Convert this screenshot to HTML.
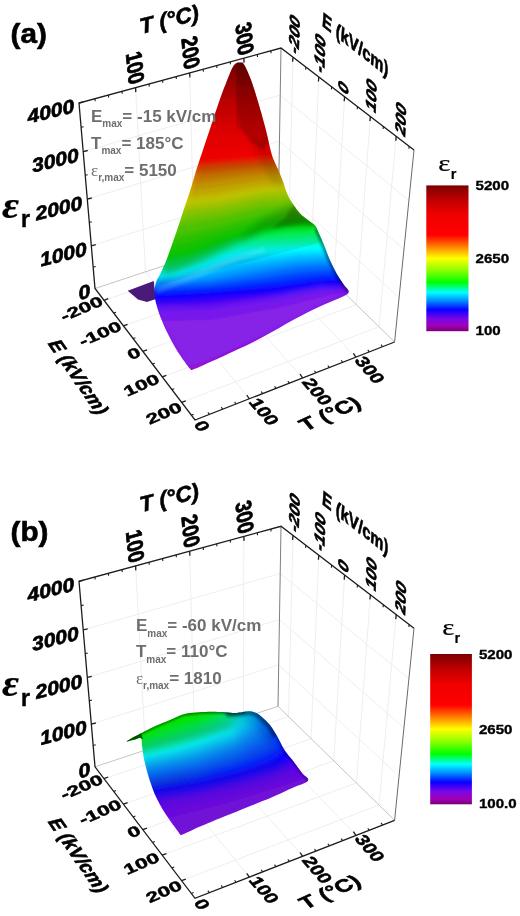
<!DOCTYPE html><html><head><meta charset="utf-8"><title>figure</title><style>html,body{margin:0;padding:0;background:#fff}svg{display:block}</style></head><body>
<svg width="520" height="916" viewBox="0 0 520 916">
<defs><filter id="blur1" x="-5%" y="-5%" width="110%" height="110%"><feGaussianBlur stdDeviation="1.0"/></filter><filter id="blur3" x="-20%" y="-20%" width="140%" height="140%"><feGaussianBlur stdDeviation="3"/></filter><filter id="blur2" x="-20%" y="-20%" width="140%" height="140%"><feGaussianBlur stdDeviation="1.8"/></filter></defs>
<rect width="100%" height="100%" fill="#fff"/>
<line x1="135.6" y1="87.6" x2="145.5" y2="271.8" stroke="#ececec" stroke-width="0.9" />
<line x1="145.5" y1="271.8" x2="249.3" y2="398.8" stroke="#ececec" stroke-width="0.9" />
<line x1="189.7" y1="72.9" x2="194.5" y2="255.6" stroke="#ececec" stroke-width="0.9" />
<line x1="194.5" y1="255.6" x2="302.6" y2="378.0" stroke="#ececec" stroke-width="0.9" />
<line x1="243.8" y1="58.1" x2="243.4" y2="239.4" stroke="#ececec" stroke-width="0.9" />
<line x1="243.4" y1="239.4" x2="355.9" y2="357.1" stroke="#ececec" stroke-width="0.9" />
<line x1="79.0" y1="103.0" x2="281.0" y2="48.0" stroke="#ececec" stroke-width="0.9" />
<line x1="281.0" y1="48.0" x2="414.0" y2="150.0" stroke="#ececec" stroke-width="0.9" />
<line x1="83.2" y1="151.6" x2="280.2" y2="95.2" stroke="#ececec" stroke-width="0.9" />
<line x1="280.2" y1="95.2" x2="408.9" y2="200.3" stroke="#ececec" stroke-width="0.9" />
<line x1="87.3" y1="199.1" x2="279.4" y2="141.2" stroke="#ececec" stroke-width="0.9" />
<line x1="279.4" y1="141.2" x2="404.0" y2="249.5" stroke="#ececec" stroke-width="0.9" />
<line x1="91.3" y1="245.8" x2="278.7" y2="186.6" stroke="#ececec" stroke-width="0.9" />
<line x1="278.7" y1="186.6" x2="399.1" y2="297.8" stroke="#ececec" stroke-width="0.9" />
<line x1="293.0" y1="57.2" x2="288.5" y2="238.3" stroke="#ececec" stroke-width="0.9" />
<line x1="288.5" y1="238.3" x2="104.0" y2="300.4" stroke="#ececec" stroke-width="0.9" />
<line x1="318.8" y1="77.0" x2="311.1" y2="260.4" stroke="#ececec" stroke-width="0.9" />
<line x1="311.1" y1="260.4" x2="123.4" y2="325.9" stroke="#ececec" stroke-width="0.9" />
<line x1="344.6" y1="96.8" x2="333.8" y2="282.5" stroke="#ececec" stroke-width="0.9" />
<line x1="333.8" y1="282.5" x2="142.8" y2="351.4" stroke="#ececec" stroke-width="0.9" />
<line x1="370.4" y1="116.6" x2="356.4" y2="304.6" stroke="#ececec" stroke-width="0.9" />
<line x1="356.4" y1="304.6" x2="162.2" y2="376.9" stroke="#ececec" stroke-width="0.9" />
<line x1="396.2" y1="136.3" x2="379.0" y2="326.7" stroke="#ececec" stroke-width="0.9" />
<line x1="379.0" y1="326.7" x2="181.6" y2="402.4" stroke="#ececec" stroke-width="0.9" />
<line x1="95.0" y1="288.5" x2="278.0" y2="228.0" stroke="#c4c4c4" stroke-width="1" />
<line x1="278.0" y1="228.0" x2="394.6" y2="342.0" stroke="#c4c4c4" stroke-width="1" />
<line x1="281.0" y1="48.0" x2="278.0" y2="228.0" stroke="#808080" stroke-width="1" />
<line x1="414.0" y1="150.0" x2="394.6" y2="342.0" stroke="#6a6a6a" stroke-width="1.0" />
<path d="M127.7,290.8 L153.7,281 L156,299 L147,302 L138,299.4Z" fill="#4a1a7a"/>
<clipPath id="saclip"><path d="M236.5,63l0.6-0.3l0.6-0.2l0.5-0.1l0.6,0l0.6,0.1l0.6,0.1l0.6,0l0.6-0.1l0.5-0.1l0.7,0.2l0.7,0.6l0.9,1.2l1.1,1.9l1.2,2.5l1.4,2.9l1.3,3.2l1.4,3.4l1.3,3.4l1.2,3.5l1.2,3.7l1.2,3.8l1.2,4l1.2,4l1.2,4.1l1.2,4.2l1.3,4.3l1.2,4.4l1.2,4.5l1.2,4.3l1.1,4.3l1,4.2l1,4.3l0.9,4.2l0.9,4.1l1,3.8l1,3.6l1.1,3.3l1.3,3l1.2,2.7l1.3,2.7l1.2,2.4l1,2.4l0.9,2.2l0.8,2l0.7,1.9l0.7,1.7l0.7,1.8l0.7,1.9l0.7,2l0.6,1.9l0.6,2l0.7,2l0.7,1.9l0.7,1.8l0.8,1.7l0.9,1.6l0.9,1.6l0.9,1.5l1,1.5l1,1.5l1,1.6l1.1,1.5l1.1,1.6l1.1,1.5l1.1,1.4l1.2,1.4l1.2,1.2l1.3,1.2l1.3,1.1l1.3,1l1.3,1.1l1.3,1l1.3,1l1.4,0.9l1.4,0.9l1.3,1l1.2,0.9l1.1,1.1l0.8,1.1l0.7,1.2l0.6,1.2l0.5,1.3l0.6,1.3l0.6,1.5l0.7,1.6l0.8,1.6l0.8,1.7l0.8,1.8l0.8,2l0.9,2.1l0.9,2.3l1,2.5l1,2.7l1,2.7l1.1,2.7l1.1,2.7l1.2,2.7l1.3,2.7l1.3,2.7l1.4,2.7l1.3,2.5l1.3,2.3l1.2,2.1l1.3,1.9l1.2,1.8l1.1,1.7l1.1,1.5l1,1.4l1,1.3l1,1.1l0.9,1l0.7,0.9l0.5,0.8l0.2,0.9l-0.1,0.8l-0.2,0.7l-0.4,0.6l-0.8,0.7l-1.3,0.8l-1.9,1l-2.6,1.3l-3.4,1.4l-3.8,1.6l-4.1,1.7l-4.1,1.7l-4,1.8l-3.8,1.8l-3.6,1.7l-3.8,1.8l-3.9,1.9l-4.3,2.3l-4.9,2.5l-5.6,3.1l-6.3,3.5l-6.7,3.8l-6.8,3.8l-6.4,3.6l-5.9,3.2l-5.3,2.7l-4.9,2.5l-4.7,2.2l-4.5,2.1l-4.3,2l-4.3,2l-4.2,2l-4.1,1.9l-3.9,1.8l-3.8,1.7l-3.6,1.6l-3.4,1.5l-3.2,1.5l-3.1,1.4l-3,1.3l-2.6,1.2l-2.3,0.9l-1.8,0.7l-1.2,0.4l-0.6,0.2l-0.2,0l-0.1-0.2l-0.2-0.4l-0.4-0.5l-0.7-0.7l-0.7-0.8l-0.8-1l-0.9-1.2l-1.1-1.4l-1.1-1.6l-1.3-1.8l-1.5-2.1l-1.5-2.3l-1.6-2.4l-1.7-2.5l-1.6-2.7l-1.6-2.8l-1.7-3l-1.7-3.2l-1.7-3.2l-1.6-3.2l-1.5-3.1l-1.4-3.1l-1.4-3.2l-1.3-3.1l-1.3-3.2l-1.1-3l-1-2.9l-0.9-2.8l-0.8-2.7l-0.7-2.6l-0.6-2.5l-0.4-2.5l-0.3-2.4l-0.1-2.4l-0.1-2.2l0.2-2.3l0.2-2.1l0.4-2.1l0.4-1.9l0.6-1.7l0.6-1.6l0.8-1.4l0.9-1.5l0.9-1.5l0.9-1.8l0.9-2l1-2.1l1-2.3l1.1-2.3l1-2.4l1-2.4l0.9-2.4l1-2.5l0.8-2.6l0.9-2.6l1-2.6l0.9-2.7l1-2.8l1-2.8l1-2.9l1-2.9l1-2.9l1-3l1-3l1-3.1l1-3l1-3.1l1-3.2l1-3.1l1.1-3.1l1-3.2l1.1-3.1l1.1-3.2l1.1-3.3l1.1-3.3l1.1-3.4l1-3.6l1.1-3.7l1-3.6l1.1-3.5l1-3.3l1-3l0.9-2.8l0.9-2.6l0.9-2.8l1-2.9l1.1-3.4l1.3-3.8l1.4-4.2l1.5-4.5l1.5-4.5l1.5-4.6l1.5-4.4l1.5-4.4l1.4-4.5l1.5-4.5l1.5-4.4l1.4-4.2l1.4-4l1.4-3.8l1.3-3.6l1.3-3.5l1.3-3.2l1.2-3.1l1.1-2.8l1-2.6l1-2.3l0.8-2.1l0.9-1.9l0.7-1.7l0.8-1.4l0.7-1.2l0.7-0.9l0.6-0.6l0.5-0.5l0.6-0.4Z"/></clipPath>
<g clip-path="url(#saclip)"><g filter="url(#blur1)">
<rect x="145" y="55" width="210" height="325" fill="#8905d2"/>
<path d="M145,55l2,0l2,0l2,0l2,0l2,0l2,0l2,0l2,0l2,0l2,0l2,0l2,0l2,0l2,0l2,0l2,0l2,0l2,0l2,0l2,0l2,0l2,0l2,0l2,0l2,0l2,0l2,0l2,0l2,0l2,0l2,0l2,0l2,0l2,0l2,0l2,0l2,0l2,0l2,0l2,0l2,0l2,0l2,0l2,0l2,0l2,0l2,0l2,0l2,0l2,0l2,0l2,0l2,0l2,0l2,0l2,0l2,0l2,0l2,0l2,0l2,0l2,0l2,0l2,0l2,0l2,0l2,0l2,0l2,0l2,0l2,0l2,0l2,0l2,0l2,0l2,0l2,0l2,0l2,0l2,0l2,0l2,0l2,0l2,0l2,0l2,0l2,0l2,0l2,0l2,0l2,0l2,0l2,0l2,0l2,0l2,0l2,0l2,0l2,0l2,0l2,0l2,0l2,0l2,0l2,0l0,2l0,2l0,2l0,2l0,2l0,2l0,2l0,2l0,2l0,2l0,2l0,2l0,2l0,2l0,2l0,2l0,2l0,2l0,2l0,2l0,2l0,2l0,2l0,2l0,2l0,2l0,2l0,2l0,2l0,2l0,2l0,2l0,2l0,2l0,2l0,2l0,2l0,2l0,2l0,2l0,2l0,2l0,2l0,2l0,2l0,2l0,2l0,2l0,2l0,2l0,2l0,2l0,2l0,2l0,2l0,2l0,2l0,2l0,2l0,2l0,2l0,2l0,2l0,2l0,2l0,2l0,2l0,2l0,2l0,2l0,2l0,2l0,2l0,2l0,2l0,2l0,2l0,2l0,2l0,2l0,2l0,2l0,2l0,2l0,2l0,2l0,2l0,2l0,2l0,2l0,2l0,2l0,2l0,2l0,2l0,2l0,2l0,2l0,2l0,2l0,2l0,2l0,2l0,2l0,2l0,2l0,2l0,2l0,2l0,2l0,2l0,2l0,2l0,2l0,2l0,2l0,2l0,2l0,2l0,2l0,2l-1,1.1l-1.9-0.1l-2.1,0.1l-2,0.5l-2,0.7l-1.9,0.7l-2.1,0.8l-2,0.7l-2,0.8l-1.6,0.7l-1.4,0.6l-2,0.9l-2,0.8l-1.7,0.7l-2.2,1l-2.1,0.9l-2,0.8l-2,0.9l-2,0.9l-2,0.9l-1.6,0.6l-1.4,0.6l-2,0.9l-2,0.9l-2,0.9l-1.5,0.7l-1.5,0.7l-2,0.9l-2,0.9l-2,0.8l-1.5,0.7l-1.5,0.7l-2,1l-2,1l-2,1l-2,1l-2,0.9l-2,0.9l-2,1l-2,0.9l-2,0.9l-1.6,0.7l-1.4,0.7l-2,0.9l-2,1l-2,1l-2,1l-2,0.9l-2,1l-2,0.9l-2,0.9l-1.6,0.7l-2.3,1l-2.1,1l-2,0.9l-2,0.9l-2,0.9l-2,0.9l-2,0.8l-1.5,0.6l-1.5,0.6l-2,0.9l-2,0.9l-2,0.9l-1.5,0.7l-1.5,0.7l-2,0.9l-2,0.9l-2,0.8l-1.7,0.7l-2.3,1l-2,0.9l-2,0.8l-2,0.8l-2,0.8l-1.5,0.7l-1.5,0.7l-2,0.8l-1.7,0.5l-2.3,0.7l-2,0.5l-2,0.6l-2,0.6l-2,0.6l-2,0.5l-1.6,0.5l-2.4,0.7l-2,0.5l-2,0.6l-2,0.5l-2,0.6l-2,0.8l-2,0.9l-2,1l-2,1l-2,1.1l-2,1l-2,1.1l-2,1.1l-1.9,1.1l-1.5,1l-1.1,1l-1.5,1l-2,0l-2,0l-2,0l-2,0l-2,0l-2,0l-2,0l-1-1l0-2l0-2l0-2l0-2l0-2l0-2l0-2l0-2l0-2l0-2l0-2l0-2l0-2l0-2l0-2l0-2l0-2l0-2l0-2l0-2l0-2l0-2l0-2l0-2l0-2l0-2l0-2l0-2l0-2l0-2l0-2l0-2l0-2l0-2l0-2l0-2l0-2l0-2l0-2l0-2l0-2l0-2l0-2l0-2l0-2l0-2l0-2l0-2l0-2l0-2l0-2l0-2l0-2l0-2l0-2l0-2l0-2l0-2l0-2l0-2l0-2l0-2l0-2l0-2l0-2l0-2l0-2l0-2l0-2l0-2l0-2l0-2l0-2l0-2l0-2l0-2l0-2l0-2l0-2l0-2l0-2l0-2l0-2l0-2l0-2l0-2l0-2l0-2l0-2l0-2l0-2l0-2l0-2l0-2l0-2l0-2l0-2l0-2l0-2l0-2l0-2l0-2l0-2l0-2l0-2l0-2l0-2l0-2l0-2l0-2l0-2l0-2l0-2l0-2l0-2l0-2l0-2l0-2l0-2l0-2l0-2l0-2l0-2l0-2l0-2l0-2l0-2l0-2l0-2l0-2l0-2l0-2l0-2l0-2l0-2l0-2l0-2l0-2l0-2l0-2l0-2l0-2l0-2l0-2l0-2l0-2l0-2l0-2l0-2l0-2l0-2l0-2l0-2l0-2l0-2l0-2l0-2l0-2l0-2l0-2l0-2l0-2Z" fill="#7b07e5"/>
<path d="M145,55l2,0l2,0l2,0l2,0l2,0l2,0l2,0l2,0l2,0l2,0l2,0l2,0l2,0l2,0l2,0l2,0l2,0l2,0l2,0l2,0l2,0l2,0l2,0l2,0l2,0l2,0l2,0l2,0l2,0l2,0l2,0l2,0l2,0l2,0l2,0l2,0l2,0l2,0l2,0l2,0l2,0l2,0l2,0l2,0l2,0l2,0l2,0l2,0l2,0l2,0l2,0l2,0l2,0l2,0l2,0l2,0l2,0l2,0l2,0l2,0l2,0l2,0l2,0l2,0l2,0l2,0l2,0l2,0l2,0l2,0l2,0l2,0l2,0l2,0l2,0l2,0l2,0l2,0l2,0l2,0l2,0l2,0l2,0l2,0l2,0l2,0l2,0l2,0l2,0l2,0l2,0l2,0l2,0l2,0l2,0l2,0l2,0l2,0l2,0l2,0l2,0l2,0l2,0l2,0l2,0l0,2l0,2l0,2l0,2l0,2l0,2l0,2l0,2l0,2l0,2l0,2l0,2l0,2l0,2l0,2l0,2l0,2l0,2l0,2l0,2l0,2l0,2l0,2l0,2l0,2l0,2l0,2l0,2l0,2l0,2l0,2l0,2l0,2l0,2l0,2l0,2l0,2l0,2l0,2l0,2l0,2l0,2l0,2l0,2l0,2l0,2l0,2l0,2l0,2l0,2l0,2l0,2l0,2l0,2l0,2l0,2l0,2l0,2l0,2l0,2l0,2l0,2l0,2l0,2l0,2l0,2l0,2l0,2l0,2l0,2l0,2l0,2l0,2l0,2l0,2l0,2l0,2l0,2l0,2l0,2l0,2l0,2l0,2l0,2l0,2l0,2l0,2l0,2l0,2l0,2l0,2l0,2l0,2l0,2l0,2l0,2l0,2l0,2l0,2l0,2l0,2l0,2l0,2l0,2l0,2l0,2l0,2l0,2l0,2l0,2l0,2l0,2l0,2l0,2l0,2l0,2l0,2l-1,1.6l-1.7,0.4l-2.3,0.6l-2,0.4l-2,0.4l-2,0.3l-2,0.4l-2,0.3l-2,0.4l-2,0.3l-2,0.3l-2,0.4l-2,0.3l-2,0.4l-2,0.5l-2,0.4l-2,0.5l-2,0.5l-2,0.4l-2,0.5l-2,0.5l-2,0.5l-2,0.5l-2,0.5l-2,0.4l-2,0.5l-2,0.5l-2,0.5l-2,0.5l-2,0.5l-2,0.5l-2,0.5l-2,0.5l-2,0.5l-2,0.5l-2,0.4l-2,0.5l-2,0.5l-2,0.5l-2,0.4l-2,0.3l-2,0.4l-1.9,0.3l-2.1,0.4l-2,0.3l-2,0.4l-2,0.3l-2,0.4l-2,0.3l-2,0.3l-2,0.4l-2,0.3l-2,0.4l-2,0.3l-2,0.4l-2,0.3l-2,0.4l-2,0.4l-2,0.3l-2,0.4l-2,0.4l-2,0.3l-2,0.4l-2,0.4l-2,0.4l-2,0.3l-2,0.4l-2,0.4l-2,0.3l-2,0.4l-2,0.4l-2,0.3l-2,0.3l-2,0.2l-2,0l-2,0l-2,0.1l-2,0l-2,0l-2,0l-2,0l-2,0l-2,0.1l-2,0l-2,0l-2,0.1l-2,0l-2,0l-2,0l-2,0.1l-2,0l-2,0l-2,0l-2,0.1l-2,0l-2,0l-2,0.1l-2,0.1l-2,0.2l-2,0.4l-2,0.6l-2,0.7l-2,0.7l-2,0.6l-2,0.5l-1-1.3l0-2l0-2l0-2l0-2l0-2l0-2l0-2l0-2l0-2l0-2l0-2l0-2l0-2l0-2l0-2l0-2l0-2l0-2l0-2l0-2l0-2l0-2l0-2l0-2l0-2l0-2l0-2l0-2l0-2l0-2l0-2l0-2l0-2l0-2l0-2l0-2l0-2l0-2l0-2l0-2l0-2l0-2l0-2l0-2l0-2l0-2l0-2l0-2l0-2l0-2l0-2l0-2l0-2l0-2l0-2l0-2l0-2l0-2l0-2l0-2l0-2l0-2l0-2l0-2l0-2l0-2l0-2l0-2l0-2l0-2l0-2l0-2l0-2l0-2l0-2l0-2l0-2l0-2l0-2l0-2l0-2l0-2l0-2l0-2l0-2l0-2l0-2l0-2l0-2l0-2l0-2l0-2l0-2l0-2l0-2l0-2l0-2l0-2l0-2l0-2l0-2l0-2l0-2l0-2l0-2l0-2l0-2l0-2l0-2l0-2l0-2l0-2l0-2l0-2l0-2l0-2l0-2l0-2l0-2l0-2l0-2l0-2l0-2l0-2l0-2l0-2l0-2l0-2l0-2l0-2l0-2l0-2l0-2l0-2Z" fill="#6b06eb"/>
<path d="M145,55l2,0l2,0l2,0l2,0l2,0l2,0l2,0l2,0l2,0l2,0l2,0l2,0l2,0l2,0l2,0l2,0l2,0l2,0l2,0l2,0l2,0l2,0l2,0l2,0l2,0l2,0l2,0l2,0l2,0l2,0l2,0l2,0l2,0l2,0l2,0l2,0l2,0l2,0l2,0l2,0l2,0l2,0l2,0l2,0l2,0l2,0l2,0l2,0l2,0l2,0l2,0l2,0l2,0l2,0l2,0l2,0l2,0l2,0l2,0l2,0l2,0l2,0l2,0l2,0l2,0l2,0l2,0l2,0l2,0l2,0l2,0l2,0l2,0l2,0l2,0l2,0l2,0l2,0l2,0l2,0l2,0l2,0l2,0l2,0l2,0l2,0l2,0l2,0l2,0l2,0l2,0l2,0l2,0l2,0l2,0l2,0l2,0l2,0l2,0l2,0l2,0l2,0l2,0l2,0l2,0l0,2l0,2l0,2l0,2l0,2l0,2l0,2l0,2l0,2l0,2l0,2l0,2l0,2l0,2l0,2l0,2l0,2l0,2l0,2l0,2l0,2l0,2l0,2l0,2l0,2l0,2l0,2l0,2l0,2l0,2l0,2l0,2l0,2l0,2l0,2l0,2l0,2l0,2l0,2l0,2l0,2l0,2l0,2l0,2l0,2l0,2l0,2l0,2l0,2l0,2l0,2l0,2l0,2l0,2l0,2l0,2l0,2l0,2l0,2l0,2l0,2l0,2l0,2l0,2l0,2l0,2l0,2l0,2l0,2l0,2l0,2l0,2l0,2l0,2l0,2l0,2l0,2l0,2l0,2l0,2l0,2l0,2l0,2l0,2l0,2l0,2l0,2l0,2l0,2l0,2l0,2l0,2l0,2l0,2l0,2l0,2l0,2l0,2l0,2l0,2l0,2l0,2l0,2l0,2l0,2l0,2l0,2l0,2l0,2l0,2l0,2l0,2l0,2l0,2l0,2l-1,1.5l-2,0.9l-2,1l-1.7,0.6l-2.3,0.5l-2,0.3l-2,0.3l-2,0.2l-2,0.3l-2,0.2l-2,0.3l-2,0.2l-2,0.3l-2,0.2l-2,0.3l-2,0.3l-2,0.3l-1.8,0.3l-2.2,0.4l-2,0.4l-2,0.3l-2,0.4l-2,0.3l-2,0.4l-2,0.4l-2,0.3l-2,0.4l-2,0.3l-1.9,0.4l-2.1,0.4l-2,0.4l-2,0.4l-2,0.4l-2,0.4l-2,0.4l-2,0.3l-2,0.4l-2,0.4l-2,0.4l-2,0.3l-2,0.2l-2,0.3l-2,0.2l-2,0.2l-2,0.3l-2,0.2l-2,0.2l-2,0.3l-2,0.2l-2,0.2l-2,0.3l-2,0.2l-2,0.2l-2,0.3l-2,0.2l-2,0.2l-2,0.3l-2,0.3l-2,0.2l-2,0.3l-2,0.3l-2,0.2l-2,0.3l-2,0.3l-2,0.2l-2,0.3l-2,0.3l-2,0.2l-2,0.3l-2,0.3l-2,0.3l-2,0.2l-2,0.3l-2,0.2l-2,0.1l-2,0.1l-2,0.1l-2,0.1l-2,0l-2,0.1l-2,0.2l-2,0.1l-2,0.1l-2,0.1l-2,0.1l-2,0.1l-2,0.1l-2,0.1l-2,0.1l-2,0.1l-2,0.1l-2,0.1l-2,0.1l-2,0.1l-2,0.2l-2,0.1l-2,0.1l-2,0.1l-2,0.1l-2,0.3l-2,0.3l-2,0.6l-2,0.7l-2,0.7l-2,0.5l-1-1.4l0-2l0-2l0-2l0-2l0-2l0-2l0-2l0-2l0-2l0-2l0-2l0-2l0-2l0-2l0-2l0-2l0-2l0-2l0-2l0-2l0-2l0-2l0-2l0-2l0-2l0-2l0-2l0-2l0-2l0-2l0-2l0-2l0-2l0-2l0-2l0-2l0-2l0-2l0-2l0-2l0-2l0-2l0-2l0-2l0-2l0-2l0-2l0-2l0-2l0-2l0-2l0-2l0-2l0-2l0-2l0-2l0-2l0-2l0-2l0-2l0-2l0-2l0-2l0-2l0-2l0-2l0-2l0-2l0-2l0-2l0-2l0-2l0-2l0-2l0-2l0-2l0-2l0-2l0-2l0-2l0-2l0-2l0-2l0-2l0-2l0-2l0-2l0-2l0-2l0-2l0-2l0-2l0-2l0-2l0-2l0-2l0-2l0-2l0-2l0-2l0-2l0-2l0-2l0-2l0-2l0-2l0-2l0-2l0-2l0-2l0-2l0-2l0-2l0-2l0-2l0-2l0-2l0-2l0-2l0-2l0-2l0-2l0-2l0-2l0-2l0-2l0-2l0-2l0-2Z" fill="#5a03ef"/>
<path d="M145,55l2,0l2,0l2,0l2,0l2,0l2,0l2,0l2,0l2,0l2,0l2,0l2,0l2,0l2,0l2,0l2,0l2,0l2,0l2,0l2,0l2,0l2,0l2,0l2,0l2,0l2,0l2,0l2,0l2,0l2,0l2,0l2,0l2,0l2,0l2,0l2,0l2,0l2,0l2,0l2,0l2,0l2,0l2,0l2,0l2,0l2,0l2,0l2,0l2,0l2,0l2,0l2,0l2,0l2,0l2,0l2,0l2,0l2,0l2,0l2,0l2,0l2,0l2,0l2,0l2,0l2,0l2,0l2,0l2,0l2,0l2,0l2,0l2,0l2,0l2,0l2,0l2,0l2,0l2,0l2,0l2,0l2,0l2,0l2,0l2,0l2,0l2,0l2,0l2,0l2,0l2,0l2,0l2,0l2,0l2,0l2,0l2,0l2,0l2,0l2,0l2,0l2,0l2,0l2,0l2,0l0,2l0,2l0,2l0,2l0,2l0,2l0,2l0,2l0,2l0,2l0,2l0,2l0,2l0,2l0,2l0,2l0,2l0,2l0,2l0,2l0,2l0,2l0,2l0,2l0,2l0,2l0,2l0,2l0,2l0,2l0,2l0,2l0,2l0,2l0,2l0,2l0,2l0,2l0,2l0,2l0,2l0,2l0,2l0,2l0,2l0,2l0,2l0,2l0,2l0,2l0,2l0,2l0,2l0,2l0,2l0,2l0,2l0,2l0,2l0,2l0,2l0,2l0,2l0,2l0,2l0,2l0,2l0,2l0,2l0,2l0,2l0,2l0,2l0,2l0,2l0,2l0,2l0,2l0,2l0,2l0,2l0,2l0,2l0,2l0,2l0,2l0,2l0,2l0,2l0,2l0,2l0,2l0,2l0,2l0,2l0,2l0,2l0,2l0,2l0,2l0,2l0,2l0,2l0,2l0,2l0,2l0,2l0,2l0,2l0,2l0,2l0,2l0,2l-0.3,2l-1.7,0.5l-2,1.2l-2,1.3l-2,0.9l-2,0.5l-2,0.3l-2,0.2l-2,0.2l-2,0.3l-2,0.2l-2,0.2l-2,0.2l-2,0.2l-2,0.2l-2,0.2l-2,0.2l-2,0.3l-2,0.2l-2,0.3l-2,0.3l-2,0.4l-2,0.3l-2,0.3l-2,0.3l-2,0.3l-2,0.3l-2,0.3l-2,0.3l-2,0.4l-2,0.3l-2,0.3l-2,0.4l-2,0.3l-2,0.4l-2,0.3l-2,0.3l-2,0.4l-2,0.3l-2,0.3l-2,0.2l-2,0.2l-2,0.2l-2,0.2l-2,0.2l-2,0.1l-2,0.2l-2,0.2l-2,0.2l-2,0.2l-2,0.2l-2,0.2l-2,0.2l-2,0.1l-2,0.2l-2,0.2l-2,0.2l-2,0.2l-2,0.2l-2,0.2l-2,0.3l-2,0.2l-2,0.2l-2,0.2l-1.9,0.2l-2.1,0.2l-2,0.3l-2,0.2l-2,0.2l-2,0.2l-2,0.2l-2,0.2l-2,0.2l-2,0.2l-2,0.1l-2,0.2l-2,0.1l-2,0.2l-2,0.1l-2,0.1l-2,0.1l-2,0.2l-2,0.1l-2,0.2l-2,0.1l-2,0.1l-2,0.2l-2,0.1l-2,0.1l-2,0.1l-2,0.2l-2,0.1l-2,0.1l-2,0.2l-2,0.1l-2,0.1l-2,0.2l-2,0.1l-2,0.1l-2,0.2l-2,0.1l-2,0.2l-2,0.1l-2,0.2l-2,0.2l-2,0.1l0-2.3l0-2l0-2l0-2l0-2l0-2l0-2l0-2l0-2l0-2l0-2l0-2l0-2l0-2l0-2l0-2l0-2l0-2l0-2l0-2l0-2l0-2l0-2l0-2l0-2l0-2l0-2l0-2l0-2l0-2l0-2l0-2l0-2l0-2l0-2l0-2l0-2l0-2l0-2l0-2l0-2l0-2l0-2l0-2l0-2l0-2l0-2l0-2l0-2l0-2l0-2l0-2l0-2l0-2l0-2l0-2l0-2l0-2l0-2l0-2l0-2l0-2l0-2l0-2l0-2l0-2l0-2l0-2l0-2l0-2l0-2l0-2l0-2l0-2l0-2l0-2l0-2l0-2l0-2l0-2l0-2l0-2l0-2l0-2l0-2l0-2l0-2l0-2l0-2l0-2l0-2l0-2l0-2l0-2l0-2l0-2l0-2l0-2l0-2l0-2l0-2l0-2l0-2l0-2l0-2l0-2l0-2l0-2l0-2l0-2l0-2l0-2l0-2l0-2l0-2l0-2l0-2l0-2l0-2l0-2l0-2l0-2l0-2l0-2l0-2l0-2Z" fill="#4d01f3"/>
<path d="M145,55l2,0l2,0l2,0l2,0l2,0l2,0l2,0l2,0l2,0l2,0l2,0l2,0l2,0l2,0l2,0l2,0l2,0l2,0l2,0l2,0l2,0l2,0l2,0l2,0l2,0l2,0l2,0l2,0l2,0l2,0l2,0l2,0l2,0l2,0l2,0l2,0l2,0l2,0l2,0l2,0l2,0l2,0l2,0l2,0l2,0l2,0l2,0l2,0l2,0l2,0l2,0l2,0l2,0l2,0l2,0l2,0l2,0l2,0l2,0l2,0l2,0l2,0l2,0l2,0l2,0l2,0l2,0l2,0l2,0l2,0l2,0l2,0l2,0l2,0l2,0l2,0l2,0l2,0l2,0l2,0l2,0l2,0l2,0l2,0l2,0l2,0l2,0l2,0l2,0l2,0l2,0l2,0l2,0l2,0l2,0l2,0l2,0l2,0l2,0l2,0l2,0l2,0l2,0l2,0l2,0l0,2l0,2l0,2l0,2l0,2l0,2l0,2l0,2l0,2l0,2l0,2l0,2l0,2l0,2l0,2l0,2l0,2l0,2l0,2l0,2l0,2l0,2l0,2l0,2l0,2l0,2l0,2l0,2l0,2l0,2l0,2l0,2l0,2l0,2l0,2l0,2l0,2l0,2l0,2l0,2l0,2l0,2l0,2l0,2l0,2l0,2l0,2l0,2l0,2l0,2l0,2l0,2l0,2l0,2l0,2l0,2l0,2l0,2l0,2l0,2l0,2l0,2l0,2l0,2l0,2l0,2l0,2l0,2l0,2l0,2l0,2l0,2l0,2l0,2l0,2l0,2l0,2l0,2l0,2l0,2l0,2l0,2l0,2l0,2l0,2l0,2l0,2l0,2l0,2l0,2l0,2l0,2l0,2l0,2l0,2l0,2l0,2l0,2l0,2l0,2l0,2l0,2l0,2l0,2l0,2l0,2l0,2l0,2l0,2l0,2l0,2l0,2l0,2l-2,0.9l-2,1.1l-1.3,1l-1.3,1l-1.4,0.7l-2,0.7l-2,0.3l-2,0.2l-2,0.2l-2,0.2l-2,0.2l-2,0.2l-2,0.2l-2,0.2l-2,0.2l-2,0.2l-2,0.2l-2,0.2l-2,0.3l-2,0.3l-2,0.3l-2,0.3l-2,0.3l-2,0.3l-2,0.3l-2,0.3l-2,0.3l-2,0.3l-2,0.3l-2,0.3l-2,0.4l-2,0.3l-2,0.3l-2,0.3l-2,0.4l-2,0.3l-2,0.3l-2,0.3l-2,0.3l-2,0.3l-2,0.2l-2,0.2l-2,0.2l-2,0.2l-2,0.2l-2,0.2l-2,0.1l-2,0.2l-2,0.2l-2,0.2l-2,0.2l-2,0.1l-2,0.2l-2,0.2l-2,0.2l-2,0.2l-2,0.2l-2,0.2l-2,0.2l-2,0.2l-2,0.2l-2,0.2l-2,0.2l-2,0.2l-2,0.2l-2,0.2l-2,0.2l-2,0.2l-2,0.2l-2,0.2l-2,0.2l-2,0.2l-2,0.2l-2,0.2l-2,0.1l-2,0.2l-2,0.1l-2,0.1l-2,0.2l-2,0.1l-2,0.1l-2,0.2l-2,0.1l-2,0.1l-2,0.2l-2,0.1l-2,0.1l-2,0.2l-2,0.1l-2,0.1l-2,0.2l-2,0.1l-2,0.1l-2,0.1l-2,0.2l-2,0.1l-2,0.1l-2,0.2l-2,0.1l-2,0.1l-2,0.2l-2,0.1l-2,0.2l-2,0.2l-2,0.2l-2,0.1l0-2.7l0-2l0-2l0-2l0-2l0-2l0-2l0-2l0-2l0-2l0-2l0-2l0-2l0-2l0-2l0-2l0-2l0-2l0-2l0-2l0-2l0-2l0-2l0-2l0-2l0-2l0-2l0-2l0-2l0-2l0-2l0-2l0-2l0-2l0-2l0-2l0-2l0-2l0-2l0-2l0-2l0-2l0-2l0-2l0-2l0-2l0-2l0-2l0-2l0-2l0-2l0-2l0-2l0-2l0-2l0-2l0-2l0-2l0-2l0-2l0-2l0-2l0-2l0-2l0-2l0-2l0-2l0-2l0-2l0-2l0-2l0-2l0-2l0-2l0-2l0-2l0-2l0-2l0-2l0-2l0-2l0-2l0-2l0-2l0-2l0-2l0-2l0-2l0-2l0-2l0-2l0-2l0-2l0-2l0-2l0-2l0-2l0-2l0-2l0-2l0-2l0-2l0-2l0-2l0-2l0-2l0-2l0-2l0-2l0-2l0-2l0-2l0-2l0-2l0-2l0-2l0-2l0-2l0-2l0-2l0-2l0-2l0-2l0-2l0-2Z" fill="#4500f5"/>
<path d="M145,55l2,0l2,0l2,0l2,0l2,0l2,0l2,0l2,0l2,0l2,0l2,0l2,0l2,0l2,0l2,0l2,0l2,0l2,0l2,0l2,0l2,0l2,0l2,0l2,0l2,0l2,0l2,0l2,0l2,0l2,0l2,0l2,0l2,0l2,0l2,0l2,0l2,0l2,0l2,0l2,0l2,0l2,0l2,0l2,0l2,0l2,0l2,0l2,0l2,0l2,0l2,0l2,0l2,0l2,0l2,0l2,0l2,0l2,0l2,0l2,0l2,0l2,0l2,0l2,0l2,0l2,0l2,0l2,0l2,0l2,0l2,0l2,0l2,0l2,0l2,0l2,0l2,0l2,0l2,0l2,0l2,0l2,0l2,0l2,0l2,0l2,0l2,0l2,0l2,0l2,0l2,0l2,0l2,0l2,0l2,0l2,0l2,0l2,0l2,0l2,0l2,0l2,0l2,0l2,0l2,0l0,2l0,2l0,2l0,2l0,2l0,2l0,2l0,2l0,2l0,2l0,2l0,2l0,2l0,2l0,2l0,2l0,2l0,2l0,2l0,2l0,2l0,2l0,2l0,2l0,2l0,2l0,2l0,2l0,2l0,2l0,2l0,2l0,2l0,2l0,2l0,2l0,2l0,2l0,2l0,2l0,2l0,2l0,2l0,2l0,2l0,2l0,2l0,2l0,2l0,2l0,2l0,2l0,2l0,2l0,2l0,2l0,2l0,2l0,2l0,2l0,2l0,2l0,2l0,2l0,2l0,2l0,2l0,2l0,2l0,2l0,2l0,2l0,2l0,2l0,2l0,2l0,2l0,2l0,2l0,2l0,2l0,2l0,2l0,2l0,2l0,2l0,2l0,2l0,2l0,2l0,2l0,2l0,2l0,2l0,2l0,2l0,2l0,2l0,2l0,2l0,2l0,2l0,2l0,2l0,2l0,2l0,2l0,2l0,2l0,2l0,2l0,2l-1,1.2l-2,0.7l-1.8,1.1l-1.2,1l-1.2,1l-1.8,1l-2,0.5l-2,0.3l-2,0.2l-2,0.2l-2,0.2l-2,0.2l-2,0.2l-2,0.2l-2,0.2l-2,0.2l-2,0.2l-2,0.2l-2,0.2l-2,0.3l-2,0.3l-2,0.2l-2,0.4l-2,0.3l-2,0.3l-2,0.3l-2,0.3l-2,0.3l-2,0.3l-2,0.3l-2,0.3l-2,0.3l-2,0.3l-2,0.3l-2,0.3l-2,0.4l-2,0.3l-2,0.3l-2,0.3l-2,0.3l-2,0.2l-2,0.2l-2,0.2l-2,0.2l-2,0.2l-2,0.2l-2,0.1l-2,0.2l-2,0.2l-2,0.2l-2,0.1l-2,0.2l-2,0.2l-2,0.2l-2,0.1l-2,0.2l-2,0.2l-2,0.2l-2,0.2l-2,0.2l-2,0.2l-2,0.2l-2,0.2l-2,0.2l-2,0.2l-2,0.2l-2,0.2l-2,0.2l-2,0.2l-2,0.2l-2,0.2l-2,0.2l-2,0.1l-2,0.2l-2,0.2l-2,0.1l-2,0.1l-2,0.2l-2,0.1l-2,0.1l-2,0.1l-2,0.2l-2,0.1l-2,0.1l-2,0.2l-2,0.1l-2,0.1l-2,0.2l-2,0.1l-2,0.1l-2,0.1l-2,0.2l-2,0.1l-2,0.1l-2,0.1l-2,0.2l-2,0.1l-2,0.1l-2,0.1l-2,0.2l-2,0.1l-2,0.2l-2,0.2l-2,0.2l-2,0.3l-2,0.1l-1-1.3l0-2l0-2l0-2l0-2l0-2l0-2l0-2l0-2l0-2l0-2l0-2l0-2l0-2l0-2l0-2l0-2l0-2l0-2l0-2l0-2l0-2l0-2l0-2l0-2l0-2l0-2l0-2l0-2l0-2l0-2l0-2l0-2l0-2l0-2l0-2l0-2l0-2l0-2l0-2l0-2l0-2l0-2l0-2l0-2l0-2l0-2l0-2l0-2l0-2l0-2l0-2l0-2l0-2l0-2l0-2l0-2l0-2l0-2l0-2l0-2l0-2l0-2l0-2l0-2l0-2l0-2l0-2l0-2l0-2l0-2l0-2l0-2l0-2l0-2l0-2l0-2l0-2l0-2l0-2l0-2l0-2l0-2l0-2l0-2l0-2l0-2l0-2l0-2l0-2l0-2l0-2l0-2l0-2l0-2l0-2l0-2l0-2l0-2l0-2l0-2l0-2l0-2l0-2l0-2l0-2l0-2l0-2l0-2l0-2l0-2l0-2l0-2l0-2l0-2l0-2l0-2l0-2l0-2l0-2l0-2l0-2l0-2l0-2l0-2Z" fill="#3500f7"/>
<path d="M145,55l2,0l2,0l2,0l2,0l2,0l2,0l2,0l2,0l2,0l2,0l2,0l2,0l2,0l2,0l2,0l2,0l2,0l2,0l2,0l2,0l2,0l2,0l2,0l2,0l2,0l2,0l2,0l2,0l2,0l2,0l2,0l2,0l2,0l2,0l2,0l2,0l2,0l2,0l2,0l2,0l2,0l2,0l2,0l2,0l2,0l2,0l2,0l2,0l2,0l2,0l2,0l2,0l2,0l2,0l2,0l2,0l2,0l2,0l2,0l2,0l2,0l2,0l2,0l2,0l2,0l2,0l2,0l2,0l2,0l2,0l2,0l2,0l2,0l2,0l2,0l2,0l2,0l2,0l2,0l2,0l2,0l2,0l2,0l2,0l2,0l2,0l2,0l2,0l2,0l2,0l2,0l2,0l2,0l2,0l2,0l2,0l2,0l2,0l2,0l2,0l2,0l2,0l2,0l2,0l2,0l0,2l0,2l0,2l0,2l0,2l0,2l0,2l0,2l0,2l0,2l0,2l0,2l0,2l0,2l0,2l0,2l0,2l0,2l0,2l0,2l0,2l0,2l0,2l0,2l0,2l0,2l0,2l0,2l0,2l0,2l0,2l0,2l0,2l0,2l0,2l0,2l0,2l0,2l0,2l0,2l0,2l0,2l0,2l0,2l0,2l0,2l0,2l0,2l0,2l0,2l0,2l0,2l0,2l0,2l0,2l0,2l0,2l0,2l0,2l0,2l0,2l0,2l0,2l0,2l0,2l0,2l0,2l0,2l0,2l0,2l0,2l0,2l0,2l0,2l0,2l0,2l0,2l0,2l0,2l0,2l0,2l0,2l0,2l0,2l0,2l0,2l0,2l0,2l0,2l0,2l0,2l0,2l0,2l0,2l0,2l0,2l0,2l0,2l0,2l0,2l0,2l0,2l0,2l0,2l0,2l0,2l0,2l0,2l0,2l0,2l0,2l-2,0.6l-2,0.8l-2,1.2l-1.4,1.4l-1.1,1l-1.4,1l-2.1,0.7l-2,0.3l-2,0.2l-2,0.2l-2,0.1l-2,0.2l-2,0.2l-2,0.2l-2,0.2l-2,0.1l-2,0.2l-2,0.2l-2,0.3l-2,0.2l-2,0.3l-2,0.3l-2,0.3l-2,0.3l-2,0.3l-2,0.3l-2,0.3l-2,0.3l-1.8,0.3l-2.2,0.3l-2,0.3l-2,0.3l-2,0.3l-2,0.3l-2,0.3l-2,0.3l-2,0.3l-2,0.3l-2,0.3l-2,0.3l-2,0.2l-2,0.2l-2,0.1l-2,0.2l-2,0.2l-2,0.1l-2,0.2l-2,0.2l-2,0.2l-2,0.1l-2,0.2l-2,0.2l-2,0.1l-2,0.2l-2,0.2l-2,0.1l-2,0.2l-2,0.2l-2,0.2l-2,0.2l-2,0.1l-2,0.2l-2,0.2l-2,0.2l-2,0.2l-2,0.1l-1.9,0.2l-2.1,0.2l-2,0.2l-2,0.2l-2,0.1l-2,0.2l-2,0.2l-2,0.1l-2,0.2l-2,0.1l-2,0.1l-2,0.1l-2,0.1l-2,0.2l-2,0.1l-2,0.1l-2,0.1l-2,0.2l-2,0.1l-2,0.1l-2,0.1l-2,0.1l-2,0.2l-2,0.1l-2,0.1l-2,0.1l-2,0.1l-2,0.2l-2,0.1l-2,0.1l-1.9,0.1l-2.1,0.1l-2,0.1l-2,0.2l-2,0.1l-2,0.2l-2,0.2l-2,0.3l-2,0.2l-2,0.1l0-2.5l0-2l0-2l0-2l0-2l0-2l0-2l0-2l0-2l0-2l0-2l0-2l0-2l0-2l0-2l0-2l0-2l0-2l0-2l0-2l0-2l0-2l0-2l0-2l0-2l0-2l0-2l0-2l0-2l0-2l0-2l0-2l0-2l0-2l0-2l0-2l0-2l0-2l0-2l0-2l0-2l0-2l0-2l0-2l0-2l0-2l0-2l0-2l0-2l0-2l0-2l0-2l0-2l0-2l0-2l0-2l0-2l0-2l0-2l0-2l0-2l0-2l0-2l0-2l0-2l0-2l0-2l0-2l0-2l0-2l0-2l0-2l0-2l0-2l0-2l0-2l0-2l0-2l0-2l0-2l0-2l0-2l0-2l0-2l0-2l0-2l0-2l0-2l0-2l0-2l0-2l0-2l0-2l0-2l0-2l0-2l0-2l0-2l0-2l0-2l0-2l0-2l0-2l0-2l0-2l0-2l0-2l0-2l0-2l0-2l0-2l0-2l0-2l0-2l0-2l0-2l0-2l0-2l0-2l0-2l0-2l0-2l0-2Z" fill="#2200fb"/>
<path d="M145,55l2,0l2,0l2,0l2,0l2,0l2,0l2,0l2,0l2,0l2,0l2,0l2,0l2,0l2,0l2,0l2,0l2,0l2,0l2,0l2,0l2,0l2,0l2,0l2,0l2,0l2,0l2,0l2,0l2,0l2,0l2,0l2,0l2,0l2,0l2,0l2,0l2,0l2,0l2,0l2,0l2,0l2,0l2,0l2,0l2,0l2,0l2,0l2,0l2,0l2,0l2,0l2,0l2,0l2,0l2,0l2,0l2,0l2,0l2,0l2,0l2,0l2,0l2,0l2,0l2,0l2,0l2,0l2,0l2,0l2,0l2,0l2,0l2,0l2,0l2,0l2,0l2,0l2,0l2,0l2,0l2,0l2,0l2,0l2,0l2,0l2,0l2,0l2,0l2,0l2,0l2,0l2,0l2,0l2,0l2,0l2,0l2,0l2,0l2,0l2,0l2,0l2,0l2,0l2,0l2,0l0,2l0,2l0,2l0,2l0,2l0,2l0,2l0,2l0,2l0,2l0,2l0,2l0,2l0,2l0,2l0,2l0,2l0,2l0,2l0,2l0,2l0,2l0,2l0,2l0,2l0,2l0,2l0,2l0,2l0,2l0,2l0,2l0,2l0,2l0,2l0,2l0,2l0,2l0,2l0,2l0,2l0,2l0,2l0,2l0,2l0,2l0,2l0,2l0,2l0,2l0,2l0,2l0,2l0,2l0,2l0,2l0,2l0,2l0,2l0,2l0,2l0,2l0,2l0,2l0,2l0,2l0,2l0,2l0,2l0,2l0,2l0,2l0,2l0,2l0,2l0,2l0,2l0,2l0,2l0,2l0,2l0,2l0,2l0,2l0,2l0,2l0,2l0,2l0,2l0,2l0,2l0,2l0,2l0,2l0,2l0,2l0,2l0,2l0,2l0,2l0,2l0,2l0,2l0,2l0,2l0,2l0,2l0,2l0,2l-1,1.3l-2,0.6l-2,0.9l-1.8,1.2l-1.2,1.2l-1,1.2l-1,1.1l-2,1.2l-2,0.5l-2,0.2l-2,0.2l-2,0.1l-2,0.2l-2,0.2l-2,0.2l-2,0.1l-2,0.2l-2,0.2l-2,0.2l-2,0.2l-2,0.3l-2,0.3l-2,0.3l-2,0.3l-2,0.3l-2,0.3l-2,0.2l-2,0.3l-2,0.3l-2,0.3l-2,0.3l-2,0.3l-2,0.3l-2,0.3l-2,0.3l-2,0.2l-2,0.3l-2,0.3l-2,0.3l-2,0.3l-2,0.2l-2,0.2l-2,0.2l-2,0.2l-2,0.1l-2,0.2l-2,0.2l-2,0.1l-2,0.2l-2,0.2l-2,0.1l-2,0.2l-2,0.2l-2,0.1l-2,0.2l-2,0.2l-2,0.1l-2,0.2l-2,0.2l-2,0.1l-2,0.2l-2,0.2l-2,0.1l-2,0.2l-2,0.2l-2,0.1l-2,0.2l-2,0.2l-2,0.1l-2,0.2l-2,0.2l-2,0.1l-2,0.2l-2,0.2l-2,0.1l-2,0.1l-2,0.1l-2,0.2l-2,0.1l-2,0.1l-2,0.1l-2,0.1l-2,0.1l-2,0.1l-2,0.2l-2,0.1l-2,0.1l-2,0.1l-2,0.1l-2,0.1l-2,0.1l-2,0.1l-2,0.1l-2,0.2l-2,0.1l-2,0.1l-2,0.1l-2,0.1l-2,0.1l-2,0.1l-2,0.1l-2,0.2l-2,0.1l-2,0.2l-2,0.3l-2,0.2l-2,0.2l0-3l0-2l0-2l0-2l0-2l0-2l0-2l0-2l0-2l0-2l0-2l0-2l0-2l0-2l0-2l0-2l0-2l0-2l0-2l0-2l0-2l0-2l0-2l0-2l0-2l0-2l0-2l0-2l0-2l0-2l0-2l0-2l0-2l0-2l0-2l0-2l0-2l0-2l0-2l0-2l0-2l0-2l0-2l0-2l0-2l0-2l0-2l0-2l0-2l0-2l0-2l0-2l0-2l0-2l0-2l0-2l0-2l0-2l0-2l0-2l0-2l0-2l0-2l0-2l0-2l0-2l0-2l0-2l0-2l0-2l0-2l0-2l0-2l0-2l0-2l0-2l0-2l0-2l0-2l0-2l0-2l0-2l0-2l0-2l0-2l0-2l0-2l0-2l0-2l0-2l0-2l0-2l0-2l0-2l0-2l0-2l0-2l0-2l0-2l0-2l0-2l0-2l0-2l0-2l0-2l0-2l0-2l0-2l0-2l0-2l0-2l0-2l0-2l0-2l0-2l0-2l0-2l0-2l0-2l0-2l0-2l0-2Z" fill="#0d00fe"/>
<path d="M145,55l2,0l2,0l2,0l2,0l2,0l2,0l2,0l2,0l2,0l2,0l2,0l2,0l2,0l2,0l2,0l2,0l2,0l2,0l2,0l2,0l2,0l2,0l2,0l2,0l2,0l2,0l2,0l2,0l2,0l2,0l2,0l2,0l2,0l2,0l2,0l2,0l2,0l2,0l2,0l2,0l2,0l2,0l2,0l2,0l2,0l2,0l2,0l2,0l2,0l2,0l2,0l2,0l2,0l2,0l2,0l2,0l2,0l2,0l2,0l2,0l2,0l2,0l2,0l2,0l2,0l2,0l2,0l2,0l2,0l2,0l2,0l2,0l2,0l2,0l2,0l2,0l2,0l2,0l2,0l2,0l2,0l2,0l2,0l2,0l2,0l2,0l2,0l2,0l2,0l2,0l2,0l2,0l2,0l2,0l2,0l2,0l2,0l2,0l2,0l2,0l2,0l2,0l2,0l2,0l2,0l0,2l0,2l0,2l0,2l0,2l0,2l0,2l0,2l0,2l0,2l0,2l0,2l0,2l0,2l0,2l0,2l0,2l0,2l0,2l0,2l0,2l0,2l0,2l0,2l0,2l0,2l0,2l0,2l0,2l0,2l0,2l0,2l0,2l0,2l0,2l0,2l0,2l0,2l0,2l0,2l0,2l0,2l0,2l0,2l0,2l0,2l0,2l0,2l0,2l0,2l0,2l0,2l0,2l0,2l0,2l0,2l0,2l0,2l0,2l0,2l0,2l0,2l0,2l0,2l0,2l0,2l0,2l0,2l0,2l0,2l0,2l0,2l0,2l0,2l0,2l0,2l0,2l0,2l0,2l0,2l0,2l0,2l0,2l0,2l0,2l0,2l0,2l0,2l0,2l0,2l0,2l0,2l0,2l0,2l0,2l0,2l0,2l0,2l0,2l0,2l0,2l0,2l0,2l0,2l0,2l0,2l0,2l-1.9,1l-2.1,0.9l-2,1l-1.7,1.1l-1,1l-1.3,1.8l-1,1.6l-1,1.1l-2,1l-2,0.4l-2,0.2l-2,0.1l-2,0.2l-2,0.2l-2,0.1l-2,0.2l-2,0.1l-2,0.2l-2,0.2l-2,0.2l-2,0.3l-2,0.3l-2,0.2l-2,0.3l-1.8,0.3l-2.2,0.3l-2,0.3l-2,0.3l-2,0.3l-2,0.3l-2,0.2l-1.9,0.3l-2.1,0.3l-2,0.3l-2,0.2l-2,0.3l-2,0.3l-2,0.2l-2,0.3l-2,0.3l-2,0.2l-2,0.2l-2,0.2l-2,0.2l-2,0.2l-2,0.1l-2,0.2l-2,0.2l-2,0.1l-2,0.2l-2,0.2l-2,0.2l-2,0.1l-2,0.2l-2,0.2l-2,0.1l-2,0.2l-2,0.2l-2,0.1l-2,0.2l-2,0.2l-2,0.1l-2,0.2l-2,0.2l-2,0.1l-2,0.2l-2,0.1l-1.9,0.2l-2.1,0.2l-2,0.1l-2,0.2l-2,0.2l-2,0.1l-2,0.2l-2,0.1l-2,0.1l-2,0.1l-2,0.1l-2,0.1l-2,0.2l-2,0.1l-2,0.1l-2,0.1l-2,0.1l-2,0.1l-2,0.1l-2,0.1l-2,0.1l-2,0.1l-2,0.1l-2,0.1l-2,0.2l-2,0.1l-2,0.1l-2,0.1l-2,0.1l-2,0.1l-2,0.1l-2,0.1l-2,0.1l-2,0.1l-2,0.1l-2,0.2l-2,0.1l-2,0.2l-2,0.2l-2,0.1l0-2.8l0-2l0-2l0-2l0-2l0-2l0-2l0-2l0-2l0-2l0-2l0-2l0-2l0-2l0-2l0-2l0-2l0-2l0-2l0-2l0-2l0-2l0-2l0-2l0-2l0-2l0-2l0-2l0-2l0-2l0-2l0-2l0-2l0-2l0-2l0-2l0-2l0-2l0-2l0-2l0-2l0-2l0-2l0-2l0-2l0-2l0-2l0-2l0-2l0-2l0-2l0-2l0-2l0-2l0-2l0-2l0-2l0-2l0-2l0-2l0-2l0-2l0-2l0-2l0-2l0-2l0-2l0-2l0-2l0-2l0-2l0-2l0-2l0-2l0-2l0-2l0-2l0-2l0-2l0-2l0-2l0-2l0-2l0-2l0-2l0-2l0-2l0-2l0-2l0-2l0-2l0-2l0-2l0-2l0-2l0-2l0-2l0-2l0-2l0-2l0-2l0-2l0-2l0-2l0-2l0-2l0-2l0-2l0-2l0-2l0-2l0-2l0-2l0-2l0-2l0-2l0-2l0-2l0-2l0-2Z" fill="#0712ff"/>
<path d="M145,55l2,0l2,0l2,0l2,0l2,0l2,0l2,0l2,0l2,0l2,0l2,0l2,0l2,0l2,0l2,0l2,0l2,0l2,0l2,0l2,0l2,0l2,0l2,0l2,0l2,0l2,0l2,0l2,0l2,0l2,0l2,0l2,0l2,0l2,0l2,0l2,0l2,0l2,0l2,0l2,0l2,0l2,0l2,0l2,0l2,0l2,0l2,0l2,0l2,0l2,0l2,0l2,0l2,0l2,0l2,0l2,0l2,0l2,0l2,0l2,0l2,0l2,0l2,0l2,0l2,0l2,0l2,0l2,0l2,0l2,0l2,0l2,0l2,0l2,0l2,0l2,0l2,0l2,0l2,0l2,0l2,0l2,0l2,0l2,0l2,0l2,0l2,0l2,0l2,0l2,0l2,0l2,0l2,0l2,0l2,0l2,0l2,0l2,0l2,0l2,0l2,0l2,0l2,0l2,0l2,0l0,2l0,2l0,2l0,2l0,2l0,2l0,2l0,2l0,2l0,2l0,2l0,2l0,2l0,2l0,2l0,2l0,2l0,2l0,2l0,2l0,2l0,2l0,2l0,2l0,2l0,2l0,2l0,2l0,2l0,2l0,2l0,2l0,2l0,2l0,2l0,2l0,2l0,2l0,2l0,2l0,2l0,2l0,2l0,2l0,2l0,2l0,2l0,2l0,2l0,2l0,2l0,2l0,2l0,2l0,2l0,2l0,2l0,2l0,2l0,2l0,2l0,2l0,2l0,2l0,2l0,2l0,2l0,2l0,2l0,2l0,2l0,2l0,2l0,2l0,2l0,2l0,2l0,2l0,2l0,2l0,2l0,2l0,2l0,2l0,2l0,2l0,2l0,2l0,2l0,2l0,2l0,2l0,2l0,2l0,2l0,2l0,2l0,2l0,2l0,2l0,2l0,2l0,2l0,2l0,2l-1,1.5l-1.7,0.5l-2.3,1l-2,0.9l-1.8,1.1l-1.1,1l-1.1,1.5l-0.9,1.5l-1.1,1.6l-2,1.4l-2,0.4l-2,0.2l-2,0.1l-2,0.2l-2,0.2l-2,0.1l-2,0.1l-2,0.2l-2,0.1l-2,0.2l-2,0.3l-2,0.2l-2,0.3l-2,0.2l-2,0.3l-2,0.2l-2,0.3l-2,0.3l-2,0.2l-2,0.3l-2,0.3l-2,0.3l-2,0.3l-2,0.2l-2,0.3l-2,0.3l-2,0.2l-2,0.3l-2,0.3l-2,0.2l-2,0.3l-2,0.2l-2,0.3l-2,0.2l-2,0.1l-2,0.2l-2,0.2l-2,0.2l-2,0.2l-2,0.2l-2,0.2l-2,0.2l-2,0.2l-2,0.2l-2,0.2l-2,0.2l-2,0.2l-2,0.1l-2,0.2l-2,0.2l-2,0.2l-2,0.2l-2,0.1l-2,0.2l-2,0.2l-2,0.2l-2,0.2l-2,0.1l-2,0.2l-2,0.2l-2,0.2l-2,0.2l-2,0.1l-2,0.2l-2,0.1l-2,0.2l-2,0.1l-2,0.1l-2,0.1l-2,0.1l-2,0.1l-2,0.1l-2,0.1l-2,0.1l-2,0.2l-2,0.1l-2,0.1l-2,0.1l-2,0.1l-2,0.1l-2,0.1l-2,0.1l-2,0.1l-2,0.1l-2,0.1l-2,0.2l-2,0.1l-2,0.1l-2,0.1l-2,0.1l-2,0.1l-2,0.1l-2,0.1l-2,0.1l-2,0.1l-2,0.1l-2,0l-1-1.1l0-2l0-2l0-2l0-2l0-2l0-2l0-2l0-2l0-2l0-2l0-2l0-2l0-2l0-2l0-2l0-2l0-2l0-2l0-2l0-2l0-2l0-2l0-2l0-2l0-2l0-2l0-2l0-2l0-2l0-2l0-2l0-2l0-2l0-2l0-2l0-2l0-2l0-2l0-2l0-2l0-2l0-2l0-2l0-2l0-2l0-2l0-2l0-2l0-2l0-2l0-2l0-2l0-2l0-2l0-2l0-2l0-2l0-2l0-2l0-2l0-2l0-2l0-2l0-2l0-2l0-2l0-2l0-2l0-2l0-2l0-2l0-2l0-2l0-2l0-2l0-2l0-2l0-2l0-2l0-2l0-2l0-2l0-2l0-2l0-2l0-2l0-2l0-2l0-2l0-2l0-2l0-2l0-2l0-2l0-2l0-2l0-2l0-2l0-2l0-2l0-2l0-2l0-2l0-2l0-2l0-2l0-2l0-2l0-2l0-2l0-2l0-2l0-2l0-2l0-2l0-2l0-2l0-2l0-2Z" fill="#0629ff"/>
<path d="M145,55l2,0l2,0l2,0l2,0l2,0l2,0l2,0l2,0l2,0l2,0l2,0l2,0l2,0l2,0l2,0l2,0l2,0l2,0l2,0l2,0l2,0l2,0l2,0l2,0l2,0l2,0l2,0l2,0l2,0l2,0l2,0l2,0l2,0l2,0l2,0l2,0l2,0l2,0l2,0l2,0l2,0l2,0l2,0l2,0l2,0l2,0l2,0l2,0l2,0l2,0l2,0l2,0l2,0l2,0l2,0l2,0l2,0l2,0l2,0l2,0l2,0l2,0l2,0l2,0l2,0l2,0l2,0l2,0l2,0l2,0l2,0l2,0l2,0l2,0l2,0l2,0l2,0l2,0l2,0l2,0l2,0l2,0l2,0l2,0l2,0l2,0l2,0l2,0l2,0l2,0l2,0l2,0l2,0l2,0l2,0l2,0l2,0l2,0l2,0l2,0l2,0l2,0l2,0l2,0l2,0l0,2l0,2l0,2l0,2l0,2l0,2l0,2l0,2l0,2l0,2l0,2l0,2l0,2l0,2l0,2l0,2l0,2l0,2l0,2l0,2l0,2l0,2l0,2l0,2l0,2l0,2l0,2l0,2l0,2l0,2l0,2l0,2l0,2l0,2l0,2l0,2l0,2l0,2l0,2l0,2l0,2l0,2l0,2l0,2l0,2l0,2l0,2l0,2l0,2l0,2l0,2l0,2l0,2l0,2l0,2l0,2l0,2l0,2l0,2l0,2l0,2l0,2l0,2l0,2l0,2l0,2l0,2l0,2l0,2l0,2l0,2l0,2l0,2l0,2l0,2l0,2l0,2l0,2l0,2l0,2l0,2l0,2l0,2l0,2l0,2l0,2l0,2l0,2l0,2l0,2l0,2l0,2l0,2l0,2l0,2l0,2l0,2l0,2l0,2l0,2l0,2l0,2l0,2l0,2l-1,1l-2,0.6l-2,0.7l-1.7,0.7l-2.2,1l-1.8,1l-1.1,1l-1.2,1.7l-0.8,1.3l-1.2,1.3l-1.3,0.7l-1.7,0.4l-2,0.2l-2,0.1l-2,0.2l-2,0.1l-2,0.1l-2,0.2l-2,0.1l-2,0.2l-2,0.1l-2,0.2l-2,0.3l-2,0.2l-2,0.2l-2,0.2l-2,0.2l-2,0.3l-2,0.2l-2,0.3l-2,0.2l-2,0.3l-2,0.3l-2,0.3l-2,0.3l-2,0.2l-2,0.3l-2,0.3l-2,0.3l-2,0.2l-2,0.3l-2,0.3l-2,0.2l-2,0.3l-2,0.2l-2,0.2l-2,0.3l-2,0.2l-2,0.2l-2,0.3l-2,0.2l-2,0.2l-2,0.2l-2,0.3l-2,0.2l-2,0.2l-2,0.3l-2,0.2l-2,0.2l-2,0.2l-2,0.2l-2,0.2l-2,0.2l-2,0.2l-2,0.2l-2,0.3l-2,0.2l-2,0.2l-2,0.2l-2,0.2l-2,0.2l-2,0.2l-2,0.2l-2,0.2l-2,0.2l-2,0.1l-2,0.2l-2,0.1l-2,0.1l-2,0.1l-2,0.1l-2,0.1l-2,0.2l-2,0.1l-2,0.1l-2,0.1l-2,0.1l-2,0.1l-2,0.1l-2,0.1l-2,0.2l-2,0.1l-2,0.1l-2,0.1l-2,0.1l-2,0.1l-2,0.1l-2,0.1l-2,0.2l-2,0.1l-2,0.1l-2,0.1l-2,0.1l-2,0.1l-2,0.1l-2,0l-2,0l-2,0l0-2.7l0-2l0-2l0-2l0-2l0-2l0-2l0-2l0-2l0-2l0-2l0-2l0-2l0-2l0-2l0-2l0-2l0-2l0-2l0-2l0-2l0-2l0-2l0-2l0-2l0-2l0-2l0-2l0-2l0-2l0-2l0-2l0-2l0-2l0-2l0-2l0-2l0-2l0-2l0-2l0-2l0-2l0-2l0-2l0-2l0-2l0-2l0-2l0-2l0-2l0-2l0-2l0-2l0-2l0-2l0-2l0-2l0-2l0-2l0-2l0-2l0-2l0-2l0-2l0-2l0-2l0-2l0-2l0-2l0-2l0-2l0-2l0-2l0-2l0-2l0-2l0-2l0-2l0-2l0-2l0-2l0-2l0-2l0-2l0-2l0-2l0-2l0-2l0-2l0-2l0-2l0-2l0-2l0-2l0-2l0-2l0-2l0-2l0-2l0-2l0-2l0-2l0-2l0-2l0-2l0-2l0-2l0-2l0-2l0-2l0-2l0-2l0-2l0-2l0-2l0-2l0-2l0-2Z" fill="#0440ff"/>
<path d="M145,55l2,0l2,0l2,0l2,0l2,0l2,0l2,0l2,0l2,0l2,0l2,0l2,0l2,0l2,0l2,0l2,0l2,0l2,0l2,0l2,0l2,0l2,0l2,0l2,0l2,0l2,0l2,0l2,0l2,0l2,0l2,0l2,0l2,0l2,0l2,0l2,0l2,0l2,0l2,0l2,0l2,0l2,0l2,0l2,0l2,0l2,0l2,0l2,0l2,0l2,0l2,0l2,0l2,0l2,0l2,0l2,0l2,0l2,0l2,0l2,0l2,0l2,0l2,0l2,0l2,0l2,0l2,0l2,0l2,0l2,0l2,0l2,0l2,0l2,0l2,0l2,0l2,0l2,0l2,0l2,0l2,0l2,0l2,0l2,0l2,0l2,0l2,0l2,0l2,0l2,0l2,0l2,0l2,0l2,0l2,0l2,0l2,0l2,0l2,0l2,0l2,0l2,0l2,0l2,0l2,0l0,2l0,2l0,2l0,2l0,2l0,2l0,2l0,2l0,2l0,2l0,2l0,2l0,2l0,2l0,2l0,2l0,2l0,2l0,2l0,2l0,2l0,2l0,2l0,2l0,2l0,2l0,2l0,2l0,2l0,2l0,2l0,2l0,2l0,2l0,2l0,2l0,2l0,2l0,2l0,2l0,2l0,2l0,2l0,2l0,2l0,2l0,2l0,2l0,2l0,2l0,2l0,2l0,2l0,2l0,2l0,2l0,2l0,2l0,2l0,2l0,2l0,2l0,2l0,2l0,2l0,2l0,2l0,2l0,2l0,2l0,2l0,2l0,2l0,2l0,2l0,2l0,2l0,2l0,2l0,2l0,2l0,2l0,2l0,2l0,2l0,2l0,2l0,2l0,2l0,2l0,2l0,2l0,2l0,2l0,2l0,2l0,2l0,2l0,2l0,2l0,2l0,2l0,2l-2,1l-2,0.6l-2,0.8l-1.5,0.6l-1.5,0.6l-2,0.8l-2,1.3l-1,1l-1,1.2l-1,1.1l-2,1l-2,0.3l-2,0.2l-2,0.1l-2,0.2l-2,0.1l-2,0.1l-2,0.1l-2,0.1l-2,0.2l-2,0.2l-2,0.2l-2,0.1l-2,0.2l-2,0.2l-2,0.2l-2,0.2l-2,0.1l-2,0.3l-2,0.3l-2,0.2l-2,0.3l-2,0.3l-2,0.3l-2,0.3l-2,0.3l-2,0.2l-2,0.3l-2,0.3l-2,0.3l-2,0.3l-2,0.3l-2,0.3l-2,0.2l-2,0.3l-2,0.3l-2,0.2l-2,0.3l-2,0.3l-2,0.2l-2,0.3l-2,0.3l-2,0.2l-2,0.3l-2,0.3l-2,0.2l-2,0.3l-2,0.2l-2,0.3l-2,0.2l-2,0.3l-1.9,0.2l-2.1,0.2l-2,0.3l-2,0.2l-2,0.3l-2,0.2l-2,0.3l-2,0.2l-2,0.3l-2,0.2l-2,0.2l-2,0.3l-2,0.2l-2,0.1l-2,0.2l-2,0.1l-2,0.1l-2,0.1l-2,0.1l-2,0.2l-2,0.1l-1.9,0.1l-2.1,0.1l-2,0.1l-2,0.2l-2,0.1l-2,0.1l-2,0.1l-2,0.1l-2,0.2l-2,0.1l-2,0.1l-2,0.1l-2,0.1l-2,0.2l-2,0.1l-2,0.1l-2,0.1l-2,0.1l-2,0.1l-2,0.2l-2,0.1l-2,0l-2,0.1l-2,0l-2,0l0-2.5l0-2l0-2l0-2l0-2l0-2l0-2l0-2l0-2l0-2l0-2l0-2l0-2l0-2l0-2l0-2l0-2l0-2l0-2l0-2l0-2l0-2l0-2l0-2l0-2l0-2l0-2l0-2l0-2l0-2l0-2l0-2l0-2l0-2l0-2l0-2l0-2l0-2l0-2l0-2l0-2l0-2l0-2l0-2l0-2l0-2l0-2l0-2l0-2l0-2l0-2l0-2l0-2l0-2l0-2l0-2l0-2l0-2l0-2l0-2l0-2l0-2l0-2l0-2l0-2l0-2l0-2l0-2l0-2l0-2l0-2l0-2l0-2l0-2l0-2l0-2l0-2l0-2l0-2l0-2l0-2l0-2l0-2l0-2l0-2l0-2l0-2l0-2l0-2l0-2l0-2l0-2l0-2l0-2l0-2l0-2l0-2l0-2l0-2l0-2l0-2l0-2l0-2l0-2l0-2l0-2l0-2l0-2l0-2l0-2l0-2l0-2l0-2l0-2l0-2l0-2l0-2Z" fill="#0355ff"/>
<path d="M145,55l2,0l2,0l2,0l2,0l2,0l2,0l2,0l2,0l2,0l2,0l2,0l2,0l2,0l2,0l2,0l2,0l2,0l2,0l2,0l2,0l2,0l2,0l2,0l2,0l2,0l2,0l2,0l2,0l2,0l2,0l2,0l2,0l2,0l2,0l2,0l2,0l2,0l2,0l2,0l2,0l2,0l2,0l2,0l2,0l2,0l2,0l2,0l2,0l2,0l2,0l2,0l2,0l2,0l2,0l2,0l2,0l2,0l2,0l2,0l2,0l2,0l2,0l2,0l2,0l2,0l2,0l2,0l2,0l2,0l2,0l2,0l2,0l2,0l2,0l2,0l2,0l2,0l2,0l2,0l2,0l2,0l2,0l2,0l2,0l2,0l2,0l2,0l2,0l2,0l2,0l2,0l2,0l2,0l2,0l2,0l2,0l2,0l2,0l2,0l2,0l2,0l2,0l2,0l2,0l2,0l0,2l0,2l0,2l0,2l0,2l0,2l0,2l0,2l0,2l0,2l0,2l0,2l0,2l0,2l0,2l0,2l0,2l0,2l0,2l0,2l0,2l0,2l0,2l0,2l0,2l0,2l0,2l0,2l0,2l0,2l0,2l0,2l0,2l0,2l0,2l0,2l0,2l0,2l0,2l0,2l0,2l0,2l0,2l0,2l0,2l0,2l0,2l0,2l0,2l0,2l0,2l0,2l0,2l0,2l0,2l0,2l0,2l0,2l0,2l0,2l0,2l0,2l0,2l0,2l0,2l0,2l0,2l0,2l0,2l0,2l0,2l0,2l0,2l0,2l0,2l0,2l0,2l0,2l0,2l0,2l0,2l0,2l0,2l0,2l0,2l0,2l0,2l0,2l0,2l0,2l0,2l0,2l0,2l0,2l0,2l0,2l0,2l0,2l0,2l0,2l0,2l0,2l-2,0.9l-2,0.6l-2,0.8l-1.7,0.7l-2.3,0.9l-2,0.9l-2,1.2l-1.2,1l-1,1l-1.3,1l-1.5,0.6l-2,0.3l-2,0.2l-2,0.1l-2,0.1l-2,0.1l-2,0.1l-2,0.1l-2,0.2l-2,0.1l-2,0.2l-2,0.1l-2,0.2l-2,0.2l-2,0.1l-2,0.1l-2,0.2l-2,0.2l-2,0.2l-2,0.3l-2,0.3l-2,0.3l-2,0.2l-2,0.3l-2,0.3l-2,0.3l-2,0.3l-2,0.3l-2,0.3l-2,0.3l-2,0.3l-2,0.3l-2,0.3l-2,0.3l-2,0.3l-2,0.3l-2,0.3l-2,0.3l-2,0.3l-2,0.3l-2,0.3l-2,0.3l-2,0.3l-2,0.2l-2,0.3l-2,0.3l-2,0.3l-2,0.3l-2,0.3l-2,0.2l-2,0.3l-2,0.3l-2,0.2l-2,0.3l-2,0.3l-2,0.2l-2,0.3l-2,0.3l-2,0.2l-2,0.3l-2,0.3l-2,0.2l-2,0.3l-2,0.2l-2,0.2l-2,0.1l-2,0.1l-2,0.1l-2,0.2l-2,0.1l-2,0.1l-2,0.1l-2,0.2l-2,0.1l-2,0.1l-2,0.1l-2,0.2l-2,0.1l-2,0.1l-2,0.1l-2,0.2l-2,0.1l-2,0.1l-2,0.1l-2,0.2l-2,0.1l-2,0.1l-2,0.1l-2,0.2l-2,0.1l-2,0.1l-2,0.1l-2,0.1l-2,0l-2,0l-2,0l-1-1.7l0-2l0-2l0-2l0-2l0-2l0-2l0-2l0-2l0-2l0-2l0-2l0-2l0-2l0-2l0-2l0-2l0-2l0-2l0-2l0-2l0-2l0-2l0-2l0-2l0-2l0-2l0-2l0-2l0-2l0-2l0-2l0-2l0-2l0-2l0-2l0-2l0-2l0-2l0-2l0-2l0-2l0-2l0-2l0-2l0-2l0-2l0-2l0-2l0-2l0-2l0-2l0-2l0-2l0-2l0-2l0-2l0-2l0-2l0-2l0-2l0-2l0-2l0-2l0-2l0-2l0-2l0-2l0-2l0-2l0-2l0-2l0-2l0-2l0-2l0-2l0-2l0-2l0-2l0-2l0-2l0-2l0-2l0-2l0-2l0-2l0-2l0-2l0-2l0-2l0-2l0-2l0-2l0-2l0-2l0-2l0-2l0-2l0-2l0-2l0-2l0-2l0-2l0-2l0-2l0-2l0-2l0-2l0-2l0-2l0-2l0-2l0-2l0-2l0-2l0-2Z" fill="#026bff"/>
<path d="M145,55l2,0l2,0l2,0l2,0l2,0l2,0l2,0l2,0l2,0l2,0l2,0l2,0l2,0l2,0l2,0l2,0l2,0l2,0l2,0l2,0l2,0l2,0l2,0l2,0l2,0l2,0l2,0l2,0l2,0l2,0l2,0l2,0l2,0l2,0l2,0l2,0l2,0l2,0l2,0l2,0l2,0l2,0l2,0l2,0l2,0l2,0l2,0l2,0l2,0l2,0l2,0l2,0l2,0l2,0l2,0l2,0l2,0l2,0l2,0l2,0l2,0l2,0l2,0l2,0l2,0l2,0l2,0l2,0l2,0l2,0l2,0l2,0l2,0l2,0l2,0l2,0l2,0l2,0l2,0l2,0l2,0l2,0l2,0l2,0l2,0l2,0l2,0l2,0l2,0l2,0l2,0l2,0l2,0l2,0l2,0l2,0l2,0l2,0l2,0l2,0l2,0l2,0l2,0l2,0l2,0l0,2l0,2l0,2l0,2l0,2l0,2l0,2l0,2l0,2l0,2l0,2l0,2l0,2l0,2l0,2l0,2l0,2l0,2l0,2l0,2l0,2l0,2l0,2l0,2l0,2l0,2l0,2l0,2l0,2l0,2l0,2l0,2l0,2l0,2l0,2l0,2l0,2l0,2l0,2l0,2l0,2l0,2l0,2l0,2l0,2l0,2l0,2l0,2l0,2l0,2l0,2l0,2l0,2l0,2l0,2l0,2l0,2l0,2l0,2l0,2l0,2l0,2l0,2l0,2l0,2l0,2l0,2l0,2l0,2l0,2l0,2l0,2l0,2l0,2l0,2l0,2l0,2l0,2l0,2l0,2l0,2l0,2l0,2l0,2l0,2l0,2l0,2l0,2l0,2l0,2l0,2l0,2l0,2l0,2l0,2l0,2l0,2l0,2l0,2l-1,1.9l-2,0.6l-2,1l-2,0.9l-2,1l-2,1l-2,1l-2,1.1l-1.8,1.5l-1.2,1l-2,1l-2,0.3l-2,0.2l-2,0.1l-2,0.1l-2,0.1l-2,0.1l-2,0.1l-2,0.1l-2,0.1l-2,0.1l-2,0.1l-2,0.2l-2,0.1l-2,0.1l-2,0.1l-1.9,0.1l-2.1,0.2l-2,0.2l-2,0.3l-2,0.3l-2,0.3l-2,0.3l-2,0.3l-2,0.3l-2,0.2l-2,0.3l-2,0.3l-2,0.3l-2,0.4l-2,0.3l-2,0.3l-2,0.4l-2,0.3l-2,0.3l-2,0.4l-1.9,0.3l-2.1,0.3l-2,0.4l-1.9,0.3l-2.1,0.3l-2,0.4l-1.9,0.3l-2.1,0.3l-2,0.4l-2,0.3l-2,0.3l-2,0.3l-2,0.3l-2,0.3l-2,0.3l-2,0.3l-2,0.4l-2,0.3l-2,0.3l-2,0.3l-2,0.3l-2,0.3l-1.9,0.3l-2.1,0.3l-2,0.3l-2,0.3l-2,0.3l-2,0.2l-2,0.2l-2,0.1l-2,0.2l-2,0.1l-2,0.1l-2,0.2l-2,0.1l-2,0.2l-2,0.1l-2,0.2l-2,0.1l-2,0.1l-2,0.2l-2,0.1l-2,0.2l-2,0.2l-2,0.1l-2,0.1l-2,0.2l-2,0.1l-2,0.1l-2,0.2l-2,0.1l-2,0.1l-2,0.2l-2,0.1l-2,0.1l-2,0l-2,0l-2-0.1l-2-0.1l-2,0l0-3l0-2l0-2l0-2l0-2l0-2l0-2l0-2l0-2l0-2l0-2l0-2l0-2l0-2l0-2l0-2l0-2l0-2l0-2l0-2l0-2l0-2l0-2l0-2l0-2l0-2l0-2l0-2l0-2l0-2l0-2l0-2l0-2l0-2l0-2l0-2l0-2l0-2l0-2l0-2l0-2l0-2l0-2l0-2l0-2l0-2l0-2l0-2l0-2l0-2l0-2l0-2l0-2l0-2l0-2l0-2l0-2l0-2l0-2l0-2l0-2l0-2l0-2l0-2l0-2l0-2l0-2l0-2l0-2l0-2l0-2l0-2l0-2l0-2l0-2l0-2l0-2l0-2l0-2l0-2l0-2l0-2l0-2l0-2l0-2l0-2l0-2l0-2l0-2l0-2l0-2l0-2l0-2l0-2l0-2l0-2l0-2l0-2l0-2l0-2l0-2l0-2l0-2l0-2l0-2l0-2l0-2l0-2l0-2l0-2l0-2l0-2l0-2l0-2Z" fill="#0184ff"/>
<path d="M145,55l2,0l2,0l2,0l2,0l2,0l2,0l2,0l2,0l2,0l2,0l2,0l2,0l2,0l2,0l2,0l2,0l2,0l2,0l2,0l2,0l2,0l2,0l2,0l2,0l2,0l2,0l2,0l2,0l2,0l2,0l2,0l2,0l2,0l2,0l2,0l2,0l2,0l2,0l2,0l2,0l2,0l2,0l2,0l2,0l2,0l2,0l2,0l2,0l2,0l2,0l2,0l2,0l2,0l2,0l2,0l2,0l2,0l2,0l2,0l2,0l2,0l2,0l2,0l2,0l2,0l2,0l2,0l2,0l2,0l2,0l2,0l2,0l2,0l2,0l2,0l2,0l2,0l2,0l2,0l2,0l2,0l2,0l2,0l2,0l2,0l2,0l2,0l2,0l2,0l2,0l2,0l2,0l2,0l2,0l2,0l2,0l2,0l2,0l2,0l2,0l2,0l2,0l2,0l2,0l2,0l0,2l0,2l0,2l0,2l0,2l0,2l0,2l0,2l0,2l0,2l0,2l0,2l0,2l0,2l0,2l0,2l0,2l0,2l0,2l0,2l0,2l0,2l0,2l0,2l0,2l0,2l0,2l0,2l0,2l0,2l0,2l0,2l0,2l0,2l0,2l0,2l0,2l0,2l0,2l0,2l0,2l0,2l0,2l0,2l0,2l0,2l0,2l0,2l0,2l0,2l0,2l0,2l0,2l0,2l0,2l0,2l0,2l0,2l0,2l0,2l0,2l0,2l0,2l0,2l0,2l0,2l0,2l0,2l0,2l0,2l0,2l0,2l0,2l0,2l0,2l0,2l0,2l0,2l0,2l0,2l0,2l0,2l0,2l0,2l0,2l0,2l0,2l0,2l0,2l0,2l0,2l0,2l0,2l0,2l0,2l0,2l0,2l0,2l-2,0.7l-2,0.8l-2,0.9l-1.4,0.6l-1.6,0.8l-2,0.9l-2,1l-2,1l-1.8,1.3l-1.1,1l-1.2,1l-1.9,1l-2,0.4l-2,0.1l-2,0.1l-2,0.1l-2,0.1l-2,0.1l-2,0.1l-2,0.1l-2,0.1l-2,0l-2,0.1l-2,0.1l-2,0.1l-2,0.1l-2,0.1l-2,0.1l-2,0.2l-2,0.2l-2,0.3l-2,0.3l-2,0.3l-2,0.3l-2,0.2l-2,0.3l-2,0.3l-2,0.3l-2,0.3l-2,0.3l-2,0.3l-2,0.4l-2,0.3l-2,0.4l-2,0.3l-2,0.4l-2,0.3l-2,0.4l-2,0.3l-2,0.4l-2,0.3l-2,0.4l-2,0.3l-2,0.3l-2,0.4l-2,0.3l-2,0.4l-2,0.3l-2,0.3l-2,0.4l-2,0.3l-2,0.3l-2,0.4l-2,0.3l-2,0.4l-1.9,0.3l-2.1,0.4l-2,0.3l-2,0.4l-2,0.3l-2,0.4l-2,0.4l-2,0.3l-2,0.3l-2,0.3l-2,0.1l-2,0.2l-2,0.2l-2,0.1l-2,0.2l-2,0.2l-2,0.2l-2,0.1l-2,0.2l-2,0.2l-2,0.2l-2,0.2l-2,0.2l-2,0.2l-2,0.2l-2,0.2l-2,0.2l-2,0.1l-2,0.2l-2,0.1l-2,0.1l-2,0.2l-2,0.1l-2,0.2l-2,0.1l-2,0.1l-2-0.1l-2-0.2l-2-0.4l-2-0.4l-2-0.4l-1-1.9l0-2l0-2l0-2l0-2l0-2l0-2l0-2l0-2l0-2l0-2l0-2l0-2l0-2l0-2l0-2l0-2l0-2l0-2l0-2l0-2l0-2l0-2l0-2l0-2l0-2l0-2l0-2l0-2l0-2l0-2l0-2l0-2l0-2l0-2l0-2l0-2l0-2l0-2l0-2l0-2l0-2l0-2l0-2l0-2l0-2l0-2l0-2l0-2l0-2l0-2l0-2l0-2l0-2l0-2l0-2l0-2l0-2l0-2l0-2l0-2l0-2l0-2l0-2l0-2l0-2l0-2l0-2l0-2l0-2l0-2l0-2l0-2l0-2l0-2l0-2l0-2l0-2l0-2l0-2l0-2l0-2l0-2l0-2l0-2l0-2l0-2l0-2l0-2l0-2l0-2l0-2l0-2l0-2l0-2l0-2l0-2l0-2l0-2l0-2l0-2l0-2l0-2l0-2l0-2l0-2l0-2l0-2l0-2l0-2l0-2l0-2l0-2Z" fill="#009bff"/>
<path d="M145,55l2,0l2,0l2,0l2,0l2,0l2,0l2,0l2,0l2,0l2,0l2,0l2,0l2,0l2,0l2,0l2,0l2,0l2,0l2,0l2,0l2,0l2,0l2,0l2,0l2,0l2,0l2,0l2,0l2,0l2,0l2,0l2,0l2,0l2,0l2,0l2,0l2,0l2,0l2,0l2,0l2,0l2,0l2,0l2,0l2,0l2,0l2,0l2,0l2,0l2,0l2,0l2,0l2,0l2,0l2,0l2,0l2,0l2,0l2,0l2,0l2,0l2,0l2,0l2,0l2,0l2,0l2,0l2,0l2,0l2,0l2,0l2,0l2,0l2,0l2,0l2,0l2,0l2,0l2,0l2,0l2,0l2,0l2,0l2,0l2,0l2,0l2,0l2,0l2,0l2,0l2,0l2,0l2,0l2,0l2,0l2,0l2,0l2,0l2,0l2,0l2,0l2,0l2,0l2,0l2,0l0,2l0,2l0,2l0,2l0,2l0,2l0,2l0,2l0,2l0,2l0,2l0,2l0,2l0,2l0,2l0,2l0,2l0,2l0,2l0,2l0,2l0,2l0,2l0,2l0,2l0,2l0,2l0,2l0,2l0,2l0,2l0,2l0,2l0,2l0,2l0,2l0,2l0,2l0,2l0,2l0,2l0,2l0,2l0,2l0,2l0,2l0,2l0,2l0,2l0,2l0,2l0,2l0,2l0,2l0,2l0,2l0,2l0,2l0,2l0,2l0,2l0,2l0,2l0,2l0,2l0,2l0,2l0,2l0,2l0,2l0,2l0,2l0,2l0,2l0,2l0,2l0,2l0,2l0,2l0,2l0,2l0,2l0,2l0,2l0,2l0,2l0,2l0,2l0,2l0,2l0,2l0,2l0,2l0,2l0,2l0,2l-1,1.5l-1.7,0.5l-2.3,0.9l-2,0.8l-2,0.9l-2,0.8l-1.5,0.6l-1.5,0.6l-2,0.9l-2,1.1l-1.7,1.4l-1.2,1l-2.1,0.9l-2,0.3l-2,0.2l-2,0.1l-2,0l-2,0.1l-2,0.1l-2,0.1l-2,0.1l-2,0l-2,0.1l-2,0.1l-2,0.1l-2,0l-2,0.1l-2,0.1l-2,0.2l-2,0.2l-1.9,0.2l-2.1,0.3l-2,0.3l-2,0.2l-2,0.3l-2,0.3l-2,0.3l-2,0.2l-2,0.3l-2,0.3l-2,0.2l-1.9,0.3l-2.1,0.3l-2,0.3l-2,0.3l-2,0.4l-2,0.3l-2,0.3l-2,0.3l-2,0.3l-2,0.3l-2,0.3l-2,0.3l-2,0.3l-1.8,0.3l-2.2,0.3l-2,0.4l-2,0.3l-2,0.3l-2,0.4l-2,0.4l-2,0.4l-2,0.3l-2,0.4l-2,0.4l-1.9,0.4l-2.1,0.4l-2,0.5l-2,0.4l-2,0.5l-2,0.4l-2,0.5l-2,0.4l-2,0.5l-2,0.3l-2,0.4l-2,0.2l-2,0.2l-2,0.3l-2,0.3l-2,0.2l-2,0.2l-2,0.3l-2,0.3l-2,0.3l-2,0.2l-2,0.3l-2,0.2l-2,0.3l-2,0.3l-2,0.3l-2,0.2l-2,0.1l-2,0.2l-2,0.2l-2,0.1l-2,0.2l-2,0.1l-2,0.2l-2,0.1l-2-0.1l-2-0.3l-2-0.7l-2-1l-2-1l-1.5-0.5l-1.5-1l0-2l0-2l0-2l0-2l0-2l0-2l0-2l0-2l0-2l0-2l0-2l0-2l0-2l0-2l0-2l0-2l0-2l0-2l0-2l0-2l0-2l0-2l0-2l0-2l0-2l0-2l0-2l0-2l0-2l0-2l0-2l0-2l0-2l0-2l0-2l0-2l0-2l0-2l0-2l0-2l0-2l0-2l0-2l0-2l0-2l0-2l0-2l0-2l0-2l0-2l0-2l0-2l0-2l0-2l0-2l0-2l0-2l0-2l0-2l0-2l0-2l0-2l0-2l0-2l0-2l0-2l0-2l0-2l0-2l0-2l0-2l0-2l0-2l0-2l0-2l0-2l0-2l0-2l0-2l0-2l0-2l0-2l0-2l0-2l0-2l0-2l0-2l0-2l0-2l0-2l0-2l0-2l0-2l0-2l0-2l0-2l0-2l0-2l0-2l0-2l0-2l0-2l0-2l0-2l0-2l0-2l0-2l0-2l0-2l0-2l0-2Z" fill="#00b3ff"/>
<path d="M145,55l2,0l2,0l2,0l2,0l2,0l2,0l2,0l2,0l2,0l2,0l2,0l2,0l2,0l2,0l2,0l2,0l2,0l2,0l2,0l2,0l2,0l2,0l2,0l2,0l2,0l2,0l2,0l2,0l2,0l2,0l2,0l2,0l2,0l2,0l2,0l2,0l2,0l2,0l2,0l2,0l2,0l2,0l2,0l2,0l2,0l2,0l2,0l2,0l2,0l2,0l2,0l2,0l2,0l2,0l2,0l2,0l2,0l2,0l2,0l2,0l2,0l2,0l2,0l2,0l2,0l2,0l2,0l2,0l2,0l2,0l2,0l2,0l2,0l2,0l2,0l2,0l2,0l2,0l2,0l2,0l2,0l2,0l2,0l2,0l2,0l2,0l2,0l2,0l2,0l2,0l2,0l2,0l2,0l2,0l2,0l2,0l2,0l2,0l2,0l2,0l2,0l2,0l2,0l2,0l2,0l0,2l0,2l0,2l0,2l0,2l0,2l0,2l0,2l0,2l0,2l0,2l0,2l0,2l0,2l0,2l0,2l0,2l0,2l0,2l0,2l0,2l0,2l0,2l0,2l0,2l0,2l0,2l0,2l0,2l0,2l0,2l0,2l0,2l0,2l0,2l0,2l0,2l0,2l0,2l0,2l0,2l0,2l0,2l0,2l0,2l0,2l0,2l0,2l0,2l0,2l0,2l0,2l0,2l0,2l0,2l0,2l0,2l0,2l0,2l0,2l0,2l0,2l0,2l0,2l0,2l0,2l0,2l0,2l0,2l0,2l0,2l0,2l0,2l0,2l0,2l0,2l0,2l0,2l0,2l0,2l0,2l0,2l0,2l0,2l0,2l0,2l0,2l0,2l0,2l0,2l0,2l0,2l0,2l0,2l0,2l-1.2,1l-1.8,0.5l-2,0.8l-1.7,0.7l-2.3,0.9l-2,0.8l-2,0.8l-2,0.7l-2,0.8l-2,0.8l-2,1.2l-1.4,1l-1.6,0.8l-2,0.4l-2,0.1l-2,0.1l-2,0.1l-2,0l-2,0.1l-2,0.1l-2,0.1l-2,0.1l-2,0l-1.9,0.1l-2.1,0.1l-2,0.1l-2,0l-2,0.1l-2,0.2l-2,0.2l-2,0.2l-2,0.3l-2,0.2l-2,0.3l-2,0.2l-2,0.3l-2,0.2l-2,0.3l-2,0.2l-2,0.2l-2,0.2l-2,0.2l-2,0.3l-1.9,0.2l-2.1,0.3l-2,0.3l-2,0.3l-2,0.2l-2,0.2l-2,0.3l-2,0.2l-2,0.2l-2,0.3l-2,0.2l-2,0.2l-2,0.3l-2,0.2l-2,0.3l-2,0.4l-2,0.4l-2,0.4l-2,0.5l-2,0.4l-1.8,0.4l-2.2,0.5l-2,0.4l-2,0.5l-2,0.5l-2,0.6l-1.8,0.5l-2.2,0.6l-2,0.6l-2,0.6l-2,0.5l-2,0.5l-2,0.5l-2,0.3l-2,0.3l-2,0.4l-2,0.5l-2,0.3l-2,0.3l-2,0.4l-2,0.4l-2,0.4l-2,0.3l-2,0.3l-2,0.4l-1.8,0.4l-2.2,0.4l-2,0.3l-2,0.2l-2,0.2l-2,0.1l-2,0.2l-2,0.2l-2,0.1l-2,0.2l-2,0.1l-2-0.1l-2-0.4l-2-1.3l-1-1l-1-1.1l-1.6-1.1l-2.4-0.9l-2-0.3l0-2.8l0-2l0-2l0-2l0-2l0-2l0-2l0-2l0-2l0-2l0-2l0-2l0-2l0-2l0-2l0-2l0-2l0-2l0-2l0-2l0-2l0-2l0-2l0-2l0-2l0-2l0-2l0-2l0-2l0-2l0-2l0-2l0-2l0-2l0-2l0-2l0-2l0-2l0-2l0-2l0-2l0-2l0-2l0-2l0-2l0-2l0-2l0-2l0-2l0-2l0-2l0-2l0-2l0-2l0-2l0-2l0-2l0-2l0-2l0-2l0-2l0-2l0-2l0-2l0-2l0-2l0-2l0-2l0-2l0-2l0-2l0-2l0-2l0-2l0-2l0-2l0-2l0-2l0-2l0-2l0-2l0-2l0-2l0-2l0-2l0-2l0-2l0-2l0-2l0-2l0-2l0-2l0-2l0-2l0-2l0-2l0-2l0-2l0-2l0-2l0-2l0-2l0-2l0-2l0-2l0-2l0-2l0-2l0-2Z" fill="#00ccff"/>
<path d="M145,55l2,0l2,0l2,0l2,0l2,0l2,0l2,0l2,0l2,0l2,0l2,0l2,0l2,0l2,0l2,0l2,0l2,0l2,0l2,0l2,0l2,0l2,0l2,0l2,0l2,0l2,0l2,0l2,0l2,0l2,0l2,0l2,0l2,0l2,0l2,0l2,0l2,0l2,0l2,0l2,0l2,0l2,0l2,0l2,0l2,0l2,0l2,0l2,0l2,0l2,0l2,0l2,0l2,0l2,0l2,0l2,0l2,0l2,0l2,0l2,0l2,0l2,0l2,0l2,0l2,0l2,0l2,0l2,0l2,0l2,0l2,0l2,0l2,0l2,0l2,0l2,0l2,0l2,0l2,0l2,0l2,0l2,0l2,0l2,0l2,0l2,0l2,0l2,0l2,0l2,0l2,0l2,0l2,0l2,0l2,0l2,0l2,0l2,0l2,0l2,0l2,0l2,0l2,0l2,0l2,0l0,2l0,2l0,2l0,2l0,2l0,2l0,2l0,2l0,2l0,2l0,2l0,2l0,2l0,2l0,2l0,2l0,2l0,2l0,2l0,2l0,2l0,2l0,2l0,2l0,2l0,2l0,2l0,2l0,2l0,2l0,2l0,2l0,2l0,2l0,2l0,2l0,2l0,2l0,2l0,2l0,2l0,2l0,2l0,2l0,2l0,2l0,2l0,2l0,2l0,2l0,2l0,2l0,2l0,2l0,2l0,2l0,2l0,2l0,2l0,2l0,2l0,2l0,2l0,2l0,2l0,2l0,2l0,2l0,2l0,2l0,2l0,2l0,2l0,2l0,2l0,2l0,2l0,2l0,2l0,2l0,2l0,2l0,2l0,2l0,2l0,2l0,2l0,2l0,2l0,2l0,2l0,2l0,2l-2,0.7l-2,0.8l-2,1l-2,0.9l-2,0.9l-1.4,0.7l-1.6,0.7l-2,0.9l-2,0.9l-2,0.7l-1.8,0.8l-1.7,1l-1.5,1l-2,0.8l-2,0.3l-2,0.1l-2,0.1l-2,0l-2,0.1l-2,0.1l-2,0.1l-2,0l-2,0.1l-2,0.1l-2,0l-2,0.1l-2,0.1l-2,0.1l-2,0.1l-2,0.2l-2,0.2l-2,0.2l-2,0.3l-2,0.2l-2,0.2l-2,0.2l-2,0.2l-2,0.3l-2,0.2l-2,0.1l-2,0.2l-2,0.1l-1.9,0.2l-2.1,0.2l-2,0.2l-2,0.2l-2,0.2l-2,0.2l-2,0.1l-2,0.2l-2,0.1l-2,0.2l-2,0.2l-2,0.1l-2,0.2l-2,0.1l-2,0.2l-2,0.3l-2,0.4l-2,0.4l-2,0.5l-2,0.4l-2,0.5l-2,0.5l-2,0.5l-2,0.5l-2,0.5l-2,0.5l-1.7,0.6l-2.3,0.8l-2,0.7l-1.6,0.5l-2.4,0.8l-2,0.7l-2,0.7l-2,0.6l-2,0.6l-2,0.4l-2,0.5l-2,0.6l-2,0.5l-2,0.4l-2,0.5l-2,0.5l-2,0.5l-2,0.5l-2,0.4l-2,0.5l-2,0.5l-2,0.5l-1.7,0.3l-2.3,0.3l-2,0.2l-2,0.2l-2,0.1l-2,0.2l-2,0.2l-2,0.1l-2,0.1l-2-0.3l-1.8-1.1l-1.2-1.8l-1-1.9l-1-1.1l-1.8-1.2l-2.2-0.8l-2-0.5l-1-1.7l0-2l0-2l0-2l0-2l0-2l0-2l0-2l0-2l0-2l0-2l0-2l0-2l0-2l0-2l0-2l0-2l0-2l0-2l0-2l0-2l0-2l0-2l0-2l0-2l0-2l0-2l0-2l0-2l0-2l0-2l0-2l0-2l0-2l0-2l0-2l0-2l0-2l0-2l0-2l0-2l0-2l0-2l0-2l0-2l0-2l0-2l0-2l0-2l0-2l0-2l0-2l0-2l0-2l0-2l0-2l0-2l0-2l0-2l0-2l0-2l0-2l0-2l0-2l0-2l0-2l0-2l0-2l0-2l0-2l0-2l0-2l0-2l0-2l0-2l0-2l0-2l0-2l0-2l0-2l0-2l0-2l0-2l0-2l0-2l0-2l0-2l0-2l0-2l0-2l0-2l0-2l0-2l0-2l0-2l0-2l0-2l0-2l0-2l0-2l0-2l0-2l0-2l0-2l0-2l0-2l0-2Z" fill="#00e4ff"/>
<path d="M145,55l2,0l2,0l2,0l2,0l2,0l2,0l2,0l2,0l2,0l2,0l2,0l2,0l2,0l2,0l2,0l2,0l2,0l2,0l2,0l2,0l2,0l2,0l2,0l2,0l2,0l2,0l2,0l2,0l2,0l2,0l2,0l2,0l2,0l2,0l2,0l2,0l2,0l2,0l2,0l2,0l2,0l2,0l2,0l2,0l2,0l2,0l2,0l2,0l2,0l2,0l2,0l2,0l2,0l2,0l2,0l2,0l2,0l2,0l2,0l2,0l2,0l2,0l2,0l2,0l2,0l2,0l2,0l2,0l2,0l2,0l2,0l2,0l2,0l2,0l2,0l2,0l2,0l2,0l2,0l2,0l2,0l2,0l2,0l2,0l2,0l2,0l2,0l2,0l2,0l2,0l2,0l2,0l2,0l2,0l2,0l2,0l2,0l2,0l2,0l2,0l2,0l2,0l2,0l2,0l2,0l0,2l0,2l0,2l0,2l0,2l0,2l0,2l0,2l0,2l0,2l0,2l0,2l0,2l0,2l0,2l0,2l0,2l0,2l0,2l0,2l0,2l0,2l0,2l0,2l0,2l0,2l0,2l0,2l0,2l0,2l0,2l0,2l0,2l0,2l0,2l0,2l0,2l0,2l0,2l0,2l0,2l0,2l0,2l0,2l0,2l0,2l0,2l0,2l0,2l0,2l0,2l0,2l0,2l0,2l0,2l0,2l0,2l0,2l0,2l0,2l0,2l0,2l0,2l0,2l0,2l0,2l0,2l0,2l0,2l0,2l0,2l0,2l0,2l0,2l0,2l0,2l0,2l0,2l0,2l0,2l0,2l0,2l0,2l0,2l0,2l0,2l0,2l0,2l0,2l0,2l-1,1.7l-2,0.7l-1.4,0.6l-1.6,0.8l-2,0.9l-2,1l-2,1l-2,0.9l-2,1l-2,1l-2,0.9l-2,0.9l-2,1.3l-1.9,1.3l-2.1,0.8l-2,0.2l-2,0.1l-2,0.1l-2,0.1l-2,0l-2,0.1l-2,0.1l-2,0.1l-2,0l-2,0.1l-2,0.1l-2,0l-2,0.1l-2,0.2l-2,0.1l-2,0.2l-2,0.2l-2,0.2l-2,0.2l-2,0.2l-2,0.2l-2,0.1l-2,0.2l-2,0.2l-2,0.2l-2,0.1l-2,0.1l-2,0.1l-2,0.1l-2,0.1l-2,0.1l-2,0.2l-2,0.1l-2,0.1l-2,0.1l-2,0.1l-2,0.1l-2,0.1l-2,0.1l-2,0.1l-2,0.1l-2,0.1l-2,0.2l-2,0.4l-2,0.4l-2,0.5l-2,0.5l-2,0.6l-2,0.5l-2,0.5l-1.8,0.5l-2.2,0.6l-2,0.6l-2,0.7l-2,0.8l-2,0.7l-1.5,0.6l-1.5,0.6l-2,0.8l-1.5,0.6l-1.5,0.6l-2,0.7l-1.8,0.7l-2.2,0.7l-2,0.7l-2,0.6l-2,0.6l-2,0.6l-2,0.6l-2,0.6l-1.8,0.6l-2.2,0.6l-2,0.6l-2,0.6l-2,0.6l-2,0.5l-2,0.4l-2,0.3l-2,0.2l-2,0.2l-2,0.2l-2,0.2l-2,0.1l-2,0.1l-2-0.1l-2-1l-1-1.5l-0.7-2l-0.9-2l-1.4-1.9l-1.8-1.1l-2.2-0.9l-2-0.6l-2-0.3l0-2.2l0-2l0-2l0-2l0-2l0-2l0-2l0-2l0-2l0-2l0-2l0-2l0-2l0-2l0-2l0-2l0-2l0-2l0-2l0-2l0-2l0-2l0-2l0-2l0-2l0-2l0-2l0-2l0-2l0-2l0-2l0-2l0-2l0-2l0-2l0-2l0-2l0-2l0-2l0-2l0-2l0-2l0-2l0-2l0-2l0-2l0-2l0-2l0-2l0-2l0-2l0-2l0-2l0-2l0-2l0-2l0-2l0-2l0-2l0-2l0-2l0-2l0-2l0-2l0-2l0-2l0-2l0-2l0-2l0-2l0-2l0-2l0-2l0-2l0-2l0-2l0-2l0-2l0-2l0-2l0-2l0-2l0-2l0-2l0-2l0-2l0-2l0-2l0-2l0-2l0-2l0-2l0-2l0-2l0-2l0-2l0-2l0-2l0-2l0-2l0-2l0-2l0-2l0-2l0-2Z" fill="#00faff"/>
<path d="M145,55l2,0l2,0l2,0l2,0l2,0l2,0l2,0l2,0l2,0l2,0l2,0l2,0l2,0l2,0l2,0l2,0l2,0l2,0l2,0l2,0l2,0l2,0l2,0l2,0l2,0l2,0l2,0l2,0l2,0l2,0l2,0l2,0l2,0l2,0l2,0l2,0l2,0l2,0l2,0l2,0l2,0l2,0l2,0l2,0l2,0l2,0l2,0l2,0l2,0l2,0l2,0l2,0l2,0l2,0l2,0l2,0l2,0l2,0l2,0l2,0l2,0l2,0l2,0l2,0l2,0l2,0l2,0l2,0l2,0l2,0l2,0l2,0l2,0l2,0l2,0l2,0l2,0l2,0l2,0l2,0l2,0l2,0l2,0l2,0l2,0l2,0l2,0l2,0l2,0l2,0l2,0l2,0l2,0l2,0l2,0l2,0l2,0l2,0l2,0l2,0l2,0l2,0l2,0l2,0l2,0l0,2l0,2l0,2l0,2l0,2l0,2l0,2l0,2l0,2l0,2l0,2l0,2l0,2l0,2l0,2l0,2l0,2l0,2l0,2l0,2l0,2l0,2l0,2l0,2l0,2l0,2l0,2l0,2l0,2l0,2l0,2l0,2l0,2l0,2l0,2l0,2l0,2l0,2l0,2l0,2l0,2l0,2l0,2l0,2l0,2l0,2l0,2l0,2l0,2l0,2l0,2l0,2l0,2l0,2l0,2l0,2l0,2l0,2l0,2l0,2l0,2l0,2l0,2l0,2l0,2l0,2l0,2l0,2l0,2l0,2l0,2l0,2l0,2l0,2l0,2l0,2l0,2l0,2l0,2l0,2l0,2l0,2l0,2l0,2l0,2l0,2l0,2l0,2l0,2l-1,1.2l-2,0.5l-2,0.9l-2,0.9l-2,0.9l-1.5,0.6l-1.5,0.7l-2,0.9l-2,0.8l-2,0.9l-1.6,0.7l-2.4,1l-2,0.9l-1.6,1.1l-1.4,1l-2,0.9l-2,0.3l-2,0.1l-2,0.1l-2,0l-2,0.1l-2,0.1l-2,0.1l-2,0.1l-2,0l-2,0.1l-2,0.1l-2,0.1l-2,0.1l-2,0.1l-2,0.2l-2,0.1l-2,0.2l-2,0.1l-2,0.2l-2,0.2l-2,0.1l-2,0.2l-2,0.1l-2,0.2l-2,0.1l-2,0.1l-2,0l-2,0.1l-2,0.1l-2,0l-2,0.1l-2,0.1l-2,0l-2,0.1l-2,0.1l-2,0.1l-2,0.1l-2,0.1l-2,0.1l-2,0.1l-2,0.1l-2,0.2l-2,0.2l-2,0.4l-2,0.5l-2,0.6l-2,0.6l-2,0.5l-2,0.6l-2,0.6l-1.8,0.5l-2.2,0.7l-2,0.6l-1.7,0.7l-2.3,0.9l-2,0.9l-2,0.8l-2,0.8l-2,0.9l-1.7,0.7l-2.3,1l-2,0.8l-2,0.7l-2,0.7l-2,0.7l-2,0.7l-2,0.7l-2,0.6l-2,0.7l-2,0.7l-2,0.7l-2,0.6l-2,0.6l-2,0.7l-2,0.5l-2,0.4l-2,0.3l-2,0.2l-2,0.1l-2,0.2l-2,0.2l-2,0.1l-2-0.2l-1.4-0.7l-1.2-2l-0.7-2l-0.7-2l-1-2l-1-1l-1.9-1l-2.1-0.8l-2-0.6l-2-0.4l-1-1.2l0-2l0-2l0-2l0-2l0-2l0-2l0-2l0-2l0-2l0-2l0-2l0-2l0-2l0-2l0-2l0-2l0-2l0-2l0-2l0-2l0-2l0-2l0-2l0-2l0-2l0-2l0-2l0-2l0-2l0-2l0-2l0-2l0-2l0-2l0-2l0-2l0-2l0-2l0-2l0-2l0-2l0-2l0-2l0-2l0-2l0-2l0-2l0-2l0-2l0-2l0-2l0-2l0-2l0-2l0-2l0-2l0-2l0-2l0-2l0-2l0-2l0-2l0-2l0-2l0-2l0-2l0-2l0-2l0-2l0-2l0-2l0-2l0-2l0-2l0-2l0-2l0-2l0-2l0-2l0-2l0-2l0-2l0-2l0-2l0-2l0-2l0-2l0-2l0-2l0-2l0-2l0-2l0-2l0-2l0-2l0-2l0-2l0-2l0-2l0-2l0-2l0-2l0-2Z" fill="#00ffea"/>
<path d="M145,55l2,0l2,0l2,0l2,0l2,0l2,0l2,0l2,0l2,0l2,0l2,0l2,0l2,0l2,0l2,0l2,0l2,0l2,0l2,0l2,0l2,0l2,0l2,0l2,0l2,0l2,0l2,0l2,0l2,0l2,0l2,0l2,0l2,0l2,0l2,0l2,0l2,0l2,0l2,0l2,0l2,0l2,0l2,0l2,0l2,0l2,0l2,0l2,0l2,0l2,0l2,0l2,0l2,0l2,0l2,0l2,0l2,0l2,0l2,0l2,0l2,0l2,0l2,0l2,0l2,0l2,0l2,0l2,0l2,0l2,0l2,0l2,0l2,0l2,0l2,0l2,0l2,0l2,0l2,0l2,0l2,0l2,0l2,0l2,0l2,0l2,0l2,0l2,0l2,0l2,0l2,0l2,0l2,0l2,0l2,0l2,0l2,0l2,0l2,0l2,0l2,0l2,0l2,0l2,0l2,0l0,2l0,2l0,2l0,2l0,2l0,2l0,2l0,2l0,2l0,2l0,2l0,2l0,2l0,2l0,2l0,2l0,2l0,2l0,2l0,2l0,2l0,2l0,2l0,2l0,2l0,2l0,2l0,2l0,2l0,2l0,2l0,2l0,2l0,2l0,2l0,2l0,2l0,2l0,2l0,2l0,2l0,2l0,2l0,2l0,2l0,2l0,2l0,2l0,2l0,2l0,2l0,2l0,2l0,2l0,2l0,2l0,2l0,2l0,2l0,2l0,2l0,2l0,2l0,2l0,2l0,2l0,2l0,2l0,2l0,2l0,2l0,2l0,2l0,2l0,2l0,2l0,2l0,2l0,2l0,2l0,2l0,2l0,2l0,2l0,2l0,2l0,2l0,2l-1,1.8l-2,0.6l-1.5,0.6l-1.5,0.6l-2,0.9l-2,0.8l-1.6,0.7l-1.4,0.6l-2,0.8l-2,0.9l-1.8,0.7l-2.2,0.8l-2,0.8l-2,0.8l-2,1.1l-2,1.1l-1.6,0.4l-2.4,0.2l-2,0.1l-2,0.1l-2,0.1l-2,0.1l-2,0.1l-2,0.1l-2,0.1l-2,0.1l-2,0l-2,0.1l-2,0.2l-2,0.1l-2,0.1l-2,0.2l-2,0.1l-2,0.1l-2,0.1l-2,0.2l-2,0.1l-2,0.1l-2,0.2l-2,0.1l-2,0.1l-2,0l-2,0.1l-2,0l-2,0.1l-2,0l-2,0.1l-2,0.1l-2,0l-2,0.1l-2,0.1l-2,0.1l-2,0.2l-2,0.1l-2,0.1l-2,0.2l-2,0.1l-2,0.2l-2,0.3l-1.7,0.3l-2.3,0.6l-2,0.6l-2,0.6l-2,0.6l-2,0.6l-2,0.6l-2,0.6l-2,0.6l-2,0.7l-2,0.8l-1.7,0.7l-2.3,1l-2,0.9l-2,0.8l-2,0.9l-2,0.8l-2,0.9l-1.7,0.7l-2.3,0.9l-2,0.8l-2,0.7l-1.8,0.6l-2.2,0.8l-2,0.7l-1.5,0.5l-1.5,0.5l-2,0.7l-2,0.7l-2,0.7l-2,0.7l-2,0.6l-2,0.5l-2,0.3l-2,0.2l-2,0.2l-2,0.1l-2,0.2l-2,0l-2-0.1l-2-1.2l-1-2.1l-0.6-2l-0.7-2l-0.7-1.3l-1-1.1l-2-1.2l-2-0.7l-2-0.7l-2-0.5l-2-0.3l0-2.2l0-2l0-2l0-2l0-2l0-2l0-2l0-2l0-2l0-2l0-2l0-2l0-2l0-2l0-2l0-2l0-2l0-2l0-2l0-2l0-2l0-2l0-2l0-2l0-2l0-2l0-2l0-2l0-2l0-2l0-2l0-2l0-2l0-2l0-2l0-2l0-2l0-2l0-2l0-2l0-2l0-2l0-2l0-2l0-2l0-2l0-2l0-2l0-2l0-2l0-2l0-2l0-2l0-2l0-2l0-2l0-2l0-2l0-2l0-2l0-2l0-2l0-2l0-2l0-2l0-2l0-2l0-2l0-2l0-2l0-2l0-2l0-2l0-2l0-2l0-2l0-2l0-2l0-2l0-2l0-2l0-2l0-2l0-2l0-2l0-2l0-2l0-2l0-2l0-2l0-2l0-2l0-2l0-2l0-2l0-2l0-2l0-2l0-2l0-2l0-2l0-2Z" fill="#00ffd2"/>
<path d="M145,55l2,0l2,0l2,0l2,0l2,0l2,0l2,0l2,0l2,0l2,0l2,0l2,0l2,0l2,0l2,0l2,0l2,0l2,0l2,0l2,0l2,0l2,0l2,0l2,0l2,0l2,0l2,0l2,0l2,0l2,0l2,0l2,0l2,0l2,0l2,0l2,0l2,0l2,0l2,0l2,0l2,0l2,0l2,0l2,0l2,0l2,0l2,0l2,0l2,0l2,0l2,0l2,0l2,0l2,0l2,0l2,0l2,0l2,0l2,0l2,0l2,0l2,0l2,0l2,0l2,0l2,0l2,0l2,0l2,0l2,0l2,0l2,0l2,0l2,0l2,0l2,0l2,0l2,0l2,0l2,0l2,0l2,0l2,0l2,0l2,0l2,0l2,0l2,0l2,0l2,0l2,0l2,0l2,0l2,0l2,0l2,0l2,0l2,0l2,0l2,0l2,0l2,0l2,0l2,0l2,0l0,2l0,2l0,2l0,2l0,2l0,2l0,2l0,2l0,2l0,2l0,2l0,2l0,2l0,2l0,2l0,2l0,2l0,2l0,2l0,2l0,2l0,2l0,2l0,2l0,2l0,2l0,2l0,2l0,2l0,2l0,2l0,2l0,2l0,2l0,2l0,2l0,2l0,2l0,2l0,2l0,2l0,2l0,2l0,2l0,2l0,2l0,2l0,2l0,2l0,2l0,2l0,2l0,2l0,2l0,2l0,2l0,2l0,2l0,2l0,2l0,2l0,2l0,2l0,2l0,2l0,2l0,2l0,2l0,2l0,2l0,2l0,2l0,2l0,2l0,2l0,2l0,2l0,2l0,2l0,2l0,2l0,2l0,2l0,2l0,2l0,2l0,2l0,2l-2,0.8l-2,0.7l-2,0.8l-1.7,0.7l-2.3,1l-2,0.8l-2,0.8l-2,0.8l-1.5,0.6l-1.5,0.6l-2,0.7l-2,0.7l-2,0.6l-2,0.7l-1.5,0.7l-1.5,0.6l-2,0.4l-2,0.2l-2,0.1l-2,0.1l-2,0.1l-2,0.1l-2,0.1l-2,0.1l-2,0.1l-2,0.1l-2,0.1l-2,0.1l-2,0.1l-2,0.1l-2,0.2l-2,0.1l-2,0.1l-2,0.1l-2,0.1l-2,0.1l-2,0.1l-2,0.1l-2,0.1l-2,0l-2,0.1l-2,0l-2,0.1l-2,0l-2,0.1l-2,0l-2,0.1l-2,0l-2,0.1l-2,0.1l-2,0.2l-2,0.1l-2,0.2l-2,0.2l-2,0.2l-2,0.2l-2,0.2l-2,0.2l-2,0.4l-2,0.5l-2,0.6l-2,0.6l-2,0.6l-2,0.7l-2,0.6l-1.6,0.5l-2.4,0.8l-2,0.7l-2,0.7l-1.9,0.8l-2.1,0.9l-2,0.9l-2,0.8l-2,0.9l-2,0.9l-1.4,0.6l-1.6,0.7l-2,0.8l-2,0.8l-1.7,0.7l-2.3,0.8l-2,0.7l-2,0.8l-2,0.7l-2,0.7l-2,0.7l-1.7,0.6l-2.3,0.8l-2,0.7l-2,0.7l-2,0.6l-2,0.4l-2,0.2l-2,0.1l-2,0.2l-2,0.1l-2,0l-2-0.1l-1.6-0.7l-1.4-2l-0.7-2l-0.6-2l-0.7-1.5l-1-1.3l-1.8-1.2l-2.2-0.8l-2-0.7l-1.6-0.5l-2.4-0.6l-1-1.4l0-2l0-2l0-2l0-2l0-2l0-2l0-2l0-2l0-2l0-2l0-2l0-2l0-2l0-2l0-2l0-2l0-2l0-2l0-2l0-2l0-2l0-2l0-2l0-2l0-2l0-2l0-2l0-2l0-2l0-2l0-2l0-2l0-2l0-2l0-2l0-2l0-2l0-2l0-2l0-2l0-2l0-2l0-2l0-2l0-2l0-2l0-2l0-2l0-2l0-2l0-2l0-2l0-2l0-2l0-2l0-2l0-2l0-2l0-2l0-2l0-2l0-2l0-2l0-2l0-2l0-2l0-2l0-2l0-2l0-2l0-2l0-2l0-2l0-2l0-2l0-2l0-2l0-2l0-2l0-2l0-2l0-2l0-2l0-2l0-2l0-2l0-2l0-2l0-2l0-2l0-2l0-2l0-2l0-2l0-2l0-2l0-2l0-2l0-2l0-2l0-2Z" fill="#00ffbd"/>
<path d="M145,55l2,0l2,0l2,0l2,0l2,0l2,0l2,0l2,0l2,0l2,0l2,0l2,0l2,0l2,0l2,0l2,0l2,0l2,0l2,0l2,0l2,0l2,0l2,0l2,0l2,0l2,0l2,0l2,0l2,0l2,0l2,0l2,0l2,0l2,0l2,0l2,0l2,0l2,0l2,0l2,0l2,0l2,0l2,0l2,0l2,0l2,0l2,0l2,0l2,0l2,0l2,0l2,0l2,0l2,0l2,0l2,0l2,0l2,0l2,0l2,0l2,0l2,0l2,0l2,0l2,0l2,0l2,0l2,0l2,0l2,0l2,0l2,0l2,0l2,0l2,0l2,0l2,0l2,0l2,0l2,0l2,0l2,0l2,0l2,0l2,0l2,0l2,0l2,0l2,0l2,0l2,0l2,0l2,0l2,0l2,0l2,0l2,0l2,0l2,0l2,0l2,0l2,0l2,0l2,0l2,0l0,2l0,2l0,2l0,2l0,2l0,2l0,2l0,2l0,2l0,2l0,2l0,2l0,2l0,2l0,2l0,2l0,2l0,2l0,2l0,2l0,2l0,2l0,2l0,2l0,2l0,2l0,2l0,2l0,2l0,2l0,2l0,2l0,2l0,2l0,2l0,2l0,2l0,2l0,2l0,2l0,2l0,2l0,2l0,2l0,2l0,2l0,2l0,2l0,2l0,2l0,2l0,2l0,2l0,2l0,2l0,2l0,2l0,2l0,2l0,2l0,2l0,2l0,2l0,2l0,2l0,2l0,2l0,2l0,2l0,2l0,2l0,2l0,2l0,2l0,2l0,2l0,2l0,2l0,2l0,2l0,2l0,2l0,2l0,2l0,2l0,2l0,2l-1,1.5l-1.9,0.5l-2.1,0.7l-2,0.9l-2,0.8l-2,0.9l-1.8,0.7l-2.2,0.9l-2,0.8l-2,0.7l-1.5,0.6l-1.5,0.5l-1.6,0.5l-2.4,0.6l-2,0.6l-2,0.6l-2,0.5l-2,0.2l-2,0.1l-2,0.1l-2,0.1l-2,0.1l-2,0.2l-2,0.1l-2,0.1l-2,0.1l-2,0.1l-2,0.1l-2,0.1l-2,0.2l-2,0.1l-2,0.1l-2,0l-2,0.1l-2,0.1l-2,0.1l-2,0l-2,0.1l-2,0.1l-2,0.1l-2,0l-2,0.1l-2,0l-2,0l-2,0.1l-2,0l-2,0.1l-2,0l-2,0.1l-2,0.1l-2,0.2l-2,0.2l-2,0.3l-2,0.2l-2,0.2l-2,0.3l-2,0.2l-2,0.3l-2,0.3l-2,0.5l-2,0.6l-2,0.7l-2,0.6l-2,0.7l-2,0.7l-2,0.6l-2,0.7l-2,0.7l-2,0.8l-2,0.8l-2,0.8l-2,0.9l-2,0.9l-1.4,0.6l-1.6,0.7l-2,0.9l-2,0.8l-2,0.9l-1.7,0.7l-2.3,0.9l-2,0.7l-2,0.7l-1.8,0.7l-2.2,0.8l-2,0.7l-2,0.7l-2,0.7l-2,0.7l-2,0.7l-2,0.7l-2,0.6l-2,0.4l-2,0.2l-2,0.1l-2,0.1l-2,0.1l-2,0l-2-0.3l-1.7-1.2l-1-2l-0.7-2l-0.6-1.8l-1-1.8l-1-1.1l-2-1l-2-0.8l-1.7-0.5l-2.3-0.7l-2-0.5l-1-1.8l0-2l0-2l0-2l0-2l0-2l0-2l0-2l0-2l0-2l0-2l0-2l0-2l0-2l0-2l0-2l0-2l0-2l0-2l0-2l0-2l0-2l0-2l0-2l0-2l0-2l0-2l0-2l0-2l0-2l0-2l0-2l0-2l0-2l0-2l0-2l0-2l0-2l0-2l0-2l0-2l0-2l0-2l0-2l0-2l0-2l0-2l0-2l0-2l0-2l0-2l0-2l0-2l0-2l0-2l0-2l0-2l0-2l0-2l0-2l0-2l0-2l0-2l0-2l0-2l0-2l0-2l0-2l0-2l0-2l0-2l0-2l0-2l0-2l0-2l0-2l0-2l0-2l0-2l0-2l0-2l0-2l0-2l0-2l0-2l0-2l0-2l0-2l0-2l0-2l0-2l0-2l0-2l0-2l0-2l0-2l0-2l0-2l0-2l0-2l0-2Z" fill="#00ffa5"/>
<path d="M145,55l2,0l2,0l2,0l2,0l2,0l2,0l2,0l2,0l2,0l2,0l2,0l2,0l2,0l2,0l2,0l2,0l2,0l2,0l2,0l2,0l2,0l2,0l2,0l2,0l2,0l2,0l2,0l2,0l2,0l2,0l2,0l2,0l2,0l2,0l2,0l2,0l2,0l2,0l2,0l2,0l2,0l2,0l2,0l2,0l2,0l2,0l2,0l2,0l2,0l2,0l2,0l2,0l2,0l2,0l2,0l2,0l2,0l2,0l2,0l2,0l2,0l2,0l2,0l2,0l2,0l2,0l2,0l2,0l2,0l2,0l2,0l2,0l2,0l2,0l2,0l2,0l2,0l2,0l2,0l2,0l2,0l2,0l2,0l2,0l2,0l2,0l2,0l2,0l2,0l2,0l2,0l2,0l2,0l2,0l2,0l2,0l2,0l2,0l2,0l2,0l2,0l2,0l2,0l2,0l2,0l0,2l0,2l0,2l0,2l0,2l0,2l0,2l0,2l0,2l0,2l0,2l0,2l0,2l0,2l0,2l0,2l0,2l0,2l0,2l0,2l0,2l0,2l0,2l0,2l0,2l0,2l0,2l0,2l0,2l0,2l0,2l0,2l0,2l0,2l0,2l0,2l0,2l0,2l0,2l0,2l0,2l0,2l0,2l0,2l0,2l0,2l0,2l0,2l0,2l0,2l0,2l0,2l0,2l0,2l0,2l0,2l0,2l0,2l0,2l0,2l0,2l0,2l0,2l0,2l0,2l0,2l0,2l0,2l0,2l0,2l0,2l0,2l0,2l0,2l0,2l0,2l0,2l0,2l0,2l0,2l0,2l0,2l0,2l0,2l0,2l0,2l-1.4,1l-2.6,0.8l-2,0.8l-2,0.9l-2,0.9l-2,0.9l-1.6,0.7l-2.4,1l-2,0.8l-2,0.9l-2,0.7l-1.7,0.6l-2.3,0.5l-2,0.3l-2,0.3l-2,0.4l-2,0.2l-2,0.2l-2,0.1l-2,0.1l-2,0.1l-2,0.2l-2,0.1l-2,0.1l-2,0.1l-2,0.2l-2,0.1l-2,0.1l-2,0.1l-2,0.1l-2,0.1l-2,0l-2,0.1l-2,0l-2,0.1l-2,0l-2,0.1l-2,0l-2,0.1l-2,0.1l-2,0l-2,0l-2,0.1l-2,0l-2,0.1l-2,0.1l-2,0l-2,0.2l-2,0.1l-2,0.3l-1.8,0.2l-2.2,0.3l-2,0.3l-2,0.3l-2,0.3l-2,0.3l-2,0.3l-2,0.4l-2,0.6l-2,0.6l-1.9,0.6l-2.1,0.7l-2,0.7l-1.7,0.6l-2.3,0.8l-2,0.7l-2,0.7l-2,0.8l-2,0.8l-2,0.9l-2,0.8l-2,0.9l-2,0.9l-1.7,0.7l-2.3,1l-2,0.9l-2,0.8l-2,0.8l-2,0.8l-2,0.7l-2,0.7l-2,0.7l-1.6,0.6l-2.4,0.8l-2,0.7l-2,0.7l-2,0.7l-2,0.7l-2,0.6l-2,0.5l-1.9,0.3l-2.1,0.2l-2,0l-2,0.1l-2,0l-2-0.3l-1.6-1l-1.2-2l-0.7-2l-0.5-1.6l-1-2.4l-1-1.3l-2-1.1l-1.5-0.6l-1.5-0.5l-2-0.7l-2-0.6l-2-0.5l-1-1.7l0-2l0-2l0-2l0-2l0-2l0-2l0-2l0-2l0-2l0-2l0-2l0-2l0-2l0-2l0-2l0-2l0-2l0-2l0-2l0-2l0-2l0-2l0-2l0-2l0-2l0-2l0-2l0-2l0-2l0-2l0-2l0-2l0-2l0-2l0-2l0-2l0-2l0-2l0-2l0-2l0-2l0-2l0-2l0-2l0-2l0-2l0-2l0-2l0-2l0-2l0-2l0-2l0-2l0-2l0-2l0-2l0-2l0-2l0-2l0-2l0-2l0-2l0-2l0-2l0-2l0-2l0-2l0-2l0-2l0-2l0-2l0-2l0-2l0-2l0-2l0-2l0-2l0-2l0-2l0-2l0-2l0-2l0-2l0-2l0-2l0-2l0-2l0-2l0-2l0-2l0-2l0-2l0-2l0-2l0-2l0-2l0-2l0-2Z" fill="#00ff8a"/>
<path d="M145,55l2,0l2,0l2,0l2,0l2,0l2,0l2,0l2,0l2,0l2,0l2,0l2,0l2,0l2,0l2,0l2,0l2,0l2,0l2,0l2,0l2,0l2,0l2,0l2,0l2,0l2,0l2,0l2,0l2,0l2,0l2,0l2,0l2,0l2,0l2,0l2,0l2,0l2,0l2,0l2,0l2,0l2,0l2,0l2,0l2,0l2,0l2,0l2,0l2,0l2,0l2,0l2,0l2,0l2,0l2,0l2,0l2,0l2,0l2,0l2,0l2,0l2,0l2,0l2,0l2,0l2,0l2,0l2,0l2,0l2,0l2,0l2,0l2,0l2,0l2,0l2,0l2,0l2,0l2,0l2,0l2,0l2,0l2,0l2,0l2,0l2,0l2,0l2,0l2,0l2,0l2,0l2,0l2,0l2,0l2,0l2,0l2,0l2,0l2,0l2,0l2,0l2,0l2,0l2,0l2,0l0,2l0,2l0,2l0,2l0,2l0,2l0,2l0,2l0,2l0,2l0,2l0,2l0,2l0,2l0,2l0,2l0,2l0,2l0,2l0,2l0,2l0,2l0,2l0,2l0,2l0,2l0,2l0,2l0,2l0,2l0,2l0,2l0,2l0,2l0,2l0,2l0,2l0,2l0,2l0,2l0,2l0,2l0,2l0,2l0,2l0,2l0,2l0,2l0,2l0,2l0,2l0,2l0,2l0,2l0,2l0,2l0,2l0,2l0,2l0,2l0,2l0,2l0,2l0,2l0,2l0,2l0,2l0,2l0,2l0,2l0,2l0,2l0,2l0,2l0,2l0,2l0,2l0,2l0,2l0,2l0,2l0,2l0,2l0,2l-1,1.6l-2,0.7l-1.7,0.7l-2.1,1l-2.1,1l-2,1l-2.1,1l-2,1l-2,0.9l-2,1l-2,0.9l-2,0.9l-2,0.6l-2,0.4l-2,0.2l-2,0.2l-2,0.2l-2,0.2l-2,0.1l-2,0.1l-2,0.2l-2,0.1l-2,0.1l-2,0.1l-2,0.1l-2,0.2l-2,0.1l-2,0.1l-2,0.1l-2,0.1l-2,0l-2,0.1l-2,0l-2,0.1l-2,0l-2,0.1l-2,0.1l-2,0l-2,0.1l-2,0.1l-2,0l-2,0.1l-2,0l-2,0.1l-2,0.1l-2,0.1l-2,0.1l-2,0.2l-2,0.1l-2,0.3l-2,0.3l-2,0.3l-2,0.4l-2,0.3l-2,0.4l-2,0.3l-2,0.4l-2,0.4l-2,0.4l-2,0.6l-1.8,0.6l-2.2,0.8l-2,0.7l-1.6,0.5l-2.4,0.9l-2,0.7l-2,0.7l-2,0.7l-2,0.8l-2,0.8l-2,0.9l-2,0.8l-1.5,0.7l-1.5,0.6l-2,0.9l-2,0.8l-1.6,0.7l-1.4,0.6l-2,0.8l-1.5,0.6l-1.5,0.6l-2,0.7l-2,0.7l-2,0.7l-2,0.7l-1.7,0.6l-2.3,0.7l-2,0.7l-1.8,0.6l-2.2,0.7l-2,0.6l-2,0.5l-2,0.3l-2,0.1l-2,0.1l-2,0.1l-2-0.1l-2-0.5l-1.7-1.8l-0.8-2l-0.5-1.7l-0.7-2.3l-1.2-2l-1.1-0.9l-2-0.8l-2-0.7l-1.7-0.6l-2.3-0.8l-2-0.5l-2-0.3l0-2.4l0-2l0-2l0-2l0-2l0-2l0-2l0-2l0-2l0-2l0-2l0-2l0-2l0-2l0-2l0-2l0-2l0-2l0-2l0-2l0-2l0-2l0-2l0-2l0-2l0-2l0-2l0-2l0-2l0-2l0-2l0-2l0-2l0-2l0-2l0-2l0-2l0-2l0-2l0-2l0-2l0-2l0-2l0-2l0-2l0-2l0-2l0-2l0-2l0-2l0-2l0-2l0-2l0-2l0-2l0-2l0-2l0-2l0-2l0-2l0-2l0-2l0-2l0-2l0-2l0-2l0-2l0-2l0-2l0-2l0-2l0-2l0-2l0-2l0-2l0-2l0-2l0-2l0-2l0-2l0-2l0-2l0-2l0-2l0-2l0-2l0-2l0-2l0-2l0-2l0-2l0-2l0-2l0-2l0-2l0-2l0-2l0-2Z" fill="#00ff72"/>
<path d="M145,55l2,0l2,0l2,0l2,0l2,0l2,0l2,0l2,0l2,0l2,0l2,0l2,0l2,0l2,0l2,0l2,0l2,0l2,0l2,0l2,0l2,0l2,0l2,0l2,0l2,0l2,0l2,0l2,0l2,0l2,0l2,0l2,0l2,0l2,0l2,0l2,0l2,0l2,0l2,0l2,0l2,0l2,0l2,0l2,0l2,0l2,0l2,0l2,0l2,0l2,0l2,0l2,0l2,0l2,0l2,0l2,0l2,0l2,0l2,0l2,0l2,0l2,0l2,0l2,0l2,0l2,0l2,0l2,0l2,0l2,0l2,0l2,0l2,0l2,0l2,0l2,0l2,0l2,0l2,0l2,0l2,0l2,0l2,0l2,0l2,0l2,0l2,0l2,0l2,0l2,0l2,0l2,0l2,0l2,0l2,0l2,0l2,0l2,0l2,0l2,0l2,0l2,0l2,0l2,0l2,0l0,2l0,2l0,2l0,2l0,2l0,2l0,2l0,2l0,2l0,2l0,2l0,2l0,2l0,2l0,2l0,2l0,2l0,2l0,2l0,2l0,2l0,2l0,2l0,2l0,2l0,2l0,2l0,2l0,2l0,2l0,2l0,2l0,2l0,2l0,2l0,2l0,2l0,2l0,2l0,2l0,2l0,2l0,2l0,2l0,2l0,2l0,2l0,2l0,2l0,2l0,2l0,2l0,2l0,2l0,2l0,2l0,2l0,2l0,2l0,2l0,2l0,2l0,2l0,2l0,2l0,2l0,2l0,2l0,2l0,2l0,2l0,2l0,2l0,2l0,2l0,2l0,2l0,2l0,2l0,2l0,2l0,2l0,2l-1,1.4l-1.9,0.6l-2.1,0.9l-2,0.9l-2,1l-2,0.9l-2,0.9l-2,1l-2,0.9l-2,0.9l-2,1l-2,0.9l-1.7,0.7l-2.3,0.7l-2,0.2l-2,0l-2,0.1l-2,0.1l-2,0.1l-2,0.1l-2,0.1l-2,0.1l-2,0.1l-2,0.1l-2,0.1l-2,0.1l-2,0.1l-2,0.1l-2,0.1l-2,0.1l-2,0l-2,0.1l-2,0l-2,0.1l-2,0.1l-2,0.1l-2,0l-2,0.1l-2,0.1l-2,0.1l-2,0.2l-2,0l-2,0.1l-2,0.1l-2,0.1l-2,0.2l-2,0.2l-2,0.2l-2,0.3l-2,0.2l-2,0.4l-2,0.4l-2,0.4l-2,0.4l-2,0.4l-2,0.4l-2,0.4l-2,0.4l-2,0.5l-2,0.5l-2,0.7l-2,0.7l-2,0.7l-2,0.7l-2,0.7l-2,0.7l-2,0.7l-2,0.8l-2,0.7l-1.9,0.8l-2.1,0.9l-2,0.8l-2,0.8l-2,0.9l-1.6,0.6l-2.4,1l-2,0.8l-2,0.8l-2,0.8l-1.6,0.6l-2.4,0.8l-2,0.7l-2,0.7l-2,0.7l-2,0.6l-2,0.6l-2,0.6l-2,0.6l-2,0.6l-2,0.5l-2,0.4l-2,0.3l-2,0.1l-2,0.1l-2,0l-1.9-0.3l-1.4-1l-1.1-2l-0.6-1.9l-0.5-2.1l-0.9-2l-1.6-1.4l-2-0.9l-2-0.7l-2-0.7l-2-0.6l-2-0.7l-2-0.4l-1-1.6l0-2l0-2l0-2l0-2l0-2l0-2l0-2l0-2l0-2l0-2l0-2l0-2l0-2l0-2l0-2l0-2l0-2l0-2l0-2l0-2l0-2l0-2l0-2l0-2l0-2l0-2l0-2l0-2l0-2l0-2l0-2l0-2l0-2l0-2l0-2l0-2l0-2l0-2l0-2l0-2l0-2l0-2l0-2l0-2l0-2l0-2l0-2l0-2l0-2l0-2l0-2l0-2l0-2l0-2l0-2l0-2l0-2l0-2l0-2l0-2l0-2l0-2l0-2l0-2l0-2l0-2l0-2l0-2l0-2l0-2l0-2l0-2l0-2l0-2l0-2l0-2l0-2l0-2l0-2l0-2l0-2l0-2l0-2l0-2l0-2l0-2l0-2l0-2l0-2l0-2l0-2l0-2l0-2l0-2l0-2l0-2Z" fill="#00ff5a"/>
<path d="M145,55l2,0l2,0l2,0l2,0l2,0l2,0l2,0l2,0l2,0l2,0l2,0l2,0l2,0l2,0l2,0l2,0l2,0l2,0l2,0l2,0l2,0l2,0l2,0l2,0l2,0l2,0l2,0l2,0l2,0l2,0l2,0l2,0l2,0l2,0l2,0l2,0l2,0l2,0l2,0l2,0l2,0l2,0l2,0l2,0l2,0l2,0l2,0l2,0l2,0l2,0l2,0l2,0l2,0l2,0l2,0l2,0l2,0l2,0l2,0l2,0l2,0l2,0l2,0l2,0l2,0l2,0l2,0l2,0l2,0l2,0l2,0l2,0l2,0l2,0l2,0l2,0l2,0l2,0l2,0l2,0l2,0l2,0l2,0l2,0l2,0l2,0l2,0l2,0l2,0l2,0l2,0l2,0l2,0l2,0l2,0l2,0l2,0l2,0l2,0l2,0l2,0l2,0l2,0l2,0l2,0l0,2l0,2l0,2l0,2l0,2l0,2l0,2l0,2l0,2l0,2l0,2l0,2l0,2l0,2l0,2l0,2l0,2l0,2l0,2l0,2l0,2l0,2l0,2l0,2l0,2l0,2l0,2l0,2l0,2l0,2l0,2l0,2l0,2l0,2l0,2l0,2l0,2l0,2l0,2l0,2l0,2l0,2l0,2l0,2l0,2l0,2l0,2l0,2l0,2l0,2l0,2l0,2l0,2l0,2l0,2l0,2l0,2l0,2l0,2l0,2l0,2l0,2l0,2l0,2l0,2l0,2l0,2l0,2l0,2l0,2l0,2l0,2l0,2l0,2l0,2l0,2l0,2l0,2l0,2l0,2l0,2l0,2l-1,1.9l-2,0.6l-2,0.9l-1.5,0.6l-1.5,0.7l-2,0.9l-2,0.9l-2,0.9l-1.5,0.6l-1.5,0.7l-2,0.8l-2,0.9l-2,0.9l-1.7,0.7l-2.3,0.8l-2,0.2l-2,0l-2-0.1l-2,0l-2,0l-2,0l-2,0.1l-2,0.1l-2,0.1l-2,0.1l-2,0.1l-2,0l-2,0.1l-2,0.1l-2,0.1l-2,0l-2,0l-2,0.1l-2,0l-2,0.1l-2,0.2l-2,0.1l-2,0.1l-2,0.1l-2,0.1l-2,0.2l-2,0.1l-2,0.2l-2,0.1l-2,0.1l-2,0.2l-2,0.2l-2,0.3l-2,0.3l-2,0.3l-2,0.3l-2,0.4l-2,0.4l-1.7,0.4l-2.3,0.5l-2,0.5l-2,0.4l-2,0.5l-2,0.4l-2,0.5l-2,0.6l-1.9,0.6l-2.1,0.7l-2,0.7l-1.6,0.6l-2.4,0.8l-2,0.7l-2,0.8l-2,0.7l-2,0.7l-2,0.8l-2,0.8l-1.8,0.7l-2.2,0.9l-2,0.8l-2,0.8l-2,0.8l-1.8,0.7l-2.2,0.9l-2,0.7l-2,0.7l-1.9,0.7l-2.1,0.7l-2,0.7l-1.7,0.6l-2.3,0.7l-2,0.5l-2,0.6l-2,0.5l-2,0.5l-2,0.5l-2,0.4l-2,0.3l-2,0.1l-2,0.1l-2,0l-2-0.6l-1-1l-0.7-1.6l-0.6-2l-0.6-2l-1.1-2l-1.4-1l-1.6-0.7l-2-0.7l-1.9-0.6l-2.1-0.7l-2-0.7l-2-0.5l-2-0.3l0-2.8l0-2l0-2l0-2l0-2l0-2l0-2l0-2l0-2l0-2l0-2l0-2l0-2l0-2l0-2l0-2l0-2l0-2l0-2l0-2l0-2l0-2l0-2l0-2l0-2l0-2l0-2l0-2l0-2l0-2l0-2l0-2l0-2l0-2l0-2l0-2l0-2l0-2l0-2l0-2l0-2l0-2l0-2l0-2l0-2l0-2l0-2l0-2l0-2l0-2l0-2l0-2l0-2l0-2l0-2l0-2l0-2l0-2l0-2l0-2l0-2l0-2l0-2l0-2l0-2l0-2l0-2l0-2l0-2l0-2l0-2l0-2l0-2l0-2l0-2l0-2l0-2l0-2l0-2l0-2l0-2l0-2l0-2l0-2l0-2l0-2l0-2l0-2l0-2l0-2l0-2l0-2l0-2l0-2l0-2l0-2Z" fill="#00ff42"/>
<path d="M145,55l2,0l2,0l2,0l2,0l2,0l2,0l2,0l2,0l2,0l2,0l2,0l2,0l2,0l2,0l2,0l2,0l2,0l2,0l2,0l2,0l2,0l2,0l2,0l2,0l2,0l2,0l2,0l2,0l2,0l2,0l2,0l2,0l2,0l2,0l2,0l2,0l2,0l2,0l2,0l2,0l2,0l2,0l2,0l2,0l2,0l2,0l2,0l2,0l2,0l2,0l2,0l2,0l2,0l2,0l2,0l2,0l2,0l2,0l2,0l2,0l2,0l2,0l2,0l2,0l2,0l2,0l2,0l2,0l2,0l2,0l2,0l2,0l2,0l2,0l2,0l2,0l2,0l2,0l2,0l2,0l2,0l2,0l2,0l2,0l2,0l2,0l2,0l2,0l2,0l2,0l2,0l2,0l2,0l2,0l2,0l2,0l2,0l2,0l2,0l2,0l2,0l2,0l2,0l2,0l2,0l0,2l0,2l0,2l0,2l0,2l0,2l0,2l0,2l0,2l0,2l0,2l0,2l0,2l0,2l0,2l0,2l0,2l0,2l0,2l0,2l0,2l0,2l0,2l0,2l0,2l0,2l0,2l0,2l0,2l0,2l0,2l0,2l0,2l0,2l0,2l0,2l0,2l0,2l0,2l0,2l0,2l0,2l0,2l0,2l0,2l0,2l0,2l0,2l0,2l0,2l0,2l0,2l0,2l0,2l0,2l0,2l0,2l0,2l0,2l0,2l0,2l0,2l0,2l0,2l0,2l0,2l0,2l0,2l0,2l0,2l0,2l0,2l0,2l0,2l0,2l0,2l0,2l0,2l0,2l0,2l0,2l0,2l-2,0.9l-2,0.7l-2,0.8l-1.4,0.6l-1.6,0.7l-2,0.8l-2,0.9l-2,0.9l-1.7,0.7l-2.3,0.9l-2,0.9l-2,0.8l-2,0.8l-1.9,0.6l-2.1,0.4l-2-0.1l-2-0.2l-2-0.4l-2-0.2l-2,0l-2,0l-2,0.1l-2,0l-2,0.1l-2,0.1l-2,0l-2,0.1l-2,0l-2,0.1l-2,0l-2,0l-2,0.1l-2,0l-2,0.2l-2,0.1l-2,0.2l-2,0.1l-2,0.2l-2,0.1l-2,0.2l-2,0.2l-2,0.2l-2,0.1l-2,0.2l-2,0.2l-2,0.2l-2,0.4l-1.7,0.3l-2.3,0.4l-2,0.5l-2,0.4l-2,0.5l-2,0.5l-2,0.5l-2,0.5l-2,0.5l-2,0.5l-2,0.5l-2,0.5l-2,0.6l-2,0.6l-2,0.7l-2,0.7l-2,0.7l-2,0.7l-2,0.7l-2,0.7l-2,0.7l-1.6,0.6l-2.4,0.9l-2,0.7l-2,0.8l-1.5,0.6l-1.5,0.6l-2,0.7l-1.8,0.7l-2.2,0.8l-2,0.8l-2,0.8l-1.8,0.6l-2.2,0.8l-2,0.7l-1.5,0.5l-2.5,0.8l-2,0.7l-2,0.5l-2,0.5l-2,0.5l-2,0.4l-2,0.4l-2,0.4l-2,0.4l-2,0.2l-2,0.2l-2,0.1l-2-0.5l-1.4-1.6l-0.8-2l-0.6-2l-1-2l-1.2-1.2l-1.5-0.8l-1.5-0.6l-2-0.6l-2-0.7l-2-0.6l-2-0.7l-2-0.5l-1.8-0.3l-0.2-2l0-2l0-2l0-2l0-2l0-2l0-2l0-2l0-2l0-2l0-2l0-2l0-2l0-2l0-2l0-2l0-2l0-2l0-2l0-2l0-2l0-2l0-2l0-2l0-2l0-2l0-2l0-2l0-2l0-2l0-2l0-2l0-2l0-2l0-2l0-2l0-2l0-2l0-2l0-2l0-2l0-2l0-2l0-2l0-2l0-2l0-2l0-2l0-2l0-2l0-2l0-2l0-2l0-2l0-2l0-2l0-2l0-2l0-2l0-2l0-2l0-2l0-2l0-2l0-2l0-2l0-2l0-2l0-2l0-2l0-2l0-2l0-2l0-2l0-2l0-2l0-2l0-2l0-2l0-2l0-2l0-2l0-2l0-2l0-2l0-2l0-2l0-2l0-2l0-2l0-2l0-2l0-2l0-2l0-2Z" fill="#00ff2a"/>
<path d="M145,55l2,0l2,0l2,0l2,0l2,0l2,0l2,0l2,0l2,0l2,0l2,0l2,0l2,0l2,0l2,0l2,0l2,0l2,0l2,0l2,0l2,0l2,0l2,0l2,0l2,0l2,0l2,0l2,0l2,0l2,0l2,0l2,0l2,0l2,0l2,0l2,0l2,0l2,0l2,0l2,0l2,0l2,0l2,0l2,0l2,0l2,0l2,0l2,0l2,0l2,0l2,0l2,0l2,0l2,0l2,0l2,0l2,0l2,0l2,0l2,0l2,0l2,0l2,0l2,0l2,0l2,0l2,0l2,0l2,0l2,0l2,0l2,0l2,0l2,0l2,0l2,0l2,0l2,0l2,0l2,0l2,0l2,0l2,0l2,0l2,0l2,0l2,0l2,0l2,0l2,0l2,0l2,0l2,0l2,0l2,0l2,0l2,0l2,0l2,0l2,0l2,0l2,0l2,0l2,0l2,0l0,2l0,2l0,2l0,2l0,2l0,2l0,2l0,2l0,2l0,2l0,2l0,2l0,2l0,2l0,2l0,2l0,2l0,2l0,2l0,2l0,2l0,2l0,2l0,2l0,2l0,2l0,2l0,2l0,2l0,2l0,2l0,2l0,2l0,2l0,2l0,2l0,2l0,2l0,2l0,2l0,2l0,2l0,2l0,2l0,2l0,2l0,2l0,2l0,2l0,2l0,2l0,2l0,2l0,2l0,2l0,2l0,2l0,2l0,2l0,2l0,2l0,2l0,2l0,2l0,2l0,2l0,2l0,2l0,2l0,2l0,2l0,2l0,2l0,2l0,2l0,2l0,2l0,2l0,2l0,2l0,2l-1,1.4l-2,0.5l-2,0.7l-2,0.8l-2,0.9l-1.7,0.7l-2.3,1l-2,0.8l-2,0.9l-2,0.8l-2,0.8l-1.9,0.7l-2.1,0.8l-2,0.7l-2,0.3l-2,0l-2-0.4l-2-0.6l-2-0.5l-2-0.2l-2,0l-2,0l-2,0l-2,0.1l-2,0l-2,0l-2,0.1l-2,0l-2,0l-2,0l-2,0.1l-2,0l-2,0.1l-2,0.1l-2,0.2l-2,0.2l-2,0.2l-2,0.2l-2,0.2l-2,0.2l-1.8,0.2l-2.2,0.2l-2,0.2l-2,0.2l-2,0.2l-2,0.3l-2,0.4l-2,0.4l-2,0.5l-2,0.5l-2,0.5l-2,0.5l-2,0.6l-1.9,0.5l-2.1,0.6l-2,0.5l-2,0.6l-2,0.5l-2,0.6l-2,0.6l-2,0.6l-2,0.6l-2,0.7l-1.9,0.7l-2.1,0.7l-2,0.7l-1.7,0.6l-2.3,0.8l-2,0.7l-2,0.7l-2,0.7l-2,0.8l-2,0.7l-1.6,0.6l-2.4,0.9l-2,0.7l-2,0.7l-1.8,0.7l-2.2,0.8l-2,0.7l-1.5,0.5l-1.5,0.5l-2,0.7l-2,0.6l-2,0.7l-2,0.5l-2,0.4l-2,0.5l-2,0.3l-2,0.4l-2,0.4l-2,0.3l-2,0.3l-2,0.2l-2,0l-1.8-0.8l-1.2-2l-0.7-2l-0.8-2l-1.4-2l-1.6-1l-1.5-0.6l-2-0.6l-2-0.7l-2-0.6l-1.6-0.5l-2.4-0.7l-2-0.5l-1-1.8l0-2l0-2l0-2l0-2l0-2l0-2l0-2l0-2l0-2l0-2l0-2l0-2l0-2l0-2l0-2l0-2l0-2l0-2l0-2l0-2l0-2l0-2l0-2l0-2l0-2l0-2l0-2l0-2l0-2l0-2l0-2l0-2l0-2l0-2l0-2l0-2l0-2l0-2l0-2l0-2l0-2l0-2l0-2l0-2l0-2l0-2l0-2l0-2l0-2l0-2l0-2l0-2l0-2l0-2l0-2l0-2l0-2l0-2l0-2l0-2l0-2l0-2l0-2l0-2l0-2l0-2l0-2l0-2l0-2l0-2l0-2l0-2l0-2l0-2l0-2l0-2l0-2l0-2l0-2l0-2l0-2l0-2l0-2l0-2l0-2l0-2l0-2l0-2l0-2l0-2l0-2l0-2l0-2Z" fill="#00ff12"/>
<path d="M145,55l2,0l2,0l2,0l2,0l2,0l2,0l2,0l2,0l2,0l2,0l2,0l2,0l2,0l2,0l2,0l2,0l2,0l2,0l2,0l2,0l2,0l2,0l2,0l2,0l2,0l2,0l2,0l2,0l2,0l2,0l2,0l2,0l2,0l2,0l2,0l2,0l2,0l2,0l2,0l2,0l2,0l2,0l2,0l2,0l2,0l2,0l2,0l2,0l2,0l2,0l2,0l2,0l2,0l2,0l2,0l2,0l2,0l2,0l2,0l2,0l2,0l2,0l2,0l2,0l2,0l2,0l2,0l2,0l2,0l2,0l2,0l2,0l2,0l2,0l2,0l2,0l2,0l2,0l2,0l2,0l2,0l2,0l2,0l2,0l2,0l2,0l2,0l2,0l2,0l2,0l2,0l2,0l2,0l2,0l2,0l2,0l2,0l2,0l2,0l2,0l2,0l2,0l2,0l2,0l2,0l0,2l0,2l0,2l0,2l0,2l0,2l0,2l0,2l0,2l0,2l0,2l0,2l0,2l0,2l0,2l0,2l0,2l0,2l0,2l0,2l0,2l0,2l0,2l0,2l0,2l0,2l0,2l0,2l0,2l0,2l0,2l0,2l0,2l0,2l0,2l0,2l0,2l0,2l0,2l0,2l0,2l0,2l0,2l0,2l0,2l0,2l0,2l0,2l0,2l0,2l0,2l0,2l0,2l0,2l0,2l0,2l0,2l0,2l0,2l0,2l0,2l0,2l0,2l0,2l0,2l0,2l0,2l0,2l0,2l0,2l0,2l0,2l0,2l0,2l0,2l0,2l0,2l0,2l0,2l0,2l-1,1.9l-2,0.5l-1.7,0.6l-2.3,0.9l-2,0.9l-2,0.8l-2,0.8l-2,0.9l-1.6,0.7l-2.4,1l-2,0.7l-2,0.8l-2,0.8l-2,0.7l-2,0.4l-2,0l-2-0.5l-2-0.8l-2-0.7l-2-0.4l-2-0.1l-2,0l-2,0l-2,0l-2,0l-2,0l-2,0.1l-2,0l-2,0l-2,0l-2,0l-2,0.1l-2,0l-2,0.2l-2,0.2l-2,0.2l-2,0.2l-2,0.3l-2,0.2l-2,0.2l-2,0.3l-2,0.2l-2,0.2l-2,0.2l-2,0.3l-1.8,0.2l-2.2,0.4l-2,0.5l-2,0.5l-2,0.6l-2,0.5l-1.6,0.5l-2.4,0.7l-2,0.6l-2,0.6l-2,0.6l-1.9,0.5l-2.1,0.6l-2,0.6l-2,0.6l-2,0.6l-1.8,0.6l-2.2,0.7l-2,0.7l-1.7,0.6l-2.3,0.8l-2,0.7l-1.6,0.5l-2.4,0.8l-2,0.7l-2,0.7l-2,0.7l-2,0.7l-2,0.7l-1.9,0.7l-2.1,0.7l-2,0.7l-1.7,0.6l-2.3,0.8l-2,0.7l-1.5,0.5l-2.5,0.8l-2,0.7l-1.7,0.5l-2.3,0.7l-2,0.4l-2,0.5l-2,0.3l-2,0.4l-2,0.3l-2,0.3l-2,0.3l-2,0.2l-2,0.1l-2-0.8l-1-1.5l-0.8-2.2l-0.8-2l-1.1-2l-1.1-1l-2.1-1l-2.1-0.7l-2-0.6l-2-0.7l-2-0.6l-2-0.6l-2-0.6l-2-0.3l0-2.9l0-2l0-2l0-2l0-2l0-2l0-2l0-2l0-2l0-2l0-2l0-2l0-2l0-2l0-2l0-2l0-2l0-2l0-2l0-2l0-2l0-2l0-2l0-2l0-2l0-2l0-2l0-2l0-2l0-2l0-2l0-2l0-2l0-2l0-2l0-2l0-2l0-2l0-2l0-2l0-2l0-2l0-2l0-2l0-2l0-2l0-2l0-2l0-2l0-2l0-2l0-2l0-2l0-2l0-2l0-2l0-2l0-2l0-2l0-2l0-2l0-2l0-2l0-2l0-2l0-2l0-2l0-2l0-2l0-2l0-2l0-2l0-2l0-2l0-2l0-2l0-2l0-2l0-2l0-2l0-2l0-2l0-2l0-2l0-2l0-2l0-2l0-2l0-2l0-2l0-2l0-2Z" fill="#08ff00"/>
<path d="M145,55l2,0l2,0l2,0l2,0l2,0l2,0l2,0l2,0l2,0l2,0l2,0l2,0l2,0l2,0l2,0l2,0l2,0l2,0l2,0l2,0l2,0l2,0l2,0l2,0l2,0l2,0l2,0l2,0l2,0l2,0l2,0l2,0l2,0l2,0l2,0l2,0l2,0l2,0l2,0l2,0l2,0l2,0l2,0l2,0l2,0l2,0l2,0l2,0l2,0l2,0l2,0l2,0l2,0l2,0l2,0l2,0l2,0l2,0l2,0l2,0l2,0l2,0l2,0l2,0l2,0l2,0l2,0l2,0l2,0l2,0l2,0l2,0l2,0l2,0l2,0l2,0l2,0l2,0l2,0l2,0l2,0l2,0l2,0l2,0l2,0l2,0l2,0l2,0l2,0l2,0l2,0l2,0l2,0l2,0l2,0l2,0l2,0l2,0l2,0l2,0l2,0l2,0l2,0l2,0l2,0l0,2l0,2l0,2l0,2l0,2l0,2l0,2l0,2l0,2l0,2l0,2l0,2l0,2l0,2l0,2l0,2l0,2l0,2l0,2l0,2l0,2l0,2l0,2l0,2l0,2l0,2l0,2l0,2l0,2l0,2l0,2l0,2l0,2l0,2l0,2l0,2l0,2l0,2l0,2l0,2l0,2l0,2l0,2l0,2l0,2l0,2l0,2l0,2l0,2l0,2l0,2l0,2l0,2l0,2l0,2l0,2l0,2l0,2l0,2l0,2l0,2l0,2l0,2l0,2l0,2l0,2l0,2l0,2l0,2l0,2l0,2l0,2l0,2l0,2l0,2l0,2l0,2l-0.7,2l-2.3,0.8l-2,0.9l-2,1l-2,1l-2,0.9l-2,1l-2,1l-2,1l-2,1l-2,0.9l-2,1l-2,0.9l-2,0.9l-1.8,0.7l-2.2,0.3l-2-0.4l-2-0.7l-2-0.8l-2-0.6l-2-0.3l-2-0.2l-2,0l-2,0l-2,0l-2,0l-2,0l-2,0l-2,0.1l-2,0l-2,0l-2,0.1l-2,0.1l-2,0.1l-2,0.2l-2,0.2l-2,0.3l-2,0.2l-2,0.2l-2,0.3l-2,0.2l-2,0.2l-2,0.3l-2,0.2l-2,0.2l-2,0.3l-2,0.3l-2,0.5l-2,0.5l-2,0.6l-2,0.6l-2,0.6l-2,0.6l-2,0.6l-2,0.7l-1.8,0.5l-2.2,0.6l-2,0.6l-2,0.6l-2,0.6l-1.9,0.6l-2.1,0.7l-2,0.6l-2,0.6l-2,0.7l-2,0.7l-2,0.6l-2,0.6l-2,0.7l-2,0.6l-2,0.6l-1.9,0.6l-2.1,0.7l-2,0.6l-2,0.6l-2,0.7l-2,0.7l-2,0.6l-2,0.6l-1.5,0.5l-2.5,0.8l-2,0.6l-2,0.6l-2,0.6l-1.7,0.4l-2.3,0.5l-2,0.4l-2,0.4l-2,0.3l-2,0.3l-2,0.3l-2,0.2l-2,0.2l-2-0.5l-1-1l-1-2.1l-0.9-2l-1.1-1.4l-2-1.2l-2-0.7l-2-0.7l-2-0.6l-2-0.7l-2-0.7l-2-0.6l-2-0.6l-2-0.5l-1-1.3l0-2l0-2l0-2l0-2l0-2l0-2l0-2l0-2l0-2l0-2l0-2l0-2l0-2l0-2l0-2l0-2l0-2l0-2l0-2l0-2l0-2l0-2l0-2l0-2l0-2l0-2l0-2l0-2l0-2l0-2l0-2l0-2l0-2l0-2l0-2l0-2l0-2l0-2l0-2l0-2l0-2l0-2l0-2l0-2l0-2l0-2l0-2l0-2l0-2l0-2l0-2l0-2l0-2l0-2l0-2l0-2l0-2l0-2l0-2l0-2l0-2l0-2l0-2l0-2l0-2l0-2l0-2l0-2l0-2l0-2l0-2l0-2l0-2l0-2l0-2l0-2l0-2l0-2l0-2l0-2l0-2l0-2l0-2l0-2l0-2l0-2l0-2l0-2l0-2l0-2Z" fill="#1eff00"/>
<path d="M145,55l2,0l2,0l2,0l2,0l2,0l2,0l2,0l2,0l2,0l2,0l2,0l2,0l2,0l2,0l2,0l2,0l2,0l2,0l2,0l2,0l2,0l2,0l2,0l2,0l2,0l2,0l2,0l2,0l2,0l2,0l2,0l2,0l2,0l2,0l2,0l2,0l2,0l2,0l2,0l2,0l2,0l2,0l2,0l2,0l2,0l2,0l2,0l2,0l2,0l2,0l2,0l2,0l2,0l2,0l2,0l2,0l2,0l2,0l2,0l2,0l2,0l2,0l2,0l2,0l2,0l2,0l2,0l2,0l2,0l2,0l2,0l2,0l2,0l2,0l2,0l2,0l2,0l2,0l2,0l2,0l2,0l2,0l2,0l2,0l2,0l2,0l2,0l2,0l2,0l2,0l2,0l2,0l2,0l2,0l2,0l2,0l2,0l2,0l2,0l2,0l2,0l2,0l2,0l2,0l2,0l0,2l0,2l0,2l0,2l0,2l0,2l0,2l0,2l0,2l0,2l0,2l0,2l0,2l0,2l0,2l0,2l0,2l0,2l0,2l0,2l0,2l0,2l0,2l0,2l0,2l0,2l0,2l0,2l0,2l0,2l0,2l0,2l0,2l0,2l0,2l0,2l0,2l0,2l0,2l0,2l0,2l0,2l0,2l0,2l0,2l0,2l0,2l0,2l0,2l0,2l0,2l0,2l0,2l0,2l0,2l0,2l0,2l0,2l0,2l0,2l0,2l0,2l0,2l0,2l0,2l0,2l0,2l0,2l0,2l0,2l0,2l0,2l0,2l0,2l0,2l-1,1.6l-2,0.6l-1.9,0.8l-2.1,1l-2,0.9l-2,0.9l-2,0.9l-2,1l-2,0.9l-2,0.9l-2,1l-2,0.9l-2,1l-1.4,0.6l-1.6,0.8l-2,0.9l-2,0.5l-2,0l-2-0.5l-2-0.7l-2-0.6l-1.8-0.4l-2.2-0.3l-2,0l-2-0.1l-2,0l-2,0.1l-2,0l-2,0l-2,0.1l-2,0l-2,0.1l-2,0.1l-2,0.1l-2,0.1l-2,0.2l-2,0.2l-2,0.3l-2,0.2l-2,0.2l-2,0.2l-2,0.2l-2,0.3l-2,0.2l-2,0.2l-2,0.2l-2,0.3l-2,0.3l-2,0.5l-2,0.5l-2,0.6l-2,0.5l-2,0.6l-2,0.7l-2,0.5l-2,0.6l-2,0.6l-2,0.6l-2,0.5l-2,0.6l-2,0.6l-2,0.5l-2,0.6l-2,0.6l-2,0.6l-2,0.7l-2,0.6l-2,0.6l-2,0.5l-2,0.6l-2,0.5l-2,0.5l-2,0.6l-2,0.5l-2,0.5l-1.6,0.5l-2.4,0.8l-2,0.6l-2,0.6l-2,0.5l-1.8,0.5l-2.2,0.6l-2,0.6l-2,0.5l-2,0.5l-2,0.5l-2,0.4l-2,0.4l-2,0.3l-2,0.3l-2,0.3l-2,0.2l-2,0l-1.6-0.6l-1.1-1l-1.3-1.4l-2-1.4l-2-0.7l-2-0.6l-2-0.7l-2-0.7l-1.6-0.5l-2.4-0.8l-2-0.7l-1.7-0.5l-2.3-0.6l-2-0.3l0-2.1l0-2l0-2l0-2l0-2l0-2l0-2l0-2l0-2l0-2l0-2l0-2l0-2l0-2l0-2l0-2l0-2l0-2l0-2l0-2l0-2l0-2l0-2l0-2l0-2l0-2l0-2l0-2l0-2l0-2l0-2l0-2l0-2l0-2l0-2l0-2l0-2l0-2l0-2l0-2l0-2l0-2l0-2l0-2l0-2l0-2l0-2l0-2l0-2l0-2l0-2l0-2l0-2l0-2l0-2l0-2l0-2l0-2l0-2l0-2l0-2l0-2l0-2l0-2l0-2l0-2l0-2l0-2l0-2l0-2l0-2l0-2l0-2l0-2l0-2l0-2l0-2l0-2l0-2l0-2l0-2l0-2l0-2l0-2l0-2l0-2l0-2l0-2l0-2Z" fill="#36ff00"/>
<path d="M145,55l2,0l2,0l2,0l2,0l2,0l2,0l2,0l2,0l2,0l2,0l2,0l2,0l2,0l2,0l2,0l2,0l2,0l2,0l2,0l2,0l2,0l2,0l2,0l2,0l2,0l2,0l2,0l2,0l2,0l2,0l2,0l2,0l2,0l2,0l2,0l2,0l2,0l2,0l2,0l2,0l2,0l2,0l2,0l2,0l2,0l2,0l2,0l2,0l2,0l2,0l2,0l2,0l2,0l2,0l2,0l2,0l2,0l2,0l2,0l2,0l2,0l2,0l2,0l2,0l2,0l2,0l2,0l2,0l2,0l2,0l2,0l2,0l2,0l2,0l2,0l2,0l2,0l2,0l2,0l2,0l2,0l2,0l2,0l2,0l2,0l2,0l2,0l2,0l2,0l2,0l2,0l2,0l2,0l2,0l2,0l2,0l2,0l2,0l2,0l2,0l2,0l2,0l2,0l2,0l2,0l0,2l0,2l0,2l0,2l0,2l0,2l0,2l0,2l0,2l0,2l0,2l0,2l0,2l0,2l0,2l0,2l0,2l0,2l0,2l0,2l0,2l0,2l0,2l0,2l0,2l0,2l0,2l0,2l0,2l0,2l0,2l0,2l0,2l0,2l0,2l0,2l0,2l0,2l0,2l0,2l0,2l0,2l0,2l0,2l0,2l0,2l0,2l0,2l0,2l0,2l0,2l0,2l0,2l0,2l0,2l0,2l0,2l0,2l0,2l0,2l0,2l0,2l0,2l0,2l0,2l0,2l0,2l0,2l0,2l0,2l0,2l0,2l0,2l0,2l-1.7,1l-2.3,0.8l-2,0.8l-2,0.8l-2,0.9l-1.6,0.7l-2.3,1l-2.1,0.9l-2,0.8l-2,0.9l-2,0.9l-2,0.8l-1.8,0.7l-2.2,0.9l-2,0.8l-2,0.7l-2,0.5l-2-0.1l-2-0.6l-2-0.7l-2-0.7l-2-0.5l-2-0.2l-2-0.2l-2,0l-2,0l-2,0.1l-2,0l-2,0.1l-2,0.1l-2,0.1l-2,0.1l-2,0.1l-2,0.1l-2,0.2l-2,0.2l-2,0.2l-2,0.2l-2,0.2l-2,0.2l-2,0.2l-2,0.2l-2,0.2l-2,0.2l-2,0.2l-2,0.2l-2,0.3l-2,0.4l-2,0.5l-2,0.5l-2,0.6l-2,0.5l-2,0.6l-2,0.6l-2,0.5l-1.7,0.5l-2.3,0.6l-2,0.5l-2,0.6l-2,0.5l-2,0.6l-2,0.5l-2,0.5l-2,0.6l-2,0.6l-2,0.6l-2,0.6l-2,0.4l-2,0.5l-2,0.5l-1.9,0.4l-2.1,0.5l-2,0.4l-2,0.5l-2,0.5l-2,0.5l-2,0.6l-2,0.5l-2,0.5l-2,0.5l-2,0.5l-2,0.5l-2,0.4l-2,0.5l-2,0.4l-2,0.4l-2,0.4l-2,0.3l-2,0.4l-2,0.2l-2,0.1l-2-0.3l-2-1l-2-0.7l-2-0.4l-2-0.4l-2-0.5l-2-0.7l-2-0.6l-2-0.7l-2-0.6l-2-0.7l-2-0.6l-2-0.5l-2-0.3l0-2.6l0-2l0-2l0-2l0-2l0-2l0-2l0-2l0-2l0-2l0-2l0-2l0-2l0-2l0-2l0-2l0-2l0-2l0-2l0-2l0-2l0-2l0-2l0-2l0-2l0-2l0-2l0-2l0-2l0-2l0-2l0-2l0-2l0-2l0-2l0-2l0-2l0-2l0-2l0-2l0-2l0-2l0-2l0-2l0-2l0-2l0-2l0-2l0-2l0-2l0-2l0-2l0-2l0-2l0-2l0-2l0-2l0-2l0-2l0-2l0-2l0-2l0-2l0-2l0-2l0-2l0-2l0-2l0-2l0-2l0-2l0-2l0-2l0-2l0-2l0-2l0-2l0-2l0-2l0-2l0-2l0-2l0-2l0-2l0-2l0-2l0-2Z" fill="#4bff00"/>
<path d="M145,55l2,0l2,0l2,0l2,0l2,0l2,0l2,0l2,0l2,0l2,0l2,0l2,0l2,0l2,0l2,0l2,0l2,0l2,0l2,0l2,0l2,0l2,0l2,0l2,0l2,0l2,0l2,0l2,0l2,0l2,0l2,0l2,0l2,0l2,0l2,0l2,0l2,0l2,0l2,0l2,0l2,0l2,0l2,0l2,0l2,0l2,0l2,0l2,0l2,0l2,0l2,0l2,0l2,0l2,0l2,0l2,0l2,0l2,0l2,0l2,0l2,0l2,0l2,0l2,0l2,0l2,0l2,0l2,0l2,0l2,0l2,0l2,0l2,0l2,0l2,0l2,0l2,0l2,0l2,0l2,0l2,0l2,0l2,0l2,0l2,0l2,0l2,0l2,0l2,0l2,0l2,0l2,0l2,0l2,0l2,0l2,0l2,0l2,0l2,0l2,0l2,0l2,0l2,0l2,0l2,0l0,2l0,2l0,2l0,2l0,2l0,2l0,2l0,2l0,2l0,2l0,2l0,2l0,2l0,2l0,2l0,2l0,2l0,2l0,2l0,2l0,2l0,2l0,2l0,2l0,2l0,2l0,2l0,2l0,2l0,2l0,2l0,2l0,2l0,2l0,2l0,2l0,2l0,2l0,2l0,2l0,2l0,2l0,2l0,2l0,2l0,2l0,2l0,2l0,2l0,2l0,2l0,2l0,2l0,2l0,2l0,2l0,2l0,2l0,2l0,2l0,2l0,2l0,2l0,2l0,2l0,2l0,2l0,2l0,2l0,2l0,2l0,2l0,2l-1.9,1l-2.1,0.6l-2,0.9l-2,0.8l-1.6,0.7l-2.4,1l-2,0.8l-2,0.9l-2,0.8l-2,0.8l-1.5,0.7l-1.5,0.6l-2,0.8l-1.5,0.6l-1.5,0.6l-2,0.8l-1.7,0.6l-2.3,0.6l-2,0.1l-2-0.4l-2-0.8l-2-0.8l-2-0.6l-2-0.5l-2-0.2l-2-0.1l-2-0.1l-2,0.1l-2,0.1l-2,0.1l-2,0.1l-2,0.1l-2,0.1l-2,0.1l-2,0.1l-2,0.2l-2,0.2l-2,0.1l-2,0.2l-2,0.2l-2,0.2l-2,0.2l-2,0.2l-2,0.2l-2,0.1l-1.9,0.2l-2.1,0.2l-2,0.3l-2,0.4l-2,0.4l-2,0.5l-2,0.6l-2,0.5l-2,0.5l-2,0.6l-2,0.5l-1.8,0.5l-2.2,0.6l-1.7,0.4l-2.3,0.6l-2,0.5l-2,0.5l-2,0.5l-2,0.6l-2,0.5l-2,0.5l-2,0.6l-2,0.5l-2,0.5l-2,0.4l-2,0.4l-2,0.4l-2,0.4l-2,0.5l-2,0.4l-2,0.4l-2,0.4l-2,0.5l-2,0.6l-2,0.4l-2,0.4l-2,0.5l-2,0.4l-2,0.4l-2,0.4l-2,0.4l-1.9,0.4l-2.1,0.4l-2,0.3l-1.8,0.3l-2.2,0.2l-2,0l-2-0.6l-1.7-0.6l-2.3-0.5l-2-0.5l-2-0.4l-2-0.6l-2-0.5l-1.6-0.5l-2.4-0.7l-2-0.5l-2-0.6l-2-0.6l-1.9-0.6l-2.1-0.4l0-2.6l0-2l0-2l0-2l0-2l0-2l0-2l0-2l0-2l0-2l0-2l0-2l0-2l0-2l0-2l0-2l0-2l0-2l0-2l0-2l0-2l0-2l0-2l0-2l0-2l0-2l0-2l0-2l0-2l0-2l0-2l0-2l0-2l0-2l0-2l0-2l0-2l0-2l0-2l0-2l0-2l0-2l0-2l0-2l0-2l0-2l0-2l0-2l0-2l0-2l0-2l0-2l0-2l0-2l0-2l0-2l0-2l0-2l0-2l0-2l0-2l0-2l0-2l0-2l0-2l0-2l0-2l0-2l0-2l0-2l0-2l0-2l0-2l0-2l0-2l0-2l0-2l0-2l0-2l0-2l0-2l0-2l0-2l0-2l0-2Z" fill="#63ff00"/>
<path d="M145,55l2,0l2,0l2,0l2,0l2,0l2,0l2,0l2,0l2,0l2,0l2,0l2,0l2,0l2,0l2,0l2,0l2,0l2,0l2,0l2,0l2,0l2,0l2,0l2,0l2,0l2,0l2,0l2,0l2,0l2,0l2,0l2,0l2,0l2,0l2,0l2,0l2,0l2,0l2,0l2,0l2,0l2,0l2,0l2,0l2,0l2,0l2,0l2,0l2,0l2,0l2,0l2,0l2,0l2,0l2,0l2,0l2,0l2,0l2,0l2,0l2,0l2,0l2,0l2,0l2,0l2,0l2,0l2,0l2,0l2,0l2,0l2,0l2,0l2,0l2,0l2,0l2,0l2,0l2,0l2,0l2,0l2,0l2,0l2,0l2,0l2,0l2,0l2,0l2,0l2,0l2,0l2,0l2,0l2,0l2,0l2,0l2,0l2,0l2,0l2,0l2,0l2,0l2,0l2,0l2,0l0,2l0,2l0,2l0,2l0,2l0,2l0,2l0,2l0,2l0,2l0,2l0,2l0,2l0,2l0,2l0,2l0,2l0,2l0,2l0,2l0,2l0,2l0,2l0,2l0,2l0,2l0,2l0,2l0,2l0,2l0,2l0,2l0,2l0,2l0,2l0,2l0,2l0,2l0,2l0,2l0,2l0,2l0,2l0,2l0,2l0,2l0,2l0,2l0,2l0,2l0,2l0,2l0,2l0,2l0,2l0,2l0,2l0,2l0,2l0,2l0,2l0,2l0,2l0,2l0,2l0,2l0,2l0,2l0,2l-2,0.9l-2,0.9l-2,0.9l-2,1l-2,1l-2,0.9l-2,1l-2,1l-2,1l-2,1l-2,1l-2,1l-2,1l-2,0.9l-2,1l-2,1l-2,0.9l-1.7,0.6l-2.3,0.2l-2-0.4l-2-0.7l-2-0.7l-2-0.6l-2-0.5l-1.9-0.3l-2.1-0.2l-2-0.1l-2,0.1l-2,0.1l-2,0.1l-2,0.2l-2,0.1l-2,0.1l-2,0.1l-2,0.2l-2,0.1l-2,0.2l-2,0.2l-2,0.1l-2,0.2l-2,0.2l-2,0.1l-2,0.2l-2,0.1l-2,0.2l-2,0.2l-2,0.2l-2,0.4l-2,0.4l-2,0.4l-2,0.5l-2,0.5l-2,0.5l-2,0.5l-2,0.5l-2,0.5l-2,0.5l-2,0.5l-2,0.4l-2,0.5l-2,0.5l-2,0.5l-2,0.5l-2,0.4l-2,0.5l-2,0.5l-2,0.5l-2,0.4l-2,0.4l-2,0.3l-2,0.3l-2,0.4l-2,0.3l-2,0.3l-2,0.4l-2,0.3l-2,0.4l-2,0.4l-2,0.4l-2,0.3l-2,0.4l-2,0.3l-2,0.4l-2,0.3l-2,0.3l-2,0.4l-2,0.3l-2,0.3l-2,0.3l-2,0.4l-2,0.4l-2,0.4l-2,0.1l-2-0.2l-2-0.5l-2-0.6l-2-0.7l-2-0.6l-2-0.7l-2-0.6l-2-0.7l-1.6-0.5l-2.4-0.8l-2-0.6l-2-0.3l0-2.3l0-2l0-2l0-2l0-2l0-2l0-2l0-2l0-2l0-2l0-2l0-2l0-2l0-2l0-2l0-2l0-2l0-2l0-2l0-2l0-2l0-2l0-2l0-2l0-2l0-2l0-2l0-2l0-2l0-2l0-2l0-2l0-2l0-2l0-2l0-2l0-2l0-2l0-2l0-2l0-2l0-2l0-2l0-2l0-2l0-2l0-2l0-2l0-2l0-2l0-2l0-2l0-2l0-2l0-2l0-2l0-2l0-2l0-2l0-2l0-2l0-2l0-2l0-2l0-2l0-2l0-2l0-2l0-2l0-2l0-2l0-2l0-2l0-2l0-2l0-2l0-2l0-2l0-2l0-2l0-2l0-2l0-2Z" fill="#78ff00"/>
<path d="M145,55l2,0l2,0l2,0l2,0l2,0l2,0l2,0l2,0l2,0l2,0l2,0l2,0l2,0l2,0l2,0l2,0l2,0l2,0l2,0l2,0l2,0l2,0l2,0l2,0l2,0l2,0l2,0l2,0l2,0l2,0l2,0l2,0l2,0l2,0l2,0l2,0l2,0l2,0l2,0l2,0l2,0l2,0l2,0l2,0l2,0l2,0l2,0l2,0l2,0l2,0l2,0l2,0l2,0l2,0l2,0l2,0l2,0l2,0l2,0l2,0l2,0l2,0l2,0l2,0l2,0l2,0l2,0l2,0l2,0l2,0l2,0l2,0l2,0l2,0l2,0l2,0l2,0l2,0l2,0l2,0l2,0l2,0l2,0l2,0l2,0l2,0l2,0l2,0l2,0l2,0l2,0l2,0l2,0l2,0l2,0l2,0l2,0l2,0l2,0l2,0l2,0l2,0l2,0l2,0l2,0l0,2l0,2l0,2l0,2l0,2l0,2l0,2l0,2l0,2l0,2l0,2l0,2l0,2l0,2l0,2l0,2l0,2l0,2l0,2l0,2l0,2l0,2l0,2l0,2l0,2l0,2l0,2l0,2l0,2l0,2l0,2l0,2l0,2l0,2l0,2l0,2l0,2l0,2l0,2l0,2l0,2l0,2l0,2l0,2l0,2l0,2l0,2l0,2l0,2l0,2l0,2l0,2l0,2l0,2l0,2l0,2l0,2l0,2l0,2l0,2l0,2l0,2l0,2l0,2l0,2l0,2l0,2l0,2l-2,0.9l-2,0.8l-2,0.9l-2,0.9l-2,0.9l-2,1l-2,0.9l-1.5,0.7l-1.5,0.7l-2,1l-2,0.9l-2,1l-2,1l-2,0.9l-2,1l-2,0.9l-2,1l-2,1l-1.8,0.6l-2.2,0.2l-2-0.3l-2-0.6l-2-0.6l-2-0.6l-2-0.4l-2-0.4l-2-0.2l-2-0.1l-2,0.1l-2,0.1l-2,0.2l-2,0.1l-2,0.1l-2,0.2l-2,0.1l-2,0.1l-2,0.2l-2,0.2l-2,0.1l-2,0.2l-2,0.1l-2,0.2l-2,0.1l-2,0.2l-2,0.1l-2,0.2l-2,0.2l-2,0.3l-2,0.3l-2,0.5l-2,0.4l-2,0.5l-2,0.5l-2,0.4l-2,0.5l-2,0.5l-2,0.5l-2,0.4l-2,0.5l-2,0.5l-1.8,0.4l-2.2,0.5l-2,0.5l-2,0.4l-2,0.5l-2,0.5l-2,0.4l-2,0.5l-2,0.3l-2,0.4l-2,0.3l-2,0.3l-2,0.3l-2,0.3l-2,0.3l-2,0.3l-2,0.3l-2,0.3l-2,0.4l-2,0.3l-2,0.3l-2,0.4l-2,0.3l-2,0.3l-2,0.3l-2,0.3l-2,0.3l-2,0.3l-2,0.3l-2,0.5l-1.8,0.6l-2.2,0.8l-2,0.6l-2,0l-2-0.3l-2-0.6l-1.7-0.5l-2.3-0.8l-2-0.6l-1.8-0.6l-2.2-0.7l-2-0.7l-1.8-0.6l-2.2-0.7l-2-0.5l-1-1.8l0-2l0-2l0-2l0-2l0-2l0-2l0-2l0-2l0-2l0-2l0-2l0-2l0-2l0-2l0-2l0-2l0-2l0-2l0-2l0-2l0-2l0-2l0-2l0-2l0-2l0-2l0-2l0-2l0-2l0-2l0-2l0-2l0-2l0-2l0-2l0-2l0-2l0-2l0-2l0-2l0-2l0-2l0-2l0-2l0-2l0-2l0-2l0-2l0-2l0-2l0-2l0-2l0-2l0-2l0-2l0-2l0-2l0-2l0-2l0-2l0-2l0-2l0-2l0-2l0-2l0-2l0-2l0-2l0-2l0-2l0-2l0-2l0-2l0-2l0-2l0-2l0-2l0-2l0-2l0-2l0-2Z" fill="#84ff00"/>
<path d="M145,55l2,0l2,0l2,0l2,0l2,0l2,0l2,0l2,0l2,0l2,0l2,0l2,0l2,0l2,0l2,0l2,0l2,0l2,0l2,0l2,0l2,0l2,0l2,0l2,0l2,0l2,0l2,0l2,0l2,0l2,0l2,0l2,0l2,0l2,0l2,0l2,0l2,0l2,0l2,0l2,0l2,0l2,0l2,0l2,0l2,0l2,0l2,0l2,0l2,0l2,0l2,0l2,0l2,0l2,0l2,0l2,0l2,0l2,0l2,0l2,0l2,0l2,0l2,0l2,0l2,0l2,0l2,0l2,0l2,0l2,0l2,0l2,0l2,0l2,0l2,0l2,0l2,0l2,0l2,0l2,0l2,0l2,0l2,0l2,0l2,0l2,0l2,0l2,0l2,0l2,0l2,0l2,0l2,0l2,0l2,0l2,0l2,0l2,0l2,0l2,0l2,0l2,0l2,0l2,0l2,0l0,2l0,2l0,2l0,2l0,2l0,2l0,2l0,2l0,2l0,2l0,2l0,2l0,2l0,2l0,2l0,2l0,2l0,2l0,2l0,2l0,2l0,2l0,2l0,2l0,2l0,2l0,2l0,2l0,2l0,2l0,2l0,2l0,2l0,2l0,2l0,2l0,2l0,2l0,2l0,2l0,2l0,2l0,2l0,2l0,2l0,2l0,2l0,2l0,2l0,2l0,2l0,2l0,2l0,2l0,2l0,2l0,2l0,2l0,2l0,2l0,2l0,2l0,2l0,2l0,2l0,2l0,2l-1,1.1l-2,0.6l-2,0.8l-2,0.9l-2,0.9l-1.6,0.7l-1.4,0.6l-2,0.9l-2,0.9l-2,0.9l-1.5,0.7l-1.5,0.7l-2,0.9l-2,0.9l-2,0.9l-2,0.9l-1.6,0.7l-1.4,0.7l-2,0.9l-2,0.8l-1.6,0.6l-2.4,0.3l-2-0.2l-2-0.5l-2-0.6l-2-0.6l-1.8-0.4l-2.2-0.4l-2-0.2l-2,0l-2,0.1l-2,0.1l-2,0.1l-2,0.2l-2,0.1l-2,0.1l-2,0.2l-2,0.1l-2,0.2l-2,0.1l-2,0.2l-2,0.1l-2,0.2l-2,0.1l-2,0.2l-2,0.1l-2,0.2l-2,0.1l-2,0.3l-2,0.3l-2,0.4l-2,0.4l-2,0.5l-2,0.4l-2,0.5l-2,0.4l-2,0.5l-1.8,0.4l-2.2,0.5l-2,0.5l-2,0.4l-2,0.5l-2,0.4l-2,0.5l-2,0.5l-2,0.4l-2,0.5l-2,0.4l-1.8,0.4l-2.2,0.4l-2,0.3l-1.8,0.3l-2.2,0.3l-2,0.3l-2,0.3l-2,0.3l-2,0.3l-2,0.2l-1.9,0.3l-2.1,0.3l-2,0.3l-2,0.3l-2,0.3l-2,0.3l-2,0.3l-2,0.3l-2,0.2l-2,0.3l-2,0.3l-2,0.3l-2,0.5l-2,0.6l-1.7,0.7l-2.3,1l-2,0.5l-2-0.1l-1.9-0.4l-2.1-0.7l-2-0.6l-2-0.6l-2-0.7l-2-0.6l-2-0.7l-2-0.6l-2-0.7l-2-0.5l-1.8-0.3l-0.2-2l0-2l0-2l0-2l0-2l0-2l0-2l0-2l0-2l0-2l0-2l0-2l0-2l0-2l0-2l0-2l0-2l0-2l0-2l0-2l0-2l0-2l0-2l0-2l0-2l0-2l0-2l0-2l0-2l0-2l0-2l0-2l0-2l0-2l0-2l0-2l0-2l0-2l0-2l0-2l0-2l0-2l0-2l0-2l0-2l0-2l0-2l0-2l0-2l0-2l0-2l0-2l0-2l0-2l0-2l0-2l0-2l0-2l0-2l0-2l0-2l0-2l0-2l0-2l0-2l0-2l0-2l0-2l0-2l0-2l0-2l0-2l0-2l0-2l0-2l0-2l0-2l0-2l0-2l0-2l0-2Z" fill="#97ff00"/>
<path d="M145,55l2,0l2,0l2,0l2,0l2,0l2,0l2,0l2,0l2,0l2,0l2,0l2,0l2,0l2,0l2,0l2,0l2,0l2,0l2,0l2,0l2,0l2,0l2,0l2,0l2,0l2,0l2,0l2,0l2,0l2,0l2,0l2,0l2,0l2,0l2,0l2,0l2,0l2,0l2,0l2,0l2,0l2,0l2,0l2,0l2,0l2,0l2,0l2,0l2,0l2,0l2,0l2,0l2,0l2,0l2,0l2,0l2,0l2,0l2,0l2,0l2,0l2,0l2,0l2,0l2,0l2,0l2,0l2,0l2,0l2,0l2,0l2,0l2,0l2,0l2,0l2,0l2,0l2,0l2,0l2,0l2,0l2,0l2,0l2,0l2,0l2,0l2,0l2,0l2,0l2,0l2,0l2,0l2,0l2,0l2,0l2,0l2,0l2,0l2,0l2,0l2,0l2,0l2,0l2,0l2,0l0,2l0,2l0,2l0,2l0,2l0,2l0,2l0,2l0,2l0,2l0,2l0,2l0,2l0,2l0,2l0,2l0,2l0,2l0,2l0,2l0,2l0,2l0,2l0,2l0,2l0,2l0,2l0,2l0,2l0,2l0,2l0,2l0,2l0,2l0,2l0,2l0,2l0,2l0,2l0,2l0,2l0,2l0,2l0,2l0,2l0,2l0,2l0,2l0,2l0,2l0,2l0,2l0,2l0,2l0,2l0,2l0,2l0,2l0,2l0,2l0,2l0,2l0,2l0,2l0,2l0,2l-2,0.4l-1.8,0.6l-2.2,0.9l-2,0.8l-2,0.9l-2,0.8l-2,0.9l-1.7,0.7l-2.3,1l-2,0.8l-2,0.8l-2,0.9l-2,0.8l-1.6,0.7l-1.4,0.6l-2,0.8l-1.5,0.6l-1.5,0.6l-2,0.8l-1.8,0.6l-2.2,0.6l-2,0.1l-2-0.3l-2-0.6l-2-0.7l-2-0.5l-2-0.4l-2-0.3l-2-0.2l-2,0.1l-2,0.1l-2,0.2l-2,0.1l-2,0.2l-2,0.1l-2,0.2l-2,0.1l-2,0.2l-2,0.1l-2,0.2l-2,0.1l-2,0.2l-2,0.1l-2,0.2l-2,0.1l-2,0.2l-2,0.2l-2,0.2l-2,0.3l-2,0.3l-2,0.5l-2,0.4l-2,0.4l-2,0.5l-2,0.4l-2,0.5l-2,0.4l-2,0.4l-2,0.5l-2,0.4l-1.7,0.4l-2.3,0.5l-2,0.4l-2,0.5l-2,0.4l-2,0.5l-2,0.4l-2,0.4l-2,0.4l-2,0.3l-2,0.3l-2,0.2l-2,0.3l-2,0.2l-2,0.3l-2,0.3l-2,0.2l-2,0.3l-2,0.3l-2,0.2l-2,0.3l-2,0.2l-2,0.3l-2,0.3l-2,0.2l-2,0.3l-2,0.2l-2,0.3l-2,0.4l-2,0.6l-2,0.7l-2,0.5l-2,0.2l-2-0.3l-2-0.5l-2-0.6l-1.7-0.5l-2.3-0.7l-2-0.5l-2-0.6l-2-0.6l-1.8-0.6l-2.2-0.7l-2-0.7l-1.8-0.6l-2.2-0.4l0-2.6l0-2l0-2l0-2l0-2l0-2l0-2l0-2l0-2l0-2l0-2l0-2l0-2l0-2l0-2l0-2l0-2l0-2l0-2l0-2l0-2l0-2l0-2l0-2l0-2l0-2l0-2l0-2l0-2l0-2l0-2l0-2l0-2l0-2l0-2l0-2l0-2l0-2l0-2l0-2l0-2l0-2l0-2l0-2l0-2l0-2l0-2l0-2l0-2l0-2l0-2l0-2l0-2l0-2l0-2l0-2l0-2l0-2l0-2l0-2l0-2l0-2l0-2l0-2l0-2l0-2l0-2l0-2l0-2l0-2l0-2l0-2l0-2l0-2l0-2l0-2l0-2l0-2Z" fill="#aeff00"/>
<path d="M145,55l2,0l2,0l2,0l2,0l2,0l2,0l2,0l2,0l2,0l2,0l2,0l2,0l2,0l2,0l2,0l2,0l2,0l2,0l2,0l2,0l2,0l2,0l2,0l2,0l2,0l2,0l2,0l2,0l2,0l2,0l2,0l2,0l2,0l2,0l2,0l2,0l2,0l2,0l2,0l2,0l2,0l2,0l2,0l2,0l2,0l2,0l2,0l2,0l2,0l2,0l2,0l2,0l2,0l2,0l2,0l2,0l2,0l2,0l2,0l2,0l2,0l2,0l2,0l2,0l2,0l2,0l2,0l2,0l2,0l2,0l2,0l2,0l2,0l2,0l2,0l2,0l2,0l2,0l2,0l2,0l2,0l2,0l2,0l2,0l2,0l2,0l2,0l2,0l2,0l2,0l2,0l2,0l2,0l2,0l2,0l2,0l2,0l2,0l2,0l2,0l2,0l2,0l2,0l2,0l2,0l0,2l0,2l0,2l0,2l0,2l0,2l0,2l0,2l0,2l0,2l0,2l0,2l0,2l0,2l0,2l0,2l0,2l0,2l0,2l0,2l0,2l0,2l0,2l0,2l0,2l0,2l0,2l0,2l0,2l0,2l0,2l0,2l0,2l0,2l0,2l0,2l0,2l0,2l0,2l0,2l0,2l0,2l0,2l0,2l0,2l0,2l0,2l0,2l0,2l0,2l0,2l0,2l0,2l0,2l0,2l0,2l0,2l0,2l0,2l0,2l0,2l0,2l-2,0.8l-2,0.8l-2,1l-2,1l-2,1l-2,1l-2,1l-2,0.9l-2,1l-2,1l-2,1l-2,1l-2,0.9l-2,1l-2,1l-2,0.9l-1.4,0.7l-1.6,0.8l-2,0.9l-2,0.9l-2,0.7l-2,0.3l-2-0.3l-2-0.5l-2-0.6l-2-0.4l-2-0.4l-2-0.2l-2,0l-2,0l-2,0.1l-2,0.2l-2,0.2l-2,0.1l-2,0.2l-2,0.2l-2,0.1l-2,0.2l-2,0.2l-2,0.1l-1.9,0.2l-2.1,0.2l-2,0.1l-2,0.2l-2,0.2l-2,0.2l-2,0.1l-2,0.3l-2,0.3l-2,0.4l-2,0.4l-2,0.4l-2,0.5l-2,0.4l-2,0.4l-2,0.5l-2,0.4l-2,0.4l-2,0.4l-2,0.5l-2,0.4l-2,0.4l-2,0.4l-2,0.5l-2,0.4l-2,0.4l-2,0.4l-2,0.4l-2,0.4l-2,0.2l-2,0.3l-2,0.3l-1.8,0.2l-2.2,0.3l-2,0.2l-2,0.3l-2,0.2l-2,0.3l-2,0.2l-2,0.3l-2,0.2l-2,0.3l-2,0.2l-2,0.3l-2,0.2l-2,0.3l-2,0.2l-2,0.2l-2,0.5l-2,0.8l-2,0.8l-2,0.3l-2-0.2l-2-0.6l-2-0.6l-2-0.7l-2-0.6l-2-0.7l-2-0.6l-2-0.7l-2-0.7l-2-0.6l-2-0.7l-2-0.6l-2-0.5l-1-1.3l0-2l0-2l0-2l0-2l0-2l0-2l0-2l0-2l0-2l0-2l0-2l0-2l0-2l0-2l0-2l0-2l0-2l0-2l0-2l0-2l0-2l0-2l0-2l0-2l0-2l0-2l0-2l0-2l0-2l0-2l0-2l0-2l0-2l0-2l0-2l0-2l0-2l0-2l0-2l0-2l0-2l0-2l0-2l0-2l0-2l0-2l0-2l0-2l0-2l0-2l0-2l0-2l0-2l0-2l0-2l0-2l0-2l0-2l0-2l0-2l0-2l0-2l0-2l0-2l0-2l0-2l0-2l0-2l0-2l0-2l0-2l0-2l0-2l0-2l0-2Z" fill="#c0ff00"/>
<path d="M145,55l2,0l2,0l2,0l2,0l2,0l2,0l2,0l2,0l2,0l2,0l2,0l2,0l2,0l2,0l2,0l2,0l2,0l2,0l2,0l2,0l2,0l2,0l2,0l2,0l2,0l2,0l2,0l2,0l2,0l2,0l2,0l2,0l2,0l2,0l2,0l2,0l2,0l2,0l2,0l2,0l2,0l2,0l2,0l2,0l2,0l2,0l2,0l2,0l2,0l2,0l2,0l2,0l2,0l2,0l2,0l2,0l2,0l2,0l2,0l2,0l2,0l2,0l2,0l2,0l2,0l2,0l2,0l2,0l2,0l2,0l2,0l2,0l2,0l2,0l2,0l2,0l2,0l2,0l2,0l2,0l2,0l2,0l2,0l2,0l2,0l2,0l2,0l2,0l2,0l2,0l2,0l2,0l2,0l2,0l2,0l2,0l2,0l2,0l2,0l2,0l2,0l2,0l2,0l2,0l2,0l0,2l0,2l0,2l0,2l0,2l0,2l0,2l0,2l0,2l0,2l0,2l0,2l0,2l0,2l0,2l0,2l0,2l0,2l0,2l0,2l0,2l0,2l0,2l0,2l0,2l0,2l0,2l0,2l0,2l0,2l0,2l0,2l0,2l0,2l0,2l0,2l0,2l0,2l0,2l0,2l0,2l0,2l0,2l0,2l0,2l0,2l0,2l0,2l0,2l0,2l0,2l0,2l0,2l0,2l0,2l0,2l0,2l0,2l0,2l0,2l-1,1.7l-2,0.6l-1.6,0.7l-1.4,0.7l-2,0.9l-2,0.9l-2,1l-2,0.9l-2,1l-2,1l-1.4,0.6l-1.6,0.8l-2,1l-2,0.9l-2,1l-2,1l-2,1l-2,1l-2,0.9l-2,1l-2,1l-2,0.9l-2,0.7l-2,0.1l-1.7-0.3l-2.3-0.5l-2-0.4l-2-0.3l-2-0.2l-2-0.1l-2,0.1l-2,0.1l-2,0.2l-2,0.1l-2,0.2l-2,0.2l-2,0.2l-2,0.1l-2,0.2l-2,0.2l-2,0.2l-2,0.1l-2,0.2l-2,0.2l-2,0.2l-2,0.1l-2,0.2l-2,0.2l-2,0.3l-2,0.3l-2,0.4l-2,0.4l-2,0.4l-2,0.4l-2,0.4l-2,0.5l-2,0.4l-2,0.4l-2,0.4l-2,0.4l-2,0.5l-2,0.4l-2,0.4l-2,0.4l-2,0.4l-2,0.5l-2,0.4l-2,0.4l-2,0.4l-2,0.3l-2,0.3l-2,0.3l-2,0.2l-2,0.3l-2,0.2l-2,0.3l-2,0.2l-2,0.3l-2,0.2l-2,0.3l-2,0.2l-2,0.3l-2,0.2l-2,0.3l-2,0.2l-2,0.2l-2,0.3l-2,0.1l-2,0.2l-2,0.3l-2,0.6l-2,0.7l-2,0.4l-2-0.2l-2-0.6l-2-0.6l-1.8-0.5l-2.2-0.7l-2-0.6l-2-0.7l-2-0.6l-2-0.7l-2-0.7l-2-0.6l-2-0.6l-2-0.5l-1-1.3l0-2l0-2l0-2l0-2l0-2l0-2l0-2l0-2l0-2l0-2l0-2l0-2l0-2l0-2l0-2l0-2l0-2l0-2l0-2l0-2l0-2l0-2l0-2l0-2l0-2l0-2l0-2l0-2l0-2l0-2l0-2l0-2l0-2l0-2l0-2l0-2l0-2l0-2l0-2l0-2l0-2l0-2l0-2l0-2l0-2l0-2l0-2l0-2l0-2l0-2l0-2l0-2l0-2l0-2l0-2l0-2l0-2l0-2l0-2l0-2l0-2l0-2l0-2l0-2l0-2l0-2l0-2l0-2l0-2l0-2l0-2l0-2l0-2l0-2Z" fill="#ccff00"/>
<path d="M145,55l2,0l2,0l2,0l2,0l2,0l2,0l2,0l2,0l2,0l2,0l2,0l2,0l2,0l2,0l2,0l2,0l2,0l2,0l2,0l2,0l2,0l2,0l2,0l2,0l2,0l2,0l2,0l2,0l2,0l2,0l2,0l2,0l2,0l2,0l2,0l2,0l2,0l2,0l2,0l2,0l2,0l2,0l2,0l2,0l2,0l2,0l2,0l2,0l2,0l2,0l2,0l2,0l2,0l2,0l2,0l2,0l2,0l2,0l2,0l2,0l2,0l2,0l2,0l2,0l2,0l2,0l2,0l2,0l2,0l2,0l2,0l2,0l2,0l2,0l2,0l2,0l2,0l2,0l2,0l2,0l2,0l2,0l2,0l2,0l2,0l2,0l2,0l2,0l2,0l2,0l2,0l2,0l2,0l2,0l2,0l2,0l2,0l2,0l2,0l2,0l2,0l2,0l2,0l2,0l2,0l0,2l0,2l0,2l0,2l0,2l0,2l0,2l0,2l0,2l0,2l0,2l0,2l0,2l0,2l0,2l0,2l0,2l0,2l0,2l0,2l0,2l0,2l0,2l0,2l0,2l0,2l0,2l0,2l0,2l0,2l0,2l0,2l0,2l0,2l0,2l0,2l0,2l0,2l0,2l0,2l0,2l0,2l0,2l0,2l0,2l0,2l0,2l0,2l0,2l0,2l0,2l0,2l0,2l0,2l0,2l0,2l0,2l0,2l0,2l-1,1.7l-2,0.6l-1.7,0.7l-2.3,1l-2,0.9l-2,0.9l-2,0.9l-2,0.9l-2,0.9l-2,0.9l-2,0.9l-1.6,0.7l-1.4,0.7l-2,0.9l-2,0.9l-2,0.9l-2,0.9l-1.5,0.7l-1.5,0.7l-2,0.9l-2,0.9l-2,0.9l-2,0.9l-2,0.5l-2,0l-2-0.3l-2-0.3l-2-0.4l-2-0.1l-2-0.1l-2,0.1l-2,0.1l-2,0.2l-2,0.2l-2,0.2l-2,0.2l-2,0.1l-2,0.2l-2,0.2l-2,0.2l-2,0.2l-2,0.2l-2,0.2l-2,0.1l-2,0.2l-2,0.2l-2,0.2l-2,0.2l-2,0.3l-2,0.3l-2,0.3l-2,0.5l-2,0.4l-2,0.4l-2,0.4l-2,0.4l-2,0.4l-2,0.4l-1.8,0.4l-2.2,0.5l-2,0.4l-2,0.4l-2,0.4l-2,0.4l-2,0.4l-2,0.4l-2,0.5l-2,0.4l-2,0.3l-2,0.4l-2,0.3l-2,0.2l-2,0.3l-2,0.2l-2,0.3l-1.8,0.2l-2.2,0.3l-2,0.2l-2,0.3l-2,0.2l-2,0.2l-2,0.3l-2,0.2l-2,0.3l-2,0.2l-2,0.2l-2,0.2l-2,0.1l-2,0.1l-2,0.2l-2,0.2l-2,0.1l-2-0.2l-2-0.4l-2-0.5l-2-0.5l-2-0.5l-2-0.5l-2-0.5l-2-0.6l-2-0.6l-2-0.7l-2-0.7l-1.7-0.6l-2.3-0.8l-2-0.4l-1-1.8l0-2l0-2l0-2l0-2l0-2l0-2l0-2l0-2l0-2l0-2l0-2l0-2l0-2l0-2l0-2l0-2l0-2l0-2l0-2l0-2l0-2l0-2l0-2l0-2l0-2l0-2l0-2l0-2l0-2l0-2l0-2l0-2l0-2l0-2l0-2l0-2l0-2l0-2l0-2l0-2l0-2l0-2l0-2l0-2l0-2l0-2l0-2l0-2l0-2l0-2l0-2l0-2l0-2l0-2l0-2l0-2l0-2l0-2l0-2l0-2l0-2l0-2l0-2l0-2l0-2l0-2l0-2l0-2l0-2l0-2l0-2l0-2Z" fill="#ddff00"/>
<path d="M145,55l2,0l2,0l2,0l2,0l2,0l2,0l2,0l2,0l2,0l2,0l2,0l2,0l2,0l2,0l2,0l2,0l2,0l2,0l2,0l2,0l2,0l2,0l2,0l2,0l2,0l2,0l2,0l2,0l2,0l2,0l2,0l2,0l2,0l2,0l2,0l2,0l2,0l2,0l2,0l2,0l2,0l2,0l2,0l2,0l2,0l2,0l2,0l2,0l2,0l2,0l2,0l2,0l2,0l2,0l2,0l2,0l2,0l2,0l2,0l2,0l2,0l2,0l2,0l2,0l2,0l2,0l2,0l2,0l2,0l2,0l2,0l2,0l2,0l2,0l2,0l2,0l2,0l2,0l2,0l2,0l2,0l2,0l2,0l2,0l2,0l2,0l2,0l2,0l2,0l2,0l2,0l2,0l2,0l2,0l2,0l2,0l2,0l2,0l2,0l2,0l2,0l2,0l2,0l2,0l2,0l0,2l0,2l0,2l0,2l0,2l0,2l0,2l0,2l0,2l0,2l0,2l0,2l0,2l0,2l0,2l0,2l0,2l0,2l0,2l0,2l0,2l0,2l0,2l0,2l0,2l0,2l0,2l0,2l0,2l0,2l0,2l0,2l0,2l0,2l0,2l0,2l0,2l0,2l0,2l0,2l0,2l0,2l0,2l0,2l0,2l0,2l0,2l0,2l0,2l0,2l0,2l0,2l0,2l0,2l0,2l0,2l0,2l0,2l-1,1l-2,0.6l-2,0.7l-1.6,0.7l-2.3,1l-2.1,0.9l-2,0.8l-2,0.9l-2,0.8l-2,0.9l-1.7,0.7l-2.3,1l-2,0.8l-2,0.9l-2,0.8l-2,0.9l-1.4,0.6l-1.6,0.7l-2,0.8l-2,0.8l-1.8,0.7l-2.2,0.9l-2,0.7l-2,0.5l-2,0.2l-2-0.2l-2-0.4l-2-0.4l-2-0.2l-2,0.1l-2,0.2l-2,0.2l-2,0.3l-2,0.2l-2,0.2l-2,0.2l-2,0.2l-2,0.2l-2,0.2l-2,0.2l-2,0.2l-2,0.2l-2,0.2l-2,0.2l-2,0.2l-2,0.2l-2,0.2l-2,0.2l-2,0.3l-2,0.3l-2,0.4l-2,0.4l-2,0.4l-2,0.4l-2,0.4l-2,0.4l-2,0.4l-2,0.4l-2,0.4l-2,0.4l-2,0.4l-2,0.4l-2,0.4l-2,0.4l-2,0.4l-2,0.5l-2,0.4l-2,0.3l-2,0.4l-2,0.3l-2,0.3l-2,0.2l-2,0.3l-2,0.2l-2,0.2l-2,0.3l-2,0.2l-2,0.3l-2,0.2l-2,0.2l-2,0.3l-2,0.2l-2,0.2l-2,0.3l-2,0.2l-2,0.1l-2,0l-2,0.1l-2,0.3l-2,0.3l-2-0.1l-2-0.4l-2-0.6l-2-0.6l-2-0.7l-2-0.6l-2-0.7l-2-0.6l-1.5-0.5l-2.5-0.8l-2-0.7l-2-0.7l-2-0.7l-2-0.6l-1.7-0.5l-2.3-0.4l0-2.6l0-2l0-2l0-2l0-2l0-2l0-2l0-2l0-2l0-2l0-2l0-2l0-2l0-2l0-2l0-2l0-2l0-2l0-2l0-2l0-2l0-2l0-2l0-2l0-2l0-2l0-2l0-2l0-2l0-2l0-2l0-2l0-2l0-2l0-2l0-2l0-2l0-2l0-2l0-2l0-2l0-2l0-2l0-2l0-2l0-2l0-2l0-2l0-2l0-2l0-2l0-2l0-2l0-2l0-2l0-2l0-2l0-2l0-2l0-2l0-2l0-2l0-2l0-2l0-2l0-2l0-2l0-2l0-2l0-2Z" fill="#f5ff00"/>
<path d="M145,55l2,0l2,0l2,0l2,0l2,0l2,0l2,0l2,0l2,0l2,0l2,0l2,0l2,0l2,0l2,0l2,0l2,0l2,0l2,0l2,0l2,0l2,0l2,0l2,0l2,0l2,0l2,0l2,0l2,0l2,0l2,0l2,0l2,0l2,0l2,0l2,0l2,0l2,0l2,0l2,0l2,0l2,0l2,0l2,0l2,0l2,0l2,0l2,0l2,0l2,0l2,0l2,0l2,0l2,0l2,0l2,0l2,0l2,0l2,0l2,0l2,0l2,0l2,0l2,0l2,0l2,0l2,0l2,0l2,0l2,0l2,0l2,0l2,0l2,0l2,0l2,0l2,0l2,0l2,0l2,0l2,0l2,0l2,0l2,0l2,0l2,0l2,0l2,0l2,0l2,0l2,0l2,0l2,0l2,0l2,0l2,0l2,0l2,0l2,0l2,0l2,0l2,0l2,0l2,0l2,0l0,2l0,2l0,2l0,2l0,2l0,2l0,2l0,2l0,2l0,2l0,2l0,2l0,2l0,2l0,2l0,2l0,2l0,2l0,2l0,2l0,2l0,2l0,2l0,2l0,2l0,2l0,2l0,2l0,2l0,2l0,2l0,2l0,2l0,2l0,2l0,2l0,2l0,2l0,2l0,2l0,2l0,2l0,2l0,2l0,2l0,2l0,2l0,2l0,2l0,2l0,2l0,2l0,2l0,2l-1,1.4l-1.7,0.6l-2.2,1l-2.1,1l-2,0.9l-2,1l-2,0.9l-2,1l-2,0.9l-2,1l-2,0.9l-2,1l-2,1l-2,0.9l-2,1l-2,0.9l-2,1l-2,0.9l-1.4,0.7l-1.6,0.8l-2,0.9l-2,0.9l-2,0.9l-2,0.8l-2,0.5l-2,0.1l-2-0.2l-2-0.5l-2-0.3l-2-0.2l-2,0.2l-2,0.3l-2,0.3l-2,0.3l-1.8,0.2l-2.2,0.2l-2,0.2l-2,0.3l-2,0.2l-2,0.2l-2,0.2l-2,0.2l-2,0.2l-2,0.3l-2,0.2l-2,0.2l-2,0.2l-2,0.3l-2,0.2l-2,0.4l-2,0.3l-2,0.4l-2,0.4l-2,0.4l-2,0.3l-2,0.4l-2,0.4l-2,0.4l-2,0.4l-2,0.3l-2,0.4l-2,0.4l-2,0.4l-2,0.3l-2,0.4l-2,0.4l-2,0.4l-2,0.4l-2,0.3l-2,0.3l-2,0.3l-2,0.2l-2,0.3l-2,0.2l-2,0.2l-2,0.3l-2,0.2l-2,0.2l-2,0.3l-2,0.2l-2,0.2l-2,0.2l-2,0.3l-2,0.2l-2,0.1l-2-0.1l-2,0l-2,0.4l-2,0.7l-2,0.4l-2-0.2l-2-0.5l-2-0.6l-2-0.7l-2-0.7l-2-0.6l-2-0.7l-2-0.7l-2-0.6l-2-0.7l-2-0.7l-2-0.6l-2-0.7l-2-0.6l-2-0.6l-2-0.3l0-2.2l0-2l0-2l0-2l0-2l0-2l0-2l0-2l0-2l0-2l0-2l0-2l0-2l0-2l0-2l0-2l0-2l0-2l0-2l0-2l0-2l0-2l0-2l0-2l0-2l0-2l0-2l0-2l0-2l0-2l0-2l0-2l0-2l0-2l0-2l0-2l0-2l0-2l0-2l0-2l0-2l0-2l0-2l0-2l0-2l0-2l0-2l0-2l0-2l0-2l0-2l0-2l0-2l0-2l0-2l0-2l0-2l0-2l0-2l0-2l0-2l0-2l0-2l0-2l0-2l0-2l0-2l0-2Z" fill="#fff700"/>
<path d="M145,55l2,0l2,0l2,0l2,0l2,0l2,0l2,0l2,0l2,0l2,0l2,0l2,0l2,0l2,0l2,0l2,0l2,0l2,0l2,0l2,0l2,0l2,0l2,0l2,0l2,0l2,0l2,0l2,0l2,0l2,0l2,0l2,0l2,0l2,0l2,0l2,0l2,0l2,0l2,0l2,0l2,0l2,0l2,0l2,0l2,0l2,0l2,0l2,0l2,0l2,0l2,0l2,0l2,0l2,0l2,0l2,0l2,0l2,0l2,0l2,0l2,0l2,0l2,0l2,0l2,0l2,0l2,0l2,0l2,0l2,0l2,0l2,0l2,0l2,0l2,0l2,0l2,0l2,0l2,0l2,0l2,0l2,0l2,0l2,0l2,0l2,0l2,0l2,0l2,0l2,0l2,0l2,0l2,0l2,0l2,0l2,0l2,0l2,0l2,0l2,0l2,0l2,0l2,0l2,0l2,0l0,2l0,2l0,2l0,2l0,2l0,2l0,2l0,2l0,2l0,2l0,2l0,2l0,2l0,2l0,2l0,2l0,2l0,2l0,2l0,2l0,2l0,2l0,2l0,2l0,2l0,2l0,2l0,2l0,2l0,2l0,2l0,2l0,2l0,2l0,2l0,2l0,2l0,2l0,2l0,2l0,2l0,2l0,2l0,2l0,2l0,2l0,2l0,2l0,2l0,2l0,2l0,2l0,2l-1,1.6l-2,0.7l-1.6,0.7l-1.4,0.6l-2,1l-2,0.8l-2,1l-1.5,0.6l-1.5,0.7l-2,1l-2,0.9l-2,0.9l-2,0.9l-2,1l-1.4,0.6l-1.6,0.8l-2,0.9l-2,1l-2,0.9l-2,1l-2,0.9l-2,1l-2,0.9l-2,1l-2,0.9l-1.8,0.7l-2.2,0.4l-2-0.1l-1.8-0.3l-2.2-0.4l-2-0.2l-2,0l-2,0.3l-1.7,0.3l-2.3,0.3l-2,0.2l-2,0.3l-2,0.2l-2,0.2l-2,0.2l-2,0.2l-2,0.3l-2,0.2l-2,0.2l-2,0.2l-2,0.2l-2,0.3l-2,0.2l-2,0.2l-2,0.3l-2,0.3l-2,0.4l-2,0.3l-2,0.4l-2,0.4l-2,0.3l-2,0.4l-2,0.4l-2,0.3l-2,0.4l-2,0.4l-1.9,0.3l-2.1,0.4l-2,0.4l-2,0.3l-2,0.4l-2,0.4l-2,0.3l-2,0.4l-2,0.3l-2,0.3l-2,0.3l-2,0.3l-2,0.2l-2,0.2l-2,0.2l-2,0.3l-2,0.2l-2,0.2l-2,0.2l-2,0.3l-2,0.2l-1.8,0.2l-2.2,0.2l-2,0.2l-2,0.1l-2-0.1l-2,0.1l-2,0.5l-2,0.7l-1.8,0.3l-2.2-0.2l-2-0.5l-2-0.7l-1.9-0.6l-2.1-0.7l-2-0.7l-1.9-0.6l-2.1-0.7l-2-0.7l-1.8-0.6l-2.2-0.7l-2-0.7l-1.8-0.6l-2.2-0.7l-2-0.6l-2-0.3l0-2.4l0-2l0-2l0-2l0-2l0-2l0-2l0-2l0-2l0-2l0-2l0-2l0-2l0-2l0-2l0-2l0-2l0-2l0-2l0-2l0-2l0-2l0-2l0-2l0-2l0-2l0-2l0-2l0-2l0-2l0-2l0-2l0-2l0-2l0-2l0-2l0-2l0-2l0-2l0-2l0-2l0-2l0-2l0-2l0-2l0-2l0-2l0-2l0-2l0-2l0-2l0-2l0-2l0-2l0-2l0-2l0-2l0-2l0-2l0-2l0-2l0-2l0-2l0-2l0-2l0-2l0-2Z" fill="#ffeb00"/>
<path d="M145,55l2,0l2,0l2,0l2,0l2,0l2,0l2,0l2,0l2,0l2,0l2,0l2,0l2,0l2,0l2,0l2,0l2,0l2,0l2,0l2,0l2,0l2,0l2,0l2,0l2,0l2,0l2,0l2,0l2,0l2,0l2,0l2,0l2,0l2,0l2,0l2,0l2,0l2,0l2,0l2,0l2,0l2,0l2,0l2,0l2,0l2,0l2,0l2,0l2,0l2,0l2,0l2,0l2,0l2,0l2,0l2,0l2,0l2,0l2,0l2,0l2,0l2,0l2,0l2,0l2,0l2,0l2,0l2,0l2,0l2,0l2,0l2,0l2,0l2,0l2,0l2,0l2,0l2,0l2,0l2,0l2,0l2,0l2,0l2,0l2,0l2,0l2,0l2,0l2,0l2,0l2,0l2,0l2,0l2,0l2,0l2,0l2,0l2,0l2,0l2,0l2,0l2,0l2,0l2,0l2,0l0,2l0,2l0,2l0,2l0,2l0,2l0,2l0,2l0,2l0,2l0,2l0,2l0,2l0,2l0,2l0,2l0,2l0,2l0,2l0,2l0,2l0,2l0,2l0,2l0,2l0,2l0,2l0,2l0,2l0,2l0,2l0,2l0,2l0,2l0,2l0,2l0,2l0,2l0,2l0,2l0,2l0,2l0,2l0,2l0,2l0,2l0,2l0,2l0,2l0,2l0,2l0,2l-1,1.8l-2,0.6l-1.5,0.6l-1.5,0.7l-2,0.9l-2,0.8l-2,0.9l-1.6,0.7l-1.4,0.6l-2,0.9l-2,0.9l-2,0.9l-1.7,0.7l-2.2,1l-2.1,0.9l-2,0.9l-2,0.9l-2,0.9l-2,0.9l-2,0.9l-1.4,0.6l-1.6,0.7l-2,0.9l-2,0.9l-2,0.8l-1.6,0.7l-2.4,0.8l-1.8,0.2l-2.2-0.1l-2-0.3l-2-0.3l-2-0.2l-2,0.1l-2,0.2l-2,0.3l-2,0.3l-2,0.2l-2,0.2l-2,0.2l-2,0.3l-2,0.2l-2,0.2l-2,0.2l-2,0.2l-2,0.3l-2,0.2l-2,0.2l-2,0.2l-2,0.3l-2,0.2l-2,0.3l-2,0.4l-2,0.3l-2,0.3l-2,0.4l-2,0.3l-2,0.4l-2,0.3l-2,0.4l-2,0.3l-2,0.3l-2,0.4l-2,0.3l-2,0.3l-2,0.4l-2,0.3l-2,0.4l-2,0.3l-2,0.3l-2,0.4l-2,0.3l-2,0.3l-2,0.2l-2,0.2l-2,0.2l-2,0.3l-2,0.2l-2,0.2l-1.8,0.2l-2.2,0.2l-2,0.3l-2,0.2l-2,0.2l-2,0.2l-2,0.2l-2,0.1l-2,0.2l-2,0.3l-2,0.4l-2,0.3l-2-0.1l-2-0.5l-2-0.6l-2-0.7l-2-0.6l-2-0.7l-2-0.7l-2-0.7l-2-0.6l-2-0.8l-1.6-0.6l-2.4-0.9l-2-0.7l-2-0.8l-1.6-0.6l-2.4-0.8l-2-0.3l0-2.9l0-2l0-2l0-2l0-2l0-2l0-2l0-2l0-2l0-2l0-2l0-2l0-2l0-2l0-2l0-2l0-2l0-2l0-2l0-2l0-2l0-2l0-2l0-2l0-2l0-2l0-2l0-2l0-2l0-2l0-2l0-2l0-2l0-2l0-2l0-2l0-2l0-2l0-2l0-2l0-2l0-2l0-2l0-2l0-2l0-2l0-2l0-2l0-2l0-2l0-2l0-2l0-2l0-2l0-2l0-2l0-2l0-2l0-2l0-2l0-2l0-2l0-2l0-2l0-2Z" fill="#ffd800"/>
<path d="M145,55l2,0l2,0l2,0l2,0l2,0l2,0l2,0l2,0l2,0l2,0l2,0l2,0l2,0l2,0l2,0l2,0l2,0l2,0l2,0l2,0l2,0l2,0l2,0l2,0l2,0l2,0l2,0l2,0l2,0l2,0l2,0l2,0l2,0l2,0l2,0l2,0l2,0l2,0l2,0l2,0l2,0l2,0l2,0l2,0l2,0l2,0l2,0l2,0l2,0l2,0l2,0l2,0l2,0l2,0l2,0l2,0l2,0l2,0l2,0l2,0l2,0l2,0l2,0l2,0l2,0l2,0l2,0l2,0l2,0l2,0l2,0l2,0l2,0l2,0l2,0l2,0l2,0l2,0l2,0l2,0l2,0l2,0l2,0l2,0l2,0l2,0l2,0l2,0l2,0l2,0l2,0l2,0l2,0l2,0l2,0l2,0l2,0l2,0l2,0l2,0l2,0l2,0l2,0l2,0l2,0l0,2l0,2l0,2l0,2l0,2l0,2l0,2l0,2l0,2l0,2l0,2l0,2l0,2l0,2l0,2l0,2l0,2l0,2l0,2l0,2l0,2l0,2l0,2l0,2l0,2l0,2l0,2l0,2l0,2l0,2l0,2l0,2l0,2l0,2l0,2l0,2l0,2l0,2l0,2l0,2l0,2l0,2l0,2l0,2l0,2l0,2l0,2l0,2l0,2l0,2l0,2l-1,1.2l-2,0.6l-2,0.7l-2,0.9l-2,0.9l-1.7,0.7l-2.3,1l-2,0.8l-2,0.9l-2,0.8l-2,0.9l-1.4,0.6l-1.6,0.6l-2,0.9l-2,0.8l-1.6,0.7l-1.4,0.6l-2,0.8l-2,0.9l-1.7,0.7l-2.3,1l-2,0.8l-2,0.8l-2,0.8l-1.6,0.6l-2.4,0.9l-2,0.6l-2,0.2l-2,0l-2-0.4l-2-0.4l-2-0.4l-2-0.2l-2,0.1l-2,0.2l-2,0.2l-2,0.3l-2,0.2l-2,0.2l-2,0.2l-2,0.2l-2,0.3l-2,0.2l-2,0.2l-2,0.2l-2,0.2l-2,0.2l-2,0.3l-2,0.2l-2,0.3l-2,0.3l-2,0.3l-2,0.3l-2,0.3l-2,0.3l-2,0.3l-2,0.3l-2,0.3l-2,0.3l-2,0.3l-2,0.3l-2,0.2l-2,0.4l-2,0.2l-2,0.3l-2,0.3l-1.8,0.3l-2.2,0.3l-2,0.3l-2,0.3l-2,0.3l-2,0.3l-2,0.2l-2,0.2l-2,0.2l-2,0.2l-2,0.2l-2,0.3l-2,0.2l-2,0.2l-2,0.2l-2,0.2l-2,0.3l-2,0.2l-2,0.5l-2,0.7l-1.6,0.7l-2.4,0.8l-2,0.2l-2-0.2l-2-0.6l-2-0.7l-1.6-0.5l-2.4-0.8l-2-0.6l-1.6-0.6l-2.4-0.8l-2-0.7l-2-0.7l-2-0.7l-2-0.7l-2-0.8l-1.8-0.6l-2.2-0.8l-2-0.7l-2-0.5l-1-1l0-2l0-2l0-2l0-2l0-2l0-2l0-2l0-2l0-2l0-2l0-2l0-2l0-2l0-2l0-2l0-2l0-2l0-2l0-2l0-2l0-2l0-2l0-2l0-2l0-2l0-2l0-2l0-2l0-2l0-2l0-2l0-2l0-2l0-2l0-2l0-2l0-2l0-2l0-2l0-2l0-2l0-2l0-2l0-2l0-2l0-2l0-2l0-2l0-2l0-2l0-2l0-2l0-2l0-2l0-2l0-2l0-2l0-2l0-2l0-2l0-2l0-2l0-2Z" fill="#ffc000"/>
<path d="M145,55l2,0l2,0l2,0l2,0l2,0l2,0l2,0l2,0l2,0l2,0l2,0l2,0l2,0l2,0l2,0l2,0l2,0l2,0l2,0l2,0l2,0l2,0l2,0l2,0l2,0l2,0l2,0l2,0l2,0l2,0l2,0l2,0l2,0l2,0l2,0l2,0l2,0l2,0l2,0l2,0l2,0l2,0l2,0l2,0l2,0l2,0l2,0l2,0l2,0l2,0l2,0l2,0l2,0l2,0l2,0l2,0l2,0l2,0l2,0l2,0l2,0l2,0l2,0l2,0l2,0l2,0l2,0l2,0l2,0l2,0l2,0l2,0l2,0l2,0l2,0l2,0l2,0l2,0l2,0l2,0l2,0l2,0l2,0l2,0l2,0l2,0l2,0l2,0l2,0l2,0l2,0l2,0l2,0l2,0l2,0l2,0l2,0l2,0l2,0l2,0l2,0l2,0l2,0l2,0l2,0l0,2l0,2l0,2l0,2l0,2l0,2l0,2l0,2l0,2l0,2l0,2l0,2l0,2l0,2l0,2l0,2l0,2l0,2l0,2l0,2l0,2l0,2l0,2l0,2l0,2l0,2l0,2l0,2l0,2l0,2l0,2l0,2l0,2l0,2l0,2l0,2l0,2l0,2l0,2l0,2l0,2l0,2l0,2l0,2l0,2l0,2l0,2l-1,1.7l-2,0.7l-1.4,0.6l-1.6,0.8l-2,1l-2,1l-2,0.9l-2,1l-2,1l-2,1l-2,1l-2,1l-2,0.9l-2,1l-2,1l-2,1l-2,0.9l-2,1l-2,1l-2,0.9l-2,1l-2,0.9l-1.4,0.7l-1.6,0.7l-2,1l-2,0.9l-2,0.8l-2,0.5l-2,0.2l-2-0.2l-2-0.4l-2-0.4l-2-0.4l-2-0.3l-2-0.1l-2,0.1l-2,0.2l-2,0.3l-2,0.2l-2,0.2l-2,0.2l-2,0.2l-2,0.2l-2,0.2l-2,0.3l-2,0.2l-2,0.2l-1.9,0.2l-2.1,0.2l-2,0.3l-2,0.2l-2,0.3l-2,0.3l-2,0.2l-2,0.3l-2,0.3l-2,0.2l-2,0.3l-2,0.2l-2,0.3l-2,0.2l-2,0.3l-2,0.3l-2,0.2l-2,0.3l-2,0.2l-2,0.3l-2,0.2l-2,0.3l-2,0.2l-2,0.3l-2,0.2l-2,0.3l-2,0.2l-2,0.2l-2,0.2l-2,0.2l-2,0.2l-2,0.2l-2,0.2l-2,0.3l-2,0.2l-2,0.3l-2,0.6l-2,0.8l-1.8,1l-1.7,1l-1.5,0.8l-2,0.5l-2-0.2l-2-0.5l-1.9-0.6l-2.1-0.7l-2-0.7l-2-0.6l-2-0.7l-2-0.7l-1.9-0.6l-2.1-0.7l-2-0.7l-1.8-0.6l-2.2-0.8l-2-0.6l-1.7-0.6l-2.3-0.8l-2-0.5l-2-0.3l0-2.4l0-2l0-2l0-2l0-2l0-2l0-2l0-2l0-2l0-2l0-2l0-2l0-2l0-2l0-2l0-2l0-2l0-2l0-2l0-2l0-2l0-2l0-2l0-2l0-2l0-2l0-2l0-2l0-2l0-2l0-2l0-2l0-2l0-2l0-2l0-2l0-2l0-2l0-2l0-2l0-2l0-2l0-2l0-2l0-2l0-2l0-2l0-2l0-2l0-2l0-2l0-2l0-2l0-2l0-2l0-2l0-2l0-2l0-2l0-2l0-2Z" fill="#ffac00"/>
<path d="M145,55l2,0l2,0l2,0l2,0l2,0l2,0l2,0l2,0l2,0l2,0l2,0l2,0l2,0l2,0l2,0l2,0l2,0l2,0l2,0l2,0l2,0l2,0l2,0l2,0l2,0l2,0l2,0l2,0l2,0l2,0l2,0l2,0l2,0l2,0l2,0l2,0l2,0l2,0l2,0l2,0l2,0l2,0l2,0l2,0l2,0l2,0l2,0l2,0l2,0l2,0l2,0l2,0l2,0l2,0l2,0l2,0l2,0l2,0l2,0l2,0l2,0l2,0l2,0l2,0l2,0l2,0l2,0l2,0l2,0l2,0l2,0l2,0l2,0l2,0l2,0l2,0l2,0l2,0l2,0l2,0l2,0l2,0l2,0l2,0l2,0l2,0l2,0l2,0l2,0l2,0l2,0l2,0l2,0l2,0l2,0l2,0l2,0l2,0l2,0l2,0l2,0l2,0l2,0l2,0l2,0l0,2l0,2l0,2l0,2l0,2l0,2l0,2l0,2l0,2l0,2l0,2l0,2l0,2l0,2l0,2l0,2l0,2l0,2l0,2l0,2l0,2l0,2l0,2l0,2l0,2l0,2l0,2l0,2l0,2l0,2l0,2l0,2l0,2l0,2l0,2l0,2l0,2l0,2l0,2l0,2l0,2l0,2l0,2l0,2l0,2l0,2l-2,0.7l-2,0.9l-2,0.9l-2,0.9l-2,0.9l-1.4,0.7l-1.6,0.7l-2,1l-2,0.9l-2,0.9l-2,1l-2,0.9l-2,1l-2,0.9l-1.4,0.7l-1.6,0.8l-2,0.9l-2,1l-2,1l-2,1l-2,0.9l-2,1l-2,1l-2,1l-2,1l-2,0.9l-2,1l-2,0.7l-2,0.3l-2,0l-2-0.2l-2-0.4l-2-0.5l-2-0.3l-2-0.2l-2,0.1l-2,0.2l-2,0.2l-2,0.2l-2,0.2l-1.8,0.2l-2.2,0.2l-2,0.2l-2,0.3l-2,0.2l-2,0.2l-2,0.2l-2,0.2l-2,0.2l-2,0.3l-2,0.2l-2,0.3l-2,0.2l-2,0.2l-2,0.3l-2,0.2l-2,0.3l-2,0.2l-2,0.2l-2,0.3l-2,0.2l-2,0.2l-2,0.3l-2,0.2l-2,0.2l-2,0.2l-2,0.3l-2,0.2l-2,0.2l-2,0.3l-2,0.2l-2,0.2l-2,0.2l-2,0.2l-2,0.2l-2,0.2l-2,0.3l-2,0.2l-2,0.2l-2,0.2l-1.8,0.2l-2.2,0.4l-1.5,0.6l-1.5,0.7l-2,1.1l-2,0.9l-2,0.8l-2,0.4l-2-0.1l-2-0.5l-2-0.6l-2-0.7l-2-0.6l-2-0.6l-2-0.7l-2-0.6l-2-0.7l-2-0.7l-2-0.8l-2-0.7l-1.6-0.6l-2.4-0.9l-2-0.7l-2-0.7l-2-0.7l-2-0.4l-1-1.6l0-2l0-2l0-2l0-2l0-2l0-2l0-2l0-2l0-2l0-2l0-2l0-2l0-2l0-2l0-2l0-2l0-2l0-2l0-2l0-2l0-2l0-2l0-2l0-2l0-2l0-2l0-2l0-2l0-2l0-2l0-2l0-2l0-2l0-2l0-2l0-2l0-2l0-2l0-2l0-2l0-2l0-2l0-2l0-2l0-2l0-2l0-2l0-2l0-2l0-2l0-2l0-2l0-2l0-2l0-2l0-2l0-2l0-2l0-2Z" fill="#ffa000"/>
<path d="M145,55l2,0l2,0l2,0l2,0l2,0l2,0l2,0l2,0l2,0l2,0l2,0l2,0l2,0l2,0l2,0l2,0l2,0l2,0l2,0l2,0l2,0l2,0l2,0l2,0l2,0l2,0l2,0l2,0l2,0l2,0l2,0l2,0l2,0l2,0l2,0l2,0l2,0l2,0l2,0l2,0l2,0l2,0l2,0l2,0l2,0l2,0l2,0l2,0l2,0l2,0l2,0l2,0l2,0l2,0l2,0l2,0l2,0l2,0l2,0l2,0l2,0l2,0l2,0l2,0l2,0l2,0l2,0l2,0l2,0l2,0l2,0l2,0l2,0l2,0l2,0l2,0l2,0l2,0l2,0l2,0l2,0l2,0l2,0l2,0l2,0l2,0l2,0l2,0l2,0l2,0l2,0l2,0l2,0l2,0l2,0l2,0l2,0l2,0l2,0l2,0l2,0l2,0l2,0l2,0l2,0l0,2l0,2l0,2l0,2l0,2l0,2l0,2l0,2l0,2l0,2l0,2l0,2l0,2l0,2l0,2l0,2l0,2l0,2l0,2l0,2l0,2l0,2l0,2l0,2l0,2l0,2l0,2l0,2l0,2l0,2l0,2l0,2l0,2l0,2l0,2l0,2l0,2l0,2l0,2l0,2l0,2l0,2l0,2l0,2l0,2l-1,1.3l-2,0.6l-2,0.9l-2,0.9l-2,0.9l-2,0.9l-2,0.9l-2,0.9l-1.6,0.7l-1.4,0.7l-2,0.9l-2,0.9l-2,0.9l-2,0.9l-1.6,0.7l-1.4,0.7l-2,0.9l-2,0.9l-2,1l-2,0.9l-2,0.9l-1.5,0.7l-1.5,0.7l-2,1l-2,0.9l-2,1l-2,0.9l-2,1l-2,0.8l-2,0.6l-2,0.2l-2-0.1l-2-0.3l-2-0.5l-2-0.4l-2-0.3l-2,0l-2,0.2l-2,0.2l-2,0.2l-2,0.2l-2,0.3l-2,0.2l-2,0.2l-2,0.2l-2,0.2l-2,0.2l-2,0.2l-2,0.2l-2,0.3l-2,0.2l-2,0.2l-2,0.2l-2,0.3l-2,0.2l-2,0.2l-2,0.2l-2,0.3l-2,0.2l-2,0.2l-2,0.2l-2,0.2l-2,0.3l-2,0.2l-2,0.2l-2,0.2l-1.9,0.2l-2.1,0.2l-2,0.3l-2,0.2l-2,0.2l-2,0.2l-2,0.2l-2,0.2l-2,0.2l-2,0.2l-2,0.2l-2,0.2l-2,0.2l-2,0.2l-2,0.2l-2,0.3l-2,0.5l-2,1l-2,1.2l-1.9,1.1l-2.1,0.8l-2,0.4l-2-0.2l-2-0.6l-2-0.6l-2-0.6l-2-0.6l-1.7-0.6l-2.3-0.7l-2-0.7l-1.8-0.6l-2.2-0.8l-2-0.7l-2-0.8l-1.8-0.7l-2.2-0.8l-2-0.7l-2-0.8l-1.9-0.7l-2.1-0.6l-2-0.4l0-2l0-2l0-2l0-2l0-2l0-2l0-2l0-2l0-2l0-2l0-2l0-2l0-2l0-2l0-2l0-2l0-2l0-2l0-2l0-2l0-2l0-2l0-2l0-2l0-2l0-2l0-2l0-2l0-2l0-2l0-2l0-2l0-2l0-2l0-2l0-2l0-2l0-2l0-2l0-2l0-2l0-2l0-2l0-2l0-2l0-2l0-2l0-2l0-2l0-2l0-2l0-2l0-2l0-2l0-2l0-2l0-2l0-2Z" fill="#ff9000"/>
<path d="M145,55l2,0l2,0l2,0l2,0l2,0l2,0l2,0l2,0l2,0l2,0l2,0l2,0l2,0l2,0l2,0l2,0l2,0l2,0l2,0l2,0l2,0l2,0l2,0l2,0l2,0l2,0l2,0l2,0l2,0l2,0l2,0l2,0l2,0l2,0l2,0l2,0l2,0l2,0l2,0l2,0l2,0l2,0l2,0l2,0l2,0l2,0l2,0l2,0l2,0l2,0l2,0l2,0l2,0l2,0l2,0l2,0l2,0l2,0l2,0l2,0l2,0l2,0l2,0l2,0l2,0l2,0l2,0l2,0l2,0l2,0l2,0l2,0l2,0l2,0l2,0l2,0l2,0l2,0l2,0l2,0l2,0l2,0l2,0l2,0l2,0l2,0l2,0l2,0l2,0l2,0l2,0l2,0l2,0l2,0l2,0l2,0l2,0l2,0l2,0l2,0l2,0l2,0l2,0l2,0l2,0l0,2l0,2l0,2l0,2l0,2l0,2l0,2l0,2l0,2l0,2l0,2l0,2l0,2l0,2l0,2l0,2l0,2l0,2l0,2l0,2l0,2l0,2l0,2l0,2l0,2l0,2l0,2l0,2l0,2l0,2l0,2l0,2l0,2l0,2l0,2l0,2l0,2l0,2l0,2l0,2l0,2l0,2l0,2l0,2l-1.8,1l-2.2,0.7l-2,0.9l-2,0.9l-2,0.9l-1.4,0.6l-1.6,0.7l-2,0.9l-2,0.8l-2,0.9l-1.7,0.7l-2.3,1l-2,0.9l-2,0.8l-2,0.9l-2,0.8l-2,0.9l-1.6,0.7l-2.4,1l-2,0.9l-2,0.8l-2,0.9l-2,0.8l-2,0.9l-1.8,0.7l-2.2,0.9l-2,0.8l-2,0.8l-1.7,0.5l-2.3,0.5l-2,0.1l-2-0.2l-1.6-0.4l-2.4-0.5l-2-0.2l-2,0.1l-2,0.2l-2,0.3l-2,0.2l-2,0.2l-2,0.2l-2,0.2l-2,0.2l-2,0.2l-2,0.2l-2,0.2l-2,0.2l-2,0.2l-2,0.2l-2,0.2l-2,0.2l-2,0.2l-2,0.2l-2,0.2l-2,0.2l-2,0.2l-2,0.2l-2,0.2l-2,0.2l-2,0.2l-2,0.2l-2,0.2l-2,0.2l-2,0.2l-2,0.2l-2,0.2l-2,0.2l-2,0.2l-2,0.2l-2,0.2l-2,0.1l-2,0.2l-2,0.2l-1.9,0.2l-2.1,0.2l-2,0.2l-2,0.2l-2,0.2l-2,0.2l-2,0.2l-2,0.4l-2,0.9l-2,1.4l-1.4,1.1l-1.5,1l-2.1,0.8l-2,0l-2-0.5l-2-0.6l-2-0.7l-2-0.6l-2-0.7l-2-0.7l-2-0.6l-2-0.7l-2-0.7l-2-0.7l-2-0.7l-1.8-0.6l-2.2-0.8l-2-0.7l-2-0.7l-2-0.7l-2-0.7l-2-0.5l-2-0.3l0-2.6l0-2l0-2l0-2l0-2l0-2l0-2l0-2l0-2l0-2l0-2l0-2l0-2l0-2l0-2l0-2l0-2l0-2l0-2l0-2l0-2l0-2l0-2l0-2l0-2l0-2l0-2l0-2l0-2l0-2l0-2l0-2l0-2l0-2l0-2l0-2l0-2l0-2l0-2l0-2l0-2l0-2l0-2l0-2l0-2l0-2l0-2l0-2l0-2l0-2l0-2l0-2l0-2l0-2l0-2l0-2Z" fill="#ff7800"/>
<path d="M145,55l2,0l2,0l2,0l2,0l2,0l2,0l2,0l2,0l2,0l2,0l2,0l2,0l2,0l2,0l2,0l2,0l2,0l2,0l2,0l2,0l2,0l2,0l2,0l2,0l2,0l2,0l2,0l2,0l2,0l2,0l2,0l2,0l2,0l2,0l2,0l2,0l2,0l2,0l2,0l2,0l2,0l2,0l2,0l2,0l2,0l2,0l2,0l2,0l2,0l2,0l2,0l2,0l2,0l2,0l2,0l2,0l2,0l2,0l2,0l2,0l2,0l2,0l2,0l2,0l2,0l2,0l2,0l2,0l2,0l2,0l2,0l2,0l2,0l2,0l2,0l2,0l2,0l2,0l2,0l2,0l2,0l2,0l2,0l2,0l2,0l2,0l2,0l2,0l2,0l2,0l2,0l2,0l2,0l2,0l2,0l2,0l2,0l2,0l2,0l2,0l2,0l2,0l2,0l2,0l2,0l0,2l0,2l0,2l0,2l0,2l0,2l0,2l0,2l0,2l0,2l0,2l0,2l0,2l0,2l0,2l0,2l0,2l0,2l0,2l0,2l0,2l0,2l0,2l0,2l0,2l0,2l0,2l0,2l0,2l0,2l0,2l0,2l0,2l0,2l0,2l0,2l0,2l0,2l0,2l0,2l0,2l0,2l-1,1.5l-1.9,0.5l-2.1,0.7l-2,0.9l-2,0.8l-2,0.9l-1.5,0.7l-1.5,0.6l-2,0.9l-2,0.8l-1.5,0.7l-1.5,0.6l-2,0.9l-2,0.8l-1.5,0.7l-1.5,0.6l-2,0.9l-2,0.8l-1.6,0.7l-1.4,0.6l-2,0.8l-2,0.9l-1.6,0.7l-2.3,1l-2.1,0.9l-2,0.8l-2,0.8l-2,0.8l-1.6,0.7l-2.4,0.9l-2,0.7l-1.7,0.4l-2.3,0.2l-2,0l-2-0.3l-2-0.4l-2-0.2l-2,0.2l-2,0.4l-2,0.4l-2,0.3l-2,0.2l-2,0.2l-2,0.2l-2,0.2l-2,0.1l-2,0.2l-2,0.2l-2,0.2l-2,0.2l-2,0.2l-2,0.2l-2,0.2l-2,0.2l-2,0.2l-2,0.2l-2,0.1l-2,0.2l-2,0.2l-2,0.2l-2,0.2l-2,0.2l-2,0.1l-2,0.2l-2,0.2l-2,0.2l-2,0.1l-2,0.2l-2,0.2l-2,0.2l-2,0.2l-2,0.1l-2,0.2l-2,0.2l-2,0.2l-2,0.1l-2,0.2l-2,0.2l-2,0.2l-2,0.1l-2,0.2l-2,0.3l-2,0.5l-2,0.8l-2,1l-2,1.2l-2,1l-2,0.3l-2-0.4l-2-0.6l-2-0.6l-2-0.7l-2-0.6l-2-0.7l-2-0.6l-2-0.7l-2-0.7l-2-0.7l-2-0.6l-2-0.7l-2-0.7l-2-0.7l-2-0.7l-2-0.6l-2-0.7l-2-0.6l-2-0.4l-1-1l0-2l0-2l0-2l0-2l0-2l0-2l0-2l0-2l0-2l0-2l0-2l0-2l0-2l0-2l0-2l0-2l0-2l0-2l0-2l0-2l0-2l0-2l0-2l0-2l0-2l0-2l0-2l0-2l0-2l0-2l0-2l0-2l0-2l0-2l0-2l0-2l0-2l0-2l0-2l0-2l0-2l0-2l0-2l0-2l0-2l0-2l0-2l0-2l0-2l0-2l0-2l0-2l0-2l0-2Z" fill="#ff6100"/>
<path d="M145,55l2,0l2,0l2,0l2,0l2,0l2,0l2,0l2,0l2,0l2,0l2,0l2,0l2,0l2,0l2,0l2,0l2,0l2,0l2,0l2,0l2,0l2,0l2,0l2,0l2,0l2,0l2,0l2,0l2,0l2,0l2,0l2,0l2,0l2,0l2,0l2,0l2,0l2,0l2,0l2,0l2,0l2,0l2,0l2,0l2,0l2,0l2,0l2,0l2,0l2,0l2,0l2,0l2,0l2,0l2,0l2,0l2,0l2,0l2,0l2,0l2,0l2,0l2,0l2,0l2,0l2,0l2,0l2,0l2,0l2,0l2,0l2,0l2,0l2,0l2,0l2,0l2,0l2,0l2,0l2,0l2,0l2,0l2,0l2,0l2,0l2,0l2,0l2,0l2,0l2,0l2,0l2,0l2,0l2,0l2,0l2,0l2,0l2,0l2,0l2,0l2,0l2,0l2,0l2,0l2,0l0,2l0,2l0,2l0,2l0,2l0,2l0,2l0,2l0,2l0,2l0,2l0,2l0,2l0,2l0,2l0,2l0,2l0,2l0,2l0,2l0,2l0,2l0,2l0,2l0,2l0,2l0,2l0,2l0,2l0,2l0,2l0,2l0,2l0,2l0,2l0,2l0,2l0,2l-1,1.5l-1.7,0.5l-2.3,1l-2,1l-2,0.9l-2,1l-2,0.9l-2,1l-2,0.9l-2,1l-2,0.9l-2,1l-2,1l-2,0.9l-2,1l-2,1l-2,1l-2,0.9l-2,1l-2,1l-2,1l-2,1l-2,0.9l-2,1l-1.3,0.7l-1.7,0.8l-2,1l-2,1l-2,1l-2,0.9l-2,0.7l-2,0.4l-2,0.1l-2-0.1l-2-0.2l-2,0.1l-2,0.5l-2,0.6l-2,0.4l-2,0.3l-2,0.3l-2,0.1l-2,0.2l-2,0.2l-2,0.2l-2,0.2l-2,0.2l-2,0.1l-2,0.2l-2,0.2l-2,0.2l-2,0.2l-2,0.2l-2,0.1l-2,0.2l-2,0.2l-2,0.1l-2,0.2l-2,0.2l-2,0.2l-2,0.1l-2,0.2l-2,0.2l-2,0.1l-2,0.2l-2,0.1l-2,0.2l-2,0.2l-2,0.1l-2,0.2l-2,0.2l-2,0.1l-2,0.2l-2,0.2l-2,0.1l-2,0.2l-2,0.1l-2,0.2l-2,0.2l-2,0.3l-1.9,0.4l-2.1,0.7l-2,0.8l-1.5,0.5l-2.5,0.4l-2-0.3l-2-0.5l-1.9-0.6l-2.1-0.6l-2-0.6l-2-0.6l-2-0.6l-1.7-0.6l-2.3-0.8l-2-0.7l-2-0.7l-2-0.8l-2-0.7l-2-0.7l-1.5-0.6l-1.5-0.5l-2-0.8l-1.9-0.7l-2.1-0.7l-2-0.7l-2-0.6l-1-1l0-2l0-2l0-2l0-2l0-2l0-2l0-2l0-2l0-2l0-2l0-2l0-2l0-2l0-2l0-2l0-2l0-2l0-2l0-2l0-2l0-2l0-2l0-2l0-2l0-2l0-2l0-2l0-2l0-2l0-2l0-2l0-2l0-2l0-2l0-2l0-2l0-2l0-2l0-2l0-2l0-2l0-2l0-2l0-2l0-2l0-2l0-2l0-2l0-2l0-2l0-2Z" fill="#ff4900"/>
<path d="M145,55l2,0l2,0l2,0l2,0l2,0l2,0l2,0l2,0l2,0l2,0l2,0l2,0l2,0l2,0l2,0l2,0l2,0l2,0l2,0l2,0l2,0l2,0l2,0l2,0l2,0l2,0l2,0l2,0l2,0l2,0l2,0l2,0l2,0l2,0l2,0l2,0l2,0l2,0l2,0l2,0l2,0l2,0l2,0l2,0l2,0l2,0l2,0l2,0l2,0l2,0l2,0l2,0l2,0l2,0l2,0l2,0l2,0l2,0l2,0l2,0l2,0l2,0l2,0l2,0l2,0l2,0l2,0l2,0l2,0l2,0l2,0l2,0l2,0l2,0l2,0l2,0l2,0l2,0l2,0l2,0l2,0l2,0l2,0l2,0l2,0l2,0l2,0l2,0l2,0l2,0l2,0l2,0l2,0l2,0l2,0l2,0l2,0l2,0l2,0l2,0l2,0l2,0l2,0l2,0l2,0l0,2l0,2l0,2l0,2l0,2l0,2l0,2l0,2l0,2l0,2l0,2l0,2l0,2l0,2l0,2l0,2l0,2l0,2l0,2l0,2l0,2l0,2l0,2l0,2l0,2l0,2l0,2l0,2l0,2l0,2l0,2l0,2l0,2l0,2l0,2l0,2l0,2l-2,0.5l-2,0.8l-1.7,0.7l-2.3,1l-2,0.9l-2,0.9l-2,0.9l-2,0.9l-2,0.9l-2,0.9l-2,0.9l-1.7,0.7l-2.3,1l-2,0.9l-2,0.9l-2,0.9l-2,0.9l-2,0.8l-2,0.9l-1.6,0.7l-1.4,0.6l-2,0.9l-2,0.9l-2,0.9l-1.6,0.7l-1.4,0.6l-2,0.9l-2,0.9l-1.5,0.6l-1.5,0.7l-2,0.9l-2,0.8l-1.6,0.6l-2.4,0.7l-2,0.3l-2,0.1l-2,0.2l-1.7,0.7l-2.3,1l-2,0.6l-2,0.4l-2,0.2l-2,0.2l-2,0.1l-2,0.2l-2,0.2l-2,0.2l-2,0.1l-2,0.2l-2,0.2l-2,0.1l-2,0.2l-2,0.2l-2,0.2l-2,0.1l-2,0.2l-2,0.1l-2,0.2l-2,0.2l-2,0.1l-2,0.2l-2,0.1l-2,0.2l-2,0.1l-2,0.2l-2,0.2l-2,0.1l-2,0.2l-2,0.1l-2,0.2l-2,0.1l-2,0.2l-2,0.1l-2,0.2l-2,0.1l-2,0.2l-2,0.1l-2,0.2l-2,0.1l-2,0.3l-2,0.3l-2,0.6l-1.7,0.7l-2.3,0.8l-2,0.1l-2-0.4l-1.8-0.5l-2.2-0.7l-2-0.7l-1.9-0.6l-2.1-0.7l-2-0.7l-1.9-0.6l-2.1-0.7l-2-0.7l-1.8-0.6l-2.2-0.7l-2-0.7l-1.7-0.6l-2.3-0.8l-2-0.7l-2-0.7l-2-0.7l-2-0.7l-2-0.6l-2-0.5l-1-1.3l0-2l0-2l0-2l0-2l0-2l0-2l0-2l0-2l0-2l0-2l0-2l0-2l0-2l0-2l0-2l0-2l0-2l0-2l0-2l0-2l0-2l0-2l0-2l0-2l0-2l0-2l0-2l0-2l0-2l0-2l0-2l0-2l0-2l0-2l0-2l0-2l0-2l0-2l0-2l0-2l0-2l0-2l0-2l0-2l0-2l0-2l0-2l0-2l0-2Z" fill="#ff3500"/>
<path d="M145,55l2,0l2,0l2,0l2,0l2,0l2,0l2,0l2,0l2,0l2,0l2,0l2,0l2,0l2,0l2,0l2,0l2,0l2,0l2,0l2,0l2,0l2,0l2,0l2,0l2,0l2,0l2,0l2,0l2,0l2,0l2,0l2,0l2,0l2,0l2,0l2,0l2,0l2,0l2,0l2,0l2,0l2,0l2,0l2,0l2,0l2,0l2,0l2,0l2,0l2,0l2,0l2,0l2,0l2,0l2,0l2,0l2,0l2,0l2,0l2,0l2,0l2,0l2,0l2,0l2,0l2,0l2,0l2,0l2,0l2,0l2,0l2,0l2,0l2,0l2,0l2,0l2,0l2,0l2,0l2,0l2,0l2,0l2,0l2,0l2,0l2,0l2,0l2,0l2,0l2,0l2,0l2,0l2,0l2,0l2,0l2,0l2,0l2,0l2,0l2,0l2,0l2,0l2,0l2,0l2,0l0,2l0,2l0,2l0,2l0,2l0,2l0,2l0,2l0,2l0,2l0,2l0,2l0,2l0,2l0,2l0,2l0,2l0,2l0,2l0,2l0,2l0,2l0,2l0,2l0,2l0,2l0,2l0,2l0,2l0,2l0,2l0,2l0,2l0,2l0,2l0,2l-1.2,1l-1.8,0.6l-2,0.8l-2,0.9l-1.7,0.7l-2.2,1l-2.1,0.9l-2,0.9l-2,0.9l-2,0.9l-2,0.9l-2,0.8l-1.6,0.7l-2.4,1l-2,0.9l-2,0.8l-2,0.9l-2,0.9l-2,0.8l-1.6,0.7l-1.4,0.6l-2,0.9l-2,0.8l-1.6,0.7l-2.4,1l-2,0.9l-2,0.8l-2,0.8l-2,0.9l-1.6,0.6l-2.4,1l-2,0.7l-2,0.7l-2,0.5l-2,0.3l-2,0.2l-2,0.5l-2,1l-2,0.9l-2,0.6l-2,0.3l-2,0.2l-2,0.2l-2,0.1l-2,0.2l-2,0.2l-2,0.2l-2,0.1l-2,0.2l-2,0.2l-2,0.1l-2,0.2l-2,0.2l-2,0.1l-2,0.2l-2,0.1l-2,0.2l-2,0.2l-2,0.1l-2,0.2l-2,0.1l-2,0.2l-2,0.1l-2,0.2l-2,0.1l-2,0.2l-2,0.2l-2,0.1l-2,0.2l-2,0.1l-2,0.2l-2,0.1l-2,0.2l-2,0.1l-2,0.2l-2,0.1l-2,0.2l-2,0.1l-2,0.2l-2,0.2l-2,0.3l-2,0.6l-2,0.8l-1.8,0.3l-2.2-0.2l-2-0.6l-2-0.6l-1.9-0.6l-2.1-0.7l-2-0.6l-2-0.7l-2-0.7l-2-0.6l-2-0.7l-2-0.7l-2-0.6l-2-0.7l-2-0.7l-2-0.7l-1.9-0.6l-2.1-0.7l-2-0.7l-1.8-0.6l-2.2-0.7l-2-0.6l-2-0.3l0-2.4l0-2l0-2l0-2l0-2l0-2l0-2l0-2l0-2l0-2l0-2l0-2l0-2l0-2l0-2l0-2l0-2l0-2l0-2l0-2l0-2l0-2l0-2l0-2l0-2l0-2l0-2l0-2l0-2l0-2l0-2l0-2l0-2l0-2l0-2l0-2l0-2l0-2l0-2l0-2l0-2l0-2l0-2l0-2l0-2l0-2l0-2l0-2l0-2Z" fill="#ff2900"/>
<path d="M145,55l2,0l2,0l2,0l2,0l2,0l2,0l2,0l2,0l2,0l2,0l2,0l2,0l2,0l2,0l2,0l2,0l2,0l2,0l2,0l2,0l2,0l2,0l2,0l2,0l2,0l2,0l2,0l2,0l2,0l2,0l2,0l2,0l2,0l2,0l2,0l2,0l2,0l2,0l2,0l2,0l2,0l2,0l2,0l2,0l2,0l2,0l2,0l2,0l2,0l2,0l2,0l2,0l2,0l2,0l2,0l2,0l2,0l2,0l2,0l2,0l2,0l2,0l2,0l2,0l2,0l2,0l2,0l2,0l2,0l2,0l2,0l2,0l2,0l2,0l2,0l2,0l2,0l2,0l2,0l2,0l2,0l2,0l2,0l2,0l2,0l2,0l2,0l2,0l2,0l2,0l2,0l2,0l2,0l2,0l2,0l2,0l2,0l2,0l2,0l2,0l2,0l2,0l2,0l2,0l2,0l0,2l0,2l0,2l0,2l0,2l0,2l0,2l0,2l0,2l0,2l0,2l0,2l0,2l0,2l0,2l0,2l0,2l0,2l0,2l0,2l0,2l0,2l0,2l0,2l0,2l0,2l0,2l0,2l0,2l0,2l0,2l0,2l0,2l0,2l0,2l-1,1.7l-2,0.6l-1.7,0.7l-2.3,1l-2,0.9l-2,0.8l-2,0.9l-2,0.9l-2,0.9l-1.4,0.6l-1.6,0.7l-2,0.8l-2,0.9l-1.4,0.6l-1.6,0.6l-2,0.9l-2,0.9l-1.5,0.6l-1.5,0.6l-2,0.9l-2,0.8l-1.6,0.7l-1.4,0.6l-2,0.8l-2,0.9l-1.7,0.7l-2.3,1l-2,0.8l-2,0.8l-2,0.8l-1.5,0.6l-1.5,0.6l-2,0.8l-1.8,0.6l-2.2,0.7l-2,0.5l-2,0.4l-2,0.2l-2,0.4l-1.4,0.8l-1.6,0.9l-2,0.9l-2,0.4l-2,0.3l-2,0.2l-2,0.2l-2,0.2l-2,0.1l-2,0.2l-2,0.2l-2,0.1l-2,0.2l-2,0.2l-2,0.1l-2,0.2l-2,0.2l-2,0.1l-2,0.2l-2,0.1l-2,0.2l-2,0.2l-2,0.1l-2,0.2l-2,0.1l-2,0.2l-2,0.1l-2,0.2l-2,0.2l-2,0.1l-2,0.2l-2,0.1l-2,0.2l-2,0.1l-2,0.2l-2,0.2l-2,0.1l-2,0.2l-2,0.1l-2,0.2l-2,0.1l-2,0.2l-2,0.1l-2,0.1l-2,0.2l-2,0.3l-2,0.3l-2,0l-2-0.4l-2-0.6l-1.9-0.5l-2.1-0.6l-2-0.6l-2-0.6l-2-0.7l-1.6-0.5l-2.4-0.8l-2-0.7l-2-0.7l-2-0.7l-2-0.7l-2-0.7l-2-0.6l-2-0.7l-2-0.7l-2-0.7l-2-0.7l-2-0.6l-2-0.4l-1-1.3l0-2l0-2l0-2l0-2l0-2l0-2l0-2l0-2l0-2l0-2l0-2l0-2l0-2l0-2l0-2l0-2l0-2l0-2l0-2l0-2l0-2l0-2l0-2l0-2l0-2l0-2l0-2l0-2l0-2l0-2l0-2l0-2l0-2l0-2l0-2l0-2l0-2l0-2l0-2l0-2l0-2l0-2l0-2l0-2l0-2l0-2l0-2Z" fill="#ff1700"/>
<path d="M145,55l2,0l2,0l2,0l2,0l2,0l2,0l2,0l2,0l2,0l2,0l2,0l2,0l2,0l2,0l2,0l2,0l2,0l2,0l2,0l2,0l2,0l2,0l2,0l2,0l2,0l2,0l2,0l2,0l2,0l2,0l2,0l2,0l2,0l2,0l2,0l2,0l2,0l2,0l2,0l2,0l2,0l2,0l2,0l2,0l2,0l2,0l2,0l2,0l2,0l2,0l2,0l2,0l2,0l2,0l2,0l2,0l2,0l2,0l2,0l2,0l2,0l2,0l2,0l2,0l2,0l2,0l2,0l2,0l2,0l2,0l2,0l2,0l2,0l2,0l2,0l2,0l2,0l2,0l2,0l2,0l2,0l2,0l2,0l2,0l2,0l2,0l2,0l2,0l2,0l2,0l2,0l2,0l2,0l2,0l2,0l2,0l2,0l2,0l2,0l2,0l2,0l2,0l2,0l2,0l2,0l0,2l0,2l0,2l0,2l0,2l0,2l0,2l0,2l0,2l0,2l0,2l0,2l0,2l0,2l0,2l0,2l0,2l0,2l0,2l0,2l0,2l0,2l0,2l0,2l0,2l0,2l0,2l0,2l0,2l0,2l0,2l-1,1.7l-2,0.7l-2,0.9l-1.4,0.7l-1.6,0.8l-2,1l-2,0.9l-2,1l-2,1l-2,1l-2,1l-2,1l-2,0.9l-2,1l-2,1l-2,1l-2,1l-2,1l-2,0.9l-2,1l-2,1l-2,1l-2,0.9l-2,1l-2,1l-2,0.9l-1.4,0.7l-1.6,0.8l-2,0.9l-2,1l-2,0.9l-2,0.9l-2,0.8l-1.8,0.7l-2.2,0.6l-1.8,0.4l-2.2,0.4l-1.9,0.6l-1.5,1l-1.2,1l-1.4,0.8l-2,0.6l-2,0.3l-2,0.2l-2,0.1l-2,0.2l-2,0.2l-2,0.1l-2,0.2l-2,0.2l-2,0.2l-2,0.1l-2,0.2l-2,0.2l-2,0.1l-2,0.2l-2,0.2l-2,0.2l-2,0.1l-2,0.2l-2,0.2l-2,0.1l-2,0.2l-2,0.2l-2,0.1l-2,0.2l-2,0.2l-2,0.1l-2,0.2l-2,0.2l-2,0.1l-2,0.2l-2,0.2l-2,0.2l-2,0.1l-2,0.2l-2,0.2l-2,0.1l-2,0.2l-2,0.1l-2,0l-2-0.1l-2-0.3l-2-0.2l-2-0.5l-2-0.5l-2-0.6l-2-0.7l-2-0.6l-2-0.6l-2-0.6l-2-0.6l-1.7-0.6l-2.3-0.8l-2-0.7l-2-0.7l-2-0.7l-2-0.7l-2-0.7l-1.8-0.7l-2.2-0.8l-2-0.7l-1.5-0.5l-1.5-0.5l-2-0.7l-2-0.7l-2-0.6l-2-0.4l0-2.1l0-2l0-2l0-2l0-2l0-2l0-2l0-2l0-2l0-2l0-2l0-2l0-2l0-2l0-2l0-2l0-2l0-2l0-2l0-2l0-2l0-2l0-2l0-2l0-2l0-2l0-2l0-2l0-2l0-2l0-2l0-2l0-2l0-2l0-2l0-2l0-2l0-2l0-2l0-2l0-2l0-2l0-2l0-2l0-2Z" fill="#fe0000"/>
<path d="M145,55l2,0l2,0l2,0l2,0l2,0l2,0l2,0l2,0l2,0l2,0l2,0l2,0l2,0l2,0l2,0l2,0l2,0l2,0l2,0l2,0l2,0l2,0l2,0l2,0l2,0l2,0l2,0l2,0l2,0l2,0l2,0l2,0l2,0l2,0l2,0l2,0l2,0l2,0l2,0l2,0l2,0l2,0l2,0l2,0l2,0l2,0l2,0l2,0l2,0l2,0l2,0l2,0l2,0l2,0l2,0l2,0l2,0l2,0l2,0l2,0l2,0l2,0l2,0l2,0l2,0l2,0l2,0l2,0l2,0l2,0l2,0l2,0l2,0l2,0l2,0l2,0l2,0l2,0l2,0l2,0l2,0l2,0l2,0l2,0l2,0l2,0l2,0l2,0l2,0l2,0l2,0l2,0l2,0l2,0l2,0l2,0l2,0l2,0l2,0l2,0l2,0l2,0l2,0l2,0l2,0l0,2l0,2l0,2l0,2l0,2l0,2l0,2l0,2l0,2l0,2l0,2l0,2l0,2l0,2l0,2l0,2l0,2l0,2l0,2l0,2l0,2l0,2l0,2l0,2l0,2l0,2l0,2l0,2l-1,1.8l-2,0.6l-2,0.9l-1.7,0.7l-2.2,1l-2.1,0.9l-2,0.9l-2,0.9l-2,0.9l-2,0.9l-2,0.9l-1.4,0.6l-1.6,0.7l-2,0.9l-2,0.8l-2,0.9l-1.6,0.7l-2.3,1l-2.1,0.9l-2,0.9l-2,0.8l-2,0.9l-2,0.9l-1.5,0.6l-1.5,0.7l-2,0.8l-2,0.9l-1.4,0.6l-1.6,0.7l-2,0.9l-2,0.8l-2,0.9l-1.8,0.7l-2.2,0.9l-2,0.8l-2,0.9l-2,0.9l-2,0.9l-2,0.9l-1.9,1.7l-1.1,1.5l-1,1.1l-2,1.2l-2,0.3l-2,0.2l-2,0.2l-2,0.1l-2,0.2l-2,0.2l-2,0.1l-2,0.2l-2,0.2l-2,0.2l-2,0.1l-2,0.2l-2,0.2l-2,0.1l-2,0.2l-2,0.2l-2,0.1l-1.9,0.2l-2.1,0.2l-2,0.1l-2,0.2l-2,0.2l-2,0.2l-2,0.1l-2,0.2l-2,0.2l-2,0.2l-2,0.2l-2,0.1l-2,0.2l-2,0.2l-2,0.2l-2,0.1l-2,0.2l-2,0.2l-2,0.1l-2,0l-2-0.3l-2-0.7l-2-0.5l-2-0.4l-2-0.5l-2-0.6l-2-0.7l-2-0.7l-2-0.6l-2-0.7l-2-0.7l-2-0.6l-2-0.7l-2-0.7l-2-0.6l-2-0.7l-2-0.7l-2-0.6l-2-0.7l-2-0.7l-2-0.6l-2-0.7l-2-0.7l-2-0.6l-2-0.7l-2-0.7l-2-0.5l-2-0.2l0-2l0-2l0-2l0-2l0-2l0-2l0-2l0-2l0-2l0-2l0-2l0-2l0-2l0-2l0-2l0-2l0-2l0-2l0-2l0-2l0-2l0-2l0-2l0-2l0-2l0-2l0-2l0-2l0-2l0-2l0-2l0-2l0-2l0-2l0-2l0-2l0-2l0-2l0-2l0-2l0-2l0-2Z" fill="#fc0000"/>
<path d="M145,55l2,0l2,0l2,0l2,0l2,0l2,0l2,0l2,0l2,0l2,0l2,0l2,0l2,0l2,0l2,0l2,0l2,0l2,0l2,0l2,0l2,0l2,0l2,0l2,0l2,0l2,0l2,0l2,0l2,0l2,0l2,0l2,0l2,0l2,0l2,0l2,0l2,0l2,0l2,0l2,0l2,0l2,0l2,0l2,0l2,0l2,0l2,0l2,0l2,0l2,0l2,0l2,0l2,0l2,0l2,0l2,0l2,0l2,0l2,0l2,0l2,0l2,0l2,0l2,0l2,0l2,0l2,0l2,0l2,0l2,0l2,0l2,0l2,0l2,0l2,0l2,0l2,0l2,0l2,0l2,0l2,0l2,0l2,0l2,0l2,0l2,0l2,0l2,0l2,0l2,0l2,0l2,0l2,0l2,0l2,0l2,0l2,0l2,0l2,0l2,0l2,0l2,0l2,0l2,0l2,0l0,2l0,2l0,2l0,2l0,2l0,2l0,2l0,2l0,2l0,2l0,2l0,2l0,2l0,2l0,2l0,2l0,2l0,2l0,2l0,2l0,2l0,2l0,2l0,2l-1.2,1l-1.8,0.7l-2,0.9l-2,0.9l-2,0.9l-2,1l-1.4,0.6l-1.6,0.8l-2,0.9l-2,0.9l-2,1l-2,0.9l-2,1l-2,0.9l-2,1l-1.4,0.6l-1.6,0.8l-2,0.9l-2,1l-2,0.9l-2,1l-2,0.9l-2,1l-2,0.9l-2,1l-2,0.9l-1.4,0.7l-1.6,0.8l-2,0.9l-2,1l-2,0.9l-2,1l-2,0.9l-2,0.9l-2,0.9l-1.6,0.7l-1.4,0.6l-2,0.8l-1.4,0.6l-1.6,0.7l-2,1l-1.3,1.3l-1.2,2l-1,2l-1.5,1.6l-2,0.7l-2,0.3l-2,0.1l-2,0.2l-2,0.1l-2,0.2l-2,0.2l-2,0.1l-2,0.2l-2,0.2l-2,0.1l-2,0.2l-2,0.2l-2,0.1l-2,0.2l-2,0.1l-2,0.2l-2,0.1l-2,0.2l-2,0.2l-2,0.1l-2,0.2l-2,0.2l-2,0.1l-2,0.2l-2,0.2l-2,0.1l-2,0.2l-2,0.2l-2,0.1l-2,0.2l-2,0.2l-2,0.1l-2,0.2l-2,0l-2-0.4l-2-1.4l-1-1l-1.2-1l-1.8-0.9l-2-0.7l-2-0.7l-2-0.7l-2-0.6l-2-0.7l-1.9-0.7l-2.1-0.7l-2-0.7l-1.6-0.6l-2.4-0.9l-2-0.7l-2-0.8l-1.7-0.6l-2.3-0.8l-2-0.8l-2-0.7l-1.8-0.7l-2.2-0.8l-2-0.7l-2-0.8l-2-0.7l-2-0.7l-2-0.8l-1.5-0.5l-2.5-0.7l-1-1.3l0-2l0-2l0-2l0-2l0-2l0-2l0-2l0-2l0-2l0-2l0-2l0-2l0-2l0-2l0-2l0-2l0-2l0-2l0-2l0-2l0-2l0-2l0-2l0-2l0-2l0-2l0-2l0-2l0-2l0-2l0-2l0-2l0-2l0-2l0-2l0-2Z" fill="#f90000"/>
<path d="M145,55l2,0l2,0l2,0l2,0l2,0l2,0l2,0l2,0l2,0l2,0l2,0l2,0l2,0l2,0l2,0l2,0l2,0l2,0l2,0l2,0l2,0l2,0l2,0l2,0l2,0l2,0l2,0l2,0l2,0l2,0l2,0l2,0l2,0l2,0l2,0l2,0l2,0l2,0l2,0l2,0l2,0l2,0l2,0l2,0l2,0l2,0l2,0l2,0l2,0l2,0l2,0l2,0l2,0l2,0l2,0l2,0l2,0l2,0l2,0l2,0l2,0l2,0l2,0l2,0l2,0l2,0l2,0l2,0l2,0l2,0l2,0l2,0l2,0l2,0l2,0l2,0l2,0l2,0l2,0l2,0l2,0l2,0l2,0l2,0l2,0l2,0l2,0l2,0l2,0l2,0l2,0l2,0l2,0l2,0l2,0l2,0l2,0l2,0l2,0l2,0l2,0l2,0l2,0l2,0l2,0l0,2l0,2l0,2l0,2l0,2l0,2l0,2l0,2l0,2l0,2l0,2l0,2l0,2l0,2l0,2l0,2l0,2l0,2l0,2l0,2l0,2l-0.1,2l-1.9,0.4l-1.8,0.6l-2.2,0.9l-2,0.9l-2,0.9l-2,0.9l-2,0.9l-2,0.9l-1.4,0.6l-1.6,0.7l-2,0.9l-2,0.9l-2,0.9l-1.5,0.6l-1.5,0.7l-2,0.9l-2,0.8l-2,0.9l-1.7,0.7l-2.3,1l-2,0.8l-2,0.9l-2,0.9l-2,0.8l-2,0.9l-1.7,0.7l-2.3,1l-2,0.8l-2,0.9l-2,0.9l-2,0.8l-2,0.9l-1.8,0.7l-2.2,0.9l-2,0.8l-2,0.8l-2,0.8l-1.6,0.7l-1.4,0.7l-2,1.2l-1.3,1.1l-1.4,2l-0.7,2l-0.6,1.8l-1,2.2l-1.1,1l-1.9,0.7l-2,0.2l-2,0.2l-2,0.1l-2,0.2l-2,0.1l-2,0.2l-2,0.2l-2,0.1l-2,0.2l-2,0.1l-2,0.2l-2,0.1l-2,0.2l-2,0.1l-2,0.2l-2,0.1l-2,0.2l-2,0.1l-2,0.2l-2,0.1l-2,0.2l-2,0.2l-2,0.1l-2,0.2l-2,0.1l-2,0.2l-2,0.1l-2,0.2l-2,0.1l-2,0.2l-2,0.1l-2,0.1l-2-0.5l-1.5-1.1l-1.4-2l-1.1-1.7l-1-1l-2-1.1l-2-0.7l-2-0.7l-2-0.7l-2-0.6l-2-0.7l-2-0.7l-2-0.7l-2-0.6l-2-0.8l-2-0.7l-2-0.7l-1.7-0.6l-2.3-0.8l-2-0.7l-2-0.8l-2-0.7l-2-0.7l-2-0.7l-1.7-0.6l-2.3-0.8l-2-0.7l-2-0.7l-2-0.7l-2-0.7l-2-0.6l-2-0.3l0-2.5l0-2l0-2l0-2l0-2l0-2l0-2l0-2l0-2l0-2l0-2l0-2l0-2l0-2l0-2l0-2l0-2l0-2l0-2l0-2l0-2l0-2l0-2l0-2l0-2l0-2l0-2l0-2l0-2l0-2l0-2l0-2l0-2Z" fill="#f60000"/>
<path d="M145,55l2,0l2,0l2,0l2,0l2,0l2,0l2,0l2,0l2,0l2,0l2,0l2,0l2,0l2,0l2,0l2,0l2,0l2,0l2,0l2,0l2,0l2,0l2,0l2,0l2,0l2,0l2,0l2,0l2,0l2,0l2,0l2,0l2,0l2,0l2,0l2,0l2,0l2,0l2,0l2,0l2,0l2,0l2,0l2,0l2,0l2,0l2,0l2,0l2,0l2,0l2,0l2,0l2,0l2,0l2,0l2,0l2,0l2,0l2,0l2,0l2,0l2,0l2,0l2,0l2,0l2,0l2,0l2,0l2,0l2,0l2,0l2,0l2,0l2,0l2,0l2,0l2,0l2,0l2,0l2,0l2,0l2,0l2,0l2,0l2,0l2,0l2,0l2,0l2,0l2,0l2,0l2,0l2,0l2,0l2,0l2,0l2,0l2,0l2,0l2,0l2,0l2,0l2,0l2,0l2,0l0,2l0,2l0,2l0,2l0,2l0,2l0,2l0,2l0,2l0,2l0,2l0,2l0,2l0,2l0,2l0,2l-1,1.3l-2,0.7l-2,0.9l-2,1l-2,0.9l-2,1l-2,0.9l-2,1l-2,0.9l-2,1l-2,1l-2,0.9l-2,1l-2,1l-2,0.9l-2,1l-2,1l-2,0.9l-1.4,0.7l-1.6,0.8l-2,1l-2,0.9l-2,1l-2,1l-2,1l-2,1l-2,1l-2,1l-2,1l-2,0.9l-2,1l-2,1l-2,1l-2,1l-2,0.9l-2,1l-2,1l-2,0.9l-2,0.9l-1.3,0.7l-1.7,1l-1.2,1l-1.4,2l-0.6,2l-0.5,2l-0.4,2l-0.8,2l-1.1,1.3l-1.9,0.7l-2.1,0.3l-2,0.1l-2,0.2l-2,0.1l-2,0.2l-2,0.1l-2,0.2l-2,0.1l-2,0.1l-2,0.2l-2,0.1l-2,0.2l-2,0.1l-2,0.2l-2,0.1l-2,0.1l-2,0.2l-2,0.1l-2,0.2l-2,0.1l-2,0.2l-2,0.1l-2,0.2l-2,0.1l-2,0.2l-2,0.1l-2,0.2l-2,0.1l-2,0.1l-2,0l-1.7-0.3l-1.3-0.9l-1-1.7l-0.8-2.4l-1-2l-1.2-1.3l-1.4-0.7l-1.6-0.6l-2-0.7l-2-0.7l-2-0.7l-2-0.6l-2-0.7l-2-0.7l-2-0.6l-1.9-0.7l-2.1-0.7l-2-0.8l-1.6-0.5l-2.4-0.9l-2-0.7l-2-0.7l-2-0.7l-2-0.7l-2-0.7l-1.6-0.6l-2.4-0.9l-2-0.7l-2-0.7l-2-0.7l-2-0.7l-2-0.7l-1.7-0.6l-2.3-0.5l-1-1.5l0-2l0-2l0-2l0-2l0-2l0-2l0-2l0-2l0-2l0-2l0-2l0-2l0-2l0-2l0-2l0-2l0-2l0-2l0-2l0-2l0-2l0-2l0-2l0-2l0-2l0-2l0-2l0-2l0-2Z" fill="#f40000"/>
<path d="M145,55l2,0l2,0l2,0l2,0l2,0l2,0l2,0l2,0l2,0l2,0l2,0l2,0l2,0l2,0l2,0l2,0l2,0l2,0l2,0l2,0l2,0l2,0l2,0l2,0l2,0l2,0l2,0l2,0l2,0l2,0l2,0l2,0l2,0l2,0l2,0l2,0l2,0l2,0l2,0l2,0l2,0l2,0l2,0l2,0l2,0l2,0l2,0l2,0l2,0l2,0l2,0l2,0l2,0l2,0l2,0l2,0l2,0l2,0l2,0l2,0l2,0l2,0l2,0l2,0l2,0l2,0l2,0l2,0l2,0l2,0l2,0l2,0l2,0l2,0l2,0l2,0l2,0l2,0l2,0l2,0l2,0l2,0l2,0l2,0l2,0l2,0l2,0l2,0l2,0l2,0l2,0l2,0l2,0l2,0l2,0l2,0l2,0l2,0l2,0l2,0l2,0l2,0l2,0l2,0l2,0l0,2l0,2l0,2l0,2l0,2l0,2l0,2l0,2l0,2l0,2l0,2l0,2l0,2l0,2l-1,1.1l-2,0.5l-2,0.9l-2,0.9l-2,0.9l-1.5,0.7l-1.5,0.7l-2,0.9l-2,0.9l-2,0.9l-1.4,0.6l-1.6,0.7l-2,0.9l-2,0.9l-2,0.9l-2,0.9l-1.6,0.7l-2.3,1l-2.1,1l-2,0.8l-2,0.9l-2,0.9l-2,0.8l-2,0.9l-1.6,0.7l-2.3,1l-2.1,0.9l-2,0.9l-2,0.8l-2,0.9l-2,0.9l-1.4,0.6l-1.6,0.7l-2,0.9l-2,0.9l-2,0.8l-1.6,0.7l-1.4,0.6l-2,0.9l-2,0.9l-1.5,0.6l-1.5,0.7l-2,1.2l-1.3,1.1l-1.6,2l-0.9,2l-0.5,2l-0.4,2l-0.2,2l-0.3,2l-0.8,1.9l-1.2,1.1l-1.8,0.6l-2,0.2l-2,0.2l-2,0.1l-2,0.1l-2,0.2l-2,0.1l-2,0.1l-2,0.2l-2,0.1l-2,0.2l-2,0.1l-2,0.1l-2,0.1l-2,0.2l-2,0.1l-2,0.2l-2,0.1l-2,0.1l-2,0.2l-2,0.1l-2,0.1l-2,0.2l-2,0.1l-2,0.2l-2,0.1l-2,0.1l-2,0.2l-2,0l-2-0.4l-1.2-1l-0.8-1.5l-0.7-2.5l-0.3-1.7l-0.6-2.3l-1.2-2l-1.2-0.9l-2-0.9l-2-0.6l-1.7-0.6l-2.3-0.7l-2-0.7l-1.9-0.6l-2.1-0.7l-2-0.6l-1.7-0.7l-2.3-0.8l-2-0.8l-2-0.7l-1.7-0.7l-2.3-0.9l-2-0.7l-2-0.7l-1.7-0.7l-2.3-0.9l-2-0.7l-2-0.7l-1.7-0.7l-2.3-0.8l-2-0.8l-2-0.7l-1.8-0.7l-2.2-0.8l-2-0.7l-1.9-0.5l-1.1-1l0-2l0-2l0-2l0-2l0-2l0-2l0-2l0-2l0-2l0-2l0-2l0-2l0-2l0-2l0-2l0-2l0-2l0-2l0-2l0-2l0-2l0-2l0-2l0-2l0-2Z" fill="#f10000"/>
<path d="M145,55l2,0l2,0l2,0l2,0l2,0l2,0l2,0l2,0l2,0l2,0l2,0l2,0l2,0l2,0l2,0l2,0l2,0l2,0l2,0l2,0l2,0l2,0l2,0l2,0l2,0l2,0l2,0l2,0l2,0l2,0l2,0l2,0l2,0l2,0l2,0l2,0l2,0l2,0l2,0l2,0l2,0l2,0l2,0l2,0l2,0l2,0l2,0l2,0l2,0l2,0l2,0l2,0l2,0l2,0l2,0l2,0l2,0l2,0l2,0l2,0l2,0l2,0l2,0l2,0l2,0l2,0l2,0l2,0l2,0l2,0l2,0l2,0l2,0l2,0l2,0l2,0l2,0l2,0l2,0l2,0l2,0l2,0l2,0l2,0l2,0l2,0l2,0l2,0l2,0l2,0l2,0l2,0l2,0l2,0l2,0l2,0l2,0l2,0l2,0l2,0l2,0l2,0l2,0l2,0l2,0l0,2l0,2l0,2l0,2l0,2l0,2l0,2l0,2l0,2l-2,0.9l-2,0.9l-2,1l-2,0.9l-2,1l-2,1l-2,0.9l-2,1l-2,1l-2,1l-2,0.9l-2,1l-2,1l-2,1l-2,0.9l-2,1l-2,1l-2,1l-2,1l-2,1l-2,0.9l-1.4,0.7l-1.6,0.8l-2,1l-2,1l-2,1l-2,0.9l-2,1l-2,1l-2,1l-2,0.9l-2,1l-2,1l-2,0.9l-2,1l-2,0.9l-2,1l-2,0.9l-1.5,0.7l-1.5,0.7l-2,0.9l-2,1l-1.9,1.4l-1.1,1.3l-0.9,1.7l-0.7,2l-0.4,1.8l-0.4,2.2l-0.3,2l-0.3,1.7l-0.9,2.3l-1.1,1l-2,0.5l-2,0.2l-2,0.2l-2,0.1l-2,0.1l-2,0.1l-2,0.2l-2,0.1l-2,0.1l-2,0.1l-2,0.2l-2,0.1l-2,0.1l-2,0.2l-2,0.1l-2,0.1l-2,0.1l-2,0.2l-2,0.1l-2,0.1l-2,0.2l-2,0.1l-2,0.1l-2,0.1l-2,0.2l-2,0l-2-0.2l-1.5-1.5l-0.7-2l-0.3-2l-0.5-1.9l-0.8-2.1l-1.2-1.7l-2-1.3l-2-0.8l-2-0.7l-1.6-0.5l-2.4-0.8l-2-0.7l-1.6-0.5l-2.4-0.8l-2-0.7l-1.6-0.5l-2.4-0.8l-2-0.7l-2-0.7l-2-0.7l-2-0.7l-2-0.6l-2-0.7l-2-0.7l-2-0.7l-2-0.7l-2-0.7l-2-0.7l-1.9-0.6l-2.1-0.7l-2-0.7l-1.6-0.6l-2.4-0.8l-2-0.7l-1.6-0.5l-2.4-0.6l-1-1.4l0-2l0-2l0-2l0-2l0-2l0-2l0-2l0-2l0-2l0-2l0-2l0-2l0-2l0-2l0-2l0-2l0-2l0-2l0-2l0-2l0-2l0-2Z" fill="#e90000"/>
<path d="M145,55l2,0l2,0l2,0l2,0l2,0l2,0l2,0l2,0l2,0l2,0l2,0l2,0l2,0l2,0l2,0l2,0l2,0l2,0l2,0l2,0l2,0l2,0l2,0l2,0l2,0l2,0l2,0l2,0l2,0l2,0l2,0l2,0l2,0l2,0l2,0l2,0l2,0l2,0l2,0l2,0l2,0l2,0l2,0l2,0l2,0l2,0l2,0l2,0l2,0l2,0l2,0l2,0l2,0l2,0l2,0l2,0l2,0l2,0l2,0l2,0l2,0l2,0l2,0l2,0l2,0l2,0l2,0l2,0l2,0l2,0l2,0l2,0l2,0l2,0l2,0l2,0l2,0l2,0l2,0l2,0l2,0l2,0l2,0l2,0l2,0l2,0l2,0l2,0l2,0l2,0l2,0l2,0l2,0l2,0l2,0l2,0l2,0l2,0l2,0l2,0l2,0l2,0l2,0l2,0l2,0l0,2l0,2l0,2l0,2l0,2l0,2l-1,1.6l-2,0.6l-1.9,0.8l-2.1,0.9l-2,0.9l-2,0.9l-2,1l-2,0.9l-2,0.9l-2,0.9l-1.4,0.6l-1.6,0.7l-2,0.9l-2,0.9l-2,0.9l-2,0.9l-1.6,0.7l-1.4,0.6l-2,1l-2,0.8l-2,0.9l-1.5,0.7l-1.5,0.7l-2,0.9l-2,0.8l-2,0.9l-1.6,0.7l-1.4,0.6l-2,0.9l-2,0.9l-2,0.9l-1.6,0.7l-1.4,0.6l-2,0.9l-2,0.9l-2,0.9l-1.5,0.7l-1.5,0.7l-2,0.9l-2,0.9l-2,0.9l-2,0.9l-1.5,0.7l-1.5,0.7l-2,0.9l-2,1l-1.9,1.4l-1.1,1.3l-0.9,1.7l-0.8,2l-0.6,2l-0.5,2l-0.6,2l-0.6,1.5l-1,1.3l-2,0.8l-2,0.3l-2,0.1l-2,0.1l-2,0.1l-2,0.2l-2,0.1l-2,0.1l-2,0.1l-2,0.1l-2,0.2l-2,0.1l-2,0.1l-2,0.1l-2,0.1l-2,0.2l-2,0.1l-2,0.1l-2,0.1l-2,0.1l-2,0.2l-2,0.1l-2,0.1l-2,0l-2-0.7l-1-1.1l-0.7-1.6l-0.7-2l-0.6-1.8l-1-1.7l-1.7-1.5l-1.3-0.7l-2-0.9l-2-0.8l-2-0.9l-1.8-0.7l-2.2-0.9l-2-0.7l-2-0.8l-1.6-0.6l-2.4-0.9l-2-0.8l-2-0.8l-2-0.7l-1.9-0.8l-2.1-0.8l-2-0.7l-2-0.8l-1.7-0.7l-2.3-0.9l-2-0.7l-2-0.8l-1.6-0.6l-2.4-0.9l-2-0.8l-2-0.7l-2-0.8l-2-0.8l-2-0.7l-2-0.8l-2-0.7l-2-0.5l-1-1.3l0-2l0-2l0-2l0-2l0-2l0-2l0-2l0-2l0-2l0-2l0-2l0-2l0-2l0-2l0-2l0-2l0-2Z" fill="#df0000"/>
<path d="M145,55l2,0l2,0l2,0l2,0l2,0l2,0l2,0l2,0l2,0l2,0l2,0l2,0l2,0l2,0l2,0l2,0l2,0l2,0l2,0l2,0l2,0l2,0l2,0l2,0l2,0l2,0l2,0l2,0l2,0l2,0l2,0l2,0l2,0l2,0l2,0l2,0l2,0l2,0l2,0l2,0l2,0l2,0l2,0l2,0l2,0l2,0l2,0l2,0l2,0l2,0l2,0l2,0l2,0l2,0l2,0l2,0l2,0l2,0l2,0l2,0l2,0l2,0l2,0l2,0l2,0l2,0l2,0l2,0l2,0l2,0l2,0l2,0l2,0l2,0l2,0l2,0l2,0l2,0l2,0l2,0l2,0l2,0l2,0l2,0l2,0l2,0l2,0l2,0l2,0l2,0l2,0l2,0l2,0l2,0l2,0l2,0l2,0l2,0l2,0l2,0l2,0l2,0l2,0l2,0l2,0l0,2l0,2l0,2l0,2l0,2l-2,0.9l-2,0.7l-2,0.8l-2,0.9l-1.6,0.7l-2.2,1l-2.1,1l-2.1,0.9l-2,0.9l-2,0.9l-2,0.9l-2,0.8l-2,0.9l-1.5,0.7l-1.5,0.7l-2,0.8l-2,0.9l-2,0.9l-1.5,0.7l-1.5,0.6l-2,0.8l-2,1l-1.4,0.6l-1.6,0.6l-2,0.9l-2,0.8l-1.5,0.7l-1.5,0.6l-2,0.9l-2,0.8l-1.5,0.7l-1.5,0.6l-2,0.9l-2,0.8l-1.5,0.7l-1.5,0.6l-2,0.9l-2,0.8l-1.5,0.7l-1.5,0.6l-2,0.9l-2,0.8l-1.5,0.7l-1.5,0.6l-2,0.8l-2,0.9l-1.6,0.7l-1.4,0.8l-1.4,1.2l-1.3,2l-0.8,2l-0.7,2l-0.8,2l-1,1.7l-2,1.3l-2,0.3l-2,0.2l-2,0.1l-2,0.1l-2,0.1l-2,0.1l-2,0.1l-2,0.2l-2,0.1l-2,0.1l-2,0.1l-2,0.1l-2,0.1l-2,0.2l-2,0.1l-2,0.1l-2,0.1l-2,0.1l-2,0.1l-2,0.2l-2,0l-2-0.2l-2-1.2l-1-1.4l-1-1.4l-1-1.3l-1.2-1.1l-1.6-1l-2.2-0.9l-2-0.8l-2-0.7l-1.6-0.6l-2.4-0.9l-2-0.7l-2-0.7l-1.9-0.7l-2.1-0.8l-2-0.7l-2-0.7l-2-0.8l-2-0.7l-2-0.8l-1.5-0.5l-1.5-0.6l-2-0.7l-1.9-0.7l-2.1-0.8l-2-0.7l-2-0.8l-2-0.7l-2-0.8l-2-0.7l-2-0.7l-2-0.8l-2-0.7l-2-0.8l-1.5-0.5l-1.5-0.6l-2-0.7l-2-0.4l-1-1.3l0-2l0-2l0-2l0-2l0-2l0-2l0-2l0-2l0-2l0-2l0-2l0-2l0-2l0-2l0-2Z" fill="#d90000"/>
<path d="M145,55l2,0l2,0l2,0l2,0l2,0l2,0l2,0l2,0l2,0l2,0l2,0l2,0l2,0l2,0l2,0l2,0l2,0l2,0l2,0l2,0l2,0l2,0l2,0l2,0l2,0l2,0l2,0l2,0l2,0l2,0l2,0l2,0l2,0l2,0l2,0l2,0l2,0l2,0l2,0l2,0l2,0l2,0l2,0l2,0l2,0l2,0l2,0l2,0l2,0l2,0l2,0l2,0l2,0l2,0l2,0l2,0l2,0l2,0l2,0l2,0l2,0l2,0l2,0l2,0l2,0l2,0l2,0l2,0l2,0l2,0l2,0l2,0l2,0l2,0l2,0l2,0l2,0l2,0l2,0l2,0l2,0l2,0l2,0l2,0l2,0l2,0l2,0l2,0l2,0l2,0l2,0l2,0l2,0l2,0l2,0l2,0l2,0l2,0l2,0l2,0l2,0l2,0l2,0l2,0l2,0l0,2l0,2l-1,1.2l-1.9,0.8l-2,1l-2.1,1l-2,1l-2,0.9l-2,1l-2,1l-2,1l-2,0.9l-2,1l-2,1l-2,0.9l-2,1l-2,0.9l-2,1l-2,0.9l-2,1l-2,0.9l-2,1l-1.4,0.6l-1.6,0.8l-2,0.9l-2,1l-2,0.9l-2,0.9l-2,0.9l-2,1l-2,0.9l-1.5,0.7l-1.5,0.7l-2,0.9l-2,0.9l-2,0.9l-2,0.9l-1.4,0.7l-1.6,0.7l-2,0.9l-2,0.9l-2,1l-2,0.9l-1.4,0.6l-1.6,0.7l-2,0.9l-2,0.8l-2,1l-1.9,1.6l-1.1,1.4l-0.8,1.6l-0.8,2l-0.9,2l-1.2,2l-1.3,1l-2,0.4l-2,0.2l-2,0.1l-2,0.2l-2,0.1l-2,0.1l-2,0.1l-2,0.1l-2,0.2l-2,0.1l-2,0.1l-2,0.1l-2,0.1l-2,0.1l-2,0.2l-2,0.1l-2,0.1l-2,0.1l-2,0.1l-2,0.1l-2,0.1l-2-0.4l-2-1.4l-1-1.2l-1-1.1l-1-1l-2-1.4l-2-1l-2-0.7l-1.8-0.6l-2.2-0.8l-2-0.7l-2-0.7l-2-0.7l-2-0.7l-2-0.7l-2-0.7l-2-0.7l-2-0.7l-1.7-0.6l-2.3-0.8l-2-0.8l-2-0.7l-2-0.7l-2-0.7l-2-0.8l-1.6-0.5l-2.4-0.9l-2-0.7l-2-0.8l-1.9-0.6l-2.1-0.8l-2-0.7l-2-0.8l-2-0.7l-2-0.7l-2-0.7l-2-0.6l-2-0.3l0-2.7l0-2l0-2l0-2l0-2l0-2l0-2l0-2l0-2l0-2l0-2l0-2l0-2l0-2l0-2Z" fill="#d10000"/>
<path d="M145,55l2,0l2,0l2,0l2,0l2,0l2,0l2,0l2,0l2,0l2,0l2,0l2,0l2,0l2,0l2,0l2,0l2,0l2,0l2,0l2,0l2,0l2,0l2,0l2,0l2,0l2,0l2,0l2,0l2,0l2,0l2,0l2,0l2,0l2,0l2,0l2,0l2,0l2,0l2,0l2,0l2,0l2,0l2,0l2,0l2,0l2,0l2,0l2,0l2,0l2,0l2,0l2,0l2,0l2,0l2,0l2,0l2,0l2,0l2,0l2,0l2,0l2,0l2,0l2,0l2,0l2,0l2,0l2,0l2,0l2,0l2,0l2,0l2,0l2,0l2,0l2,0l2,0l2,0l2,0l2,0l2,0l2,0l2,0l2,0l2,0l2,0l2,0l2,0l2,0l2,0l2,0l2,0l2,0l2,0l2,0l2,0l2,0l2,0l2,0l2,0l-0.4,2l-1.6,0.9l-2,1l-2,0.9l-2,1l-2,0.9l-2,0.9l-2,0.9l-2,0.9l-2,1l-1.5,0.6l-1.5,0.7l-2,0.9l-2,0.9l-2,0.9l-2,1l-1.4,0.6l-1.6,0.7l-2,0.9l-2,1l-2,0.9l-2,0.9l-1.4,0.6l-1.6,0.7l-2,0.9l-2,1l-2,0.9l-2,0.9l-2,0.9l-1.5,0.7l-1.5,0.7l-2,0.9l-2,1l-2,0.9l-2,0.9l-2,1l-2,0.9l-1.4,0.7l-1.6,0.8l-2,0.9l-2,1l-2,1l-2,1l-1.8,1.3l-1.2,1.3l-1,1.5l-1,1.9l-0.8,1.3l-1.2,1.4l-2,1l-2,0.3l-2,0.1l-2,0.1l-2,0.2l-2,0.1l-2,0.1l-2,0.2l-2,0.1l-2,0.1l-2,0.2l-2,0.1l-2,0.1l-2,0.2l-2,0.1l-2,0.1l-2,0.2l-2,0.1l-2,0.1l-2-0.1l-2-0.5l-2-1.1l-2-1.1l-2-1l-2-1l-2-0.9l-2-0.8l-2-0.9l-2-0.9l-1.4-0.6l-1.6-0.7l-2-0.7l-1.4-0.6l-1.6-0.6l-2-0.8l-1.6-0.6l-2.4-1l-2-0.7l-2-0.8l-2-0.8l-1.8-0.7l-2.2-0.8l-2-0.8l-2-0.8l-1.6-0.6l-2.4-0.9l-2-0.8l-2-0.8l-2-0.8l-1.9-0.7l-2.1-0.8l-2-0.8l-2-0.7l-1.7-0.7l-2.3-0.9l-2-0.7l-2-0.7l-2-0.3l0-2.4l0-2l0-2l0-2l0-2l0-2l0-2l0-2l0-2l0-2Z" fill="#c70000"/>
<path d="M145,55l2,0l2,0l2,0l2,0l2,0l2,0l2,0l2,0l2,0l2,0l2,0l2,0l2,0l2,0l2,0l2,0l2,0l2,0l2,0l2,0l2,0l2,0l2,0l2,0l2,0l2,0l2,0l2,0l2,0l2,0l2,0l2,0l2,0l2,0l2,0l2,0l2,0l2,0l2,0l2,0l2,0l2,0l2,0l2,0l2,0l2,0l2,0l2,0l2,0l2,0l2,0l2,0l2,0l2,0l2,0l2,0l2,0l2,0l2,0l2,0l2,0l2,0l2,0l2,0l2,0l2,0l2,0l2,0l2,0l2,0l2,0l2,0l2,0l2,0l2,0l2,0l2,0l2,0l2,0l2,0l2,0l2,0l2,0l2,0l2,0l2,0l2,0l2,0l2,0l2,0l2,0l2,0l2,0l2,0l2,0l2,0l2,0l2,0l-1,1.1l-1.6,0.9l-1.4,0.7l-2,1l-2,0.9l-2,0.8l-2,0.9l-1.4,0.7l-1.6,0.7l-2,0.9l-2,0.9l-2,0.9l-1.4,0.6l-1.6,0.7l-2,0.9l-2,0.9l-2,0.8l-1.5,0.7l-1.5,0.7l-2,0.9l-2,0.8l-2,0.9l-1.6,0.7l-2.3,1l-2.1,0.9l-2,0.9l-2,0.8l-2,0.9l-2,0.9l-1.4,0.6l-1.6,0.7l-2,0.8l-2,0.9l-2,0.9l-1.7,0.7l-2.2,1l-2.1,0.9l-2,0.9l-2,0.8l-2,0.9l-2,0.9l-2,1.1l-1.9,1.5l-1.1,1.3l-1,1.3l-1,1.1l-2,1.1l-2,0.4l-2,0.2l-2,0.1l-2,0.2l-2,0.1l-2,0.2l-2,0.1l-2,0.2l-2,0.1l-2,0.1l-2,0.2l-2,0.1l-2,0.2l-2,0.1l-2,0.2l-2,0.1l-2,0.1l-2,0l-2-0.1l-1.8-0.4l-2.2-0.7l-2-0.8l-1.5-0.5l-1.5-0.6l-2-0.7l-1.9-0.7l-2.1-0.8l-2-0.8l-2-0.7l-1.9-0.7l-2.1-0.8l-2-0.7l-2-0.8l-2-0.7l-2-0.7l-2-0.8l-2-0.7l-2-0.7l-2-0.8l-2-0.8l-1.5-0.5l-1.5-0.6l-2-0.7l-1.9-0.7l-2.1-0.8l-2-0.8l-2-0.7l-1.9-0.7l-2.1-0.8l-2-0.8l-2-0.7l-1.9-0.7l-2.1-0.8l-2-0.8l-2-0.6l-2-0.4l-1-1.4l0-2l0-2l0-2l0-2l0-2l0-2l0-2l0-2Z" fill="#c10000"/>
<path d="M145,55l2,0l2,0l2,0l2,0l2,0l2,0l2,0l2,0l2,0l2,0l2,0l2,0l2,0l2,0l2,0l2,0l2,0l2,0l2,0l2,0l2,0l2,0l2,0l2,0l2,0l2,0l2,0l2,0l2,0l2,0l2,0l2,0l2,0l2,0l2,0l2,0l2,0l2,0l2,0l2,0l2,0l2,0l2,0l2,0l2,0l2,0l2,0l2,0l2,0l2,0l2,0l2,0l2,0l2,0l2,0l2,0l2,0l2,0l2,0l2,0l2,0l2,0l2,0l2,0l2,0l2,0l2,0l2,0l2,0l2,0l2,0l2,0l2,0l2,0l2,0l2,0l2,0l2,0l2,0l2,0l2,0l2,0l2,0l2,0l2,0l2,0l2,0l2,0l2,0l2,0l2,0l2,0l2,0l2,0l2,0l2,0l-1,1l-2,1l-2,0.9l-2,0.8l-2,1l-2,0.9l-2,0.9l-2,0.8l-2,1l-1.6,0.7l-1.4,0.6l-2,0.9l-2,0.9l-2,0.9l-1.7,0.7l-2.2,1l-2.1,0.9l-2,0.9l-2,0.8l-2,0.9l-2,0.9l-2,0.9l-1.6,0.7l-2.3,1l-2.1,0.9l-2,0.9l-2,0.9l-2,0.8l-2,0.9l-2,0.9l-1.6,0.7l-2.2,1l-2.2,1l-2,0.8l-2,0.9l-2,0.9l-2,0.8l-2,1l-2,1.4l-1.3,1.2l-1.7,1.9l-1.5,1.1l-1.5,0.6l-2,0.3l-2,0.2l-2,0.1l-2,0.2l-2,0.1l-2,0.2l-2,0.1l-2,0.2l-2,0.1l-2,0.2l-2,0.1l-2,0.2l-2,0.1l-2,0.2l-2,0.1l-2,0.1l-2,0l-2-0.2l-2-0.5l-2-0.8l-1.5-0.6l-1.5-0.6l-2-0.8l-1.6-0.6l-2.4-0.9l-2-0.7l-2-0.8l-1.8-0.6l-2.2-0.8l-2-0.7l-2-0.7l-2-0.7l-2-0.7l-2-0.7l-2-0.7l-2-0.8l-2-0.7l-1.6-0.5l-2.4-0.9l-2-0.7l-2-0.7l-2-0.7l-2-0.8l-2-0.7l-1.6-0.5l-1.4-0.6l-2-0.7l-2-0.7l-2-0.7l-2-0.8l-1.6-0.5l-2.4-0.9l-2-0.8l-2-0.6l-2-0.5l-2-0.2l0-3l0-2l0-2l0-2l0-2l0-2l0-2Z" fill="#b60000"/>
<path d="M145,55l2,0l2,0l2,0l2,0l2,0l2,0l2,0l2,0l2,0l2,0l2,0l2,0l2,0l2,0l2,0l2,0l2,0l2,0l2,0l2,0l2,0l2,0l2,0l2,0l2,0l2,0l2,0l2,0l2,0l2,0l2,0l2,0l2,0l2,0l2,0l2,0l2,0l2,0l2,0l2,0l2,0l2,0l2,0l2,0l2,0l2,0l2,0l2,0l2,0l2,0l2,0l2,0l2,0l2,0l2,0l2,0l2,0l2,0l2,0l2,0l2,0l2,0l2,0l2,0l2,0l2,0l2,0l2,0l2,0l2,0l2,0l2,0l2,0l2,0l2,0l2,0l2,0l2,0l2,0l2,0l2,0l2,0l2,0l2,0l2,0l-0.5,2l-1.5,0.9l-2,1l-2,0.9l-2,0.9l-2,0.9l-2,0.9l-2,0.9l-2,0.9l-1.6,0.7l-1.4,0.6l-2,0.9l-2,0.9l-2,1l-1.4,0.6l-1.6,0.7l-2,0.9l-2,1l-2,0.9l-2,0.9l-2,0.9l-1.5,0.7l-1.5,0.7l-2,0.9l-2,1l-2,0.9l-2,1l-2,0.9l-2,1l-2,1.1l-2,1.2l-2,1.3l-2,0.9l-2,0.5l-2,0.2l-2,0.2l-2,0.2l-2,0.2l-2,0.1l-2,0.2l-2,0.2l-2,0.1l-2,0.2l-2,0.2l-2,0.2l-2,0.1l-2,0.2l-2,0.1l-2-0.1l-2-0.4l-2-0.5l-2-0.7l-2-0.8l-2-0.7l-1.8-0.6l-2.2-0.8l-2-0.7l-2-0.8l-2-0.7l-2-0.7l-2-0.7l-1.6-0.6l-2.4-0.9l-2-0.7l-2-0.7l-1.9-0.7l-2.1-0.8l-2-0.7l-2-0.7l-2-0.8l-2-0.7l-2-0.7l-1.6-0.6l-2.4-0.9l-2-0.7l-2-0.8l-1.7-0.6l-2.3-0.8l-2-0.8l-2-0.7l-1.9-0.7l-2.1-0.8l-2-0.7l-2-0.8l-2-0.6l-2-0.7l-1.8-0.4l-1.2-1l0-2l0-2l0-2Z" fill="#ac0000"/>
<path d="M145,55l2,0l2,0l2,0l2,0l2,0l2,0l2,0l2,0l2,0l2,0l2,0l2,0l2,0l2,0l2,0l2,0l2,0l2,0l2,0l2,0l2,0l2,0l2,0l2,0l2,0l2,0l2,0l2,0l2,0l2,0l2,0l2,0l2,0l2,0l2,0l2,0l2,0l2,0l2,0l2,0l2,0l2,0l2,0l2,0l2,0l2,0l2,0l2,0l2,0l2,0l2,0l2,0l2,0l2,0l2,0l2,0l2,0l2,0l2,0l2,0l2,0l2,0l2,0l2,0l2,0l2,0l2,0l2,0l2,0l2,0l2,0l2,0l2,0l2,0l2,0l2,0l2,0l2,0l2,0l2,0l2,0l2,0l2,0l2,0l1.3,1l-1.3,0.9l-2,1.1l-2,1l-2,0.8l-2,0.9l-2,0.9l-2,0.9l-2,0.9l-2,0.9l-1.6,0.7l-2.2,1l-2.2,1l-2,0.9l-2,0.9l-2,0.9l-2,0.9l-2,0.9l-2,0.8l-1.5,0.7l-1.5,0.7l-2,0.9l-2,0.9l-2,0.9l-2,1l-1.4,0.6l-1.6,0.7l-2,1l-2,0.9l-2,1l-2,1.2l-2,1l-2,0.7l-2,0.3l-2,0.2l-2,0.2l-2,0.2l-2,0.2l-2,0.2l-2,0.2l-2,0.1l-2,0.2l-2,0.2l-2,0.2l-2,0.1l-2,0.2l-2,0.1l-2,0l-2-0.3l-2-0.5l-2-0.7l-1.9-0.6l-2.1-0.7l-2-0.7l-1.6-0.6l-2.4-0.8l-2-0.7l-2-0.7l-2-0.7l-2-0.7l-2-0.7l-2-0.7l-2-0.7l-2-0.7l-1.7-0.6l-2.3-0.8l-2-0.7l-2-0.7l-2-0.7l-2-0.8l-2-0.7l-1.8-0.6l-2.2-0.8l-2-0.7l-2-0.7l-2-0.7l-2-0.8l-2-0.7l-1.7-0.6l-2.3-0.8l-2-0.8l-2-0.7l-2-0.7l-2-0.7l-2-0.7l-2-0.5l-2-0.3l0-2.8l0-2Z" fill="#a30000"/>
<path d="M163.8,55l2.2,0l2,0l2,0l2,0l2,0l2,0l2,0l2,0l2,0l2,0l2,0l2,0l2,0l2,0l2,0l2,0l2,0l2,0l2,0l2,0l2,0l2,0l2,0l2,0l2,0l2,0l2,0l2,0l2,0l2,0l2,0l2,0l2,0l2,0l2,0l2,0l2,0l2,0l2,0l2,0l2,0l2,0l2,0l2,0l2,0l2,0l2,0l2,0l2,0l2,0l2,0l2,0l2,0l2,0l2,0l2,0l2,0l2,0l2,0l2,0l2,0l1.1,1l-1.1,1.9l-1,1l-1.4,1.1l-1.4,1l-1.2,0.8l-1.8,1.2l-1.6,1l-1.6,1l-1.6,1l-1.4,0.9l-1.9,1.1l-1.6,1l-1.5,0.8l-2,1.2l-1.8,1l-1.8,1l-1.4,0.7l-2,1.1l-2,1.1l-2,0.9l-2,0.6l-2,0.5l-2,0.2l-2,0.2l-2,0.2l-2,0.2l-2,0.2l-2,0.2l-2,0.2l-2,0.1l-2,0.2l-2,0.2l-2,0.2l-2,0.1l-2-0.1l-2-0.4l-1.8-0.6l-2.2-0.9l-2-0.8l-2-0.8l-2-0.8l-1.7-0.7l-2.3-0.9l-2-0.9l-2-0.7l-2-0.8l-1.7-0.7l-2.3-0.9l-2-0.9l-2-0.8l-2-0.8l-1.6-0.6l-1.4-0.6l-2-0.8l-1.5-0.6l-1.5-0.6l-2-0.8l-1.5-0.6l-1.5-0.6l-2-0.8l-1.5-0.6l-1.5-0.6l-2-0.8l-1.5-0.6l-1.5-0.6l-2-0.9l-2-0.9l-2-1.4Z" fill="#970000"/>
<path d="M191.6,55l2.4,0l2,0l2,0l2,0l2,0l2,0l2,0l2,0l2,0l2,0l2,0l2,0l2,0l2,0l2,0l2,0l2,0l2,0l2,0l2,0l2,0l2,0l2,0l2,0l2,0l2,0l2,0l2,0l2,0l2,0l2,0l2,0l2,0l2,0l2,0l2,0l2,0l2,0l2,0l2,0l2,0l-0.9,2l-1.1,1l-1.3,1l-1.5,1l-1.2,0.8l-1.7,1.2l-1.3,0.9l-1.7,1.1l-1.3,0.9l-1.7,1.1l-1.3,0.9l-1.7,1.1l-1.3,0.9l-1.6,1.1l-1.4,0.9l-2,1l-2,0.6l-2,0.4l-2,0.2l-2,0.1l-2,0.2l-2,0.1l-2,0.1l-2,0.1l-2,0.2l-2,0.1l-2-0.1l-2-0.2l-2-0.6l-2-0.9l-2-1l-2-0.9l-2-1l-2-1l-2-1l-2-1l-2-1l-2-1l-2-1l-2-1l-2-1l-2-1l-2-1.1l-2-1.1l-1.7-1.1l-1.1-1Z" fill="#8f0000"/>
<path d="M201,55l2,0l2,0l2,0l2,0l2,0l2,0l2,0l2,0l2,0l2,0l2,0l2,0l2,0l2,0l2,0l2,0l2,0l2,0l2,0l2,0l2,0l2,0l2,0l2,0l2,0l2,0l2,0l2,0l2,0l2,0l2,0l2,0l2,0l-0.9,2l-1.1,1l-1.3,1l-1.5,1l-1.6,1l-1.5,1l-1.6,1l-1.5,1l-1.5,1l-1.5,1l-1.5,1l-1.5,0.8l-2,0.9l-2,0.5l-2,0.2l-2,0.1l-2,0.1l-2,0.1l-2,0.1l-2,0l-2,0l-2-0.2l-2-0.4l-2-0.8l-2-0.9l-2-0.9l-2-1l-2-0.9l-1.4-0.7l-1.6-0.7l-2-0.9l-2-1l-2-0.9l-2-0.9l-2-1l-2-1.2l-1.5-1.4Z" fill="#830000"/>
</g>
<path d="M225,55 L250,55 L300,205 L330,240 L160,285 L150,270Z" fill="#200" opacity="0.08"/><path d="M236.5,60 L248,60 L262,105 L272,140 L262,150 L249,140 L239,126 L237,100Z" fill="#000" opacity="0.2" filter="url(#blur2)"/><path d="M250,140 L272,140 L286,185 L274,186 L262,165Z" fill="#000" opacity="0.1" filter="url(#blur3)"/><path d="M237,66 L236.8,100 L238,130" stroke="#300" stroke-width="1.2" fill="none" opacity="0.25" filter="url(#blur1)"/><path d="M199,165 L278,160 L292,195 L318,226 L283.5,228 L262,232 L232,246 L200,262 L165,276 L160,262 L180,212Z" fill="#102000" opacity="0.2" filter="url(#blur3)"/><path d="M240,241 L262.3,230.5 L283.5,226.2 L304.6,224 L316,226 L309,218 L300,211 L293,203 L284,208 L266,217 L248,231Z" fill="#001000" opacity="0.17" filter="url(#blur3)"/><path d="M272,228.5 L283.5,226.2 L304.6,224 L318,227 L309,217 L301,210 L295,204 L290,210 L285,218Z" fill="#001000" opacity="0.22" filter="url(#blur2)"/><path d="M316,225.4 L320,233 L324.6,243.8 L330.7,259.4 L338.5,275 L345.4,285.4 L353,293 L345,291 L335,276 L327,260 L320.5,244 L315,231Z" fill="#001" opacity="0.38" filter="url(#blur1)"/><path d="M157,287 L188.5,275 L227,258 L265,246.5 L265,252.5 L227,265 L188.5,282 L157,293.5Z" fill="#fff" opacity="0.13" filter="url(#blur2)"/><path d="M150,305 L210,306 L260,298 L320,284 L352,290 L190,375Z" fill="#fff" opacity="0.09" filter="url(#blur3)"/>
</g>
<polyline points="414.0,150.0 281.0,48.0 79.0,103.0 95.0,288.5 195.0,420.0 394.6,342.0" fill="none" stroke="#1c1c1c" stroke-width="1.3" stroke-linejoin="miter"/>
<line x1="135.6" y1="87.6" x2="135.8" y2="92.1" stroke="#1c1c1c" stroke-width="1.3" />
<line x1="189.7" y1="72.9" x2="189.9" y2="77.4" stroke="#1c1c1c" stroke-width="1.3" />
<line x1="243.8" y1="58.1" x2="244.1" y2="62.6" stroke="#1c1c1c" stroke-width="1.3" />
<line x1="95.0" y1="98.7" x2="95.1" y2="101.2" stroke="#1c1c1c" stroke-width="1.1" />
<line x1="108.5" y1="95.0" x2="108.6" y2="97.5" stroke="#1c1c1c" stroke-width="1.1" />
<line x1="122.0" y1="91.3" x2="122.2" y2="93.8" stroke="#1c1c1c" stroke-width="1.1" />
<line x1="149.1" y1="83.9" x2="149.2" y2="86.4" stroke="#1c1c1c" stroke-width="1.1" />
<line x1="162.6" y1="80.2" x2="162.8" y2="82.7" stroke="#1c1c1c" stroke-width="1.1" />
<line x1="176.2" y1="76.5" x2="176.3" y2="79.0" stroke="#1c1c1c" stroke-width="1.1" />
<line x1="203.2" y1="69.2" x2="203.4" y2="71.7" stroke="#1c1c1c" stroke-width="1.1" />
<line x1="216.8" y1="65.5" x2="216.9" y2="68.0" stroke="#1c1c1c" stroke-width="1.1" />
<line x1="230.3" y1="61.8" x2="230.4" y2="64.3" stroke="#1c1c1c" stroke-width="1.1" />
<line x1="257.4" y1="54.4" x2="257.5" y2="56.9" stroke="#1c1c1c" stroke-width="1.1" />
<line x1="270.9" y1="50.7" x2="271.0" y2="53.2" stroke="#1c1c1c" stroke-width="1.1" />
<line x1="249.3" y1="398.8" x2="246.8" y2="395.0" stroke="#1c1c1c" stroke-width="1.3" />
<line x1="302.6" y1="378.0" x2="300.1" y2="374.2" stroke="#1c1c1c" stroke-width="1.3" />
<line x1="355.9" y1="357.1" x2="353.4" y2="353.4" stroke="#1c1c1c" stroke-width="1.3" />
<line x1="209.3" y1="414.4" x2="207.9" y2="412.3" stroke="#1c1c1c" stroke-width="1.1" />
<line x1="222.6" y1="409.2" x2="221.3" y2="407.1" stroke="#1c1c1c" stroke-width="1.1" />
<line x1="236.0" y1="404.0" x2="234.6" y2="401.9" stroke="#1c1c1c" stroke-width="1.1" />
<line x1="262.6" y1="393.6" x2="261.2" y2="391.5" stroke="#1c1c1c" stroke-width="1.1" />
<line x1="275.9" y1="388.4" x2="274.6" y2="386.3" stroke="#1c1c1c" stroke-width="1.1" />
<line x1="289.3" y1="383.2" x2="287.9" y2="381.1" stroke="#1c1c1c" stroke-width="1.1" />
<line x1="315.9" y1="372.8" x2="314.5" y2="370.7" stroke="#1c1c1c" stroke-width="1.1" />
<line x1="329.2" y1="367.5" x2="327.9" y2="365.5" stroke="#1c1c1c" stroke-width="1.1" />
<line x1="342.6" y1="362.3" x2="341.2" y2="360.3" stroke="#1c1c1c" stroke-width="1.1" />
<line x1="369.2" y1="351.9" x2="367.8" y2="349.9" stroke="#1c1c1c" stroke-width="1.1" />
<line x1="382.5" y1="346.7" x2="381.1" y2="344.6" stroke="#1c1c1c" stroke-width="1.1" />
<line x1="293.0" y1="57.2" x2="292.6" y2="61.7" stroke="#1c1c1c" stroke-width="1.3" />
<line x1="318.8" y1="77.0" x2="318.4" y2="81.5" stroke="#1c1c1c" stroke-width="1.3" />
<line x1="344.6" y1="96.8" x2="344.2" y2="101.3" stroke="#1c1c1c" stroke-width="1.3" />
<line x1="370.4" y1="116.6" x2="369.9" y2="121.1" stroke="#1c1c1c" stroke-width="1.3" />
<line x1="396.2" y1="136.3" x2="395.8" y2="140.8" stroke="#1c1c1c" stroke-width="1.3" />
<line x1="305.9" y1="67.1" x2="305.6" y2="69.6" stroke="#1c1c1c" stroke-width="1.1" />
<line x1="331.7" y1="86.9" x2="331.4" y2="89.4" stroke="#1c1c1c" stroke-width="1.1" />
<line x1="357.5" y1="106.7" x2="357.2" y2="109.2" stroke="#1c1c1c" stroke-width="1.1" />
<line x1="383.3" y1="126.5" x2="383.1" y2="129.0" stroke="#1c1c1c" stroke-width="1.1" />
<line x1="409.1" y1="146.2" x2="408.9" y2="148.7" stroke="#1c1c1c" stroke-width="1.1" />
<line x1="104.0" y1="300.4" x2="108.2" y2="298.7" stroke="#1c1c1c" stroke-width="1.3" />
<line x1="123.4" y1="325.9" x2="127.6" y2="324.3" stroke="#1c1c1c" stroke-width="1.3" />
<line x1="142.8" y1="351.4" x2="147.0" y2="349.8" stroke="#1c1c1c" stroke-width="1.3" />
<line x1="162.2" y1="376.9" x2="166.4" y2="375.3" stroke="#1c1c1c" stroke-width="1.3" />
<line x1="181.6" y1="402.4" x2="185.8" y2="400.8" stroke="#1c1c1c" stroke-width="1.3" />
<line x1="113.7" y1="313.1" x2="116.0" y2="312.2" stroke="#1c1c1c" stroke-width="1.1" />
<line x1="133.1" y1="338.6" x2="135.4" y2="337.7" stroke="#1c1c1c" stroke-width="1.1" />
<line x1="152.5" y1="364.1" x2="154.8" y2="363.2" stroke="#1c1c1c" stroke-width="1.1" />
<line x1="171.9" y1="389.6" x2="174.2" y2="388.7" stroke="#1c1c1c" stroke-width="1.1" />
<line x1="191.3" y1="415.2" x2="193.6" y2="414.3" stroke="#1c1c1c" stroke-width="1.1" />
<line x1="79.0" y1="103.0" x2="83.5" y2="101.9" stroke="#1c1c1c" stroke-width="1.3" />
<line x1="83.2" y1="151.6" x2="87.7" y2="150.5" stroke="#1c1c1c" stroke-width="1.3" />
<line x1="87.3" y1="199.1" x2="91.8" y2="198.0" stroke="#1c1c1c" stroke-width="1.3" />
<line x1="91.3" y1="245.8" x2="95.8" y2="244.7" stroke="#1c1c1c" stroke-width="1.3" />
<line x1="81.1" y1="127.3" x2="83.6" y2="126.7" stroke="#1c1c1c" stroke-width="1.1" />
<line x1="85.2" y1="175.3" x2="87.7" y2="174.7" stroke="#1c1c1c" stroke-width="1.1" />
<line x1="89.3" y1="222.5" x2="91.8" y2="221.8" stroke="#1c1c1c" stroke-width="1.1" />
<line x1="93.2" y1="267.2" x2="95.7" y2="266.5" stroke="#1c1c1c" stroke-width="1.1" />
<text transform="matrix(1.080 0.000 0.000 1.000 10.5 43.0)" font-family='"Liberation Sans", sans-serif' font-size="27.5" font-weight="bold" font-style="normal" text-anchor="start" fill="#000" stroke="#000" stroke-width="0.6" >(a)</text>
<text transform="matrix(1.160 -0.290 0.170 1.050 75.0 112.0)" font-family='"Liberation Sans", sans-serif' font-size="18" font-weight="bold" font-style="italic" text-anchor="end" fill="#000" stroke="#000" stroke-width="0.6" >4000</text>
<text transform="matrix(1.160 -0.290 0.170 1.050 79.5 161.0)" font-family='"Liberation Sans", sans-serif' font-size="18" font-weight="bold" font-style="italic" text-anchor="end" fill="#000" stroke="#000" stroke-width="0.6" >3000</text>
<text transform="matrix(1.160 -0.290 0.170 1.050 83.0 209.0)" font-family='"Liberation Sans", sans-serif' font-size="18" font-weight="bold" font-style="italic" text-anchor="end" fill="#000" stroke="#000" stroke-width="0.6" >2000</text>
<text transform="matrix(1.160 -0.290 0.170 1.050 87.5 255.0)" font-family='"Liberation Sans", sans-serif' font-size="18" font-weight="bold" font-style="italic" text-anchor="end" fill="#000" stroke="#000" stroke-width="0.6" >1000</text>
<text transform="matrix(1.160 -0.290 0.170 1.050 91.0 297.0)" font-family='"Liberation Sans", sans-serif' font-size="18" font-weight="bold" font-style="italic" text-anchor="end" fill="#000" stroke="#000" stroke-width="0.6" >0</text>
<text transform="matrix(1.120 0.000 0.000 1.000 2.0 217.5)" font-family='"Liberation Serif", serif' font-size="37" font-weight="bold" font-style="italic" text-anchor="start" fill="#000" stroke="#000" stroke-width="0.2" >ε</text>
<text transform="translate(20.8 227.2)" font-family='"Liberation Sans", sans-serif' font-size="24" font-weight="bold" font-style="normal" text-anchor="start" fill="#000" stroke="#000" stroke-width="0.3" >r</text>
<text transform="matrix(0.100 1.000 -1.150 0.520 126.0 55.0)" font-family='"Liberation Sans", sans-serif' font-size="19" font-weight="bold" font-style="italic" text-anchor="start" fill="#000" stroke="#000" stroke-width="0.6" >100</text>
<text transform="matrix(0.100 1.000 -1.150 0.520 181.5 40.0)" font-family='"Liberation Sans", sans-serif' font-size="19" font-weight="bold" font-style="italic" text-anchor="start" fill="#000" stroke="#000" stroke-width="0.6" >200</text>
<text transform="matrix(0.100 1.000 -1.150 0.520 235.5 26.0)" font-family='"Liberation Sans", sans-serif' font-size="19" font-weight="bold" font-style="italic" text-anchor="start" fill="#000" stroke="#000" stroke-width="0.6" >300</text>
<text transform="matrix(1.000 -0.245 0.170 0.980 141.0 34.0)" font-family='"Liberation Sans", sans-serif' font-size="22" font-weight="bold" font-style="italic" text-anchor="start" fill="#000" stroke="#000" stroke-width="0.6" >T (°C)</text>
<text transform="matrix(0.050 -1.210 0.950 0.550 298.5 55.5)" font-family='"Liberation Sans", sans-serif' font-size="15" font-weight="bold" font-style="italic" text-anchor="start" fill="#000" stroke="#000" stroke-width="0.6" >-200</text>
<text transform="matrix(0.050 -1.210 0.950 0.550 324.0 74.5)" font-family='"Liberation Sans", sans-serif' font-size="15" font-weight="bold" font-style="italic" text-anchor="start" fill="#000" stroke="#000" stroke-width="0.6" >-100</text>
<text transform="matrix(0.050 -1.210 0.950 0.550 348.0 95.5)" font-family='"Liberation Sans", sans-serif' font-size="15" font-weight="bold" font-style="italic" text-anchor="start" fill="#000" stroke="#000" stroke-width="0.6" >0</text>
<text transform="matrix(0.050 -1.210 0.950 0.550 375.5 113.5)" font-family='"Liberation Sans", sans-serif' font-size="15" font-weight="bold" font-style="italic" text-anchor="start" fill="#000" stroke="#000" stroke-width="0.6" >100</text>
<text transform="matrix(0.050 -1.210 0.950 0.550 405.0 137.0)" font-family='"Liberation Sans", sans-serif' font-size="15" font-weight="bold" font-style="italic" text-anchor="start" fill="#000" stroke="#000" stroke-width="0.6" >200</text>
<text transform="matrix(0.806 0.630 -0.080 1.100 321.7 25.5)" font-family='"Liberation Sans", sans-serif' font-size="18" font-weight="bold" font-style="normal" text-anchor="start" fill="#000" stroke="#000" stroke-width="0.6" >E (kV/cm)</text>
<text transform="matrix(1.063 -0.453 0.413 0.668 104.5 304.5)" font-family='"Liberation Sans", sans-serif' font-size="19" font-weight="bold" font-style="normal" text-anchor="end" fill="#000" stroke="#000" stroke-width="0.6" >-200</text>
<text transform="matrix(1.063 -0.453 0.413 0.668 123.0 329.5)" font-family='"Liberation Sans", sans-serif' font-size="19" font-weight="bold" font-style="normal" text-anchor="end" fill="#000" stroke="#000" stroke-width="0.6" >-100</text>
<text transform="matrix(1.063 -0.453 0.413 0.668 142.3 355.5)" font-family='"Liberation Sans", sans-serif' font-size="19" font-weight="bold" font-style="normal" text-anchor="end" fill="#000" stroke="#000" stroke-width="0.6" >0</text>
<text transform="matrix(1.063 -0.453 0.413 0.668 161.0 382.3)" font-family='"Liberation Sans", sans-serif' font-size="19" font-weight="bold" font-style="normal" text-anchor="end" fill="#000" stroke="#000" stroke-width="0.6" >100</text>
<text transform="matrix(1.063 -0.453 0.413 0.668 183.5 410.5)" font-family='"Liberation Sans", sans-serif' font-size="19" font-weight="bold" font-style="normal" text-anchor="end" fill="#000" stroke="#000" stroke-width="0.6" >200</text>
<text transform="matrix(0.593 0.858 -0.950 0.436 47.5 343.5)" font-family='"Liberation Sans", sans-serif' font-size="18.5" font-weight="bold" font-style="italic" text-anchor="start" fill="#000" stroke="#000" stroke-width="0.6" >E (kV/cm)</text>
<text transform="matrix(0.660 0.770 -0.850 0.390 193.0 424.5)" font-family='"Liberation Sans", sans-serif' font-size="19" font-weight="bold" font-style="normal" text-anchor="start" fill="#000" stroke="#000" stroke-width="0.6" >0</text>
<text transform="matrix(0.660 0.770 -0.850 0.390 248.0 402.0)" font-family='"Liberation Sans", sans-serif' font-size="19" font-weight="bold" font-style="normal" text-anchor="start" fill="#000" stroke="#000" stroke-width="0.6" >100</text>
<text transform="matrix(0.660 0.770 -0.850 0.390 301.2 382.0)" font-family='"Liberation Sans", sans-serif' font-size="19" font-weight="bold" font-style="normal" text-anchor="start" fill="#000" stroke="#000" stroke-width="0.6" >200</text>
<text transform="matrix(0.660 0.770 -0.850 0.390 353.7 360.3)" font-family='"Liberation Sans", sans-serif' font-size="19" font-weight="bold" font-style="normal" text-anchor="start" fill="#000" stroke="#000" stroke-width="0.6" >300</text>
<text transform="matrix(1.050 -0.470 0.610 0.730 305.5 431.5)" font-family='"Liberation Sans", sans-serif' font-size="20.3" font-weight="bold" font-style="normal" text-anchor="start" fill="#000" stroke="#000" stroke-width="0.6" >T (°C)</text>
<text transform="translate(91.0 121.5)" font-family='"Liberation Sans", sans-serif' font-size="17" font-weight="bold" fill="#6e6e6e">E<tspan font-size="10" dy="5.5">max</tspan><tspan dy="-5.5">= -15 kV/cm</tspan></text>
<text transform="translate(91.0 148.7)" font-family='"Liberation Sans", sans-serif' font-size="17" font-weight="bold" fill="#6e6e6e">T<tspan font-size="10" dy="5.5">max</tspan><tspan dy="-5.5">= 185°C</tspan></text>
<text transform="translate(91.0 175.9)" font-family='"Liberation Sans", sans-serif' font-size="17" font-weight="bold" fill="#6e6e6e"><tspan font-family='"Liberation Serif", serif' font-weight="normal" font-size="17">ε</tspan><tspan font-size="10" dy="5.5">r,max</tspan><tspan dy="-5.5">= 5150</tspan></text>
<linearGradient id="cb0" x1="0" y1="0" x2="0" y2="1"><stop offset="0.000" stop-color="#7a0000"/><stop offset="0.100" stop-color="#c00000"/><stop offset="0.200" stop-color="#f00000"/><stop offset="0.340" stop-color="#ff0000"/><stop offset="0.370" stop-color="#ff3000"/><stop offset="0.430" stop-color="#ff9000"/><stop offset="0.500" stop-color="#ffff00"/><stop offset="0.580" stop-color="#90ff00"/><stop offset="0.664" stop-color="#00ff00"/><stop offset="0.704" stop-color="#00ff90"/><stop offset="0.734" stop-color="#00ffff"/><stop offset="0.790" stop-color="#0090ff"/><stop offset="0.853" stop-color="#0800ff"/><stop offset="0.885" stop-color="#4800f4"/><stop offset="0.915" stop-color="#7808e8"/><stop offset="0.963" stop-color="#a000b4"/><stop offset="1.000" stop-color="#780078"/></linearGradient>
<rect x="426.3" y="185.4" width="42.2" height="145.8" fill="url(#cb0)"/>
<text transform="matrix(1.180 0.000 0.000 1.000 475.5 190.0)" font-family='"Liberation Sans", sans-serif' font-size="12.8" font-weight="bold" font-style="normal" text-anchor="start" fill="#000" stroke="#000" stroke-width="0.35" >5200</text>
<text transform="matrix(1.180 0.000 0.000 1.000 475.5 262.9)" font-family='"Liberation Sans", sans-serif' font-size="12.8" font-weight="bold" font-style="normal" text-anchor="start" fill="#000" stroke="#000" stroke-width="0.35" >2650</text>
<text transform="matrix(1.180 0.000 0.000 1.000 475.5 334.6)" font-family='"Liberation Sans", sans-serif' font-size="12.8" font-weight="bold" font-style="normal" text-anchor="start" fill="#000" stroke="#000" stroke-width="0.35" >100</text>
<text transform="matrix(1.220 0.000 0.000 1.000 438.3 170.8)" font-family='"Liberation Serif", serif' font-size="23.5" font-weight="normal" font-style="normal" text-anchor="start" fill="#000" stroke="#000" stroke-width="0.25" >ε</text>
<text transform="translate(450.7 179.1)" font-family='"Liberation Sans", sans-serif' font-size="14.5" font-weight="bold" font-style="normal" text-anchor="start" fill="#000" stroke="#000" stroke-width="0.2" >r</text>
<line x1="135.6" y1="565.9" x2="145.5" y2="750.1" stroke="#ececec" stroke-width="0.9" />
<line x1="145.5" y1="750.1" x2="249.3" y2="877.1" stroke="#ececec" stroke-width="0.9" />
<line x1="189.7" y1="551.2" x2="194.5" y2="733.9" stroke="#ececec" stroke-width="0.9" />
<line x1="194.5" y1="733.9" x2="302.6" y2="856.3" stroke="#ececec" stroke-width="0.9" />
<line x1="243.8" y1="536.4" x2="243.4" y2="717.7" stroke="#ececec" stroke-width="0.9" />
<line x1="243.4" y1="717.7" x2="355.9" y2="835.4" stroke="#ececec" stroke-width="0.9" />
<line x1="79.0" y1="581.3" x2="281.0" y2="526.3" stroke="#ececec" stroke-width="0.9" />
<line x1="281.0" y1="526.3" x2="414.0" y2="628.3" stroke="#ececec" stroke-width="0.9" />
<line x1="83.2" y1="629.9" x2="280.2" y2="573.5" stroke="#ececec" stroke-width="0.9" />
<line x1="280.2" y1="573.5" x2="408.9" y2="678.6" stroke="#ececec" stroke-width="0.9" />
<line x1="87.3" y1="677.4" x2="279.4" y2="619.5" stroke="#ececec" stroke-width="0.9" />
<line x1="279.4" y1="619.5" x2="404.0" y2="727.8" stroke="#ececec" stroke-width="0.9" />
<line x1="91.3" y1="724.1" x2="278.7" y2="664.9" stroke="#ececec" stroke-width="0.9" />
<line x1="278.7" y1="664.9" x2="399.1" y2="776.1" stroke="#ececec" stroke-width="0.9" />
<line x1="293.0" y1="535.5" x2="288.5" y2="716.6" stroke="#ececec" stroke-width="0.9" />
<line x1="288.5" y1="716.6" x2="104.0" y2="778.7" stroke="#ececec" stroke-width="0.9" />
<line x1="318.8" y1="555.3" x2="311.1" y2="738.7" stroke="#ececec" stroke-width="0.9" />
<line x1="311.1" y1="738.7" x2="123.4" y2="804.2" stroke="#ececec" stroke-width="0.9" />
<line x1="344.6" y1="575.1" x2="333.8" y2="760.8" stroke="#ececec" stroke-width="0.9" />
<line x1="333.8" y1="760.8" x2="142.8" y2="829.7" stroke="#ececec" stroke-width="0.9" />
<line x1="370.4" y1="594.9" x2="356.4" y2="782.9" stroke="#ececec" stroke-width="0.9" />
<line x1="356.4" y1="782.9" x2="162.2" y2="855.2" stroke="#ececec" stroke-width="0.9" />
<line x1="396.2" y1="614.6" x2="379.0" y2="805.0" stroke="#ececec" stroke-width="0.9" />
<line x1="379.0" y1="805.0" x2="181.6" y2="880.7" stroke="#ececec" stroke-width="0.9" />
<line x1="95.0" y1="766.8" x2="278.0" y2="706.3" stroke="#c4c4c4" stroke-width="1" />
<line x1="278.0" y1="706.3" x2="394.6" y2="820.3" stroke="#c4c4c4" stroke-width="1" />
<line x1="281.0" y1="526.3" x2="278.0" y2="706.3" stroke="#808080" stroke-width="1" />
<line x1="414.0" y1="628.3" x2="394.6" y2="820.3" stroke="#6a6a6a" stroke-width="1.0" />
<clipPath id="sbclip"><path d="M126.7,741.2l1-0.7l1.8-1.1l2.4-1.3l2.7-1.5l2.8-1.4l2.6-1.4l2.5-1.3l2.7-1.4l2.8-1.4l2.7-1.4l2.7-1.3l2.6-1.2l2.5-1.1l2.3-1l2.3-0.9l2.3-0.9l2.3-1l2.3-0.9l2.3-1l2.1-1.1l2.2-1l2.3-1l2.3-0.9l2.6-0.8l2.8-0.6l3-0.5l3.2-0.4l3.2-0.3l3.2-0.2l3.1-0.2l3.1-0.1l3.2-0.1l3.2,0l3.2,0l3,0.1l2.8,0.1l2.6,0.1l2.5,0.2l2.4,0.3l2.3,0.2l2.1,0.1l1.9,0.1l1.7-0.1l1.6-0.1l1.3-0.2l1.3-0.2l1.3-0.2l1.2-0.2l1.2-0.2l1.2-0.2l1.1-0.1l1.1-0.2l1-0.1l1,0l1,0.1l0.9,0.1l0.9,0.2l0.9,0.3l0.8,0.3l0.9,0.3l0.8,0.3l0.7,0.3l0.7,0.4l0.8,0.4l0.9,0.6l1.1,0.9l1.3,1.1l1.6,1.4l1.7,1.6l1.7,1.6l1.7,1.8l1.5,1.7l1.4,1.7l1.2,1.8l1.3,1.9l1.2,1.9l1.2,2l1.2,2.1l1.2,2.2l1.2,2.4l1.3,2.4l1.2,2.4l1.3,2.4l1.3,2.2l1.4,2.1l1.5,1.9l1.5,1.9l1.6,1.9l1.5,1.8l1.5,1.9l1.5,2l1.5,2l1.4,2l1.5,1.9l1.3,1.9l1.3,1.7l1.4,1.5l1.6,1.4l1.5,1.2l1.2,1.2l0.6,1.2l-0.3,1.2l-1.3,1.2l-2.1,1.1l-2.6,1.2l-3.1,1.1l-3.3,1.3l-3.3,1.4l-3.6,1.6l-4,1.9l-4.2,1.9l-4.2,1.9l-3.8,1.8l-3.3,1.4l-2.4,1l-1.5,0.6l-1.3,0.5l-1.4,0.5l-1.9,0.7l-3,1.2l-4.2,1.7l-5.1,2l-5.6,2.3l-5.9,2.4l-5.7,2.3l-5.2,2.1l-4.8,1.9l-4.6,1.9l-4.5,1.8l-4.3,1.8l-4,1.7l-3.8,1.6l-3.6,1.6l-3.4,1.6l-3.2,1.5l-2.9,1.3l-2.5,1.2l-1.9,0.8l-1.2,0.5l-0.7,0.2l-0.1,0l0-0.1l0-0.3l-0.2-0.3l-0.4-0.3l-0.2-0.3l-0.4-0.5l-0.3-0.6l-0.6-0.8l-0.7-1l-1-1.3l-1.2-1.6l-1.3-1.8l-1.4-1.9l-1.4-2l-1.4-2l-1.4-2l-1.5-2.2l-1.5-2.2l-1.4-2.3l-1.5-2.3l-1.4-2.4l-1.4-2.4l-1.3-2.5l-1.3-2.6l-1.2-2.6l-1.3-2.7l-1.1-2.7l-1.1-2.8l-1-2.9l-1-3l-1-2.9l-0.9-2.9l-0.8-2.8l-0.8-2.7l-0.7-2.6l-0.7-2.6l-0.6-2.6l-0.6-2.5l-0.5-2.4l-0.5-2.4l-0.3-2.4l-0.4-2.4l-0.3-2.3l-0.2-2l-0.3-1.9l-0.2-1.7l0-1.5l0-1.3l-0.1-1.2l-0.2-0.9l-0.5-0.6l-0.8-0.2l-1.1,0.1l-1.2,0.4l-1.3,0.5l-1.3,0.4l-1.3,0.4l-1.4,0.3l-1.8,0.5l-1.7,0.5l-1.5,0.3l-0.9,0.1Z"/></clipPath>
<g clip-path="url(#sbclip)"><g filter="url(#blur1)">
<rect x="120" y="705" width="195" height="135" fill="#8406d8"/>
<path d="M120,705l2,0l2,0l2,0l2,0l2,0l2,0l2,0l2,0l2,0l2,0l2,0l2,0l2,0l2,0l2,0l2,0l2,0l2,0l2,0l2,0l2,0l2,0l2,0l2,0l2,0l2,0l2,0l2,0l2,0l2,0l2,0l2,0l2,0l2,0l2,0l2,0l2,0l2,0l2,0l2,0l2,0l2,0l2,0l2,0l2,0l2,0l2,0l2,0l2,0l2,0l2,0l2,0l2,0l2,0l2,0l2,0l2,0l2,0l2,0l2,0l2,0l2,0l2,0l2,0l2,0l2,0l2,0l2,0l2,0l2,0l2,0l2,0l2,0l2,0l2,0l2,0l2,0l2,0l2,0l2,0l2,0l2,0l2,0l2,0l2,0l2,0l2,0l2,0l2,0l2,0l2,0l2,0l2,0l2,0l2,0l2,0l2,0l1,1l0,2l0,2l0,2l0,2l0,2l0,2l0,2l0,2l0,2l0,2l0,2l0,2l0,2l0,2l0,2l0,2l0,2l0,2l0,2l0,2l0,2l0,2l0,2l0,2l0,2l0,2l0,2l0,2l0,2l0,2l0,2l0,2l0,2l0,2l0,2l0,2l0,2l0,2l0,2l0,2l0,2l0,2l0,2l0,2l0,2l0,2l0,2l0,2l0,2l0,2l0,2l0,2l0,2l0,2l0,2l0,2l0,2l0,2l0,2l0,2l0,2l0,2l0,2l0,2l0,2l0,2l0,2l-2,0l-2,0l-2,0l-2,0l-2,0l-2,0l-2,0l-2,0l-2,0l-2,0l-2,0l-2,0l-2,0l-2,0l-2,0l-2,0l-2,0l-2,0l-2,0l-2,0l-2,0l-2,0l-2,0l-2,0l-2,0l-2,0l-2,0l-2,0l-2,0l-2,0l-2,0l-2,0l-2,0l-2,0l-2,0l-2,0l-2,0l-2,0l-2,0l-2,0l-2,0l-2,0l-2,0l-2,0l-2,0l-2,0l-2,0l-2,0l-2,0l-2,0l-2,0l-2,0l-2,0l-2,0l-2,0l-2,0l-2,0l-2,0l-2,0l-2,0l-2,0l-2,0l-2,0l-2,0l-2,0l-2,0l-2,0l-2,0l-2,0l-2,0l-2,0l-2,0l-2,0l-2,0l-2,0l-2,0l-2,0l-2,0l-2,0l-2,0l-2,0l-2,0l-2,0l-2,0l-2,0l-2,0l-2,0l-2,0l-2,0l-2,0l-2,0l-2,0l-2,0l-2,0l-2,0l-2,0l-2,0l-1-1l0-2l0-2l0-2l0-2l0-2l0-2l0-2l0-2l0-2l0-2l0-2l0-2l0-2l0-2l0-2l0-2l0-2l0-2l0-2l0-2l0-2l0-2l0-2l0-2l0-2l0-2l0-2l0-2l0-2l0-2l0-2l0-2l0-2l0-2l0-2l0-2l0-2l0-2l0-2l0-2l0-2l0-2l0-2l0-2l0-2l0-2l0-2l0-2l0-2l0-2l0-2l0-2l0-2l0-2l0-2l0-2l0-2l0-2l0-2l0-2l0-2l0-2l0-2l0-2l0-2l0-2l0-2Z" fill="#7c07e2"/>
<path d="M120,705l2,0l2,0l2,0l2,0l2,0l2,0l2,0l2,0l2,0l2,0l2,0l2,0l2,0l2,0l2,0l2,0l2,0l2,0l2,0l2,0l2,0l2,0l2,0l2,0l2,0l2,0l2,0l2,0l2,0l2,0l2,0l2,0l2,0l2,0l2,0l2,0l2,0l2,0l2,0l2,0l2,0l2,0l2,0l2,0l2,0l2,0l2,0l2,0l2,0l2,0l2,0l2,0l2,0l2,0l2,0l2,0l2,0l2,0l2,0l2,0l2,0l2,0l2,0l2,0l2,0l2,0l2,0l2,0l2,0l2,0l2,0l2,0l2,0l2,0l2,0l2,0l2,0l2,0l2,0l2,0l2,0l2,0l2,0l2,0l2,0l2,0l2,0l2,0l2,0l2,0l2,0l2,0l2,0l2,0l2,0l2,0l2,0l1,1l0,2l0,2l0,2l0,2l0,2l0,2l0,2l0,2l0,2l0,2l0,2l0,2l0,2l0,2l0,2l0,2l0,2l0,2l0,2l0,2l0,2l0,2l0,2l0,2l0,2l0,2l0,2l0,2l0,2l0,2l0,2l0,2l0,2l0,2l0,2l0,2l-0.6,2l-2.4,0.6l-2,0.9l-2,0.8l-1.6,0.7l-1.4,0.6l-2,0.9l-2,0.9l-1.6,0.6l-2.4,0.9l-2,0.8l-2,0.8l-2,0.8l-1.8,0.7l-2.2,0.9l-2,0.8l-2,0.7l-1.6,0.6l-1.4,0.6l-2,0.7l-1.7,0.7l-2.3,0.9l-2,0.7l-2,0.8l-1.6,0.6l-2.4,0.9l-2,0.7l-2,0.7l-2,0.7l-2,0.7l-2,0.7l-1.6,0.6l-2.4,0.9l-2,0.7l-2,0.7l-2,0.7l-2,0.7l-2,0.7l-1.6,0.6l-2.4,0.8l-2,0.7l-2,0.8l-2,0.7l-2,0.7l-2,0.7l-1.8,0.6l-2.2,0.8l-2,0.7l-2,0.8l-1.9,0.7l-2.1,0.7l-2,0.7l-1.7,0.6l-2.3,0.9l-2,0.7l-2,0.8l-1.6,0.6l-2.4,0.9l-2,0.7l-2,0.7l-1.8,0.7l-2.2,0.8l-2,0.7l-2,0.7l-2,0.8l-2,0.6l-2,0.6l-2,0.7l-2,0.6l-2,0.8l-1.9,0.7l-2.1,0.9l-2,1l-1.5,1.1l-1.3,1l-1.2,1l-1.1,1l-1,1l-1.4,2l-2.5,0l-2,0l-2,0l-2,0l-2,0l-2,0l-2,0l-2,0l-2,0l-2,0l-2,0l-2,0l-2,0l-2,0l-2,0l-2,0l-2,0l-2,0l-2,0l-2,0l-2,0l-2,0l0-2l0-2l0-2l0-2l0-2l0-2l0-2l0-2l0-2l0-2l0-2l0-2l0-2l0-2l0-2l0-2l0-2l0-2l0-2l0-2l0-2l0-2l0-2l0-2l0-2l0-2l0-2l0-2l0-2l0-2l0-2l0-2l0-2l0-2l0-2l0-2l0-2l0-2l0-2l0-2l0-2l0-2l0-2l0-2l0-2l0-2l0-2l0-2l0-2l0-2l0-2l0-2l0-2l0-2l0-2l0-2l0-2l0-2l0-2l0-2l0-2l0-2l0-2l0-2l0-2l0-2l0-2Z" fill="#7708e8"/>
<path d="M120,705l2,0l2,0l2,0l2,0l2,0l2,0l2,0l2,0l2,0l2,0l2,0l2,0l2,0l2,0l2,0l2,0l2,0l2,0l2,0l2,0l2,0l2,0l2,0l2,0l2,0l2,0l2,0l2,0l2,0l2,0l2,0l2,0l2,0l2,0l2,0l2,0l2,0l2,0l2,0l2,0l2,0l2,0l2,0l2,0l2,0l2,0l2,0l2,0l2,0l2,0l2,0l2,0l2,0l2,0l2,0l2,0l2,0l2,0l2,0l2,0l2,0l2,0l2,0l2,0l2,0l2,0l2,0l2,0l2,0l2,0l2,0l2,0l2,0l2,0l2,0l2,0l2,0l2,0l2,0l2,0l2,0l2,0l2,0l2,0l2,0l2,0l2,0l2,0l2,0l2,0l2,0l2,0l2,0l2,0l2,0l2,0l2,0l1,1l0,2l0,2l0,2l0,2l0,2l0,2l0,2l0,2l0,2l0,2l0,2l0,2l0,2l0,2l0,2l0,2l0,2l0,2l0,2l0,2l0,2l0,2l0,2l0,2l0,2l0,2l0,2l0,2l0,2l0,2l0,2l0,2l0,2l-1,2l-2,0.5l-2,0.8l-1.6,0.7l-1.4,0.7l-2,0.9l-2,1l-2,0.9l-2,0.8l-2,0.7l-2,0.7l-2,0.7l-1.7,0.6l-2.3,0.8l-2,0.7l-2,0.7l-2,0.7l-2,0.6l-2,0.7l-2,0.6l-2,0.6l-1.8,0.6l-2.2,0.7l-2,0.6l-2,0.7l-2,0.6l-2,0.6l-2,0.6l-2,0.6l-2,0.6l-2,0.6l-2,0.6l-2,0.7l-2,0.6l-1.8,0.5l-2.2,0.7l-2,0.6l-2,0.6l-2,0.6l-1.7,0.5l-2.3,0.6l-2,0.6l-2,0.5l-2,0.6l-2,0.5l-2,0.6l-2,0.5l-2,0.6l-1.9,0.5l-2.1,0.6l-2,0.5l-2,0.5l-2,0.5l-2,0.6l-2,0.5l-2,0.6l-2,0.6l-2,0.5l-2,0.5l-2,0.5l-2,0.5l-2,0.5l-2,0.5l-2,0.5l-2,0.4l-2,0.6l-2,0.4l-2,0.4l-2,0.4l-2,0.4l-2,0.5l-2,0.5l-2,0.5l-2,0.4l-2,0.4l-2,0.5l-2,0.6l-2,1.1l-1.5,1l-1.4,1l-1.1,0.9l-1.4,1.1l-1.2,1l-1.3,1l-1.1,0.9l-1.3,1.1l-1.2,1l-1.3,1l-1.2,1l-1.2,1l-1.2,1l-1.2,1l-1.2,1l-1,1l-1,1l-1.2,1.3l-1,1.4l-2,0.3l-2,0l-2,0l-2,0l-2,0l-2,0l-2,0l-2,0l-2,0l0-2l0-2l0-2l0-2l0-2l0-2l0-2l0-2l0-2l0-2l0-2l0-2l0-2l0-2l0-2l0-2l0-2l0-2l0-2l0-2l0-2l0-2l0-2l0-2l0-2l0-2l0-2l0-2l0-2l0-2l0-2l0-2l0-2l0-2l0-2l0-2l0-2l0-2l0-2l0-2l0-2l0-2l0-2l0-2l0-2l0-2l0-2l0-2l0-2l0-2l0-2l0-2l0-2l0-2l0-2l0-2l0-2l0-2l0-2l0-2l0-2l0-2l0-2l0-2l0-2l0-2l0-2Z" fill="#6e06eb"/>
<path d="M120,705l2,0l2,0l2,0l2,0l2,0l2,0l2,0l2,0l2,0l2,0l2,0l2,0l2,0l2,0l2,0l2,0l2,0l2,0l2,0l2,0l2,0l2,0l2,0l2,0l2,0l2,0l2,0l2,0l2,0l2,0l2,0l2,0l2,0l2,0l2,0l2,0l2,0l2,0l2,0l2,0l2,0l2,0l2,0l2,0l2,0l2,0l2,0l2,0l2,0l2,0l2,0l2,0l2,0l2,0l2,0l2,0l2,0l2,0l2,0l2,0l2,0l2,0l2,0l2,0l2,0l2,0l2,0l2,0l2,0l2,0l2,0l2,0l2,0l2,0l2,0l2,0l2,0l2,0l2,0l2,0l2,0l2,0l2,0l2,0l2,0l2,0l2,0l2,0l2,0l2,0l2,0l2,0l2,0l2,0l2,0l2,0l2,0l1,1l0,2l0,2l0,2l0,2l0,2l0,2l0,2l0,2l0,2l0,2l0,2l0,2l0,2l0,2l0,2l0,2l0,2l0,2l0,2l0,2l0,2l0,2l0,2l0,2l0,2l0,2l0,2l0,2l0,2l0,2l-1.6,1l-1.4,0.8l-1.7,1.2l-1.3,0.9l-1.8,1.1l-1.8,1l-1.4,0.8l-2,1.1l-2,1l-2,0.9l-2,0.7l-2,0.8l-2,0.7l-2,0.7l-2,0.7l-1.6,0.6l-2.4,0.9l-2,0.7l-2,0.7l-2,0.6l-2,0.7l-2,0.5l-2,0.6l-2,0.6l-2,0.5l-2,0.6l-2,0.6l-2,0.5l-1.7,0.5l-2.3,0.7l-2,0.5l-2,0.6l-2,0.6l-2,0.5l-2,0.6l-1.9,0.5l-2.1,0.6l-2,0.6l-2,0.5l-2,0.6l-2,0.5l-2,0.5l-2,0.5l-2,0.4l-2,0.5l-2,0.4l-2,0.5l-1.8,0.4l-2.2,0.5l-2,0.5l-2,0.4l-2,0.5l-2,0.4l-2,0.5l-2,0.4l-2,0.5l-2,0.4l-2,0.5l-2,0.4l-2,0.4l-2,0.4l-2,0.3l-2,0.4l-2,0.4l-2,0.3l-2,0.4l-2,0.3l-2,0.4l-2,0.3l-2,0.4l-2,0.3l-2,0.4l-1.8,0.3l-2.2,0.4l-2,0.4l-2,0.3l-2,0.4l-2,0.3l-2,0.5l-2,0.7l-1.7,1l-1.3,0.8l-1.9,1.2l-1.8,1l-1.9,1l-1.4,0.7l-2,1.1l-2,1l-2,1l-2,1l-2,1l-2,1l-2,1l-2,1l-2,1l-2,1l-2,1l-2,0.9l-2,0.8l-2,0.3l0-2.8l0-2l0-2l0-2l0-2l0-2l0-2l0-2l0-2l0-2l0-2l0-2l0-2l0-2l0-2l0-2l0-2l0-2l0-2l0-2l0-2l0-2l0-2l0-2l0-2l0-2l0-2l0-2l0-2l0-2l0-2l0-2l0-2l0-2l0-2l0-2l0-2l0-2l0-2l0-2l0-2l0-2l0-2l0-2l0-2l0-2l0-2l0-2l0-2l0-2l0-2l0-2l0-2l0-2l0-2l0-2l0-2l0-2l0-2l0-2l0-2l0-2Z" fill="#6505ed"/>
<path d="M120,705l2,0l2,0l2,0l2,0l2,0l2,0l2,0l2,0l2,0l2,0l2,0l2,0l2,0l2,0l2,0l2,0l2,0l2,0l2,0l2,0l2,0l2,0l2,0l2,0l2,0l2,0l2,0l2,0l2,0l2,0l2,0l2,0l2,0l2,0l2,0l2,0l2,0l2,0l2,0l2,0l2,0l2,0l2,0l2,0l2,0l2,0l2,0l2,0l2,0l2,0l2,0l2,0l2,0l2,0l2,0l2,0l2,0l2,0l2,0l2,0l2,0l2,0l2,0l2,0l2,0l2,0l2,0l2,0l2,0l2,0l2,0l2,0l2,0l2,0l2,0l2,0l2,0l2,0l2,0l2,0l2,0l2,0l2,0l2,0l2,0l2,0l2,0l2,0l2,0l2,0l2,0l2,0l2,0l2,0l2,0l2,0l2,0l1,1l0,2l0,2l0,2l0,2l0,2l0,2l0,2l0,2l0,2l0,2l0,2l0,2l0,2l0,2l0,2l0,2l0,2l0,2l0,2l0,2l0,2l0,2l0,2l0,2l0,2l-1,1l-2,1l-1.6,1l-1.4,1l-1.4,1l-1.3,1l-1.3,0.9l-1.5,1.1l-1.4,1l-1.5,1l-1.5,1l-1.5,1l-1.5,1l-1.8,1l-1.3,0.7l-2,1l-2,0.9l-2,1l-2,0.9l-2,1l-2,0.9l-2,0.9l-1.5,0.7l-1.5,0.6l-2,0.7l-2,0.6l-2,0.6l-1.8,0.5l-2.2,0.6l-2,0.6l-2,0.5l-2,0.6l-2,0.6l-2,0.5l-2,0.6l-2,0.5l-1.7,0.5l-2.3,0.7l-2,0.5l-2,0.6l-2,0.5l-2,0.6l-2,0.5l-2,0.6l-2,0.5l-2,0.4l-2,0.4l-2,0.5l-2,0.4l-2,0.5l-2,0.4l-2,0.4l-2,0.5l-2,0.4l-2,0.4l-2,0.5l-2,0.4l-2,0.5l-2,0.4l-1.8,0.4l-2.2,0.5l-2,0.4l-2,0.4l-2,0.4l-1.9,0.3l-2.1,0.4l-2,0.3l-2,0.3l-2,0.3l-2,0.3l-2,0.4l-2,0.3l-2,0.3l-2,0.3l-2,0.4l-2,0.3l-2,0.3l-2,0.3l-2,0.4l-2,0.3l-2,0.3l-2,0.4l-2,0.4l-1.8,1l-1.2,1.3l-1,1.2l-1,1l-2,1.5l-1.9,1l-2,1l-2,1l-2,1l-2,1l-2,1l-2,1l-2,1l-2,1l-2,1l-2,1l-2,1l-2,1l-2.1,0.9l-2,0.7l-1-1.6l0-2l0-2l0-2l0-2l0-2l0-2l0-2l0-2l0-2l0-2l0-2l0-2l0-2l0-2l0-2l0-2l0-2l0-2l0-2l0-2l0-2l0-2l0-2l0-2l0-2l0-2l0-2l0-2l0-2l0-2l0-2l0-2l0-2l0-2l0-2l0-2l0-2l0-2l0-2l0-2l0-2l0-2l0-2l0-2l0-2l0-2l0-2l0-2l0-2l0-2l0-2l0-2l0-2l0-2l0-2l0-2l0-2l0-2l0-2Z" fill="#5b03ef"/>
<path d="M120,705l2,0l2,0l2,0l2,0l2,0l2,0l2,0l2,0l2,0l2,0l2,0l2,0l2,0l2,0l2,0l2,0l2,0l2,0l2,0l2,0l2,0l2,0l2,0l2,0l2,0l2,0l2,0l2,0l2,0l2,0l2,0l2,0l2,0l2,0l2,0l2,0l2,0l2,0l2,0l2,0l2,0l2,0l2,0l2,0l2,0l2,0l2,0l2,0l2,0l2,0l2,0l2,0l2,0l2,0l2,0l2,0l2,0l2,0l2,0l2,0l2,0l2,0l2,0l2,0l2,0l2,0l2,0l2,0l2,0l2,0l2,0l2,0l2,0l2,0l2,0l2,0l2,0l2,0l2,0l2,0l2,0l2,0l2,0l2,0l2,0l2,0l2,0l2,0l2,0l2,0l2,0l2,0l2,0l2,0l2,0l2,0l2,0l1,1l0,2l0,2l0,2l0,2l0,2l0,2l0,2l0,2l0,2l0,2l0,2l0,2l0,2l0,2l0,2l0,2l0,2l0,2l0,2l0,2l0,2l0,2l-1,1.3l-1.4,0.7l-1.5,1l-1.3,1l-1.3,1l-1.3,1l-1.2,0.9l-1.4,1.1l-1.3,1l-1.2,1l-1.3,1l-1.4,1l-1.3,1l-1.3,1l-1.4,1l-1.4,1l-1.5,1l-1.5,0.9l-2,1.1l-1.8,1l-1.9,1l-1.9,1l-1.4,0.7l-2,1.1l-2,1l-2,0.9l-2,0.8l-2,0.7l-2,0.6l-2,0.6l-2,0.5l-2,0.6l-1.8,0.5l-2.2,0.6l-2,0.6l-2,0.6l-2,0.5l-2,0.6l-2,0.5l-2,0.6l-2,0.6l-1.6,0.4l-2.4,0.7l-2,0.6l-2,0.5l-2,0.5l-2,0.5l-2,0.5l-2,0.4l-2,0.4l-2,0.5l-2,0.4l-2,0.5l-2,0.4l-2,0.4l-2,0.5l-2,0.4l-2,0.4l-1.7,0.4l-2.3,0.5l-2,0.4l-2,0.5l-2,0.4l-2,0.5l-2,0.4l-1.9,0.3l-2.1,0.4l-2,0.3l-2,0.3l-2,0.3l-2,0.3l-2,0.3l-2,0.4l-2,0.3l-2,0.3l-2,0.3l-2,0.3l-2,0.3l-2,0.3l-2,0.4l-2,0.3l-2,0.3l-2,0.3l-2,0.3l-2,0.4l-2,0.5l-1.9,1.4l-1.1,1.6l-0.9,1.4l-1.1,1.1l-1.2,0.9l-1.8,1l-2,1l-2,1l-2,1l-2,1l-2,1l-2,1l-2,1l-2,1l-2,1l-2,1l-2,1l-2,1l-2,0.8l-2,0.4l0-2.2l0-2l0-2l0-2l0-2l0-2l0-2l0-2l0-2l0-2l0-2l0-2l0-2l0-2l0-2l0-2l0-2l0-2l0-2l0-2l0-2l0-2l0-2l0-2l0-2l0-2l0-2l0-2l0-2l0-2l0-2l0-2l0-2l0-2l0-2l0-2l0-2l0-2l0-2l0-2l0-2l0-2l0-2l0-2l0-2l0-2l0-2l0-2l0-2l0-2l0-2l0-2l0-2l0-2l0-2l0-2l0-2l0-2l0-2Z" fill="#5202f2"/>
<path d="M120,705l2,0l2,0l2,0l2,0l2,0l2,0l2,0l2,0l2,0l2,0l2,0l2,0l2,0l2,0l2,0l2,0l2,0l2,0l2,0l2,0l2,0l2,0l2,0l2,0l2,0l2,0l2,0l2,0l2,0l2,0l2,0l2,0l2,0l2,0l2,0l2,0l2,0l2,0l2,0l2,0l2,0l2,0l2,0l2,0l2,0l2,0l2,0l2,0l2,0l2,0l2,0l2,0l2,0l2,0l2,0l2,0l2,0l2,0l2,0l2,0l2,0l2,0l2,0l2,0l2,0l2,0l2,0l2,0l2,0l2,0l2,0l2,0l2,0l2,0l2,0l2,0l2,0l2,0l2,0l2,0l2,0l2,0l2,0l2,0l2,0l2,0l2,0l2,0l2,0l2,0l2,0l2,0l2,0l2,0l2,0l2,0l2,0l1,1l0,2l0,2l0,2l0,2l0,2l0,2l0,2l0,2l0,2l0,2l0,2l0,2l0,2l0,2l0,2l0,2l0,2l0,2l0,2l0,2l0,2l-2,1l-1.7,1l-1.3,1l-1.4,1l-1.3,1l-1.3,0.9l-1.4,1.1l-1.4,1l-1.2,1l-1.4,1l-1.3,1l-1.3,1l-1.3,1l-1.3,1l-1.3,1l-1.3,1l-1.4,1l-1.4,0.9l-1.9,1.1l-1.8,1l-1.3,0.7l-2,1.2l-2,1.1l-1.9,1l-2,1l-2.1,1l-2,0.8l-2,0.6l-1.9,0.6l-2.1,0.6l-2,0.6l-2,0.5l-2,0.6l-2,0.6l-2,0.5l-2,0.6l-2,0.6l-2,0.5l-2,0.6l-2,0.6l-2,0.5l-2,0.6l-2,0.6l-2,0.5l-1.7,0.5l-2.3,0.6l-1.8,0.4l-2.2,0.5l-2,0.4l-2,0.5l-2,0.4l-2,0.5l-2,0.4l-2,0.4l-2,0.5l-2,0.4l-2,0.5l-2,0.4l-2,0.4l-2,0.5l-2,0.4l-2,0.4l-1.7,0.4l-2.3,0.5l-2,0.4l-2,0.3l-2,0.4l-2,0.3l-2,0.3l-2,0.3l-2,0.3l-2,0.3l-2,0.4l-2,0.3l-2,0.3l-2,0.3l-2,0.3l-1.9,0.3l-2.1,0.3l-2,0.4l-2,0.3l-2,0.3l-2,0.3l-2,0.3l-2,0.4l-2,0.5l-2,1.2l-1,1.2l-1,1.6l-1,1.2l-1.3,1l-1.7,1l-2,1l-2,1l-2,1l-2,1l-2,1l-2,1l-2,1l-2,1l-2,1l-2,1l-2,1l-2,0.9l-2,0.7l-1-1.6l0-2l0-2l0-2l0-2l0-2l0-2l0-2l0-2l0-2l0-2l0-2l0-2l0-2l0-2l0-2l0-2l0-2l0-2l0-2l0-2l0-2l0-2l0-2l0-2l0-2l0-2l0-2l0-2l0-2l0-2l0-2l0-2l0-2l0-2l0-2l0-2l0-2l0-2l0-2l0-2l0-2l0-2l0-2l0-2l0-2l0-2l0-2l0-2l0-2l0-2l0-2l0-2l0-2l0-2l0-2l0-2l0-2Z" fill="#4900f4"/>
<path d="M120,705l2,0l2,0l2,0l2,0l2,0l2,0l2,0l2,0l2,0l2,0l2,0l2,0l2,0l2,0l2,0l2,0l2,0l2,0l2,0l2,0l2,0l2,0l2,0l2,0l2,0l2,0l2,0l2,0l2,0l2,0l2,0l2,0l2,0l2,0l2,0l2,0l2,0l2,0l2,0l2,0l2,0l2,0l2,0l2,0l2,0l2,0l2,0l2,0l2,0l2,0l2,0l2,0l2,0l2,0l2,0l2,0l2,0l2,0l2,0l2,0l2,0l2,0l2,0l2,0l2,0l2,0l2,0l2,0l2,0l2,0l2,0l2,0l2,0l2,0l2,0l2,0l2,0l2,0l2,0l2,0l2,0l2,0l2,0l2,0l2,0l2,0l2,0l2,0l2,0l2,0l2,0l2,0l2,0l2,0l2,0l2,0l2,0l1,1l0,2l0,2l0,2l0,2l0,2l0,2l0,2l0,2l0,2l0,2l0,2l0,2l0,2l0,2l0,2l0,2l0,2l0,2l0,2l0,2l-2,0.9l-2,1.1l-1.5,1l-1.3,1l-1.4,1l-1.4,1l-1.4,1l-1.4,1l-1.3,1l-1.3,0.9l-1.4,1.1l-1.3,1l-1.3,1l-1.2,1l-1.2,1l-1.3,1l-1.3,1l-1.5,1l-1.5,1l-1.7,1l-1.3,0.8l-2,1.1l-1.8,1.1l-1.8,1l-1.4,0.8l-2,1l-2,0.9l-2,0.7l-1.8,0.6l-2.2,0.6l-2,0.6l-2,0.6l-2,0.5l-2,0.6l-2,0.6l-1.8,0.5l-2.2,0.6l-2,0.6l-2,0.6l-2,0.5l-2,0.6l-2,0.6l-1.8,0.5l-2.2,0.6l-2,0.6l-2,0.5l-2,0.5l-2,0.5l-2,0.4l-2,0.5l-2,0.4l-2,0.4l-2,0.5l-2,0.4l-2,0.5l-2,0.4l-2,0.4l-1.6,0.4l-2.4,0.5l-2,0.5l-2,0.4l-2,0.4l-2,0.5l-2,0.4l-2,0.4l-2,0.4l-2,0.3l-2,0.4l-2,0.3l-2,0.3l-2,0.3l-2,0.3l-2,0.3l-2,0.3l-2,0.4l-2,0.3l-2,0.3l-2,0.3l-2,0.3l-2,0.3l-2,0.4l-2,0.3l-2,0.3l-2,0.3l-2,0.3l-2,0.4l-2,0.5l-2,1.2l-1,1l-1,1.3l-1,1.2l-1.1,0.9l-1.7,1l-1.9,1l-2,1l-2,1l-2,1l-2,1l-2,1l-2,1l-2,1l-2,1l-2,1l-2.1,1l-2.2,0.9l-2,0.5l0-2.4l0-2l0-2l0-2l0-2l0-2l0-2l0-2l0-2l0-2l0-2l0-2l0-2l0-2l0-2l0-2l0-2l0-2l0-2l0-2l0-2l0-2l0-2l0-2l0-2l0-2l0-2l0-2l0-2l0-2l0-2l0-2l0-2l0-2l0-2l0-2l0-2l0-2l0-2l0-2l0-2l0-2l0-2l0-2l0-2l0-2l0-2l0-2l0-2l0-2l0-2l0-2l0-2l0-2l0-2l0-2Z" fill="#3e00f6"/>
<path d="M120,705l2,0l2,0l2,0l2,0l2,0l2,0l2,0l2,0l2,0l2,0l2,0l2,0l2,0l2,0l2,0l2,0l2,0l2,0l2,0l2,0l2,0l2,0l2,0l2,0l2,0l2,0l2,0l2,0l2,0l2,0l2,0l2,0l2,0l2,0l2,0l2,0l2,0l2,0l2,0l2,0l2,0l2,0l2,0l2,0l2,0l2,0l2,0l2,0l2,0l2,0l2,0l2,0l2,0l2,0l2,0l2,0l2,0l2,0l2,0l2,0l2,0l2,0l2,0l2,0l2,0l2,0l2,0l2,0l2,0l2,0l2,0l2,0l2,0l2,0l2,0l2,0l2,0l2,0l2,0l2,0l2,0l2,0l2,0l2,0l2,0l2,0l2,0l2,0l2,0l2,0l2,0l2,0l2,0l2,0l2,0l2,0l2,0l1,1l0,2l0,2l0,2l0,2l0,2l0,2l0,2l0,2l0,2l0,2l0,2l0,2l0,2l0,2l0,2l0,2l0,2l0,2l-0.7,2l-2.3,1l-1.7,1l-1.3,0.9l-1.5,1.1l-1.4,1l-1.5,1l-1.3,1l-1.3,0.9l-1.5,1.1l-1.3,1l-1.2,0.9l-1.4,1.1l-1.2,1l-1.2,1l-1.2,1l-1.1,1l-1.3,1l-1.3,1l-1.3,0.9l-1.7,1.1l-1.3,0.8l-1.9,1.2l-1.6,1l-1.5,0.9l-1.9,1.1l-1.8,1l-2.2,1l-2.1,0.8l-2,0.6l-1.9,0.6l-2.1,0.6l-2,0.6l-2,0.6l-2,0.5l-2,0.6l-2,0.6l-1.8,0.5l-2.2,0.6l-2,0.6l-2,0.6l-2,0.6l-2,0.5l-2,0.6l-1.7,0.5l-2.3,0.6l-2,0.6l-2,0.5l-2,0.4l-2,0.5l-1.8,0.4l-2.2,0.5l-2,0.4l-2,0.5l-2,0.4l-2,0.5l-2,0.4l-2,0.4l-2,0.5l-1.9,0.4l-2.1,0.5l-2,0.4l-2,0.5l-2,0.4l-2,0.4l-2,0.5l-1.8,0.3l-2.2,0.4l-2,0.3l-1.9,0.3l-2.1,0.3l-2,0.3l-2,0.4l-2,0.3l-2,0.3l-2,0.3l-2,0.3l-2,0.3l-2,0.3l-2,0.4l-2,0.3l-2,0.3l-2,0.3l-2,0.3l-2,0.3l-2,0.4l-2,0.3l-2,0.4l-2,0.8l-1.8,1.4l-1.2,1.3l-1.9,1.7l-1.6,1l-1.5,0.8l-2,1l-2,1l-2,1l-2,1l-2,1l-2,1l-2,1l-2,1l-2,1l-2,0.9l-2,0.9l-2,0.4l0-3l0-2l0-2l0-2l0-2l0-2l0-2l0-2l0-2l0-2l0-2l0-2l0-2l0-2l0-2l0-2l0-2l0-2l0-2l0-2l0-2l0-2l0-2l0-2l0-2l0-2l0-2l0-2l0-2l0-2l0-2l0-2l0-2l0-2l0-2l0-2l0-2l0-2l0-2l0-2l0-2l0-2l0-2l0-2l0-2l0-2l0-2l0-2l0-2l0-2l0-2l0-2l0-2l0-2l0-2Z" fill="#3300f8"/>
<path d="M120,705l2,0l2,0l2,0l2,0l2,0l2,0l2,0l2,0l2,0l2,0l2,0l2,0l2,0l2,0l2,0l2,0l2,0l2,0l2,0l2,0l2,0l2,0l2,0l2,0l2,0l2,0l2,0l2,0l2,0l2,0l2,0l2,0l2,0l2,0l2,0l2,0l2,0l2,0l2,0l2,0l2,0l2,0l2,0l2,0l2,0l2,0l2,0l2,0l2,0l2,0l2,0l2,0l2,0l2,0l2,0l2,0l2,0l2,0l2,0l2,0l2,0l2,0l2,0l2,0l2,0l2,0l2,0l2,0l2,0l2,0l2,0l2,0l2,0l2,0l2,0l2,0l2,0l2,0l2,0l2,0l2,0l2,0l2,0l2,0l2,0l2,0l2,0l2,0l2,0l2,0l2,0l2,0l2,0l2,0l2,0l2,0l2,0l1,1l0,2l0,2l0,2l0,2l0,2l0,2l0,2l0,2l0,2l0,2l0,2l0,2l0,2l0,2l0,2l0,2l0,2l-1.2,1l-1.8,1l-1.5,1l-1.4,1l-1.4,1l-1.4,1l-1.3,1l-1.4,1l-1.3,1l-1.3,1l-1.4,1l-1.3,1l-1.2,1l-1.3,1l-1.2,1l-1.1,1l-1.1,1l-1.1,1l-1.1,1l-1.2,1l-1.4,1l-1.4,1l-1.2,0.8l-1.8,1.2l-1.2,0.8l-1.9,1.2l-1.6,1l-1.5,0.9l-2,1.1l-2,0.8l-2,0.7l-1.6,0.5l-2.4,0.7l-2,0.6l-2,0.6l-2,0.6l-1.9,0.5l-2.1,0.6l-2,0.6l-2,0.6l-2,0.6l-2,0.5l-2,0.6l-1.7,0.5l-2.3,0.7l-2,0.6l-2,0.5l-2,0.6l-2,0.5l-2,0.5l-2,0.5l-2,0.4l-2,0.4l-2,0.5l-2,0.4l-2,0.5l-2,0.4l-2,0.5l-2,0.4l-2,0.5l-2,0.4l-2,0.5l-2,0.4l-2,0.5l-2,0.4l-2,0.4l-2,0.5l-2,0.4l-2,0.3l-2,0.4l-2,0.3l-2,0.3l-1.9,0.3l-2.1,0.3l-2,0.4l-2,0.3l-2,0.3l-2,0.3l-2,0.3l-2,0.3l-2,0.3l-2,0.4l-2,0.3l-2,0.3l-2,0.3l-2,0.3l-2,0.4l-2,0.3l-2,0.3l-2,0.4l-2,0.8l-2,1.5l-1.4,1.2l-1.3,1l-1.3,0.8l-2,1.1l-2,1l-2,1l-2,1l-2,1l-2,1l-2,1l-2,1l-2,1l-2,0.9l-2,1l-2,0.6l-1-1.4l0-2l0-2l0-2l0-2l0-2l0-2l0-2l0-2l0-2l0-2l0-2l0-2l0-2l0-2l0-2l0-2l0-2l0-2l0-2l0-2l0-2l0-2l0-2l0-2l0-2l0-2l0-2l0-2l0-2l0-2l0-2l0-2l0-2l0-2l0-2l0-2l0-2l0-2l0-2l0-2l0-2l0-2l0-2l0-2l0-2l0-2l0-2l0-2l0-2l0-2l0-2l0-2l0-2Z" fill="#2800fa"/>
<path d="M120,705l2,0l2,0l2,0l2,0l2,0l2,0l2,0l2,0l2,0l2,0l2,0l2,0l2,0l2,0l2,0l2,0l2,0l2,0l2,0l2,0l2,0l2,0l2,0l2,0l2,0l2,0l2,0l2,0l2,0l2,0l2,0l2,0l2,0l2,0l2,0l2,0l2,0l2,0l2,0l2,0l2,0l2,0l2,0l2,0l2,0l2,0l2,0l2,0l2,0l2,0l2,0l2,0l2,0l2,0l2,0l2,0l2,0l2,0l2,0l2,0l2,0l2,0l2,0l2,0l2,0l2,0l2,0l2,0l2,0l2,0l2,0l2,0l2,0l2,0l2,0l2,0l2,0l2,0l2,0l2,0l2,0l2,0l2,0l2,0l2,0l2,0l2,0l2,0l2,0l2,0l2,0l2,0l2,0l2,0l2,0l2,0l2,0l1,1l0,2l0,2l0,2l0,2l0,2l0,2l0,2l0,2l0,2l0,2l0,2l0,2l0,2l0,2l0,2l0,2l-2,0.8l-1.8,1.2l-1.5,1l-1.3,1l-1.4,1l-1.4,1l-1.3,1l-1.3,1l-1.4,1l-1.3,1l-1.3,1l-1.3,1l-1.3,1l-1.3,1l-1.1,0.9l-1.2,1.1l-1.1,1l-1,1l-1,1l-1.1,1l-1.3,1l-1.3,1l-1.3,1l-1.4,1l-1.3,0.9l-1.7,1.1l-1.3,0.9l-1.7,1.1l-1.3,0.8l-2,1l-2,0.8l-2,0.6l-2,0.6l-2,0.6l-2,0.6l-2,0.6l-2,0.6l-2,0.6l-2,0.5l-2,0.6l-2,0.6l-1.6,0.5l-2.4,0.7l-2,0.6l-2,0.6l-2,0.5l-1.9,0.6l-2.1,0.6l-2,0.5l-2,0.6l-2,0.4l-2,0.5l-1.9,0.4l-2.1,0.5l-2,0.4l-2,0.5l-2,0.4l-2,0.5l-2,0.4l-2,0.5l-2,0.4l-1.7,0.4l-2.3,0.5l-2,0.5l-2,0.4l-2,0.5l-2,0.4l-2,0.4l-2,0.4l-2,0.4l-2,0.3l-2,0.3l-2,0.3l-2,0.3l-2,0.4l-2,0.3l-2,0.3l-2,0.3l-2,0.3l-2,0.3l-2,0.4l-2,0.3l-2,0.3l-2,0.3l-2,0.3l-2,0.4l-2,0.3l-2,0.3l-2,0.3l-2,0.4l-2,0.4l-1.9,0.7l-1.7,1l-1.3,1l-1.5,1l-1.6,0.9l-2,1.1l-2,1l-2,1l-2,1l-2,1l-2,1l-2,1l-2,1l-2,1l-2,0.9l-2,0.9l-2,0.4l0-2.2l0-2l0-2l0-2l0-2l0-2l0-2l0-2l0-2l0-2l0-2l0-2l0-2l0-2l0-2l0-2l0-2l0-2l0-2l0-2l0-2l0-2l0-2l0-2l0-2l0-2l0-2l0-2l0-2l0-2l0-2l0-2l0-2l0-2l0-2l0-2l0-2l0-2l0-2l0-2l0-2l0-2l0-2l0-2l0-2l0-2l0-2l0-2l0-2l0-2l0-2l0-2l0-2Z" fill="#1d00fb"/>
<path d="M120,705l2,0l2,0l2,0l2,0l2,0l2,0l2,0l2,0l2,0l2,0l2,0l2,0l2,0l2,0l2,0l2,0l2,0l2,0l2,0l2,0l2,0l2,0l2,0l2,0l2,0l2,0l2,0l2,0l2,0l2,0l2,0l2,0l2,0l2,0l2,0l2,0l2,0l2,0l2,0l2,0l2,0l2,0l2,0l2,0l2,0l2,0l2,0l2,0l2,0l2,0l2,0l2,0l2,0l2,0l2,0l2,0l2,0l2,0l2,0l2,0l2,0l2,0l2,0l2,0l2,0l2,0l2,0l2,0l2,0l2,0l2,0l2,0l2,0l2,0l2,0l2,0l2,0l2,0l2,0l2,0l2,0l2,0l2,0l2,0l2,0l2,0l2,0l2,0l2,0l2,0l2,0l2,0l2,0l2,0l2,0l2,0l2,0l1,1l0,2l0,2l0,2l0,2l0,2l0,2l0,2l0,2l0,2l0,2l0,2l0,2l0,2l0,2l0,2l-2,0.7l-2,1.2l-1.6,1.1l-1.4,1l-1.4,1l-1.4,1l-1.2,0.9l-1.6,1.1l-1.3,1l-1.4,1l-1.4,1l-1.3,1l-1.4,1l-1.3,1l-1.3,1l-1.1,1l-1,1l-1.9,1.9l-1.1,1.1l-1.1,1l-1.2,1l-1.3,1l-1.3,1l-1.4,1l-1.3,1l-1.3,0.9l-1.6,1.1l-1.4,0.9l-2,1.1l-2,0.8l-2,0.7l-1.5,0.5l-2.5,0.7l-2,0.6l-2,0.6l-2,0.6l-1.7,0.5l-2.3,0.7l-2,0.6l-2,0.6l-2,0.6l-1.8,0.5l-2.2,0.6l-2,0.6l-2,0.6l-2,0.6l-2,0.6l-2,0.5l-1.8,0.5l-2.2,0.5l-2,0.5l-2,0.4l-2,0.5l-2,0.4l-2,0.5l-2,0.5l-2,0.4l-2,0.5l-2,0.4l-1.7,0.4l-2.3,0.5l-2,0.5l-2,0.4l-2,0.5l-2,0.4l-2,0.5l-2,0.4l-2,0.4l-2,0.3l-2,0.4l-2,0.3l-2,0.3l-2,0.3l-2,0.3l-2,0.4l-2,0.3l-2,0.3l-2,0.3l-2,0.3l-2,0.3l-2,0.4l-2,0.3l-2,0.3l-2,0.3l-2,0.3l-2,0.4l-2,0.3l-1.9,0.3l-2.1,0.3l-2,0.4l-2,0.6l-1.8,0.7l-1.7,1l-1.5,0.9l-2,1.1l-2,1l-2,1l-2,1l-2,1l-2,1l-2,1l-2,1l-2,1l-2,1l-2,0.9l-2,0.7l-1-1.6l0-2l0-2l0-2l0-2l0-2l0-2l0-2l0-2l0-2l0-2l0-2l0-2l0-2l0-2l0-2l0-2l0-2l0-2l0-2l0-2l0-2l0-2l0-2l0-2l0-2l0-2l0-2l0-2l0-2l0-2l0-2l0-2l0-2l0-2l0-2l0-2l0-2l0-2l0-2l0-2l0-2l0-2l0-2l0-2l0-2l0-2l0-2l0-2l0-2l0-2l0-2Z" fill="#1200fd"/>
<path d="M120,705l2,0l2,0l2,0l2,0l2,0l2,0l2,0l2,0l2,0l2,0l2,0l2,0l2,0l2,0l2,0l2,0l2,0l2,0l2,0l2,0l2,0l2,0l2,0l2,0l2,0l2,0l2,0l2,0l2,0l2,0l2,0l2,0l2,0l2,0l2,0l2,0l2,0l2,0l2,0l2,0l2,0l2,0l2,0l2,0l2,0l2,0l2,0l2,0l2,0l2,0l2,0l2,0l2,0l2,0l2,0l2,0l2,0l2,0l2,0l2,0l2,0l2,0l2,0l2,0l2,0l2,0l2,0l2,0l2,0l2,0l2,0l2,0l2,0l2,0l2,0l2,0l2,0l2,0l2,0l2,0l2,0l2,0l2,0l2,0l2,0l2,0l2,0l2,0l2,0l2,0l2,0l2,0l2,0l2,0l2,0l2,0l2,0l1,1l0,2l0,2l0,2l0,2l0,2l0,2l0,2l0,2l0,2l0,2l0,2l0,2l0,2l-0.4,2l-2.6,0.9l-1.8,1.1l-1.2,0.8l-1.7,1.2l-1.3,0.9l-1.5,1.1l-1.5,1l-1.4,1l-1.4,1l-1.2,0.9l-1.6,1.1l-1.3,1l-1.4,1l-1.3,1l-1.3,1l-1.1,0.9l-1.1,1.1l-1.9,2l-1,1.1l-2,1.9l-1.2,1l-1.3,1l-1.2,1l-1.3,1l-1.4,1l-1.4,1l-1.2,0.8l-1.9,1.2l-2.1,1l-2,0.7l-2,0.6l-2,0.7l-2,0.6l-2,0.6l-2,0.6l-2,0.6l-2,0.6l-2,0.6l-2,0.6l-2,0.6l-2,0.6l-2,0.6l-2,0.5l-2,0.6l-2,0.6l-2,0.6l-2,0.6l-2,0.5l-2,0.5l-2,0.5l-2,0.4l-2,0.5l-2,0.4l-2,0.5l-2,0.4l-2,0.5l-2,0.5l-1.9,0.4l-2.1,0.5l-2,0.4l-2,0.5l-2,0.5l-2,0.4l-2,0.5l-2,0.4l-2,0.4l-1.9,0.4l-2.1,0.4l-2,0.3l-1.8,0.3l-2.2,0.3l-2,0.4l-2,0.3l-2,0.3l-2,0.3l-2,0.4l-2,0.3l-2,0.3l-2,0.3l-2,0.3l-2,0.4l-2,0.3l-2,0.3l-2,0.3l-2,0.4l-2,0.3l-2,0.3l-2,0.3l-2,0.4l-2,0.4l-2,0.6l-1.8,0.8l-2,1l-2.1,1l-2.1,1l-2,1l-2,0.9l-2,1l-2,0.9l-2,1l-2,1l-2,1l-2,0.9l-2,0.9l-1.6,0.4l-0.4-2l0-2l0-2l0-2l0-2l0-2l0-2l0-2l0-2l0-2l0-2l0-2l0-2l0-2l0-2l0-2l0-2l0-2l0-2l0-2l0-2l0-2l0-2l0-2l0-2l0-2l0-2l0-2l0-2l0-2l0-2l0-2l0-2l0-2l0-2l0-2l0-2l0-2l0-2l0-2l0-2l0-2l0-2l0-2l0-2l0-2l0-2l0-2l0-2l0-2Z" fill="#0802ff"/>
<path d="M120,705l2,0l2,0l2,0l2,0l2,0l2,0l2,0l2,0l2,0l2,0l2,0l2,0l2,0l2,0l2,0l2,0l2,0l2,0l2,0l2,0l2,0l2,0l2,0l2,0l2,0l2,0l2,0l2,0l2,0l2,0l2,0l2,0l2,0l2,0l2,0l2,0l2,0l2,0l2,0l2,0l2,0l2,0l2,0l2,0l2,0l2,0l2,0l2,0l2,0l2,0l2,0l2,0l2,0l2,0l2,0l2,0l2,0l2,0l2,0l2,0l2,0l2,0l2,0l2,0l2,0l2,0l2,0l2,0l2,0l2,0l2,0l2,0l2,0l2,0l2,0l2,0l2,0l2,0l2,0l2,0l2,0l2,0l2,0l2,0l2,0l2,0l2,0l2,0l2,0l2,0l2,0l2,0l2,0l2,0l2,0l2,0l2,0l1,1l0,2l0,2l0,2l0,2l0,2l0,2l0,2l0,2l0,2l0,2l0,2l-2,1l-1.4,1l-1.4,1l-1.2,0.9l-1.3,1.1l-1.3,1l-1.2,1l-1.2,0.9l-1.3,1.1l-1.3,1l-1.2,1l-1.2,1l-1.3,1l-1.2,1l-1.2,1l-1.3,1l-1.2,1l-1.2,1l-1.2,1l-1.1,1l-1.3,1.4l-1,1.1l-1,1.2l-1,1.1l-1,1l-1.3,1.2l-1.2,1l-1.2,1l-1.3,1l-1.2,1l-1.4,1l-1.4,1l-1.7,1l-2.2,1l-2.1,0.8l-2,0.7l-2,0.7l-2,0.6l-2,0.6l-1.9,0.6l-2.1,0.6l-2,0.7l-2,0.6l-2,0.6l-1.6,0.5l-2.4,0.7l-2,0.6l-2,0.7l-2,0.5l-2,0.6l-2,0.6l-2,0.6l-2,0.5l-2,0.5l-2,0.5l-2,0.4l-2,0.5l-2,0.5l-2,0.4l-2,0.5l-2,0.5l-1.9,0.4l-2.1,0.5l-2,0.5l-2,0.4l-2,0.5l-2,0.4l-2,0.5l-2,0.5l-2,0.4l-2,0.4l-2,0.4l-2,0.3l-2,0.4l-2,0.3l-2,0.3l-2,0.3l-2,0.4l-2,0.3l-2,0.3l-2,0.3l-2,0.4l-2,0.3l-2,0.3l-2,0.3l-2,0.4l-2,0.3l-2,0.3l-2,0.4l-2,0.3l-2,0.3l-1.9,0.3l-2.1,0.3l-2,0.4l-2,0.4l-2,0.6l-2,0.8l-2,0.8l-1.6,0.7l-1.4,0.6l-2,0.8l-1.5,0.6l-1.5,0.6l-2,0.8l-1.5,0.6l-1.5,0.6l-2,0.8l-1.5,0.6l-1.5,0.6l-2,0.7l-2,0.6l-1-1.9l0-2l0-2l0-2l0-2l0-2l0-2l0-2l0-2l0-2l0-2l0-2l0-2l0-2l0-2l0-2l0-2l0-2l0-2l0-2l0-2l0-2l0-2l0-2l0-2l0-2l0-2l0-2l0-2l0-2l0-2l0-2l0-2l0-2l0-2l0-2l0-2l0-2l0-2l0-2l0-2l0-2l0-2l0-2l0-2l0-2l0-2l0-2Z" fill="#070eff"/>
<path d="M120,705l2,0l2,0l2,0l2,0l2,0l2,0l2,0l2,0l2,0l2,0l2,0l2,0l2,0l2,0l2,0l2,0l2,0l2,0l2,0l2,0l2,0l2,0l2,0l2,0l2,0l2,0l2,0l2,0l2,0l2,0l2,0l2,0l2,0l2,0l2,0l2,0l2,0l2,0l2,0l2,0l2,0l2,0l2,0l2,0l2,0l2,0l2,0l2,0l2,0l2,0l2,0l2,0l2,0l2,0l2,0l2,0l2,0l2,0l2,0l2,0l2,0l2,0l2,0l2,0l2,0l2,0l2,0l2,0l2,0l2,0l2,0l2,0l2,0l2,0l2,0l2,0l2,0l2,0l2,0l2,0l2,0l2,0l2,0l2,0l2,0l2,0l2,0l2,0l2,0l2,0l2,0l2,0l2,0l2,0l2,0l2,0l2,0l1,1l0,2l0,2l0,2l0,2l0,2l0,2l0,2l0,2l-1,1.3l-1.4,0.7l-1.4,1l-1.2,1l-1.3,1l-1.2,1l-1.1,1l-1.2,1l-1.2,1l-1.2,1l-1.2,1l-1.2,1l-1.2,1l-1.1,1l-1.2,1l-1.2,1l-1.2,1l-1.1,1l-1.2,1l-1.1,1l-1.1,1l-1.1,1l-1.9,2l-1,1.2l-1,1.2l-1,1.3l-1,1.1l-1,1.1l-1.1,1.1l-1.1,1l-1.2,1l-1.2,1l-1.3,1l-1.3,1l-1.6,1l-1.8,1l-2.3,1l-2.1,0.9l-2,0.7l-2,0.7l-2,0.7l-2,0.6l-2,0.7l-2,0.6l-2,0.7l-2,0.7l-2,0.6l-2,0.7l-2,0.6l-2,0.6l-2,0.6l-1.8,0.6l-2.2,0.6l-2,0.6l-2,0.6l-2,0.5l-2,0.4l-2,0.5l-2,0.5l-2,0.5l-2,0.5l-2,0.5l-2,0.4l-2,0.5l-2,0.5l-1.6,0.4l-2.4,0.6l-1.8,0.4l-2.2,0.5l-2,0.5l-2,0.4l-2,0.5l-2,0.4l-2,0.4l-1.7,0.3l-2.3,0.4l-2,0.3l-1.8,0.3l-2.2,0.4l-2,0.3l-1.8,0.3l-2.2,0.4l-2,0.3l-1.9,0.3l-2.1,0.3l-2,0.4l-1.9,0.3l-2.1,0.3l-2,0.4l-1.9,0.3l-2.1,0.3l-2,0.4l-2,0.3l-2,0.3l-2,0.3l-2,0.4l-2,0.4l-2,0.5l-2,0.7l-2,0.8l-1.4,0.6l-1.6,0.6l-2,0.8l-1.8,0.6l-2.2,0.8l-2,0.7l-1.6,0.5l-2.4,0.8l-2,0.7l-2,0.7l-2,0.5l-2,0.3l0-2l0-2l0-2l0-2l0-2l0-2l0-2l0-2l0-2l0-2l0-2l0-2l0-2l0-2l0-2l0-2l0-2l0-2l0-2l0-2l0-2l0-2l0-2l0-2l0-2l0-2l0-2l0-2l0-2l0-2l0-2l0-2l0-2l0-2l0-2l0-2l0-2l0-2l0-2l0-2l0-2l0-2l0-2l0-2l0-2l0-2l0-2Z" fill="#071aff"/>
<path d="M120,705l2,0l2,0l2,0l2,0l2,0l2,0l2,0l2,0l2,0l2,0l2,0l2,0l2,0l2,0l2,0l2,0l2,0l2,0l2,0l2,0l2,0l2,0l2,0l2,0l2,0l2,0l2,0l2,0l2,0l2,0l2,0l2,0l2,0l2,0l2,0l2,0l2,0l2,0l2,0l2,0l2,0l2,0l2,0l2,0l2,0l2,0l2,0l2,0l2,0l2,0l2,0l2,0l2,0l2,0l2,0l2,0l2,0l2,0l2,0l2,0l2,0l2,0l2,0l2,0l2,0l2,0l2,0l2,0l2,0l2,0l2,0l2,0l2,0l2,0l2,0l2,0l2,0l2,0l2,0l2,0l2,0l2,0l2,0l2,0l2,0l2,0l2,0l2,0l2,0l2,0l2,0l2,0l2,0l2,0l2,0l2,0l2,0l1,1l0,2l0,2l0,2l0,2l0,2l0,2l-1.5,1l-1.5,0.8l-1.6,1.2l-1.3,1l-1.1,0.9l-1.4,1.1l-1.2,1l-1.2,1l-1.2,1l-1.2,1l-1.2,1l-1.3,1l-1.2,1l-1.1,0.9l-1.3,1.1l-1.2,1l-1.2,1l-1.2,1l-1.1,0.9l-1.2,1.1l-1.2,1l-1.1,1l-1,1l-1.5,1.8l-0.9,1.2l-1.1,1.6l-1,1.4l-1,1.3l-1,1.1l-1,1.1l-1.6,1.5l-1.2,1l-1.2,1l-1.3,1l-1.4,1l-1.3,0.8l-2,1l-2,0.9l-2,0.9l-2,0.8l-1.6,0.6l-2.4,0.8l-2,0.7l-2,0.7l-2,0.7l-2,0.8l-2,0.7l-1.7,0.6l-2.3,0.8l-2,0.6l-1.8,0.6l-2.2,0.7l-2,0.6l-2,0.6l-2,0.6l-2,0.5l-2,0.5l-2,0.5l-2,0.5l-2,0.5l-2,0.5l-2,0.5l-2,0.5l-2,0.5l-2,0.5l-1.9,0.5l-2.1,0.5l-1.9,0.5l-2.1,0.5l-2,0.5l-2,0.4l-2,0.5l-2,0.4l-2,0.4l-2,0.4l-2,0.3l-2,0.3l-2,0.4l-2,0.3l-2,0.4l-2,0.3l-2,0.3l-2,0.4l-2,0.3l-2,0.4l-2,0.3l-2,0.3l-2,0.4l-2,0.3l-2,0.3l-2,0.4l-2,0.3l-2,0.4l-2,0.3l-2,0.3l-2,0.3l-2,0.4l-1.8,0.5l-2.2,0.8l-2,0.8l-2,0.9l-2,0.7l-2,0.7l-2,0.7l-2,0.7l-2,0.7l-2,0.6l-2,0.7l-2,0.7l-2,0.6l-2,0.4l-1-2l0-2l0-2l0-2l0-2l0-2l0-2l0-2l0-2l0-2l0-2l0-2l0-2l0-2l0-2l0-2l0-2l0-2l0-2l0-2l0-2l0-2l0-2l0-2l0-2l0-2l0-2l0-2l0-2l0-2l0-2l0-2l0-2l0-2l0-2l0-2l0-2l0-2l0-2l0-2l0-2l0-2l0-2l0-2l0-2l0-2Z" fill="#0624ff"/>
<path d="M120,705l2,0l2,0l2,0l2,0l2,0l2,0l2,0l2,0l2,0l2,0l2,0l2,0l2,0l2,0l2,0l2,0l2,0l2,0l2,0l2,0l2,0l2,0l2,0l2,0l2,0l2,0l2,0l2,0l2,0l2,0l2,0l2,0l2,0l2,0l2,0l2,0l2,0l2,0l2,0l2,0l2,0l2,0l2,0l2,0l2,0l2,0l2,0l2,0l2,0l2,0l2,0l2,0l2,0l2,0l2,0l2,0l2,0l2,0l2,0l2,0l2,0l2,0l2,0l2,0l2,0l2,0l2,0l2,0l2,0l2,0l2,0l2,0l2,0l2,0l2,0l2,0l2,0l2,0l2,0l2,0l2,0l2,0l2,0l2,0l2,0l2,0l2,0l2,0l2,0l2,0l2,0l2,0l2,0l2,0l2,0l2,0l2,0l1,1l0,2l0,2l0,2l0,2l-1.5,1l-1.5,0.9l-1.5,1.1l-1.3,1l-1.2,1l-1.2,1l-1.3,1l-1.3,1l-1.2,1l-1.2,1l-1.2,1l-1.2,1l-1.3,1l-1.1,0.9l-1.3,1.1l-1.2,1l-1.2,1l-1.2,1l-1.3,1l-1.2,1l-1.2,1l-1.1,1l-1.2,1l-1,1l-1.1,1.2l-1,1.3l-0.9,1.5l-1.1,1.8l-1,1.5l-1,1.4l-1,1.2l-1,1l-1.1,1.1l-1.1,1l-1.2,1l-1.3,1l-1.3,0.9l-1.8,1.1l-2.1,1l-2.1,1l-2,0.9l-2,0.8l-2,0.8l-2,0.7l-2,0.7l-2,0.8l-2,0.8l-2,0.8l-2,0.7l-2,0.7l-2,0.7l-1.7,0.6l-2.3,0.7l-2,0.6l-2,0.7l-2,0.5l-1.6,0.5l-2.4,0.6l-2,0.5l-2,0.6l-2,0.5l-2,0.5l-2,0.5l-2,0.5l-2,0.6l-2,0.5l-2,0.5l-2,0.5l-2,0.5l-2,0.6l-2,0.4l-2,0.5l-2,0.5l-2,0.4l-2,0.4l-2,0.4l-2,0.3l-2,0.3l-2,0.4l-2,0.3l-2,0.4l-2,0.3l-2,0.4l-2,0.3l-2,0.4l-2,0.3l-2,0.3l-2,0.4l-2,0.3l-2,0.4l-2,0.3l-2,0.4l-2,0.3l-2,0.4l-2,0.3l-2,0.3l-2,0.3l-1.9,0.4l-2.1,0.6l-2,0.8l-1.4,0.6l-1.6,0.7l-2,0.9l-2,0.7l-2,0.7l-2,0.6l-2,0.7l-2,0.7l-2,0.6l-2,0.7l-2,0.6l-2,0.6l-2,0.3l0-2.8l0-2l0-2l0-2l0-2l0-2l0-2l0-2l0-2l0-2l0-2l0-2l0-2l0-2l0-2l0-2l0-2l0-2l0-2l0-2l0-2l0-2l0-2l0-2l0-2l0-2l0-2l0-2l0-2l0-2l0-2l0-2l0-2l0-2l0-2l0-2l0-2l0-2l0-2l0-2l0-2l0-2l0-2l0-2l0-2Z" fill="#0531ff"/>
<path d="M120,705l2,0l2,0l2,0l2,0l2,0l2,0l2,0l2,0l2,0l2,0l2,0l2,0l2,0l2,0l2,0l2,0l2,0l2,0l2,0l2,0l2,0l2,0l2,0l2,0l2,0l2,0l2,0l2,0l2,0l2,0l2,0l2,0l2,0l2,0l2,0l2,0l2,0l2,0l2,0l2,0l2,0l2,0l2,0l2,0l2,0l2,0l2,0l2,0l2,0l2,0l2,0l2,0l2,0l2,0l2,0l2,0l2,0l2,0l2,0l2,0l2,0l2,0l2,0l2,0l2,0l2,0l2,0l2,0l2,0l2,0l2,0l2,0l2,0l2,0l2,0l2,0l2,0l2,0l2,0l2,0l2,0l2,0l2,0l2,0l2,0l2,0l2,0l2,0l2,0l2,0l2,0l2,0l2,0l2,0l2,0l2,0l2,0l1,1l-1,1.7l-2,1.2l-1.4,1.1l-1.3,1l-1.2,1l-1.3,1l-1.3,1l-1.2,1l-1.2,1l-1.3,1l-1.2,1l-1.3,1l-1.1,1l-1.2,0.9l-1.3,1.1l-1.2,1l-1.3,1l-1.2,1l-1.2,1l-1.2,1l-1.2,1l-1.2,1l-1.2,1l-1.2,1l-1.1,1l-1.1,1l-1,1l-1.6,2l-1,2l-1,2l-1,1.9l-1,1.5l-1,1.4l-1,1.1l-1,1.1l-1.1,1l-1.2,1l-1.3,1l-1.4,0.9l-1.9,1.1l-2.1,1l-2,1l-2,1l-2,0.8l-2,0.8l-2,0.8l-1.5,0.6l-1.5,0.7l-2,0.9l-2,0.8l-1.4,0.6l-1.6,0.6l-2,0.8l-1.9,0.6l-2.1,0.7l-2,0.6l-2,0.7l-2,0.6l-2,0.6l-2,0.5l-2,0.6l-2,0.5l-2,0.6l-2,0.5l-2,0.6l-2,0.5l-2,0.5l-1.7,0.5l-2.3,0.6l-2,0.6l-2,0.5l-2,0.6l-2,0.5l-2,0.4l-2,0.5l-2,0.4l-2,0.4l-2,0.4l-2,0.3l-2,0.4l-2,0.3l-2,0.4l-2,0.3l-2,0.4l-2,0.4l-2,0.3l-2,0.4l-2,0.3l-2,0.4l-2,0.3l-2,0.4l-2,0.3l-2,0.4l-2,0.4l-2,0.3l-2,0.4l-2,0.3l-2,0.3l-2,0.4l-2,0.4l-2,0.7l-2,1l-2,1.1l-2,0.9l-1.6,0.6l-2.4,0.8l-2,0.7l-2,0.7l-2,0.7l-2,0.6l-2,0.7l-2,0.6l-2,0.6l-2,0.3l0-2.7l0-2l0-2l0-2l0-2l0-2l0-2l0-2l0-2l0-2l0-2l0-2l0-2l0-2l0-2l0-2l0-2l0-2l0-2l0-2l0-2l0-2l0-2l0-2l0-2l0-2l0-2l0-2l0-2l0-2l0-2l0-2l0-2l0-2l0-2l0-2l0-2l0-2l0-2l0-2l0-2l0-2l0-2l0-2Z" fill="#053fff"/>
<path d="M120,705l2,0l2,0l2,0l2,0l2,0l2,0l2,0l2,0l2,0l2,0l2,0l2,0l2,0l2,0l2,0l2,0l2,0l2,0l2,0l2,0l2,0l2,0l2,0l2,0l2,0l2,0l2,0l2,0l2,0l2,0l2,0l2,0l2,0l2,0l2,0l2,0l2,0l2,0l2,0l2,0l2,0l2,0l2,0l2,0l2,0l2,0l2,0l2,0l2,0l2,0l2,0l2,0l2,0l2,0l2,0l2,0l2,0l2,0l2,0l2,0l2,0l2,0l2,0l2,0l2,0l2,0l2,0l2,0l2,0l2,0l2,0l2,0l2,0l2,0l2,0l2,0l2,0l2,0l2,0l2,0l2,0l2,0l2,0l2,0l2,0l2,0l2,0l2,0l2,0l2,0l2,0l2,0l2,0l2,0l-0.5,2l-1.5,1.6l-1.6,1.4l-1.2,1l-1.2,1l-1.3,1l-1.2,1l-1.3,1l-1.2,1l-1.2,1l-1.2,1l-1.2,1l-1.3,1l-1.1,0.9l-1.3,1.1l-1.3,1l-1.1,1l-1.2,1l-1.2,1l-1.3,1l-1.1,1l-1.2,1l-1.1,1l-1,1l-1.2,1.5l-0.8,1.5l-0.9,2l-0.9,2l-1,2l-1.3,2l-1.1,1.5l-1,1.1l-1.4,1.4l-1.2,1l-1.4,1l-1.6,1l-1.4,0.7l-2,1.1l-2,1l-2,1l-2,0.9l-2,0.8l-2,0.9l-1.4,0.6l-1.6,0.8l-2,0.9l-2,0.9l-2,0.8l-2,0.8l-2,0.7l-2,0.7l-2,0.7l-2,0.6l-2,0.6l-1.6,0.5l-2.4,0.7l-2,0.5l-2,0.6l-2,0.6l-2,0.5l-2,0.6l-1.7,0.5l-2.3,0.6l-2,0.6l-2,0.6l-2,0.5l-2,0.6l-2,0.6l-2,0.5l-2,0.4l-2,0.5l-2,0.4l-2,0.4l-1.7,0.3l-2.3,0.4l-2,0.4l-2,0.3l-2,0.4l-2,0.4l-2,0.3l-2,0.4l-2,0.4l-2,0.3l-2,0.4l-1.8,0.3l-2.2,0.4l-2,0.4l-2,0.3l-2,0.4l-2,0.4l-2,0.3l-2,0.4l-2,0.3l-2,0.3l-2,0.4l-2,0.5l-2,0.9l-1.7,1l-1.3,0.8l-2,1l-2,0.8l-2,0.7l-2,0.7l-2,0.7l-2,0.6l-2,0.7l-2,0.7l-2,0.6l-2,0.6l-2,0.3l0-2.2l0-2l0-2l0-2l0-2l0-2l0-2l0-2l0-2l0-2l0-2l0-2l0-2l0-2l0-2l0-2l0-2l0-2l0-2l0-2l0-2l0-2l0-2l0-2l0-2l0-2l0-2l0-2l0-2l0-2l0-2l0-2l0-2l0-2l0-2l0-2l0-2l0-2l0-2l0-2l0-2l0-2l0-2Z" fill="#044bff"/>
<path d="M120,705l2,0l2,0l2,0l2,0l2,0l2,0l2,0l2,0l2,0l2,0l2,0l2,0l2,0l2,0l2,0l2,0l2,0l2,0l2,0l2,0l2,0l2,0l2,0l2,0l2,0l2,0l2,0l2,0l2,0l2,0l2,0l2,0l2,0l2,0l2,0l2,0l2,0l2,0l2,0l2,0l2,0l2,0l2,0l2,0l2,0l2,0l2,0l2,0l2,0l2,0l2,0l2,0l2,0l2,0l2,0l2,0l2,0l2,0l2,0l2,0l2,0l2,0l2,0l2,0l2,0l2,0l2,0l2,0l2,0l2,0l2,0l2,0l2,0l2,0l2,0l2,0l2,0l2,0l2,0l2,0l2,0l2,0l2,0l2,0l2,0l2,0l2,0l2,0l2,0l2,0l2,0l-0.8,2l-1.1,1l-1.1,1l-1.2,1l-1.3,1l-1.2,1l-1.2,1l-1.2,1l-1.2,1l-1.3,1l-1.2,1l-1.2,1l-1.3,1l-1.2,1l-1.2,1l-1.2,1l-1.2,1l-1.2,1l-1.2,1l-1.2,1l-1.1,1l-1.2,1.3l-1,1.5l-1,2.2l-0.7,2l-0.8,2l-1,2l-1.2,2l-1.3,1.7l-1,1.1l-1.2,1.2l-1.3,1l-1.5,1l-1.8,1l-1.8,1l-1.4,0.8l-2,1.1l-2,0.9l-2,0.9l-2,0.9l-2,1l-2,1.1l-2,1l-2,0.9l-2,0.9l-2,0.7l-2,0.7l-2,0.7l-2,0.6l-2,0.7l-2,0.6l-1.6,0.5l-2.4,0.7l-2,0.6l-2,0.6l-2,0.6l-1.8,0.5l-2.2,0.7l-2,0.5l-2,0.6l-2,0.6l-2,0.6l-2,0.6l-2,0.6l-2,0.5l-2,0.5l-2,0.5l-2,0.4l-2,0.4l-2,0.3l-2,0.4l-2,0.4l-2,0.4l-2,0.3l-2,0.4l-2,0.4l-2,0.3l-2,0.4l-2,0.4l-2,0.4l-2,0.3l-2,0.4l-2,0.4l-1.8,0.3l-2.2,0.4l-2,0.4l-2,0.4l-2,0.3l-2,0.4l-2,0.3l-2,0.4l-1.8,0.4l-2.2,0.9l-1.7,1.1l-1.3,0.9l-1.9,1.1l-2.1,0.9l-2,0.8l-2,0.6l-2,0.7l-2,0.7l-2,0.7l-1.9,0.6l-2.1,0.7l-2,0.6l-2,0.3l0-2.6l0-2l0-2l0-2l0-2l0-2l0-2l0-2l0-2l0-2l0-2l0-2l0-2l0-2l0-2l0-2l0-2l0-2l0-2l0-2l0-2l0-2l0-2l0-2l0-2l0-2l0-2l0-2l0-2l0-2l0-2l0-2l0-2l0-2l0-2l0-2l0-2l0-2l0-2l0-2l0-2l0-2Z" fill="#0357ff"/>
<path d="M120,705l2,0l2,0l2,0l2,0l2,0l2,0l2,0l2,0l2,0l2,0l2,0l2,0l2,0l2,0l2,0l2,0l2,0l2,0l2,0l2,0l2,0l2,0l2,0l2,0l2,0l2,0l2,0l2,0l2,0l2,0l2,0l2,0l2,0l2,0l2,0l2,0l2,0l2,0l2,0l2,0l2,0l2,0l2,0l2,0l2,0l2,0l2,0l2,0l2,0l2,0l2,0l2,0l2,0l2,0l2,0l2,0l2,0l2,0l2,0l2,0l2,0l2,0l2,0l2,0l2,0l2,0l2,0l2,0l2,0l2,0l2,0l2,0l2,0l2,0l2,0l2,0l2,0l2,0l2,0l2,0l2,0l2,0l2,0l2,0l2,0l2,0l2,0l0.2,2l-1.2,1.2l-2,1.8l-1.2,1l-1.2,1l-1.2,1l-1.3,1l-1.1,0.9l-1.3,1.1l-1.2,1l-1.2,1l-1.2,1l-1.1,0.9l-1.3,1.1l-1.1,1l-1.2,1l-1,1l-1.4,1.7l-0.7,1.3l-0.8,2l-0.5,1.5l-0.9,2.5l-0.9,2l-1,2l-1.2,1.8l-0.9,1.2l-1.1,1.2l-2,1.6l-1.8,1.2l-1.7,1l-1.5,0.8l-2,1.2l-1.9,1l-2,1l-2.1,1l-1.9,1l-1.8,1l-1.3,0.7l-2,1.1l-2,0.9l-2,0.9l-2,0.7l-1.9,0.7l-2.1,0.7l-2,0.6l-2,0.7l-2,0.6l-2,0.6l-2,0.6l-2,0.7l-1.8,0.5l-2.2,0.7l-2,0.6l-2,0.6l-2,0.6l-1.6,0.5l-2.4,0.7l-2,0.6l-2,0.7l-2,0.5l-1.8,0.5l-2.2,0.5l-2,0.4l-2,0.4l-2,0.4l-2,0.4l-2,0.4l-2,0.4l-2,0.3l-2,0.4l-2,0.4l-2,0.4l-2,0.4l-2,0.3l-2,0.4l-2,0.4l-2,0.4l-2,0.4l-1.8,0.3l-2.2,0.4l-2,0.4l-2,0.4l-2,0.3l-2,0.4l-2,0.3l-2,0.4l-1.7,0.4l-2.3,0.9l-1.6,1.1l-1.3,1l-1.5,1l-1.6,0.9l-2,0.8l-2,0.7l-1.6,0.6l-2.4,0.8l-2,0.7l-2,0.7l-2,0.7l-2,0.6l-2,0.5l-1-2l0-2l0-2l0-2l0-2l0-2l0-2l0-2l0-2l0-2l0-2l0-2l0-2l0-2l0-2l0-2l0-2l0-2l0-2l0-2l0-2l0-2l0-2l0-2l0-2l0-2l0-2l0-2l0-2l0-2l0-2l0-2l0-2l0-2l0-2l0-2l0-2l0-2l0-2l0-2l0-2l0-2Z" fill="#0263ff"/>
<path d="M120,705l2,0l2,0l2,0l2,0l2,0l2,0l2,0l2,0l2,0l2,0l2,0l2,0l2,0l2,0l2,0l2,0l2,0l2,0l2,0l2,0l2,0l2,0l2,0l2,0l2,0l2,0l2,0l2,0l2,0l2,0l2,0l2,0l2,0l2,0l2,0l2,0l2,0l2,0l2,0l2,0l2,0l2,0l2,0l2,0l2,0l2,0l2,0l2,0l2,0l2,0l2,0l2,0l2,0l2,0l2,0l2,0l2,0l2,0l2,0l2,0l2,0l2,0l2,0l2,0l2,0l2,0l2,0l2,0l2,0l2,0l2,0l2,0l2,0l2,0l2,0l2,0l2,0l2,0l2,0l2,0l2,0l2,0l2,0l2,0l-0.5,2l-1.5,1.6l-1.6,1.4l-1.2,1l-1.2,1l-1.2,1l-1.2,1l-1.2,1l-1.2,1l-1.2,1l-1.2,1l-1.2,1l-1.1,1l-1,1l-1.5,1.9l-0.9,2.1l-0.6,2l-0.5,1.7l-0.8,2.3l-0.9,2l-1,2l-1.3,2l-1,1.3l-1,1l-2,1.6l-1.8,1.1l-1.6,1l-1.6,1l-1.8,1l-1.8,1l-1.4,0.7l-2,1.1l-2,1.2l-1.8,1l-1.7,1l-1.5,0.8l-2,1l-2,0.8l-2,0.7l-1.9,0.7l-2.1,0.7l-2,0.7l-1.9,0.6l-2.1,0.7l-2,0.6l-2,0.6l-2,0.7l-2,0.6l-2,0.6l-2,0.7l-1.7,0.5l-2.3,0.7l-2,0.7l-2,0.6l-2,0.6l-2,0.6l-2,0.6l-2,0.5l-2,0.4l-2,0.4l-2,0.4l-2,0.4l-2,0.4l-2,0.4l-1.7,0.3l-2.3,0.4l-2,0.4l-2,0.4l-2,0.4l-2,0.4l-2,0.4l-2,0.4l-2,0.4l-2,0.3l-2,0.4l-2,0.4l-2,0.4l-2,0.4l-2,0.4l-2,0.4l-2,0.3l-2,0.4l-1.9,0.4l-2.1,0.8l-1.8,1.2l-1.1,1l-1.3,1l-1.5,1l-2.1,1l-2.2,0.9l-2,0.7l-2,0.7l-1.9,0.7l-2.1,0.8l-2,0.7l-1.6,0.5l-2.4,0.6l-1-1.6l0-2l0-2l0-2l0-2l0-2l0-2l0-2l0-2l0-2l0-2l0-2l0-2l0-2l0-2l0-2l0-2l0-2l0-2l0-2l0-2l0-2l0-2l0-2l0-2l0-2l0-2l0-2l0-2l0-2l0-2l0-2l0-2l0-2l0-2l0-2l0-2l0-2l0-2l0-2l0-2Z" fill="#026fff"/>
<path d="M120,705l2,0l2,0l2,0l2,0l2,0l2,0l2,0l2,0l2,0l2,0l2,0l2,0l2,0l2,0l2,0l2,0l2,0l2,0l2,0l2,0l2,0l2,0l2,0l2,0l2,0l2,0l2,0l2,0l2,0l2,0l2,0l2,0l2,0l2,0l2,0l2,0l2,0l2,0l2,0l2,0l2,0l2,0l2,0l2,0l2,0l2,0l2,0l2,0l2,0l2,0l2,0l2,0l2,0l2,0l2,0l2,0l2,0l2,0l2,0l2,0l2,0l2,0l2,0l2,0l2,0l2,0l2,0l2,0l2,0l2,0l2,0l2,0l2,0l2,0l2,0l2,0l2,0l2,0l2,0l2,0l2,0l-0.4,2l-1,1l-1.2,1l-1.2,1l-1.1,1l-1.2,1l-1.3,1l-1.2,1l-1.2,1l-1.1,1l-1.1,0.9l-1.1,1.1l-0.9,1.1l-1,1.9l-0.7,2l-0.5,2l-0.5,2l-0.8,2l-0.9,2l-1,2l-1.1,2l-1.5,1.9l-1.3,1.1l-1.3,1l-1.4,0.9l-1.7,1.1l-1.3,0.8l-2,1.2l-1.7,1l-1.3,0.7l-2,1.2l-1.7,1.1l-1.3,0.8l-2,1.2l-1.9,1l-2,1l-2.1,0.8l-2,0.8l-2,0.6l-2,0.7l-2,0.7l-2,0.7l-2,0.6l-2,0.7l-2,0.6l-2,0.7l-2,0.6l-2,0.7l-2,0.6l-2,0.7l-1.5,0.5l-2.5,0.8l-2,0.7l-1.7,0.5l-2.3,0.7l-2,0.5l-2,0.5l-1.7,0.3l-2.3,0.5l-2,0.4l-2,0.4l-2,0.4l-1.8,0.3l-2.2,0.4l-2,0.4l-2,0.4l-2,0.4l-1.9,0.4l-2.1,0.4l-2,0.4l-2,0.4l-2,0.4l-2,0.4l-2,0.4l-2,0.4l-2,0.4l-2,0.4l-2,0.4l-2,0.3l-2,0.4l-2,0.4l-2,0.7l-1.8,1.2l-1,1l-1.1,1l-1.1,1l-1.7,1l-2.1,1l-2.2,0.8l-2,0.8l-2,0.8l-1.7,0.6l-2.3,0.9l-2,0.7l-2,0.6l-2,0.3l0-2.5l0-2l0-2l0-2l0-2l0-2l0-2l0-2l0-2l0-2l0-2l0-2l0-2l0-2l0-2l0-2l0-2l0-2l0-2l0-2l0-2l0-2l0-2l0-2l0-2l0-2l0-2l0-2l0-2l0-2l0-2l0-2l0-2l0-2l0-2l0-2l0-2l0-2l0-2l0-2Z" fill="#017cff"/>
<path d="M120,705l2,0l2,0l2,0l2,0l2,0l2,0l2,0l2,0l2,0l2,0l2,0l2,0l2,0l2,0l2,0l2,0l2,0l2,0l2,0l2,0l2,0l2,0l2,0l2,0l2,0l2,0l2,0l2,0l2,0l2,0l2,0l2,0l2,0l2,0l2,0l2,0l2,0l2,0l2,0l2,0l2,0l2,0l2,0l2,0l2,0l2,0l2,0l2,0l2,0l2,0l2,0l2,0l2,0l2,0l2,0l2,0l2,0l2,0l2,0l2,0l2,0l2,0l2,0l2,0l2,0l2,0l2,0l2,0l2,0l2,0l2,0l2,0l2,0l2,0l2,0l2,0l2,0l0.1,2l-1.1,1.3l-1.9,1.7l-1.2,1l-1.2,1l-1.1,1l-1,1l-1.6,1.9l-0.9,2.1l-0.6,2l-0.4,2l-0.6,2l-0.5,1.6l-1,2.4l-1,2l-1,2l-1,1.6l-1,1.2l-1.3,1.2l-1.4,1l-1.3,1l-1.5,1l-1.5,1l-1.6,1l-1.4,0.9l-1.8,1.1l-1.2,0.8l-1.8,1.2l-1.5,1l-1.7,1l-1.7,1l-2.2,1l-2.1,0.8l-2,0.7l-2,0.7l-2,0.7l-2,0.7l-2,0.7l-2,0.7l-2,0.6l-2,0.7l-2,0.7l-2,0.7l-2,0.7l-1.9,0.6l-2.1,0.7l-2,0.7l-1.8,0.6l-2.2,0.7l-2,0.7l-2,0.5l-2,0.5l-2,0.4l-2,0.4l-2,0.4l-1.9,0.4l-2.1,0.4l-2,0.4l-2,0.4l-2,0.4l-1.8,0.4l-2.2,0.5l-2,0.4l-2,0.4l-2,0.4l-1.7,0.3l-2.3,0.5l-2,0.4l-2,0.4l-2,0.4l-2,0.4l-2,0.4l-2,0.4l-2,0.4l-2,0.4l-2,0.4l-2,0.6l-2,1.2l-1.1,1.1l-1.9,2l-1.2,1l-1.8,1l-2,0.9l-2,0.8l-2,0.8l-2,0.8l-1.8,0.7l-2.2,0.8l-2,0.7l-1.9,0.5l-1.1-1l0-2l0-2l0-2l0-2l0-2l0-2l0-2l0-2l0-2l0-2l0-2l0-2l0-2l0-2l0-2l0-2l0-2l0-2l0-2l0-2l0-2l0-2l0-2l0-2l0-2l0-2l0-2l0-2l0-2l0-2l0-2l0-2l0-2l0-2l0-2l0-2l0-2l0-2l0-2Z" fill="#0088ff"/>
<path d="M120,705l2,0l2,0l2,0l2,0l2,0l2,0l2,0l2,0l2,0l2,0l2,0l2,0l2,0l2,0l2,0l2,0l2,0l2,0l2,0l2,0l2,0l2,0l2,0l2,0l2,0l2,0l2,0l2,0l2,0l2,0l2,0l2,0l2,0l2,0l2,0l2,0l2,0l2,0l2,0l2,0l2,0l2,0l2,0l2,0l2,0l2,0l2,0l2,0l2,0l2,0l2,0l2,0l2,0l2,0l2,0l2,0l2,0l2,0l2,0l2,0l2,0l2,0l2,0l2,0l2,0l2,0l2,0l2,0l2,0l2,0l2,0l2,0l2,0l2,0l-0.6,2l-1.1,1l-1,1l-1.3,1.5l-0.8,1.5l-0.9,2l-0.6,2l-0.5,2l-0.4,2l-0.5,2l-0.6,2l-0.7,1.6l-0.6,1.4l-1,2l-1.1,2l-1.3,1.7l-1,1.1l-1.4,1.2l-1.2,1l-1.4,1l-1.4,1l-1.4,1l-1.2,0.8l-1.7,1.2l-1.3,0.9l-1.6,1.1l-1.4,1l-1.6,1l-1.4,0.9l-2,1l-2,0.8l-2,0.7l-1.6,0.6l-2.4,0.8l-2,0.7l-2,0.7l-2,0.7l-2,0.7l-2,0.7l-2,0.7l-2,0.7l-2,0.7l-1.8,0.6l-2.2,0.8l-2,0.6l-1.6,0.6l-2.4,0.8l-2,0.7l-1.8,0.5l-2.2,0.6l-2,0.4l-2,0.4l-2,0.4l-2,0.4l-2,0.5l-1.7,0.3l-2.3,0.5l-2,0.4l-2,0.4l-2,0.4l-2,0.4l-2,0.5l-2,0.4l-2,0.4l-2,0.4l-2,0.4l-2,0.4l-2,0.4l-2,0.4l-2,0.4l-2,0.4l-2,0.4l-1.8,0.4l-2.2,0.5l-2,0.5l-2,1l-1.1,1l-1.7,2l-1.2,1.2l-2,1.4l-2,0.9l-2,0.8l-1.6,0.7l-2.4,0.9l-2,0.8l-2,0.8l-2,0.7l-2,0.5l-1-1.7l0-2l0-2l0-2l0-2l0-2l0-2l0-2l0-2l0-2l0-2l0-2l0-2l0-2l0-2l0-2l0-2l0-2l0-2l0-2l0-2l0-2l0-2l0-2l0-2l0-2l0-2l0-2l0-2l0-2l0-2l0-2l0-2l0-2l0-2l0-2l0-2l0-2l0-2Z" fill="#0095ff"/>
<path d="M120,705l2,0l2,0l2,0l2,0l2,0l2,0l2,0l2,0l2,0l2,0l2,0l2,0l2,0l2,0l2,0l2,0l2,0l2,0l2,0l2,0l2,0l2,0l2,0l2,0l2,0l2,0l2,0l2,0l2,0l2,0l2,0l2,0l2,0l2,0l2,0l2,0l2,0l2,0l2,0l2,0l2,0l2,0l2,0l2,0l2,0l2,0l2,0l2,0l2,0l2,0l2,0l2,0l2,0l2,0l2,0l2,0l2,0l2,0l2,0l2,0l2,0l2,0l2,0l2,0l2,0l2,0l2,0l2,0l2,0l2,0l0.2,2l-0.3,2l-0.3,2l-0.3,2l-0.3,1.7l-0.4,2.3l-0.4,2l-0.5,2l-0.7,2l-0.8,2l-1,2l-1.1,2l-1.1,1.5l-1,1.2l-1,1l-1.5,1.3l-1.2,1l-1.3,1l-1.3,1l-1.3,1l-1.3,1l-1.4,1l-1.3,1l-1.4,1l-1.5,1l-1.5,0.9l-2,1l-2,0.8l-2,0.8l-1.6,0.5l-2.4,0.9l-2,0.7l-2,0.7l-2,0.7l-2,0.7l-2,0.7l-1.9,0.6l-2.1,0.8l-2,0.7l-1.6,0.5l-2.4,0.9l-2,0.7l-2,0.6l-2,0.7l-2,0.7l-2,0.6l-2,0.4l-1.6,0.4l-2.4,0.5l-2,0.4l-2,0.5l-2,0.4l-2,0.4l-2,0.4l-1.7,0.4l-2.3,0.5l-2,0.4l-2,0.5l-2,0.4l-2,0.4l-2,0.4l-1.9,0.4l-2.1,0.4l-2,0.4l-2,0.5l-2,0.4l-2,0.4l-2,0.4l-2,0.4l-2,0.4l-2,0.5l-2,0.5l-1.3,0.7l-1.3,1l-1.4,1.7l-1,1.2l-1.2,1.1l-1.6,1l-2.2,1l-2,0.8l-2,0.8l-2,0.7l-1.8,0.7l-2.2,0.8l-2,0.6l-2,0.4l0-2.8l0-2l0-2l0-2l0-2l0-2l0-2l0-2l0-2l0-2l0-2l0-2l0-2l0-2l0-2l0-2l0-2l0-2l0-2l0-2l0-2l0-2l0-2l0-2l0-2l0-2l0-2l0-2l0-2l0-2l0-2l0-2l0-2l0-2l0-2l0-2l0-2l0-2Z" fill="#00a1ff"/>
<path d="M120,705l2,0l2,0l2,0l2,0l2,0l2,0l2,0l2,0l2,0l2,0l2,0l2,0l2,0l2,0l2,0l2,0l2,0l2,0l2,0l2,0l2,0l2,0l2,0l2,0l2,0l2,0l2,0l2,0l2,0l2,0l2,0l2,0l2,0l2,0l2,0l2,0l2,0l2,0l2,0l2,0l2,0l2,0l2,0l2,0l2,0l2,0l2,0l2,0l2,0l2,0l2,0l2,0l2,0l2,0l2,0l2,0l2,0l2,0l2,0l2,0l2,0l2,0l2,0l2,0l2,0l2,0l2,0l2,0l2,0l-0.1,2l-0.3,2l-0.3,2l-0.3,2l-0.4,2l-0.4,2l-0.4,2l-0.6,2l-0.8,2l-0.9,2l-1,2l-1.4,2l-1.1,1.3l-1,1l-1.8,1.7l-1.1,1l-1.2,1l-1.2,1l-1.3,1l-1.2,1l-1.2,0.9l-1.4,1.1l-1.5,1l-1.6,1l-1.5,0.8l-2,0.9l-2,0.7l-1.6,0.6l-2.4,0.8l-2,0.7l-2,0.7l-2,0.7l-2,0.7l-2,0.7l-1.9,0.7l-2.1,0.7l-2,0.7l-1.6,0.6l-2.4,0.8l-2,0.7l-2,0.7l-2,0.7l-2,0.7l-2,0.6l-2,0.5l-2,0.5l-2,0.4l-1.9,0.4l-2.1,0.5l-2,0.4l-2,0.5l-2,0.4l-2,0.4l-2,0.5l-2,0.4l-2,0.5l-2,0.4l-2,0.4l-2,0.4l-2,0.5l-2,0.4l-2,0.4l-2,0.4l-2,0.4l-2,0.4l-2,0.5l-2,0.4l-2,0.4l-1.9,0.4l-2.1,0.5l-2,0.9l-1.8,1.6l-1.2,1.4l-1,1.2l-1.9,1.4l-2.1,1l-2,0.8l-2,0.7l-2,0.7l-2,0.7l-2,0.6l-1.6,0.5l-2.4,0.4l0-2.4l0-2l0-2l0-2l0-2l0-2l0-2l0-2l0-2l0-2l0-2l0-2l0-2l0-2l0-2l0-2l0-2l0-2l0-2l0-2l0-2l0-2l0-2l0-2l0-2l0-2l0-2l0-2l0-2l0-2l0-2l0-2l0-2l0-2l0-2l0-2l0-2Z" fill="#00aeff"/>
<path d="M120,705l2,0l2,0l2,0l2,0l2,0l2,0l2,0l2,0l2,0l2,0l2,0l2,0l2,0l2,0l2,0l2,0l2,0l2,0l2,0l2,0l2,0l2,0l2,0l2,0l2,0l2,0l2,0l2,0l2,0l2,0l2,0l2,0l2,0l2,0l2,0l2,0l2,0l2,0l2,0l2,0l2,0l2,0l2,0l2,0l2,0l2,0l2,0l2,0l2,0l2,0l2,0l2,0l2,0l2,0l2,0l2,0l2,0l2,0l2,0l2,0l2,0l2,0l2,0l2,0l2,0l2,0l2,0l1.8,1l-0.2,2l-0.3,2l-0.4,2l-0.4,2l-0.4,2l-0.4,2l-0.6,2l-0.7,2l-0.9,2l-1.1,2l-1.4,1.9l-1,1.2l-1,1.1l-1.9,1.8l-1.1,1l-1.1,1l-1.1,1l-1.1,1l-1.2,1l-1.3,1l-1.2,0.9l-1.6,1.1l-1.4,0.8l-2,0.9l-2,0.8l-2,0.7l-2,0.7l-2,0.7l-2,0.7l-2,0.7l-2,0.7l-2,0.7l-1.7,0.6l-2.3,0.8l-2,0.7l-2,0.7l-2,0.7l-2,0.7l-2,0.7l-2,0.7l-2,0.7l-2,0.6l-2,0.5l-2,0.5l-2,0.4l-2,0.5l-2,0.4l-2,0.5l-2,0.5l-2,0.4l-2,0.5l-2,0.4l-2,0.5l-2,0.4l-2,0.5l-2,0.4l-2,0.4l-2,0.4l-2,0.5l-2,0.4l-2,0.4l-2,0.4l-2,0.4l-1.7,0.4l-2.3,0.5l-2,0.4l-2,0.5l-2,0.4l-2,0.7l-2,1.4l-1,1.1l-1,1.2l-1,1l-2,1.3l-2,0.9l-1.8,0.6l-2.2,0.8l-2,0.6l-1.7,0.6l-2.3,0.7l-2,0.4l-1-1.1l0-2l0-2l0-2l0-2l0-2l0-2l0-2l0-2l0-2l0-2l0-2l0-2l0-2l0-2l0-2l0-2l0-2l0-2l0-2l0-2l0-2l0-2l0-2l0-2l0-2l0-2l0-2l0-2l0-2l0-2l0-2l0-2l0-2l0-2l0-2Z" fill="#00bbff"/>
<path d="M120,705l2,0l2,0l2,0l2,0l2,0l2,0l2,0l2,0l2,0l2,0l2,0l2,0l2,0l2,0l2,0l2,0l2,0l2,0l2,0l2,0l2,0l2,0l2,0l2,0l2,0l2,0l2,0l2,0l2,0l2,0l2,0l2,0l2,0l2,0l2,0l2,0l2,0l2,0l2,0l2,0l2,0l2,0l2,0l2,0l2,0l2,0l2,0l2,0l2,0l2,0l2,0l2,0l2,0l2,0l2,0l2,0l2,0l2,0l2,0l2,0l2,0l2,0l2,0l2,0l2,0l2,0l1.6,1l-0.2,2l-0.3,2l-0.4,2l-0.4,2l-0.5,2l-0.5,2l-0.6,2l-0.7,1.7l-1,2.1l-1,1.6l-1,1.4l-1,1.2l-1,1.1l-1,1l-1,1l-1,1l-1.9,1.9l-1.1,1l-1.1,1l-1.3,1l-1.3,1l-1.3,0.8l-2,1l-2,0.8l-2,0.7l-2,0.7l-2,0.7l-2,0.7l-1.8,0.6l-2.2,0.8l-2,0.7l-2,0.7l-2,0.7l-2,0.7l-2,0.7l-2,0.7l-2,0.7l-2,0.7l-1.8,0.6l-2.2,0.7l-2,0.7l-2,0.5l-2,0.5l-2,0.5l-2,0.4l-2,0.5l-2,0.5l-2,0.5l-2,0.4l-2,0.5l-2,0.5l-2,0.5l-2,0.4l-2,0.5l-2,0.4l-2,0.4l-2,0.5l-2,0.4l-2,0.4l-2,0.4l-2,0.5l-2,0.4l-2,0.4l-2,0.4l-2,0.5l-2,0.4l-2,0.5l-2,0.6l-2,1l-1.3,1.2l-1.7,1.9l-1.4,1.1l-1.6,0.9l-2,0.8l-2,0.7l-1.7,0.6l-2.3,0.8l-2,0.6l-2,0.6l-2,0.2l0-2.2l0-2l0-2l0-2l0-2l0-2l0-2l0-2l0-2l0-2l0-2l0-2l0-2l0-2l0-2l0-2l0-2l0-2l0-2l0-2l0-2l0-2l0-2l0-2l0-2l0-2l0-2l0-2l0-2l0-2l0-2l0-2l0-2l0-2l0-2Z" fill="#00c8ff"/>
<path d="M120,705l2,0l2,0l2,0l2,0l2,0l2,0l2,0l2,0l2,0l2,0l2,0l2,0l2,0l2,0l2,0l2,0l2,0l2,0l2,0l2,0l2,0l2,0l2,0l2,0l2,0l2,0l2,0l2,0l2,0l2,0l2,0l2,0l2,0l2,0l2,0l2,0l2,0l2,0l2,0l2,0l2,0l2,0l2,0l2,0l2,0l2,0l2,0l2,0l2,0l2,0l2,0l2,0l2,0l2,0l2,0l2,0l2,0l2,0l2,0l2,0l2,0l2,0l2,0l2,0l2,0l1.4,1l-0.2,2l-0.4,2l-0.4,2l-0.5,2l-0.5,2l-0.6,2l-0.7,2l-0.9,2l-1.2,2l-1,1.4l-1,1.3l-1,1.1l-1,1.1l-0.9,1.1l-1.1,1.2l-1,1l-1,1l-1.9,1.8l-1.1,0.9l-1.7,1.1l-1.3,0.7l-2,0.8l-2,0.8l-2,0.7l-2,0.7l-2,0.7l-1.8,0.6l-2.2,0.8l-2,0.7l-1.6,0.5l-2.4,0.9l-2,0.7l-2,0.7l-2,0.7l-2,0.7l-2,0.6l-1.9,0.7l-2.1,0.7l-2,0.6l-2,0.6l-2,0.5l-2,0.5l-2,0.5l-2,0.5l-2,0.5l-2,0.5l-2,0.5l-2,0.4l-2,0.5l-2,0.6l-2,0.4l-2,0.5l-2,0.4l-2,0.5l-2,0.4l-2,0.4l-2,0.4l-2,0.5l-2,0.4l-2,0.4l-2,0.5l-2,0.4l-2,0.4l-2,0.5l-2,0.4l-2,0.5l-2,0.9l-1.6,1.2l-1,1l-1,1l-1.2,1l-1.7,1l-1.5,0.6l-2,0.7l-2,0.7l-2,0.7l-2,0.6l-2,0.6l-2,0.3l0-2.2l0-2l0-2l0-2l0-2l0-2l0-2l0-2l0-2l0-2l0-2l0-2l0-2l0-2l0-2l0-2l0-2l0-2l0-2l0-2l0-2l0-2l0-2l0-2l0-2l0-2l0-2l0-2l0-2l0-2l0-2l0-2l0-2l0-2Z" fill="#00d6ff"/>
<path d="M120,705l2,0l2,0l2,0l2,0l2,0l2,0l2,0l2,0l2,0l2,0l2,0l2,0l2,0l2,0l2,0l2,0l2,0l2,0l2,0l2,0l2,0l2,0l2,0l2,0l2,0l2,0l2,0l2,0l2,0l2,0l2,0l2,0l2,0l2,0l2,0l2,0l2,0l2,0l2,0l2,0l2,0l2,0l2,0l2,0l2,0l2,0l2,0l2,0l2,0l2,0l2,0l2,0l2,0l2,0l2,0l2,0l2,0l2,0l2,0l2,0l2,0l2,0l2,0l2,0l1.2,1l-0.2,1.8l-0.4,2.2l-0.5,2l-0.5,2l-0.5,2l-0.7,2l-0.8,2l-1,2l-1.3,2l-1.3,1.6l-1,1.2l-0.9,1.2l-1.1,1.3l-1,1.2l-1,1.1l-1,1l-1.5,1.4l-1.3,1l-1.8,1l-2.4,1l-2,0.7l-2,0.7l-1.7,0.6l-2.3,0.8l-2,0.7l-2,0.7l-2,0.7l-2,0.7l-2,0.7l-2,0.7l-2,0.7l-2,0.7l-1.7,0.6l-2.3,0.8l-2,0.7l-1.6,0.5l-2.4,0.7l-2,0.6l-2,0.5l-2,0.5l-2,0.5l-2,0.5l-2,0.5l-2,0.5l-2,0.5l-2,0.5l-2,0.6l-2,0.5l-2,0.4l-2,0.5l-2,0.4l-2,0.5l-2,0.4l-1.7,0.4l-2.3,0.5l-2,0.4l-2,0.5l-2,0.4l-2,0.4l-2,0.5l-2,0.4l-2,0.5l-1.9,0.4l-2.1,0.6l-2,0.9l-1.8,1.5l-1.1,1l-1.1,1l-1.7,1l-2.3,1l-2,0.7l-2,0.7l-1.9,0.6l-2.1,0.7l-2,0.4l-1-1.1l0-2l0-2l0-2l0-2l0-2l0-2l0-2l0-2l0-2l0-2l0-2l0-2l0-2l0-2l0-2l0-2l0-2l0-2l0-2l0-2l0-2l0-2l0-2l0-2l0-2l0-2l0-2l0-2l0-2l0-2l0-2l0-2Z" fill="#00e3ff"/>
<path d="M120,705l2,0l2,0l2,0l2,0l2,0l2,0l2,0l2,0l2,0l2,0l2,0l2,0l2,0l2,0l2,0l2,0l2,0l2,0l2,0l2,0l2,0l2,0l2,0l2,0l2,0l2,0l2,0l2,0l2,0l2,0l2,0l2,0l2,0l2,0l2,0l2,0l2,0l2,0l2,0l2,0l2,0l2,0l2,0l2,0l2,0l2,0l2,0l2,0l2,0l2,0l2,0l2,0l2,0l2,0l2,0l2,0l2,0l2,0l2,0l2,0l2,0l2,0l2,0l1,1l-0.3,2l-0.3,2l-0.5,2l-0.6,2l-0.6,2l-0.7,1.9l-0.9,2.1l-1.1,1.8l-1,1.5l-1,1.3l-1,1.4l-1,1.3l-1,1.3l-1,1.2l-1,1.2l-1,1l-1.2,1l-1.5,1l-2.2,1l-2.1,0.8l-2,0.7l-1.5,0.5l-1.5,0.5l-2,0.7l-2,0.7l-2,0.7l-2,0.7l-1.9,0.7l-2.1,0.7l-2,0.7l-1.6,0.6l-2.4,0.8l-2,0.7l-2,0.7l-2,0.7l-2,0.6l-1.7,0.5l-2.3,0.6l-2,0.6l-2,0.5l-2,0.5l-2,0.6l-2,0.5l-2,0.5l-2,0.5l-2,0.6l-2,0.5l-2,0.5l-2,0.5l-2,0.4l-2,0.5l-2,0.4l-2,0.5l-2,0.4l-1.7,0.4l-2.3,0.5l-2,0.5l-2,0.4l-2,0.4l-2,0.5l-2,0.4l-2,0.5l-2,0.5l-2,0.6l-1.5,0.7l-1.4,1l-1.1,1l-1.2,1l-1.5,1l-2.2,1l-2.1,0.8l-2,0.7l-2,0.7l-2,0.6l-2,0.5l-1-1.3l0-2l0-2l0-2l0-2l0-2l0-2l0-2l0-2l0-2l0-2l0-2l0-2l0-2l0-2l0-2l0-2l0-2l0-2l0-2l0-2l0-2l0-2l0-2l0-2l0-2l0-2l0-2l0-2l0-2l0-2l0-2Z" fill="#00eeff"/>
<path d="M120,705l2,0l2,0l2,0l2,0l2,0l2,0l2,0l2,0l2,0l2,0l2,0l2,0l2,0l2,0l2,0l2,0l2,0l2,0l2,0l2,0l2,0l2,0l2,0l2,0l2,0l2,0l2,0l2,0l2,0l2,0l2,0l2,0l2,0l2,0l2,0l2,0l2,0l2,0l2,0l2,0l2,0l2,0l2,0l2,0l2,0l2,0l2,0l2,0l2,0l2,0l2,0l2,0l2,0l2,0l2,0l2,0l2,0l2,0l2,0l2,0l2,0l2,0l1.3,1l-0.3,1.9l-0.4,2.1l-0.5,2l-0.6,2l-0.7,2l-0.8,2l-1,2l-1,1.6l-0.9,1.4l-1.1,1.5l-1,1.4l-1,1.3l-1,1.4l-1,1.2l-1,1.1l-1.4,1.1l-1.6,1l-2,0.8l-2,0.7l-2,0.8l-2,0.7l-2,0.7l-2,0.7l-1.7,0.6l-2.3,0.8l-2,0.7l-2,0.7l-2,0.7l-2,0.7l-2,0.7l-1.9,0.7l-2.1,0.7l-2,0.7l-2,0.6l-2,0.6l-2,0.6l-2,0.5l-2,0.5l-2,0.6l-2,0.5l-2,0.6l-2,0.5l-2,0.5l-2,0.6l-1.9,0.5l-2.1,0.6l-1.8,0.4l-2.2,0.5l-2,0.5l-2,0.4l-2,0.5l-2,0.4l-2,0.5l-2,0.4l-2,0.5l-2,0.4l-2,0.5l-1.8,0.4l-2.2,0.5l-2,0.4l-2,0.5l-2,0.6l-2,0.8l-1.6,1.2l-1.2,1l-1.2,1l-1.8,1l-2.2,1l-2,0.7l-2,0.8l-1.5,0.5l-2.5,0.8l-2,0.3l0-2.1l0-2l0-2l0-2l0-2l0-2l0-2l0-2l0-2l0-2l0-2l0-2l0-2l0-2l0-2l0-2l0-2l0-2l0-2l0-2l0-2l0-2l0-2l0-2l0-2l0-2l0-2l0-2l0-2l0-2l0-2Z" fill="#00faff"/>
<path d="M120,705l2,0l2,0l2,0l2,0l2,0l2,0l2,0l2,0l2,0l2,0l2,0l2,0l2,0l2,0l2,0l2,0l2,0l2,0l2,0l2,0l2,0l2,0l2,0l2,0l2,0l2,0l2,0l2,0l2,0l2,0l2,0l2,0l2,0l2,0l2,0l2,0l2,0l2,0l2,0l2,0l2,0l2,0l2,0l2,0l2,0l2,0l2,0l2,0l2,0l2,0l2,0l2,0l2,0l2,0l2,0l2,0l2,0l2,0l2,0l2,0l2,0l0.4,2l-0.2,2l-0.4,2l-0.5,2l-0.7,2l-0.6,1.5l-0.7,1.5l-1.2,2l-1.1,1.7l-0.9,1.3l-1.1,1.7l-0.9,1.3l-1.1,1.5l-1,1.2l-1.5,1.3l-1.5,1l-2,0.9l-2,0.7l-2,0.8l-1.7,0.6l-2.3,0.8l-2,0.8l-2,0.7l-1.9,0.7l-2.1,0.8l-2,0.7l-2,0.7l-2,0.8l-2,0.7l-2,0.6l-1.9,0.7l-2.1,0.7l-2,0.6l-2,0.6l-2,0.5l-2,0.6l-2,0.6l-2,0.5l-2,0.6l-2,0.5l-2,0.6l-2,0.6l-2,0.5l-2,0.6l-1.9,0.5l-2.1,0.5l-2,0.5l-2,0.5l-2,0.4l-2,0.5l-2,0.4l-2,0.5l-2,0.5l-2,0.4l-2,0.5l-2,0.4l-2,0.5l-1.7,0.4l-2.3,0.5l-2,0.5l-2,0.6l-2,0.9l-2,1.5l-1.2,1l-1.6,1l-2,1l-2.2,0.9l-2,0.8l-2,0.7l-1.8,0.6l-2.2,0.4l0-2.4l0-2l0-2l0-2l0-2l0-2l0-2l0-2l0-2l0-2l0-2l0-2l0-2l0-2l0-2l0-2l0-2l0-2l0-2l0-2l0-2l0-2l0-2l0-2l0-2l0-2l0-2l0-2l0-2l0-2Z" fill="#00ffef"/>
<path d="M120,705l2,0l2,0l2,0l2,0l2,0l2,0l2,0l2,0l2,0l2,0l2,0l2,0l2,0l2,0l2,0l2,0l2,0l2,0l2,0l2,0l2,0l2,0l2,0l2,0l2,0l2,0l2,0l2,0l2,0l2,0l2,0l2,0l2,0l2,0l2,0l2,0l2,0l2,0l2,0l2,0l2,0l2,0l2,0l2,0l2,0l2,0l2,0l2,0l2,0l2,0l2,0l2,0l2,0l2,0l2,0l2,0l2,0l2,0l2,0l1.7,1l0,2l-0.2,2l-0.4,2l-0.7,2l-0.9,2l-1.1,2l-1.3,2l-1.1,1.6l-1,1.4l-1,1.5l-1,1.3l-1,1.2l-1.2,1l-1.6,1l-2.2,1l-2,0.8l-2,0.8l-2,0.8l-1.5,0.6l-1.5,0.6l-2,0.8l-1.5,0.6l-1.5,0.6l-2,0.8l-1.6,0.6l-2.4,0.9l-2,0.7l-2,0.7l-2,0.7l-2,0.6l-2,0.6l-2,0.6l-2,0.6l-1.9,0.6l-2.1,0.6l-2,0.6l-2,0.6l-2,0.5l-2,0.6l-2,0.6l-1.7,0.5l-2.3,0.7l-2,0.5l-2,0.6l-2,0.4l-2,0.5l-2,0.5l-2,0.5l-2,0.4l-2,0.5l-1.7,0.4l-2.3,0.5l-1.9,0.5l-2.1,0.5l-2,0.5l-2,0.4l-2,0.5l-2,0.5l-2,0.5l-2,0.7l-2,1.3l-1.4,1.1l-1.5,1l-1.8,1l-2.3,1l-2,0.8l-2,0.8l-2,0.6l-2,0.4l0-2.6l0-2l0-2l0-2l0-2l0-2l0-2l0-2l0-2l0-2l0-2l0-2l0-2l0-2l0-2l0-2l0-2l0-2l0-2l0-2l0-2l0-2l0-2l0-2l0-2l0-2l0-2l0-2l0-2Z" fill="#00ffd5"/>
<path d="M120,705l2,0l2,0l2,0l2,0l2,0l2,0l2,0l2,0l2,0l2,0l2,0l2,0l2,0l2,0l2,0l2,0l2,0l2,0l2,0l2,0l2,0l2,0l2,0l2,0l2,0l2,0l2,0l2,0l2,0l2,0l2,0l2,0l2,0l2,0l2,0l2,0l2,0l2,0l2,0l2,0l2,0l2,0l2,0l2,0l2,0l2,0l2,0l2,0l2,0l2,0l2,0l2,0l2,0l2,0l2,0l2,0l2,0l2,0l1.3,1l0,2l-0.3,2l-0.5,2l-0.8,2l-1.1,2l-1.3,2l-1.3,1.9l-1,1.4l-1,1.4l-1,1.3l-1,1l-1.2,1l-1.6,1l-2,1l-2.2,1l-2,0.8l-2,0.9l-2,0.9l-2,0.9l-2,0.9l-1.4,0.6l-1.6,0.7l-2,0.8l-2,0.7l-2,0.7l-2,0.7l-2,0.6l-2,0.7l-2,0.6l-1.5,0.5l-2.5,0.7l-2,0.7l-2,0.6l-2,0.6l-2,0.6l-2,0.6l-2,0.6l-2,0.6l-2,0.6l-2,0.6l-2,0.5l-2,0.5l-2,0.5l-2,0.5l-2,0.5l-2,0.5l-2,0.5l-2,0.5l-2,0.4l-2,0.5l-2,0.5l-2,0.5l-2,0.5l-1.7,0.4l-2.3,0.5l-2,0.5l-2,0.5l-1.5,0.5l-1.5,0.8l-1.7,1.2l-1.3,0.9l-1.9,1.1l-2.1,1l-2,0.7l-2,0.8l-1.6,0.5l-2.4,0.5l0-2.5l0-2l0-2l0-2l0-2l0-2l0-2l0-2l0-2l0-2l0-2l0-2l0-2l0-2l0-2l0-2l0-2l0-2l0-2l0-2l0-2l0-2l0-2l0-2l0-2l0-2l0-2l0-2Z" fill="#00ffbb"/>
<path d="M120,705l2,0l2,0l2,0l2,0l2,0l2,0l2,0l2,0l2,0l2,0l2,0l2,0l2,0l2,0l2,0l2,0l2,0l2,0l2,0l2,0l2,0l2,0l2,0l2,0l2,0l2,0l2,0l2,0l2,0l2,0l2,0l2,0l2,0l2,0l2,0l2,0l2,0l2,0l2,0l2,0l2,0l2,0l2,0l2,0l2,0l2,0l2,0l2,0l2,0l2,0l2,0l2,0l2,0l2,0l2,0l2,0l2,0l0.8,2l-0.2,2l-0.5,2l-0.9,2l-1.2,2l-1,1.5l-1,1.4l-1,1.4l-1,1.4l-1,1.2l-1,1l-1.4,1.1l-1.6,1l-2,1l-2,1l-2,0.9l-2,1l-2,1l-2,1l-2,0.9l-2,0.9l-2,0.9l-2,0.7l-2,0.7l-2,0.7l-2,0.6l-2,0.7l-2,0.6l-2,0.7l-2,0.6l-2,0.6l-2,0.7l-2,0.6l-2,0.6l-2,0.6l-2,0.6l-2,0.7l-2,0.6l-2,0.6l-1.8,0.5l-2.2,0.6l-1.6,0.4l-2.4,0.6l-1.6,0.4l-2.4,0.6l-1.6,0.4l-2.4,0.6l-1.6,0.4l-2.4,0.6l-1.6,0.4l-2.4,0.6l-2,0.5l-2,0.5l-1.6,0.4l-2.4,0.5l-1.9,0.5l-2.1,0.8l-2,1.2l-1.6,1l-1.4,0.8l-2,0.9l-2,0.8l-1.6,0.5l-2.4,0.7l-2,0.3l0-2l0-2l0-2l0-2l0-2l0-2l0-2l0-2l0-2l0-2l0-2l0-2l0-2l0-2l0-2l0-2l0-2l0-2l0-2l0-2l0-2l0-2l0-2l0-2l0-2l0-2l0-2Z" fill="#00ffa1"/>
<path d="M120,705l2,0l2,0l2,0l2,0l2,0l2,0l2,0l2,0l2,0l2,0l2,0l2,0l2,0l2,0l2,0l2,0l2,0l2,0l2,0l2,0l2,0l2,0l2,0l2,0l2,0l2,0l2,0l2,0l2,0l2,0l2,0l2,0l2,0l2,0l2,0l2,0l2,0l2,0l2,0l2,0l2,0l2,0l2,0l2,0l2,0l2,0l2,0l2,0l2,0l2,0l2,0l2,0l2,0l2,0l2,0l2,0l0.1,2l-0.2,2l-0.6,2l-1.1,2l-1.2,1.7l-0.9,1.3l-1.1,1.4l-1,1.2l-1,1.2l-1.3,1.2l-1.3,1l-1.4,0.8l-2,1.1l-2,1.1l-2,1l-1.9,1l-2,1l-1.9,1l-2,1l-2.1,1l-2.1,0.8l-2,0.7l-2,0.7l-2,0.7l-2,0.6l-2,0.7l-2,0.6l-2,0.7l-1.5,0.5l-2.5,0.8l-2,0.6l-1.7,0.6l-2.3,0.7l-2,0.7l-1.9,0.6l-2.1,0.7l-2,0.6l-2,0.6l-2,0.5l-2,0.6l-2,0.5l-1.9,0.5l-2.1,0.5l-1.7,0.5l-2.3,0.6l-2,0.5l-2,0.6l-2,0.5l-2,0.5l-2,0.5l-2,0.6l-2,0.5l-2,0.5l-2,0.5l-2,0.6l-2,0.9l-1.9,1.2l-1.9,1l-2.2,0.9l-2,0.7l-2,0.6l-2,0.5l-1-1.7l0-2l0-2l0-2l0-2l0-2l0-2l0-2l0-2l0-2l0-2l0-2l0-2l0-2l0-2l0-2l0-2l0-2l0-2l0-2l0-2l0-2l0-2l0-2l0-2l0-2Z" fill="#00ff87"/>
<path d="M120,705l2,0l2,0l2,0l2,0l2,0l2,0l2,0l2,0l2,0l2,0l2,0l2,0l2,0l2,0l2,0l2,0l2,0l2,0l2,0l2,0l2,0l2,0l2,0l2,0l2,0l2,0l2,0l2,0l2,0l2,0l2,0l2,0l2,0l2,0l2,0l2,0l2,0l2,0l2,0l2,0l2,0l2,0l2,0l2,0l2,0l2,0l2,0l2,0l2,0l2,0l2,0l2,0l2,0l2,0l1.4,1l-0.2,2l-0.5,2l-0.7,1.4l-1,1.6l-1,1.2l-1,1.2l-1,1.1l-1,1l-1.7,1.5l-1.3,0.9l-1.9,1.1l-1.9,1l-1.9,1l-2,1l-1.9,1l-1.4,0.7l-2,1l-2,1l-2,0.9l-2,0.8l-1.7,0.6l-2.3,0.8l-2,0.7l-1.6,0.5l-2.4,0.8l-2,0.7l-1.5,0.5l-2.5,0.8l-2,0.7l-2,0.7l-2,0.6l-2,0.7l-2,0.7l-2,0.7l-2,0.6l-1.5,0.5l-2.5,0.7l-2,0.6l-2,0.6l-2,0.6l-1.8,0.5l-2.2,0.6l-2,0.6l-2,0.6l-2,0.6l-2,0.5l-2,0.6l-1.6,0.5l-2.4,0.7l-2,0.6l-2,0.6l-2,0.6l-1.7,0.5l-2.3,0.8l-2,1.1l-2,1l-2,0.8l-2,0.8l-1.7,0.5l-2.3,0.5l-1-1.5l0-2l0-2l0-2l0-2l0-2l0-2l0-2l0-2l0-2l0-2l0-2l0-2l0-2l0-2l0-2l0-2l0-2l0-2l0-2l0-2l0-2l0-2l0-2l0-2Z" fill="#00ff71"/>
<path d="M120,705l2,0l2,0l2,0l2,0l2,0l2,0l2,0l2,0l2,0l2,0l2,0l2,0l2,0l2,0l2,0l2,0l2,0l2,0l2,0l2,0l2,0l2,0l2,0l2,0l2,0l2,0l2,0l2,0l2,0l2,0l2,0l2,0l2,0l2,0l2,0l2,0l2,0l2,0l2,0l2,0l2,0l2,0l2,0l2,0l2,0l2,0l2,0l2,0l2,0l2,0l2,0l2,0l2,0l1.1,1l-0.2,2l-0.5,2l-1.2,2l-1.2,1.4l-1,1l-1.7,1.6l-1.3,1l-1.5,1l-1.5,0.9l-2,1l-2,1l-2,1l-2,1l-2,0.9l-2,1l-2,0.9l-2,0.9l-2,0.7l-1.9,0.7l-2.1,0.7l-2,0.7l-1.8,0.6l-2.2,0.7l-2,0.7l-1.7,0.6l-2.3,0.8l-2,0.7l-1.6,0.5l-2.4,0.8l-2,0.7l-2,0.7l-2,0.7l-2,0.6l-2,0.7l-2,0.6l-2,0.7l-1.7,0.5l-2.3,0.7l-2,0.6l-2,0.7l-2,0.6l-2,0.6l-2,0.7l-2,0.6l-1.6,0.5l-2.4,0.8l-2,0.7l-2,0.8l-2,0.7l-2,0.6l-2,0.7l-1.6,0.7l-1.4,0.7l-2,0.9l-2,0.8l-1.6,0.6l-2.4,0.7l-2,0.3l0-3l0-2l0-2l0-2l0-2l0-2l0-2l0-2l0-2l0-2l0-2l0-2l0-2l0-2l0-2l0-2l0-2l0-2l0-2l0-2l0-2l0-2l0-2l0-2Z" fill="#00ff5d"/>
<path d="M120,705l2,0l2,0l2,0l2,0l2,0l2,0l2,0l2,0l2,0l2,0l2,0l2,0l2,0l2,0l2,0l2,0l2,0l2,0l2,0l2,0l2,0l2,0l2,0l2,0l2,0l2,0l2,0l2,0l2,0l2,0l2,0l2,0l2,0l2,0l2,0l2,0l2,0l2,0l2,0l2,0l2,0l2,0l2,0l2,0l2,0l2,0l2,0l2,0l2,0l2,0l2,0l2,0l1.1,1l-0.3,2l-0.6,2l-1.2,1.7l-1,1.1l-1.3,1.2l-1.3,1l-1.4,0.9l-1.9,1.1l-2.1,1l-2,1l-2,0.9l-2,0.9l-2,1l-2,0.9l-2,0.9l-2,0.8l-1.7,0.6l-2.3,0.8l-2,0.7l-1.7,0.5l-2.3,0.8l-2,0.6l-1.7,0.6l-2.3,0.8l-2,0.6l-1.8,0.6l-2.2,0.7l-2,0.7l-1.8,0.6l-2.2,0.7l-2,0.7l-1.6,0.6l-2.4,0.8l-2,0.7l-2,0.7l-2,0.7l-2,0.6l-2,0.7l-2,0.7l-2,0.7l-2,0.6l-2,0.7l-2,0.7l-2,0.7l-1.7,0.7l-2.2,1l-2.1,1l-2,0.8l-2,0.7l-2,0.7l-1.8,0.8l-2.2,1l-2,0.8l-2,0.7l-1.8,0.5l-2.2,0.4l0-2.4l0-2l0-2l0-2l0-2l0-2l0-2l0-2l0-2l0-2l0-2l0-2l0-2l0-2l0-2l0-2l0-2l0-2l0-2l0-2l0-2l0-2l0-2Z" fill="#00ff46"/>
<path d="M120,705l2,0l2,0l2,0l2,0l2,0l2,0l2,0l2,0l2,0l2,0l2,0l2,0l2,0l2,0l2,0l2,0l2,0l2,0l2,0l2,0l2,0l2,0l2,0l2,0l2,0l2,0l2,0l2,0l2,0l2,0l2,0l2,0l2,0l2,0l2,0l2,0l2,0l2,0l2,0l2,0l2,0l2,0l2,0l2,0l2,0l2,0l2,0l2,0l2,0l2,0l2,0l0.4,2l-0.4,1.6l-0.6,1.4l-1.4,1.6l-1.7,1.4l-1.3,0.9l-2,1l-2,0.9l-2,0.8l-2,0.9l-2,0.9l-1.5,0.6l-1.5,0.7l-2,0.8l-2,0.8l-2,0.7l-2,0.6l-2,0.6l-2,0.6l-2,0.6l-1.8,0.6l-2.2,0.7l-2,0.6l-2,0.6l-2,0.6l-2,0.6l-2,0.7l-2,0.6l-1.9,0.6l-2.1,0.7l-2,0.7l-1.6,0.6l-2.4,0.9l-2,0.7l-2,0.7l-1.8,0.7l-2.2,0.8l-2,0.7l-2,0.8l-2,0.7l-2,0.7l-2,0.8l-2,0.8l-1.7,0.7l-1.9,1l-1.4,0.9l-1.9,1.1l-1.9,1l-2.2,0.9l-2,0.7l-2,0.8l-2,0.9l-1.9,0.7l-2.1,0.7l-2,0.4l-1-1.1l0-2l0-2l0-2l0-2l0-2l0-2l0-2l0-2l0-2l0-2l0-2l0-2l0-2l0-2l0-2l0-2l0-2l0-2l0-2l0-2l0-2l0-2Z" fill="#00ff2c"/>
<path d="M120,705l2,0l2,0l2,0l2,0l2,0l2,0l2,0l2,0l2,0l2,0l2,0l2,0l2,0l2,0l2,0l2,0l2,0l2,0l2,0l2,0l2,0l2,0l2,0l2,0l2,0l2,0l2,0l2,0l2,0l2,0l2,0l2,0l2,0l2,0l2,0l2,0l2,0l2,0l2,0l2,0l2,0l2,0l2,0l2,0l2,0l2,0l2,0l2,0l2,0l2,0l-0.1,2l-0.6,2l-1.3,1.7l-1.7,1.3l-1.9,1l-2.4,0.9l-2,0.8l-2,0.7l-1.5,0.6l-1.5,0.6l-2,0.7l-2,0.7l-2,0.7l-2,0.6l-2,0.5l-2,0.6l-2,0.5l-2,0.5l-2,0.6l-2,0.5l-2,0.7l-2,0.6l-2,0.6l-2,0.6l-2,0.6l-2,0.6l-2,0.7l-2,0.7l-2,0.7l-1.8,0.7l-2.2,0.8l-2,0.8l-2,0.8l-1.6,0.6l-2.4,1l-2,0.8l-2,0.8l-2,0.8l-1.6,0.6l-1.4,0.6l-2,0.8l-2,0.9l-2,1.1l-2,1.4l-1.8,1.2l-1.7,1l-1.5,0.8l-2,0.8l-2,0.8l-1.4,0.6l-1.6,0.6l-2,0.8l-2,0.6l-2,0.3l0-2.3l0-2l0-2l0-2l0-2l0-2l0-2l0-2l0-2l0-2l0-2l0-2l0-2l0-2l0-2l0-2l0-2l0-2l0-2l0-2l0-2Z" fill="#00ff18"/>
<path d="M120,705l2,0l2,0l2,0l2,0l2,0l2,0l2,0l2,0l2,0l2,0l2,0l2,0l2,0l2,0l2,0l2,0l2,0l2,0l2,0l2,0l2,0l2,0l2,0l2,0l2,0l2,0l2,0l2,0l2,0l2,0l2,0l2,0l2,0l2,0l2,0l2,0l2,0l2,0l2,0l2,0l2,0l2,0l2,0l2,0l2,0l2,0l2,0l2,0l2,0l0.5,2l-0.8,2l-1.7,1.8l-2,1.2l-2,0.7l-2,0.7l-1.7,0.6l-2.3,0.8l-2,0.6l-1.8,0.6l-2.2,0.7l-2,0.6l-2,0.5l-2,0.5l-2,0.5l-2,0.4l-2,0.5l-2,0.5l-2,0.6l-2,0.7l-1.7,0.5l-2.3,0.7l-2,0.7l-2,0.6l-2,0.7l-2,0.6l-1.8,0.7l-2.2,0.8l-2,0.8l-2,0.8l-1.5,0.6l-1.5,0.6l-2,0.8l-2,0.8l-1.8,0.8l-2.2,0.9l-2,0.9l-2,0.8l-2,0.8l-2,0.9l-1.4,0.7l-1.6,0.9l-1.7,1.1l-1.3,0.9l-1.6,1.1l-1.4,0.9l-2,1.1l-2,0.8l-2,0.9l-2,0.8l-2,0.8l-2,0.6l-2,0.3l0-2.2l0-2l0-2l0-2l0-2l0-2l0-2l0-2l0-2l0-2l0-2l0-2l0-2l0-2l0-2l0-2l0-2l0-2l0-2l0-2l0-2Z" fill="#00ff01"/>
<path d="M120,705l2,0l2,0l2,0l2,0l2,0l2,0l2,0l2,0l2,0l2,0l2,0l2,0l2,0l2,0l2,0l2,0l2,0l2,0l2,0l2,0l2,0l2,0l2,0l2,0l2,0l2,0l2,0l2,0l2,0l2,0l2,0l2,0l2,0l2,0l2,0l2,0l2,0l2,0l2,0l2,0l2,0l2,0l2,0l2,0l2,0l2,0l2,0l0.5,2l-1.5,1.7l-2,0.8l-1.6,0.5l-2.4,0.8l-2,0.6l-2,0.5l-2,0.4l-2,0.5l-2,0.4l-2,0.4l-2,0.4l-2,0.3l-2,0.4l-2,0.4l-2,0.5l-2,0.6l-2,0.6l-2,0.7l-2,0.7l-2,0.8l-2,0.7l-2,0.7l-1.5,0.6l-1.5,0.6l-2,0.8l-1.5,0.6l-1.5,0.6l-2,0.8l-1.4,0.6l-1.6,0.7l-2,0.9l-2,0.9l-2,0.9l-2,0.9l-1.5,0.7l-1.5,0.7l-2,0.9l-2,0.9l-2,1l-2,1l-2,1.3l-1.8,1.2l-1.2,0.9l-1.6,1.1l-1.4,0.9l-2,1.1l-2,1l-2,0.9l-2,0.8l-2,0.6l-1-1.3l0-2l0-2l0-2l0-2l0-2l0-2l0-2l0-2l0-2l0-2l0-2l0-2l0-2l0-2l0-2l0-2l0-2l0-2l0-2Z" fill="#0dff00"/>
</g>
<path d="M126,741.5 L140,733.8 L156,725.8 L170,720 L183.8,714.2 L202.3,712 L220.8,712 L234.6,713 L246,711.5" stroke="#002800" stroke-width="3.5" fill="none" opacity="0.55" filter="url(#blur1)"/><path d="M126,741.5 L140,733.8 L170,720 L202.3,712 L240,711 L238,728 L205,736 L170,744 L139,752Z" fill="#103010" opacity="0.15" filter="url(#blur3)"/><path d="M146,780 L230,772 L275,760 L312,782 L181,838Z" fill="#404060" opacity="0.12" filter="url(#blur3)"/><path d="M138,745 L240,715 L285,752 L150,790Z" fill="#305070" opacity="0.14" filter="url(#blur3)"/><path d="M125,742 L141,733 L143,739 L133,741Z" fill="#001800" opacity="0.6"/><path d="M226,712 L243,711 L249.6,710.2 L256,711.5 L262,715.4 L271,724.6 L278,736" stroke="#00002a" stroke-width="10" fill="none" opacity="0.5" filter="url(#blur2)"/><path d="M278,736 L285,750 L294,761.5 L303,773 L311,782" stroke="#00002a" stroke-width="5" fill="none" opacity="0.33" filter="url(#blur1)"/><path d="M236,712 L262,716 L276,740 L268,742 L256,726 L238,720Z" fill="#000020" opacity="0.15" filter="url(#blur3)"/>
</g>
<polyline points="414.0,628.3 281.0,526.3 79.0,581.3 95.0,766.8 195.0,898.3 394.6,820.3" fill="none" stroke="#1c1c1c" stroke-width="1.3" stroke-linejoin="miter"/>
<line x1="135.6" y1="565.9" x2="135.8" y2="570.4" stroke="#1c1c1c" stroke-width="1.3" />
<line x1="189.7" y1="551.2" x2="189.9" y2="555.7" stroke="#1c1c1c" stroke-width="1.3" />
<line x1="243.8" y1="536.4" x2="244.1" y2="540.9" stroke="#1c1c1c" stroke-width="1.3" />
<line x1="95.0" y1="577.0" x2="95.1" y2="579.5" stroke="#1c1c1c" stroke-width="1.1" />
<line x1="108.5" y1="573.3" x2="108.6" y2="575.8" stroke="#1c1c1c" stroke-width="1.1" />
<line x1="122.0" y1="569.6" x2="122.2" y2="572.1" stroke="#1c1c1c" stroke-width="1.1" />
<line x1="149.1" y1="562.2" x2="149.2" y2="564.7" stroke="#1c1c1c" stroke-width="1.1" />
<line x1="162.6" y1="558.5" x2="162.8" y2="561.0" stroke="#1c1c1c" stroke-width="1.1" />
<line x1="176.2" y1="554.8" x2="176.3" y2="557.3" stroke="#1c1c1c" stroke-width="1.1" />
<line x1="203.2" y1="547.5" x2="203.4" y2="550.0" stroke="#1c1c1c" stroke-width="1.1" />
<line x1="216.8" y1="543.8" x2="216.9" y2="546.3" stroke="#1c1c1c" stroke-width="1.1" />
<line x1="230.3" y1="540.1" x2="230.4" y2="542.6" stroke="#1c1c1c" stroke-width="1.1" />
<line x1="257.4" y1="532.7" x2="257.5" y2="535.2" stroke="#1c1c1c" stroke-width="1.1" />
<line x1="270.9" y1="529.0" x2="271.0" y2="531.5" stroke="#1c1c1c" stroke-width="1.1" />
<line x1="249.3" y1="877.1" x2="246.8" y2="873.3" stroke="#1c1c1c" stroke-width="1.3" />
<line x1="302.6" y1="856.3" x2="300.1" y2="852.5" stroke="#1c1c1c" stroke-width="1.3" />
<line x1="355.9" y1="835.4" x2="353.4" y2="831.7" stroke="#1c1c1c" stroke-width="1.3" />
<line x1="209.3" y1="892.7" x2="207.9" y2="890.6" stroke="#1c1c1c" stroke-width="1.1" />
<line x1="222.6" y1="887.5" x2="221.3" y2="885.4" stroke="#1c1c1c" stroke-width="1.1" />
<line x1="236.0" y1="882.3" x2="234.6" y2="880.2" stroke="#1c1c1c" stroke-width="1.1" />
<line x1="262.6" y1="871.9" x2="261.2" y2="869.8" stroke="#1c1c1c" stroke-width="1.1" />
<line x1="275.9" y1="866.7" x2="274.6" y2="864.6" stroke="#1c1c1c" stroke-width="1.1" />
<line x1="289.3" y1="861.5" x2="287.9" y2="859.4" stroke="#1c1c1c" stroke-width="1.1" />
<line x1="315.9" y1="851.1" x2="314.5" y2="849.0" stroke="#1c1c1c" stroke-width="1.1" />
<line x1="329.2" y1="845.8" x2="327.9" y2="843.8" stroke="#1c1c1c" stroke-width="1.1" />
<line x1="342.6" y1="840.6" x2="341.2" y2="838.6" stroke="#1c1c1c" stroke-width="1.1" />
<line x1="369.2" y1="830.2" x2="367.8" y2="828.2" stroke="#1c1c1c" stroke-width="1.1" />
<line x1="382.5" y1="825.0" x2="381.1" y2="822.9" stroke="#1c1c1c" stroke-width="1.1" />
<line x1="293.0" y1="535.5" x2="292.6" y2="540.0" stroke="#1c1c1c" stroke-width="1.3" />
<line x1="318.8" y1="555.3" x2="318.4" y2="559.8" stroke="#1c1c1c" stroke-width="1.3" />
<line x1="344.6" y1="575.1" x2="344.2" y2="579.6" stroke="#1c1c1c" stroke-width="1.3" />
<line x1="370.4" y1="594.9" x2="369.9" y2="599.4" stroke="#1c1c1c" stroke-width="1.3" />
<line x1="396.2" y1="614.6" x2="395.8" y2="619.1" stroke="#1c1c1c" stroke-width="1.3" />
<line x1="305.9" y1="545.4" x2="305.6" y2="547.9" stroke="#1c1c1c" stroke-width="1.1" />
<line x1="331.7" y1="565.2" x2="331.4" y2="567.7" stroke="#1c1c1c" stroke-width="1.1" />
<line x1="357.5" y1="585.0" x2="357.2" y2="587.5" stroke="#1c1c1c" stroke-width="1.1" />
<line x1="383.3" y1="604.8" x2="383.1" y2="607.3" stroke="#1c1c1c" stroke-width="1.1" />
<line x1="409.1" y1="624.5" x2="408.9" y2="627.0" stroke="#1c1c1c" stroke-width="1.1" />
<line x1="104.0" y1="778.7" x2="108.2" y2="777.0" stroke="#1c1c1c" stroke-width="1.3" />
<line x1="123.4" y1="804.2" x2="127.6" y2="802.6" stroke="#1c1c1c" stroke-width="1.3" />
<line x1="142.8" y1="829.7" x2="147.0" y2="828.1" stroke="#1c1c1c" stroke-width="1.3" />
<line x1="162.2" y1="855.2" x2="166.4" y2="853.6" stroke="#1c1c1c" stroke-width="1.3" />
<line x1="181.6" y1="880.7" x2="185.8" y2="879.1" stroke="#1c1c1c" stroke-width="1.3" />
<line x1="113.7" y1="791.4" x2="116.0" y2="790.5" stroke="#1c1c1c" stroke-width="1.1" />
<line x1="133.1" y1="816.9" x2="135.4" y2="816.0" stroke="#1c1c1c" stroke-width="1.1" />
<line x1="152.5" y1="842.4" x2="154.8" y2="841.5" stroke="#1c1c1c" stroke-width="1.1" />
<line x1="171.9" y1="867.9" x2="174.2" y2="867.0" stroke="#1c1c1c" stroke-width="1.1" />
<line x1="191.3" y1="893.5" x2="193.6" y2="892.6" stroke="#1c1c1c" stroke-width="1.1" />
<line x1="79.0" y1="581.3" x2="83.5" y2="580.2" stroke="#1c1c1c" stroke-width="1.3" />
<line x1="83.2" y1="629.9" x2="87.7" y2="628.8" stroke="#1c1c1c" stroke-width="1.3" />
<line x1="87.3" y1="677.4" x2="91.8" y2="676.3" stroke="#1c1c1c" stroke-width="1.3" />
<line x1="91.3" y1="724.1" x2="95.8" y2="723.0" stroke="#1c1c1c" stroke-width="1.3" />
<line x1="81.1" y1="605.6" x2="83.6" y2="605.0" stroke="#1c1c1c" stroke-width="1.1" />
<line x1="85.2" y1="653.6" x2="87.7" y2="653.0" stroke="#1c1c1c" stroke-width="1.1" />
<line x1="89.3" y1="700.8" x2="91.8" y2="700.1" stroke="#1c1c1c" stroke-width="1.1" />
<line x1="93.2" y1="745.5" x2="95.7" y2="744.8" stroke="#1c1c1c" stroke-width="1.1" />
<text transform="matrix(1.080 0.000 0.000 1.000 10.5 541.1)" font-family='"Liberation Sans", sans-serif' font-size="27.5" font-weight="bold" font-style="normal" text-anchor="start" fill="#000" stroke="#000" stroke-width="0.6" >(b)</text>
<text transform="matrix(1.160 -0.290 0.170 1.050 75.0 590.3)" font-family='"Liberation Sans", sans-serif' font-size="18" font-weight="bold" font-style="italic" text-anchor="end" fill="#000" stroke="#000" stroke-width="0.6" >4000</text>
<text transform="matrix(1.160 -0.290 0.170 1.050 79.5 639.3)" font-family='"Liberation Sans", sans-serif' font-size="18" font-weight="bold" font-style="italic" text-anchor="end" fill="#000" stroke="#000" stroke-width="0.6" >3000</text>
<text transform="matrix(1.160 -0.290 0.170 1.050 83.0 687.3)" font-family='"Liberation Sans", sans-serif' font-size="18" font-weight="bold" font-style="italic" text-anchor="end" fill="#000" stroke="#000" stroke-width="0.6" >2000</text>
<text transform="matrix(1.160 -0.290 0.170 1.050 87.5 733.3)" font-family='"Liberation Sans", sans-serif' font-size="18" font-weight="bold" font-style="italic" text-anchor="end" fill="#000" stroke="#000" stroke-width="0.6" >1000</text>
<text transform="matrix(1.160 -0.290 0.170 1.050 91.0 775.3)" font-family='"Liberation Sans", sans-serif' font-size="18" font-weight="bold" font-style="italic" text-anchor="end" fill="#000" stroke="#000" stroke-width="0.6" >0</text>
<text transform="matrix(1.120 0.000 0.000 1.000 2.0 695.8)" font-family='"Liberation Serif", serif' font-size="37" font-weight="bold" font-style="italic" text-anchor="start" fill="#000" stroke="#000" stroke-width="0.2" >ε</text>
<text transform="translate(20.8 705.5)" font-family='"Liberation Sans", sans-serif' font-size="24" font-weight="bold" font-style="normal" text-anchor="start" fill="#000" stroke="#000" stroke-width="0.3" >r</text>
<text transform="matrix(0.100 1.000 -1.150 0.520 126.0 533.3)" font-family='"Liberation Sans", sans-serif' font-size="19" font-weight="bold" font-style="italic" text-anchor="start" fill="#000" stroke="#000" stroke-width="0.6" >100</text>
<text transform="matrix(0.100 1.000 -1.150 0.520 181.5 518.3)" font-family='"Liberation Sans", sans-serif' font-size="19" font-weight="bold" font-style="italic" text-anchor="start" fill="#000" stroke="#000" stroke-width="0.6" >200</text>
<text transform="matrix(0.100 1.000 -1.150 0.520 235.5 504.3)" font-family='"Liberation Sans", sans-serif' font-size="19" font-weight="bold" font-style="italic" text-anchor="start" fill="#000" stroke="#000" stroke-width="0.6" >300</text>
<text transform="matrix(1.000 -0.245 0.170 0.980 141.0 512.3)" font-family='"Liberation Sans", sans-serif' font-size="22" font-weight="bold" font-style="italic" text-anchor="start" fill="#000" stroke="#000" stroke-width="0.6" >T (°C)</text>
<text transform="matrix(0.050 -1.210 0.950 0.550 298.5 533.8)" font-family='"Liberation Sans", sans-serif' font-size="15" font-weight="bold" font-style="italic" text-anchor="start" fill="#000" stroke="#000" stroke-width="0.6" >-200</text>
<text transform="matrix(0.050 -1.210 0.950 0.550 324.0 552.8)" font-family='"Liberation Sans", sans-serif' font-size="15" font-weight="bold" font-style="italic" text-anchor="start" fill="#000" stroke="#000" stroke-width="0.6" >-100</text>
<text transform="matrix(0.050 -1.210 0.950 0.550 348.0 573.8)" font-family='"Liberation Sans", sans-serif' font-size="15" font-weight="bold" font-style="italic" text-anchor="start" fill="#000" stroke="#000" stroke-width="0.6" >0</text>
<text transform="matrix(0.050 -1.210 0.950 0.550 375.5 591.8)" font-family='"Liberation Sans", sans-serif' font-size="15" font-weight="bold" font-style="italic" text-anchor="start" fill="#000" stroke="#000" stroke-width="0.6" >100</text>
<text transform="matrix(0.050 -1.210 0.950 0.550 405.0 615.3)" font-family='"Liberation Sans", sans-serif' font-size="15" font-weight="bold" font-style="italic" text-anchor="start" fill="#000" stroke="#000" stroke-width="0.6" >200</text>
<text transform="matrix(0.806 0.630 -0.080 1.100 321.7 503.8)" font-family='"Liberation Sans", sans-serif' font-size="18" font-weight="bold" font-style="normal" text-anchor="start" fill="#000" stroke="#000" stroke-width="0.6" >E (kV/cm)</text>
<text transform="matrix(1.063 -0.453 0.413 0.668 104.5 782.8)" font-family='"Liberation Sans", sans-serif' font-size="19" font-weight="bold" font-style="normal" text-anchor="end" fill="#000" stroke="#000" stroke-width="0.6" >-200</text>
<text transform="matrix(1.063 -0.453 0.413 0.668 123.0 807.8)" font-family='"Liberation Sans", sans-serif' font-size="19" font-weight="bold" font-style="normal" text-anchor="end" fill="#000" stroke="#000" stroke-width="0.6" >-100</text>
<text transform="matrix(1.063 -0.453 0.413 0.668 142.3 833.8)" font-family='"Liberation Sans", sans-serif' font-size="19" font-weight="bold" font-style="normal" text-anchor="end" fill="#000" stroke="#000" stroke-width="0.6" >0</text>
<text transform="matrix(1.063 -0.453 0.413 0.668 161.0 860.6)" font-family='"Liberation Sans", sans-serif' font-size="19" font-weight="bold" font-style="normal" text-anchor="end" fill="#000" stroke="#000" stroke-width="0.6" >100</text>
<text transform="matrix(1.063 -0.453 0.413 0.668 183.5 888.8)" font-family='"Liberation Sans", sans-serif' font-size="19" font-weight="bold" font-style="normal" text-anchor="end" fill="#000" stroke="#000" stroke-width="0.6" >200</text>
<text transform="matrix(0.593 0.858 -0.950 0.436 47.5 821.8)" font-family='"Liberation Sans", sans-serif' font-size="18.5" font-weight="bold" font-style="italic" text-anchor="start" fill="#000" stroke="#000" stroke-width="0.6" >E (kV/cm)</text>
<text transform="matrix(0.660 0.770 -0.850 0.390 193.0 902.8)" font-family='"Liberation Sans", sans-serif' font-size="19" font-weight="bold" font-style="normal" text-anchor="start" fill="#000" stroke="#000" stroke-width="0.6" >0</text>
<text transform="matrix(0.660 0.770 -0.850 0.390 248.0 880.3)" font-family='"Liberation Sans", sans-serif' font-size="19" font-weight="bold" font-style="normal" text-anchor="start" fill="#000" stroke="#000" stroke-width="0.6" >100</text>
<text transform="matrix(0.660 0.770 -0.850 0.390 301.2 860.3)" font-family='"Liberation Sans", sans-serif' font-size="19" font-weight="bold" font-style="normal" text-anchor="start" fill="#000" stroke="#000" stroke-width="0.6" >200</text>
<text transform="matrix(0.660 0.770 -0.850 0.390 353.7 838.6)" font-family='"Liberation Sans", sans-serif' font-size="19" font-weight="bold" font-style="normal" text-anchor="start" fill="#000" stroke="#000" stroke-width="0.6" >300</text>
<text transform="matrix(1.050 -0.470 0.610 0.730 305.5 909.8)" font-family='"Liberation Sans", sans-serif' font-size="20.3" font-weight="bold" font-style="normal" text-anchor="start" fill="#000" stroke="#000" stroke-width="0.6" >T (°C)</text>
<text transform="translate(135.9 631.2)" font-family='"Liberation Sans", sans-serif' font-size="17" font-weight="bold" fill="#6e6e6e">E<tspan font-size="10" dy="5.5">max</tspan><tspan dy="-5.5">= -60 kV/cm</tspan></text>
<text transform="translate(135.9 657.4)" font-family='"Liberation Sans", sans-serif' font-size="17" font-weight="bold" fill="#6e6e6e">T<tspan font-size="10" dy="5.5">max</tspan><tspan dy="-5.5">= 110°C</tspan></text>
<text transform="translate(135.9 683.6)" font-family='"Liberation Sans", sans-serif' font-size="17" font-weight="bold" fill="#6e6e6e"><tspan font-family='"Liberation Serif", serif' font-weight="normal" font-size="17">ε</tspan><tspan font-size="10" dy="5.5">r,max</tspan><tspan dy="-5.5">= 1810</tspan></text>
<linearGradient id="cb478" x1="0" y1="0" x2="0" y2="1"><stop offset="0.000" stop-color="#7a0000"/><stop offset="0.100" stop-color="#c00000"/><stop offset="0.200" stop-color="#f00000"/><stop offset="0.340" stop-color="#ff0000"/><stop offset="0.370" stop-color="#ff3000"/><stop offset="0.430" stop-color="#ff9000"/><stop offset="0.500" stop-color="#ffff00"/><stop offset="0.580" stop-color="#90ff00"/><stop offset="0.664" stop-color="#00ff00"/><stop offset="0.704" stop-color="#00ff90"/><stop offset="0.734" stop-color="#00ffff"/><stop offset="0.790" stop-color="#0090ff"/><stop offset="0.853" stop-color="#0800ff"/><stop offset="0.885" stop-color="#4800f4"/><stop offset="0.915" stop-color="#7808e8"/><stop offset="0.963" stop-color="#a000b4"/><stop offset="1.000" stop-color="#780078"/></linearGradient>
<rect x="430.2" y="654.0" width="41.7" height="150.3" fill="url(#cb478)"/>
<text transform="matrix(1.180 0.000 0.000 1.000 478.9 658.6)" font-family='"Liberation Sans", sans-serif' font-size="12.8" font-weight="bold" font-style="normal" text-anchor="start" fill="#000" stroke="#000" stroke-width="0.35" >5200</text>
<text transform="matrix(1.180 0.000 0.000 1.000 478.9 733.8)" font-family='"Liberation Sans", sans-serif' font-size="12.8" font-weight="bold" font-style="normal" text-anchor="start" fill="#000" stroke="#000" stroke-width="0.35" >2650</text>
<text transform="matrix(1.180 0.000 0.000 1.000 478.9 807.7)" font-family='"Liberation Sans", sans-serif' font-size="12.8" font-weight="bold" font-style="normal" text-anchor="start" fill="#000" stroke="#000" stroke-width="0.35" >100.0</text>
<text transform="matrix(1.220 0.000 0.000 1.000 442.2 635.0)" font-family='"Liberation Serif", serif' font-size="23.5" font-weight="normal" font-style="normal" text-anchor="start" fill="#000" stroke="#000" stroke-width="0.25" >ε</text>
<text transform="translate(454.6 643.3)" font-family='"Liberation Sans", sans-serif' font-size="14.5" font-weight="bold" font-style="normal" text-anchor="start" fill="#000" stroke="#000" stroke-width="0.2" >r</text>
</svg>
</body></html>
